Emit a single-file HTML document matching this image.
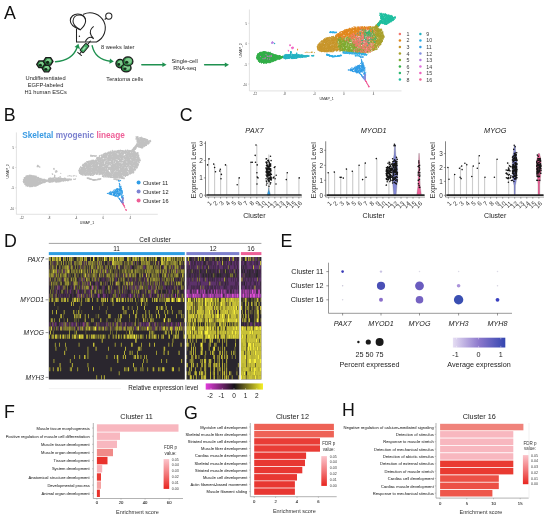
<!DOCTYPE html>
<html lang="en"><head><meta charset="utf-8"><title>Figure</title>
<style>html,body{margin:0;padding:0;background:#fff;overflow:hidden}svg{display:block}text{font-family:"Liberation Sans", Arial, sans-serif;}</style></head>
<body>
<svg width="550" height="519" viewBox="0 0 550 519">
<rect width="550" height="519" fill="#fff"/>
<text x="4.0" y="19.1" font-size="17.8" fill="#111">A</text>
<text x="3.8" y="120.8" font-size="17.8" fill="#111">B</text>
<text x="179.7" y="121.3" font-size="17.8" fill="#111">C</text>
<text x="4.1" y="247.4" font-size="17.8" fill="#111">D</text>
<text x="280.5" y="247.3" font-size="17.8" fill="#111">E</text>
<text x="4.1" y="418.2" font-size="17.8" fill="#111">F</text>
<text x="184.1" y="418.5" font-size="17.8" fill="#111">G</text>
<text x="342.0" y="416.3" font-size="17.8" fill="#111">H</text>
<g fill="none" stroke="#222" stroke-width="1.05" stroke-linecap="round" stroke-linejoin="round">
<path d="M83.5 14.2 A15 15 0 1 1 96.5 41.9 L76.5 42.1 L76.5 29"/>
<path d="M80.2 29.8 C74 27.5 70.2 24.5 70.3 20.5 C70.4 16.5 73.8 14 77.8 14 C82.5 14 85.7 17 85.6 21 C85.5 24.5 83.2 27.3 80.2 29.8 Z" fill="#fff"/>
<path d="M80.2 29.8 C76 27.5 72.9 24.8 73 21 C73.1 17.2 75.8 14.9 79.2 14.9 C83 14.9 85.6 17.5 85.6 21"/>
<path d="M93.4 26.7 C90.5 29 89.8 32.5 91 35 C91.8 36.8 93.2 37.5 93.4 38.6 C91.8 37.2 89.5 37 88 38.2 C86.8 39.2 86 40.2 85.5 41.2"/>
<circle cx="108.8" cy="16.1" r="3.1" fill="#fff"/><path d="M105 19.2 L106.5 18.2"/>
</g>
<circle cx="79.4" cy="36.2" r="0.7" fill="#222"/>
<g transform="translate(84.5 48.1) rotate(-50)" stroke="#1e1e1e" stroke-width="0.95" stroke-linecap="round">
<path d="M4.6 0 H9.2 M-4.6 0 H-7.6 M-7.6 -2.5 V2.5" fill="none"/>
<rect x="-4.6" y="-2.2" width="9.2" height="4.4" rx="0.7" fill="#43ad64"/>
<rect x="-2.4" y="-0.9" width="3.8" height="1.6" fill="#97dba9" stroke="none"/>
</g>
<g fill="none" stroke="#1f9150" stroke-width="1.4" stroke-linecap="round">
<path d="M55.5 61.7 C66 61 74 56 77.2 47.2"/>
<path d="M92.2 45.8 C94 54 100 60 110.5 61.2"/>
<path d="M141.8 64.7 H163.5"/>
<path d="M204.6 64.8 H226"/>
</g>
<g fill="#1f9150">
<path d="M78.4 43.8 L80.0 48.9 L74.6 47.1 Z"/>
<path d="M113.8 61.6 L109.4 63.8 L110.0 58.6 Z"/>
<path d="M166.6 64.7 L162.4 67.1 L162.4 62.3 Z"/>
<path d="M229 64.8 L224.8 67.2 L224.8 62.4 Z"/>
</g>
<path d="M45.3 64.3 L43.1 67.7 L38.9 67.7 L36.7 64.3 L38.9 60.9 L43.1 60.9 Z" fill="#318c48" stroke="#1a1a1a" stroke-width="1.3" stroke-linejoin="round"/>
<path d="M44.0 63.8 L42.7 65.7 L40.1 65.7 L38.8 63.8 L40.1 61.9 L42.7 61.9 Z" fill="#7fcc8e"/>
<ellipse cx="40.4" cy="65.2" rx="1.5" ry="1.4" fill="#122818"/>
<path d="M50.8 68.4 L48.6 71.8 L44.4 71.8 L42.2 68.4 L44.4 65.0 L48.6 65.0 Z" fill="#318c48" stroke="#1a1a1a" stroke-width="1.3" stroke-linejoin="round"/>
<path d="M49.5 67.9 L48.2 69.8 L45.6 69.8 L44.3 67.9 L45.6 66.0 L48.2 66.0 Z" fill="#7fcc8e"/>
<ellipse cx="45.9" cy="69.3" rx="1.5" ry="1.4" fill="#122818"/>
<path d="M53.0 61.4 L50.6 65.1 L45.8 65.1 L43.4 61.4 L45.8 57.7 L50.6 57.7 Z" fill="#318c48" stroke="#1a1a1a" stroke-width="1.3" stroke-linejoin="round"/>
<path d="M51.5 60.9 L50.0 63.1 L47.2 63.1 L45.7 60.9 L47.2 58.7 L50.0 58.7 Z" fill="#7fcc8e"/>
<ellipse cx="47.6" cy="62.3" rx="1.7" ry="1.6" fill="#122818"/>
<ellipse cx="120.0" cy="63.6" rx="4.1" ry="4.2" fill="#318c48" stroke="#1a1a1a" stroke-width="1.25"/>
<ellipse cx="120.6" cy="63.1" rx="2.7" ry="2.6" fill="#7fcc8e"/>
<ellipse cx="118.8" cy="64.4" rx="1.4" ry="1.4" fill="#16301d"/>
<ellipse cx="126.2" cy="68.0" rx="4.9" ry="3.9" fill="#318c48" stroke="#1a1a1a" stroke-width="1.25"/>
<ellipse cx="126.8" cy="67.5" rx="3.2" ry="2.4" fill="#7fcc8e"/>
<ellipse cx="125.0" cy="68.8" rx="1.6" ry="1.3" fill="#16301d"/>
<ellipse cx="127.9" cy="61.4" rx="5.0" ry="4.5" fill="#318c48" stroke="#1a1a1a" stroke-width="1.25"/>
<ellipse cx="128.5" cy="60.9" rx="3.3" ry="2.8" fill="#7fcc8e"/>
<ellipse cx="126.7" cy="62.199999999999996" rx="1.7" ry="1.5" fill="#16301d"/>
<text x="45.6" y="80.4" font-size="5.7" text-anchor="middle" fill="#262626">Undifferentiated</text>
<text x="45.6" y="87.4" font-size="5.7" text-anchor="middle" fill="#262626">EGFP-labeled</text>
<text x="45.6" y="94.4" font-size="5.7" text-anchor="middle" fill="#262626">H1 human ESCs</text>
<text x="117.7" y="49.0" font-size="5.7" text-anchor="middle" fill="#262626">8 weeks later</text>
<text x="124.7" y="80.6" font-size="5.7" text-anchor="middle" fill="#262626">Teratoma cells</text>
<text x="184.7" y="63.4" font-size="5.7" text-anchor="middle" fill="#262626">Single-cell</text>
<text x="184.7" y="70.0" font-size="5.7" text-anchor="middle" fill="#262626">RNA-seq</text>
<g stroke="#c4c4c4" stroke-width="0.5" fill="none">
<path d="M249.4 9.5 V90.9 H401.5"/>
<path d="M248.2 23.3 H249.4"/>
<path d="M248.2 43.6 H249.4"/>
<path d="M248.2 63.9 H249.4"/>
<path d="M248.2 84.2 H249.4"/>
<path d="M255.1 90.9 V92.1"/>
<path d="M284.7 90.9 V92.1"/>
<path d="M314.3 90.9 V92.1"/>
<path d="M343.9 90.9 V92.1"/>
<path d="M373.5 90.9 V92.1"/>
</g>
<text x="247.2" y="24.9" font-size="2.9" text-anchor="end" fill="#4a4a4a">5</text>
<text x="247.2" y="45.2" font-size="2.9" text-anchor="end" fill="#4a4a4a">0</text>
<text x="247.2" y="65.5" font-size="2.9" text-anchor="end" fill="#4a4a4a">-5</text>
<text x="247.2" y="85.8" font-size="2.9" text-anchor="end" fill="#4a4a4a">-10</text>
<text x="255.1" y="95.4" font-size="2.9" text-anchor="middle" fill="#4a4a4a">-12</text>
<text x="284.7" y="95.4" font-size="2.9" text-anchor="middle" fill="#4a4a4a">-8</text>
<text x="314.3" y="95.4" font-size="2.9" text-anchor="middle" fill="#4a4a4a">-4</text>
<text x="343.9" y="95.4" font-size="2.9" text-anchor="middle" fill="#4a4a4a">0</text>
<text x="373.5" y="95.4" font-size="2.9" text-anchor="middle" fill="#4a4a4a">4</text>
<text x="326.6" y="100.2" font-size="3.6" text-anchor="middle" fill="#2a2a2a">UMAP_1</text>
<text x="0.0" y="0.0" font-size="3.6" text-anchor="middle" fill="#2a2a2a" transform="translate(242.4 50.4) rotate(-90)">UMAP_2</text>
<path d="M265.2 61.7h0M278.1 57h0M264.8 55.3h0M263.7 57.1h0M269.3 58.1h0M262.8 54.1h0M257.6 57.1h0M269.4 62h0M273.1 57.4h0M270.4 54.9h0M264.1 61.4h0M271.2 61h0M273.9 59.7h0M259.5 58h0M270.6 61.7h0M266.4 58.6h0M257.7 56.4h0M265.6 53.3h0M278.7 56.1h0M273.5 59.1h0M268.6 54.3h0M267.1 52.6h0M274.8 55.1h0M260.2 61.6h0M262 62.4h0M271.8 53.8h0M272 56.1h0M267.2 54.8h0M268.9 58.2h0M265.3 60.6h0M257.3 55.7h0M268.5 57.7h0M272.6 59.5h0M266.5 57.9h0M268 60.5h0M256.9 58.9h0M278.6 57.7h0M262 56.2h0M261.4 55.7h0M265.9 54.4h0M282.7 56.9h0M283.1 57.3h0M270.8 62.4h0M276.6 58h0M268.3 61.2h0M267.1 62.1h0M258.3 56.5h0M263.3 61h0M274.9 59.7h0M265.5 56.4h0M262.4 52.6h0M262.6 61.2h0M272.7 57.1h0M272.8 58.7h0M265.4 62.8h0M269.1 58.9h0M258.2 56.2h0M280.6 57.5h0M263 54.4h0M261.7 57.9h0M258.1 58.1h0M261.6 59.7h0M281.8 57.9h0M279 59.2h0M265.4 55.4h0M260.3 58.4h0M260.3 60.5h0M272.1 58.9h0M274.4 59.2h0M265.7 59.7h0M267.4 54.2h0M269.2 59.3h0M259.7 56.2h0M260.6 59.3h0M279.4 56.1h0M267.3 57.7h0M262.8 54.7h0M265.6 56.8h0M259 59.9h0M271.9 55.4h0M258.3 60.9h0M260.1 53.3h0M260.2 52.8h0M264.8 61.1h0M268.4 62.1h0M267.1 60.2h0M259.4 60h0M274.4 56.1h0M258.6 57.5h0M264.1 58.2h0M260.1 54.1h0M278.4 58.5h0M277.5 56.1h0M276.3 56.5h0M266.7 56.2h0M271.3 56.2h0M271.8 60.2h0M267 61.3h0M260.4 60.4h0M260.3 53h0M272.2 56.9h0M265.5 55h0M276.2 57.2h0M263.2 55.6h0M262.7 52.8h0M257.7 57.2h0M260.5 53.8h0M279.7 57.1h0M261.3 59.5h0M264.3 57.7h0M264.6 57.3h0M273.7 58.5h0M266.9 61.1h0M260.7 52.4h0M262.4 62.5h0M262.5 57.4h0M270.1 62.4h0M257.8 55.4h0M262.9 57.4h0M274.9 60.6h0M264.7 53.4h0M265.7 62.5h0M260.2 57.7h0M271.8 60.6h0M264.5 60.6h0M275.8 58.9h0M283 56.6h0M267.5 59.3h0M271.3 60.5h0M258.4 60.3h0M269.4 56.4h0M276.2 57.6h0M272 58.3h0M269.1 58.8h0M272.2 54h0M262 61h0M261.8 57h0M276.8 59.4h0M272.1 61.3h0M269.2 59.2h0M274.4 56h0M272.6 56h0M276.7 55.7h0M269.3 59.9h0M270.3 55.9h0M279.1 56h0M269.2 59.6h0M257.8 56.1h0M280 58.3h0M271.8 59.3h0M274.7 58.2h0M268.1 53.8h0M264.2 54.8h0M266 56.8h0M266.7 58.4h0M266.6 54.8h0M280.2 56.5h0M270 53.5h0M267.7 60.8h0M279.2 56.7h0M277.5 56.8h0M266.4 57.5h0M262.2 55.4h0M258.4 60.6h0M278.8 56.9h0M258.3 59.5h0M263.2 58.8h0M267.4 58.4h0M263.7 57.3h0M270.9 58.6h0M262.1 62.5h0M264.1 55.2h0M263.4 52.3h0M268.3 60.2h0M260.4 55.2h0M277.5 57.3h0M273.5 60.2h0M276.7 55.4h0M263.6 56.9h0M270.2 53.2h0M268.6 58.5h0M259.6 53h0M261.1 54.5h0M261 53.7h0M268.8 53.1h0M264.6 60.8h0M261.5 58.9h0M267.4 56.9h0M274.1 58.1h0M259.7 55.1h0M273.6 58.8h0M274.8 58.3h0M265.9 57.8h0M275.5 57.2h0M265.6 52.6h0M260.4 53.7h0M264.7 56.7h0M279.5 55.9h0M263.1 52.9h0M262.5 54.3h0M272.1 61.8h0M259.2 54.8h0M277.1 59h0M265.1 59h0M268.7 61.8h0M264.3 60.4h0M273.3 59.9h0M267 59.8h0M275.4 56.3h0M269.3 61.9h0M268 55.1h0M265 52.1h0M262.1 55h0M261 52.2h0M269.4 54h0M264.1 57.9h0M260.1 62.1h0M269.5 60.2h0M258.6 58.5h0M256.5 58h0M266.1 60.9h0M258.4 55.2h0M278.6 56.6h0M265.3 52.3h0M267.4 53.7h0M258.5 58.3h0M274.3 55.3h0M271.8 60h0M272.8 61.1h0M271.3 53.5h0M272.7 56.8h0M261.1 58.5h0M270.8 60.1h0M267.4 55.2h0M267.4 57.8h0M275.5 58.4h0M259.3 60.7h0M263.8 53.6h0M257.8 55.4h0M261.8 56.9h0M261.4 57.6h0M270.7 59.8h0M268.5 52.8h0M266 63.2h0M269.6 59.3h0M270 53.8h0M259.7 54.7h0M258.5 54.4h0M259.7 56.5h0M266.5 58.4h0M264 52.2h0M265.4 59.7h0M263.8 56.1h0M276.7 55.9h0M265.1 59.8h0M263.6 53.2h0M268.8 58.4h0M275.7 56.5h0M258.8 55.7h0M259.3 57.8h0M268.7 58.2h0M276.7 59.2h0M278.6 55.9h0M268.8 62.7h0M282.6 56.3h0M266.7 60.4h0M269.7 56.9h0M266.8 56.7h0M277.3 57.9h0M262.4 54.5h0M264.2 55.4h0M277.2 55.8h0M265.2 58.6h0M261.4 52.7h0M275.3 60.6h0M264.2 58.9h0M257.3 56.7h0M272.3 54.5h0M266.3 58.7h0M263.3 54.4h0M270.9 59.1h0M276 55.7h0M257.6 57.6h0M258.9 54h0M265.8 52.5h0M268.2 53.7h0M263.4 63h0M259 55.4h0M261.2 61.7h0M265.6 55.1h0M259.3 60.8h0M274.8 57.4h0M263.6 58.6h0M273.9 57.5h0M278.1 56.5h0M263.2 61.7h0M267.3 55h0M268.7 53.9h0M275.8 57.5h0M265.2 54.6h0M281.8 57.6h0M258.4 57.9h0M270 57h0M260.2 53.4h0M267.8 61.4h0M274 59.7h0M272.4 54h0M268.1 59.6h0M258.4 54.3h0M257 57.9h0M266.5 57.7h0M264.6 59.2h0M261.4 62.6h0M282.6 57.2h0M269.7 61.3h0M264.3 60.4h0M264.7 60h0M265.8 58.6h0M278.4 57.6h0M266.6 55.8h0M258.5 55.1h0M273.2 57.5h0M261.7 58h0M264.1 53.4h0M260.5 60.8h0M260.5 53.2h0M272.3 56h0M268.3 54h0M274.4 55.3h0M267.5 56.8h0M275.9 54.8h0M280.8 56.8h0M270.1 61.8h0M257.2 55.4h0M261.1 54.1h0M258.4 56.9h0M273 55.2h0M259.7 60.8h0M277.8 58.2h0M260.4 57.7h0M273.5 56.7h0M279.8 56.2h0M270.4 52.3h0M271.8 60.3h0M267.8 56.5h0M273.8 60h0M270.9 61.7h0M268.8 56.8h0M264.6 62.1h0M264.9 59.6h0M267.8 62.4h0M258.8 57.1h0M257.9 57.9h0M261.6 55.3h0M264.8 58.2h0M265.9 58.6h0M265.1 60.8h0M264.3 62.2h0M276.9 57h0M260.3 57.4h0M264.8 58.5h0M258.2 59.1h0M284.1 56.6h0M280.3 58h0M263.8 55.2h0M272.6 59.1h0M262.1 55.9h0M278.8 58h0M270.5 60.5h0M274.3 55.1h0M258.6 57.2h0M281 58.6h0M257.6 57.1h0M266.9 57.4h0M265.7 56.5h0M275.8 57.4h0M278.9 57.3h0M259.5 60.8h0M264.7 61.6h0M272.8 57.3h0M259.1 60.1h0M259.5 61.7h0M269.7 53h0M269.4 54.5h0M267.3 59.2h0M260.9 57.2h0M259.1 57.4h0M281.6 56.6h0M263.8 58.4h0M265.1 62.5h0M259 53.8h0M258.8 59.7h0M264.4 62h0M263.9 51.6h0M267.1 62.2h0M266.3 53.2h0M272 57.8h0M266.3 55.1h0M280.7 58.1h0M274.4 60.3h0M270 60.6h0M274 58.9h0M257.5 54.4h0M267.4 57.9h0M276.5 55.5h0M258.8 60.2h0M268.9 57.9h0M275.3 56.2h0M276.6 56.4h0M267.6 55.3h0M269.9 54.8h0M264.3 53.5h0M269.1 55.4h0M265.8 58.9h0M272.1 56.8h0M265.5 59.9h0M263.3 57.3h0M258.4 60.9h0M265 59.1h0M258.8 59.2h0M272.4 58.8h0M268.8 53.8h0M276 57.1h0M276.3 55.9h0M258.8 57.6h0M275.7 55.8h0M265.1 57.1h0M271 60.4h0M273.3 59.4h0M266.9 59.7h0M265.8 57.9h0M269.4 57.8h0M257.1 57h0M262.2 55.9h0M258.8 59.4h0M259.3 58.9h0M259.9 61.9h0M260 56h0M269.8 53h0M265.3 54.9h0M266.2 61.2h0M260.3 58.5h0M268.4 55.3h0M259.6 55.6h0M266.6 58.4h0M275.5 57.4h0M274.6 59h0M269 54.2h0M267.1 60.1h0M261.6 53.4h0M269 54.8h0M276.6 59.4h0M275.1 57.8h0M265.2 55.6h0M261 57.1h0M266.6 56.6h0M262.3 57.3h0M258.9 56.1h0M270 60.8h0M268.1 55.7h0M270.3 53.6h0M265.2 55.7h0M263.2 62h0M268.6 54h0M259.5 52.7h0M266 56.7h0M281.8 57.7h0M260.4 57.9h0M261.9 53.4h0M273.9 56.9h0M263.4 60.4h0M269.9 58h0M268.6 59.1h0M258.8 57.4h0M263.1 52.7h0M261.8 54.7h0M265 55.8h0M268.5 55.3h0M267.7 60.8h0M258.8 54.6h0M269.6 59.4h0M274.3 60.2h0M259.1 53.3h0M265.3 54.9h0M264.8 60.9h0M266.5 55.4h0M266.1 53.6h0M279.9 59.2h0M266.1 60.9h0M267.4 58.9h0M275.2 56.5h0M261.4 62.9h0M269.5 59.7h0M262.6 53.1h0M262.1 54.1h0M267.5 55.2h0M266.5 60.7h0M279 57.8h0M268.6 54.4h0M271 54h0M265.4 51.9h0M269.8 61.4h0M269.2 55.1h0M269.6 55.2h0M260.4 54h0M266.8 57h0M274.8 54.9h0M258.8 55h0M265.3 60.2h0M274 58.3h0M262.9 61.6h0M277.1 57.8h0M260.6 54.1h0M266.3 55.4h0M258 56h0M268.9 54.7h0M266.9 55.4h0M266.6 59.2h0M269.9 54h0M277.8 57.4h0M268.9 59.7h0M263.4 53.1h0M274.9 60.2h0M263.8 56.8h0M262 58.3h0M266.1 59.4h0M270.8 59.5h0M263.3 59.8h0M276.2 59.7h0M272.4 54.9h0M267.7 57.6h0M271 54.3h0M263.8 55.4h0M278 56.3h0M257.3 56.8h0M271.9 55.6h0M267.5 56.1h0M261.2 59.7h0M262.4 57.1h0M275.5 56.2h0M268.9 61.6h0M264 62.8h0M262.7 52.5h0M268 59h0M260.4 61.5h0M262.2 60.5h0M260.9 62.2h0M261.7 59.9h0M258.9 58.2h0M269.9 57h0M277.7 56.8h0M270.3 57.2h0M268.9 56.7h0M261 55.1h0M263.8 54.5h0M262.3 57.5h0M265.4 54.9h0M267 57.3h0M279.2 56.5h0M268.9 56.7h0M263 62.5h0M258.9 53.8h0M274.8 58.7h0M263.8 62.5h0M267.5 58.2h0M258.8 55.7h0M263 51.9h0M265.5 53.7h0M256.9 57.3h0M274.8 55.4h0M265.6 61.4h0M265.9 61.9h0M272.1 55.7h0M261.6 52.4h0M266.5 63h0M262.9 56.2h0M265 61h0M272.1 58.3h0M275.7 55.5h0M267.4 54.4h0M264.3 53.6h0M266.3 59.7h0M269.7 54.9h0M266.3 62.8h0M266.5 58.9h0M263.8 57.5h0M262 52.3h0M268.6 59.6h0M264.2 61.1h0M265.8 56.9h0M269.2 62.2h0M267.2 60.4h0M274.2 55.2h0M271.1 58.4h0M271.3 53.4h0M278.5 57h0M265.9 56.7h0M262.9 55.2h0M259.2 60.3h0M268.2 58h0M264.5 55.4h0M277 57h0M272.2 56.6h0M263.5 56.9h0M282.5 57.3h0M263.5 60.2h0M279.1 59.3h0M271.2 60.6h0M273 56h0M272.3 58.3h0M258.5 60.4h0M268.7 60.5h0M264.7 56.6h0M264.5 57.5h0M264.8 58.2h0M277 58.5h0M267 60.7h0M281.2 57.6h0M260.5 60.4h0M265.1 58.7h0M270.6 53.1h0M260.4 54.3h0M280.4 57h0M266.9 57h0M261.5 56.7h0M262.6 53.8h0M266.5 52.3h0M269.3 59.9h0M281 56.8h0M272.7 57.5h0M263 53.9h0M263.5 62.8h0M271.7 60.1h0M277.5 56.4h0M262.6 61.7h0M263.3 57.1h0M271.9 57.6h0M275.4 58.4h0M265.7 52.7h0M261.8 60.6h0M273.3 61.2h0M267.1 62.8h0M272.4 57.6h0M278.8 58.3h0M273 55.5h0M269.5 54.8h0M265.1 58.1h0M262.5 53.7h0M267.8 60.3h0M266.4 54h0M261.3 55.8h0M277.7 59.1h0M276.3 59.3h0M265.5 61.2h0M261.9 56.7h0M259.2 58.9h0M259.3 53.7h0M277.2 57.2h0M274.3 59.9h0M273.1 54.3h0M264.2 56.6h0M259.5 53.1h0M273.7 60h0M266.5 55.8h0M261.9 57.7h0M273.7 54.7h0M259.3 57.2h0M276.4 59.9h0M259.9 57.6h0M275.2 55.3h0M273.5 57.7h0M279.3 58.2h0M272.5 57.5h0M276.7 55.5h0M269.8 57.3h0M261 61.6h0M268.4 53h0M269.6 61.7h0M270.2 58.9h0M266.6 53h0M273.2 57.2h0M266.1 54.1h0M275.4 55.5h0M272.2 54.3h0M277.3 55.6h0M269.7 62.7h0M275.4 60.1h0M265.9 61.3h0M278.9 57.8h0M260 54.5h0M272.3 60.2h0M265.7 62.9h0M277 57.2h0M266.4 52.8h0M258.6 58h0M266.6 62.8h0M264.2 62.2h0M271.2 57.7h0M266.7 61.9h0M261.5 54h0M272.2 54.7h0M263.5 53h0M265.7 60.4h0M257.5 56.9h0M264.7 61.2h0M260.9 60.6h0M268.7 53.7h0M269.1 62.6h0M280.5 56.1h0M283.4 57.6h0M263.1 57.9h0M275 57.1h0M266.5 54.7h0M264.5 52.4h0M263.5 62.7h0M277.5 56h0M272.9 54.1h0M274.8 60.3h0M276.4 57.3h0M271.9 59.3h0M264 62h0M263.8 63.3h0M259.4 58h0M259.6 53.9h0M267.1 54.1h0M265.3 61.8h0M274.9 59.7h0M275.3 60.2h0M278 58.5h0M263.9 51.8h0M277 55.3h0M269.7 52.9h0M277.3 57.8h0M263.1 62.5h0M274.8 55.2h0M279.8 55.9h0M268.1 58.9h0M258.4 54.1h0M258.8 60.1h0M262.6 57.4h0M265 54.7h0M281.9 57.4h0M273.7 59.8h0M258.7 57.4h0M267.7 52.9h0M277.2 57.5h0M279.1 57.4h0M264.7 59h0M260.7 58.6h0M275.7 55.6h0M279 58.7h0M257.7 54.1h0M267.1 55h0M261.5 61.8h0M263.7 62.6h0M276.9 57h0M260.6 54.9h0M258.6 59.8h0M266.8 60h0M264.6 53.2h0M274.8 60h0M262 55.6h0M267.9 60.6h0M263.9 59.7h0M267.3 57.2h0M268.9 54.5h0M260.7 54.4h0M269.1 54h0M267.9 54.8h0M279.3 55.5h0M264.3 54.2h0M266.7 62.1h0M267.4 56.9h0M272.2 54.7h0M263.8 54.8h0M263.9 57.5h0M259.2 60.4h0M261.3 56.6h0M267.9 58h0M279.6 58.3h0M269 60h0M262.3 61.6h0M272.1 59.3h0M279.8 56.1h0M278.6 56.1h0M270.8 53.8h0M260.7 60.3h0M281.1 57.3h0M264 52.2h0M277.6 56.4h0M270.4 53.9h0M272.8 56.6h0M272.9 56.7h0M265.9 57.4h0M262.5 56.8h0M267.2 54.7h0M273.9 60.6h0M273 59.5h0M272.7 54.8h0M266.7 61h0M279.9 58.8h0M278.6 58.4h0M268.8 59.5h0M262.4 59.6h0M263.4 59.6h0M278.6 56.7h0M259.7 60.2h0M273.5 56.5h0M274.6 60.1h0M270.6 54.7h0M258.7 54.5h0M271.3 58.7h0M269 53.1h0M273.6 54.6h0M268 54.3h0M279.8 58.9h0M274.1 55.6h0M261.4 60.9h0M261.7 58.9h0M264.3 57.4h0M269.2 57.9h0M268.1 60.7h0M269.7 52.9h0M263.6 59.2h0M267 56.1h0M267.8 53.7h0M275 55.5h0M268.8 62.2h0M273.1 60.7h0M258.2 56.5h0M282.6 56.6h0M268 57.6h0M263.2 54.5h0M270.9 56.9h0M272.9 60.7h0M269.3 58.7h0M265.5 62.3h0M269.7 54.3h0M265.6 56.8h0M268.5 58.2h0M263.9 62.8h0M269.8 59.5h0M265.6 55.8h0M270.4 62.6h0M265.8 52.2h0M265.2 52.9h0M273.1 61.4h0M267.5 54.8h0M269.2 53.2h0M261.7 57.6h0M266 58.1h0M260 57.6h0M259.8 55.3h0M264.6 59.6h0M274.1 59.5h0M275.7 59.9h0M274.7 57.6h0M262.5 59.9h0M261.7 57.7h0M263.9 56.8h0M269.2 54.9h0M278.3 59h0M268.7 62.1h0M271.6 59.6h0M269.5 58.7h0M258.2 60.5h0M266 56.9h0M281.6 56.5h0M278.6 56.5h0M265.2 55.4h0M262.4 56.3h0M261.2 60.9h0M275.2 55.2h0M261.6 54.7h0M279.7 58.5h0M263 53.8h0M273.8 59.3h0M265.6 55.2h0M269.6 62.1h0M271.1 61.3h0M273.9 58.5h0M269.9 58.9h0M270.5 60.2h0M261.2 55.3h0M280 56.2h0M277.2 59.4h0M264.3 61.3h0M258.7 54.3h0M273.8 60.8h0M273.7 56.4h0M268.4 61.4h0M260.7 58.1h0M270.5 56.5h0M267.3 55.1h0M264.1 54.3h0M259.8 58.5h0M268.9 59.9h0M266.3 62.2h0M266.8 59.2h0M278.4 56.1h0M268.3 59.1h0M259.6 57.8h0M259.6 54.1h0M260.5 57.7h0M268.4 56h0M272 58.8h0M272.7 59.2h0M259.5 56.4h0M262.1 56.1h0M258.9 56.7h0M263 62h0M265.6 56.2h0M278.1 57.7h0M257.9 54.1h0M273 53.9h0M262.9 59.2h0M269.7 54.6h0M271.9 58.5h0M257.9 55.1h0M264.9 61.4h0M257.9 55.1h0M262.3 59.6h0M262.3 61.9h0M264.7 61.1h0M258.3 56.7h0M269.8 62.1h0M279.3 58.6h0M258 56.5h0M274.8 56.6h0M266 60.7h0M259.3 60.9h0M274.5 57h0M276.4 56.1h0M260.6 56.9h0M268.3 61h0M261.8 57.4h0M272.5 58.2h0M272.7 56.6h0M266 54.1h0M258.6 55.8h0M277.2 58.2h0M261.2 60.8h0M274.1 58.2h0M267.9 60.9h0M270.8 55.1h0M267.8 57.6h0M276.9 57.9h0M274.9 60.4h0M283.9 56.8h0M262.6 55.6h0M266.2 61.8h0M276.2 57.5h0M256.8 57.5h0M260 58.1h0M262.4 59.4h0M273.6 55.2h0M262.1 62.2h0M257.7 54.2h0M265.1 58.3h0M266.5 52.2h0M272.3 60h0M275.7 57.4h0M264.6 51.8h0M271.3 59.2h0M262.2 60.9h0M281.3 56.7h0M272.9 58.2h0M257.9 58.2h0M262.6 56.5h0M266.9 62.6h0M273.8 60.7h0M261.6 54.8h0M282.4 56.2h0M266.7 57.6h0M269.3 57.5h0M268.1 59.6h0M264.1 53.9h0M267.9 52.2h0M269.3 57.4h0M267.8 60.7h0M266.2 61.1h0M267.2 60.9h0M271.2 59.2h0M271.7 61.1h0M263.6 58.6h0M267.9 54.5h0M271.2 55.9h0M259.8 59.7h0M259.6 62.4h0M269.9 59h0M264.6 52.5h0M270.2 56.9h0M281.2 58h0M266.3 59.8h0M262.8 60.1h0M269.8 54.1h0M265.3 52.1h0M261.4 62.9h0M266.7 59.7h0M276.1 57h0M275.8 57.3h0M271.6 55.6h0M263.1 54.6h0M259.3 58.8h0M266.5 58.5h0M264.5 63.1h0M277.8 57.2h0M262.5 62.2h0M270.7 53.6h0M272.3 59.6h0M256.7 56.2h0M274.2 56.6h0M266.3 61.9h0M273.7 58.7h0M267.9 59.1h0M263.8 54.6h0M267.2 60.6h0M265.9 55.6h0M263.4 62.1h0M264.2 55.8h0M262.3 60.3h0M262 54.7h0M260.1 56.6h0M269.9 58.8h0M259.7 54.7h0M261.7 62.3h0M266.7 52.7h0M278.5 58.9h0M266.8 56h0M265.1 60.6h0M278.5 57.6h0M275.7 55.1h0M263.3 53.9h0M278.8 57h0M261.3 60.7h0M272 56.3h0M272 58.5h0M266 54h0M263.1 59.7h0M282.7 57.3h0M274.4 60.6h0M274.4 59.4h0M261 53.4h0M270.6 58h0M279.7 57.6h0M273.8 56.8h0M268.7 55.6h0M261 57.3h0M263.6 62.1h0M279.9 56.4h0M277.6 58.5h0M269.6 61h0M257.1 57.3h0M264.9 56.4h0M269.8 57.4h0M266 55.2h0M267.6 59.6h0M276.6 56.5h0M263.2 57.3h0M264.7 60.9h0M273.2 55.2h0M278.5 58.5h0M260.3 56.3h0M265 56.8h0M282.8 57h0M266.9 53.8h0M280.4 57.6h0M263 52.1h0M268.4 52.4h0M269.8 60.7h0M264.4 53.2h0M266.8 53.7h0M276.5 55.5h0M260 60.4h0M274.5 55.3h0M261.4 60.6h0M260.3 55.6h0M273.7 55.7h0M257.4 58.1h0M261.5 60.3h0M262.3 60h0M265.7 59.5h0M280.1 56.7h0M259.5 60.1h0M270.6 58.9h0M276.9 58.1h0M266.3 60.9h0M266.7 61.9h0M284 57.3h0M267.1 60.3h0M269.7 60.3h0M271.1 57.6h0M270.8 57.4h0M271.1 59.7h0M261.4 53.3h0M274.1 57.5h0M277.4 56.8h0M263.4 62h0M268.5 57h0M275.5 59.4h0M275.3 59h0M270.6 60.2h0M267.3 54.7h0M267.2 59.7h0M266.2 60.7h0M275.3 55.7h0M261.5 55.6h0M269.4 61.7h0M271.6 58.6h0M266.2 61.1h0M271.5 58.9h0M263.6 60.6h0M262.7 53.4h0M272.7 61.2h0M265.3 55.4h0M261 58.5h0M271.3 58.5h0M259.6 58.1h0M264.3 54.2h0M266.4 58.8h0M267.9 61.9h0M268.5 60.3h0M262.5 53.7h0M265.4 54.1h0M263.5 57.5h0M260.9 56.5h0M257.3 59.3h0M272.6 54.8h0M259.8 55.7h0M257.5 56.1h0M267.1 57.9h0M265 54.6h0M265.6 57.1h0M263.8 59.8h0M259.5 55.3h0M268 54.9h0M268.1 57.4h0M263.5 53.3h0M263.7 52.6h0M280.4 58.5h0M275.5 59.3h0M263.5 52.4h0M260.2 56.8h0M267 53.7h0M258.3 59.4h0M264.6 55h0M271.8 58.5h0M267.9 61.5h0M267.4 55.2h0M261.8 57.4h0M273.4 55h0M271.7 59.6h0M266.8 55h0M264.5 53.9h0M271.9 56.3h0M271.8 60.6h0M269.8 53.9h0M259.7 58.9h0M273.1 54.6h0M258.9 60.8h0M264.9 56.8h0M260.5 55h0M260.1 54.6h0M272.1 55.4h0M266.2 57.7h0M273.4 56h0M268.4 58.8h0M269.3 55.1h0M268.1 56.2h0M264.7 58.4h0M270.2 56.4h0M273.4 55.7h0M278.7 56.5h0M267.3 61.6h0M270.2 60.7h0M259.5 58.1h0M260 55.1h0M266 55h0M268.3 61.5h0M270.2 58.3h0M274.1 59h0M268.5 53h0M264.8 54.2h0M265.5 57h0M264.8 55.6h0M269.9 59.9h0M267.7 62.3h0M267.2 61.6h0M266.5 55.6h0M269.1 60.4h0M269.3 56h0M275.9 54.8h0M275.9 56.1h0M269.9 53.7h0M261.9 61.4h0M272 56.4h0M257.4 58.9h0M264.2 55h0M269.8 58.7h0M268.9 60.5h0M262.6 58.2h0M267.9 55.2h0M270 59.8h0M261.1 61.9h0M263.3 59.5h0M262.1 58.5h0M268.1 52.6h0M261.9 57.8h0M267.4 60.7h0M269.4 62.3h0M277.1 56.8h0M266.5 54.4h0M264.2 55.3h0M266.4 54h0M269.1 52.9h0M279.9 57.6h0M258.8 55.5h0M263.4 53.3h0M268.9 54.3h0M260.4 59.7h0M267.9 59.5h0M268.9 57.5h0M265 56.8h0M269.3 55.4h0M262.5 56.2h0M271.5 55.9h0M263 59.4h0M276 56.2h0M260.6 58.7h0M262.1 55.8h0M260.1 52.4h0M257.6 59h0M257.6 58.1h0M260 59.5h0M265.7 59.3h0M263.6 52.5h0M261.2 55h0M261.4 54.3h0M271.3 56.9h0M279.2 57.9h0M271.6 59.8h0M279.8 58.4h0M257.7 56.8h0M257.7 58.4h0M258.1 58h0M260.5 61.4h0M258.6 59.4h0M272.7 55.4h0M263.8 54.7h0M258.3 54.5h0M258.8 61.1h0M271.5 56.9h0M272.4 60.7h0M273.8 57.5h0M264.8 58h0M269.8 61.6h0M257.2 58.3h0M261.1 58.6h0M271.5 55.7h0M265.7 56.3h0M263.8 56h0M261 55.1h0M261.7 62h0M263.3 52.9h0M274.3 59.7h0M280.9 56.9h0M265.3 55.1h0M262.2 58.2h0M267.1 56.1h0M258.1 58.9h0M264.1 62h0M276.4 59.4h0M261.9 55h0M270.9 53.9h0M277.6 58h0M259.6 55.5h0M266.4 53.4h0M264.7 54h0M260.5 55.8h0M263.4 58.1h0M261.4 58.4h0M271.2 53.5h0M266.2 55.3h0M271.2 58h0M265.3 62.1h0M265.9 55.5h0M275.3 57.2h0M260.7 59.9h0M267.1 61h0M263.1 54.7h0M259.7 54.3h0M271.8 61.8h0M273.2 59.9h0M280 58.2h0M262.4 53.4h0M265.7 53.3h0M277.1 57.9h0M272.2 56.6h0M260 57.1h0M281.4 57.8h0M269.3 58.9h0M271.1 58.8h0M262.2 53.3h0M272.7 57.5h0M260 53.6h0M270 55.2h0M269.2 59.6h0M265.2 59.1h0M257 57.8h0M263 55.1h0M268.7 57.5h0M278.9 57.2h0M258.2 59.5h0M262.8 61.7h0M262.3 55h0M260.1 54.8h0M272.2 54.8h0M258.3 58.1h0M268.2 52.4h0M257.1 55.7h0M264.3 61.6h0M275.8 56.5h0M270.1 53.8h0M263.6 52.3h0M260.4 60.1h0M268.9 57.2h0M264.4 53.4h0M265.3 60.8h0M264.5 62.4h0M261.4 57.9h0M271 57.1h0M271.9 61h0M257.5 57.4h0M268.3 56.4h0M271.3 58.7h0M274.1 54.8h0M260.8 52.5h0M263.7 53.2h0M275.1 59.2h0M273.2 55.7h0M269.4 54.8h0M265 58.3h0M261.9 60.8h0M269.6 56.4h0M257.8 54.8h0M272.2 54.9h0M257.1 57.8h0M264.7 61.4h0M275.4 60h0M265.8 58.4h0M263.8 53.7h0M262.1 53.9h0M263.7 54.5h0M258.1 56.8h0M261.9 60.1h0M262.5 58h0M262 56.6h0M271 56.2h0M275 56.4h0M269.6 58h0M266.2 57.1h0M271 59.5h0M268.1 55.3h0M266.7 56h0M258.6 54h0M264.7 61.5h0M258.9 61.3h0M269.1 62.1h0M270 54h0M268.5 52.4h0M267 56.2h0M282.8 57.7h0M262.1 62.5h0M269.8 56.6h0M266.8 61.7h0M259.8 54h0M264 51.9h0M279.4 57.8h0M270.5 54.8h0M271 57.5h0M265.1 54.4h0M266.1 60h0M263.3 55.6h0M259.7 55.5h0M266.9 59.4h0M267.7 53.5h0M268.8 59h0M260.6 57.7h0M268.9 53.9h0M260.1 57.2h0M268.5 58.9h0M265.6 57.4h0M275.5 57.4h0M260 62.2h0M264.3 56.5h0M259.1 58h0M278.4 56.5h0M279.7 56h0M264.1 53.1h0M276.7 57.1h0M258.8 55.3h0M268.1 57.8h0M263.8 56.7h0M266.3 52.8h0M258.6 60.6h0M259.2 55h0M261.3 52.9h0M265.1 53h0M259.9 56.2h0M268.3 55.1h0M273.5 55.6h0M264.5 54.7h0M260.2 54.9h0M259.2 60.6h0M264.7 60.3h0M272.7 59.8h0M271.7 57.4h0M258.1 55.3h0M271.6 54h0M261.7 56.3h0M267.7 54.3h0M257.8 57.5h0M263.4 55.9h0M263.9 59.6h0M271.8 57.2h0M264.9 55.3h0M259 59.4h0M262.1 56.7h0M264.9 62.2h0M272 58.1h0M262.6 59.3h0M266.5 58.9h0M267.3 53h0M264.5 52.5h0M264.8 55.8h0M260.9 54.9h0M264.3 61.3h0M268.8 60.5h0M258.5 57.4h0M264.2 54.1h0M274.1 58.7h0M261.9 57.8h0M268.7 61.4h0M258.9 54.4h0M265.8 60.5h0M264.1 62h0M258.6 57.1h0M273.8 57.8h0M273.2 56.4h0M268.3 54.6h0M260.2 55.5h0M266.5 52.4h0M271.3 58.8h0M261.8 54.8h0M276.5 55.8h0M265.8 59.9h0M264 57.7h0M267.6 59.3h0M262.4 61.1h0M264.8 55.6h0M281.8 56.5h0M266.8 62.3h0M264.7 52h0M259.3 58.6h0M266.8 61h0M270.9 59.1h0M266 58.2h0M276.3 56.2h0M269.8 61.3h0M277.2 55.9h0M279.5 57.9h0M267.7 56.3h0M274 56.7h0M275.8 57.4h0M273.3 55.3h0M280.2 56.3h0M270 57.6h0M265.7 57.4h0M265.5 59.3h0M263.2 59.3h0M259.1 58.5h0M275.2 60.6h0M259.9 61h0M262.9 60.1h0M268.5 61.2h0M264.4 55.4h0M274.1 58.3h0M265.2 52.8h0M276.8 59.9h0M264.1 51.9h0M263.9 54.2h0M265.7 52.3h0M262.3 56.4h0M267.8 52.8h0M263.3 59.1h0M268.1 57.9h0M276.6 59.3h0M264.3 52.4h0M270.8 58.8h0M263 51.8h0" stroke="#34AF4A" stroke-width="1.0" stroke-linecap="round" fill="none"/>
<path d="M262.9 58.7h0M267.7 56.3h0M269.3 55.9h0M267 56h0M267.4 58.9h0M271.3 56h0M269.7 59.2h0M271.1 55.6h0M266 54.4h0M271.1 56.5h0M269.9 56.8h0M260.4 56.6h0M265.2 58h0M268.1 56.4h0M265.2 58h0M264.1 58.7h0" stroke="#E070DC" stroke-width="1.0" stroke-linecap="round" fill="none"/>
<path d="M285.2 57.5h0M288.6 57.4h0M297.6 57.3h0M295.5 56.8h0M289.3 56.1h0M285.6 58.6h0M284 56.1h0M297.2 56.2h0M292.4 57.2h0M293.5 56.6h0M284.1 56.6h0M285.7 58.2h0M295.5 55.3h0M287.8 56.1h0M294.2 56.4h0M286.7 56.5h0M298 56.5h0M293.7 55.9h0M304.7 55.5h0M286.3 57.3h0M296.5 55.4h0M286.2 55.3h0M286.9 55.2h0M286.9 58.2h0M298.1 56.5h0M297.2 57h0M284.6 57h0M286.8 55.9h0M302.8 57.3h0M305.2 55.8h0M294.2 54.9h0M296.5 58.3h0M296.1 56.8h0M291.5 58.6h0M301.7 55.5h0M289 56.9h0M296.5 56.9h0M287.2 57.6h0M304.9 56.3h0M297.5 55.7h0M290.7 56.8h0M299.9 55.7h0M291.6 57.9h0M299.9 56.2h0M287.3 55.8h0M288.2 56.7h0M291.9 56.2h0M288.7 57h0M289.8 57.5h0M297.3 57.4h0M299.7 57h0M302.6 55.6h0M304.9 56.2h0M285 57.5h0M291.9 57.4h0M292.9 56.6h0M297.2 57.4h0M290.8 56.8h0M289.5 57.8h0M289.7 54.8h0M284.4 56.8h0M291 56.5h0M291.8 56.7h0M285 58.6h0M296.4 57.7h0M292.7 58h0M288 56.3h0M288.9 54.9h0M290.2 55.8h0M299.4 55.1h0M286.7 56.6h0M288.9 58.2h0M289.1 57.7h0M292.9 56.1h0M286.7 55.7h0M294 58.4h0M292 57.8h0M302.2 57.5h0M293.8 57h0M292.4 55.1h0M289.2 58.1h0M289.3 56.9h0M292.7 55.5h0M287.9 56.9h0M293.3 55.1h0M291.2 56.5h0M301.6 56.2h0M294.4 54.8h0M293.7 56.6h0M299.6 57.1h0M296.4 56.3h0M292.2 56.3h0M287.1 56.2h0M285.4 58.1h0M292.7 57.8h0M286.8 56.9h0M299.2 57.1h0M291.4 57.4h0M305.2 56.4h0M290.7 54.5h0M284.8 57.7h0M296.3 58.1h0M299.1 56.1h0M307.6 56h0M291.6 56.4h0M292.4 56.3h0M295.9 55.6h0M298.8 57h0M301.2 55.5h0M284.6 57h0M292.4 57.1h0M290.4 55.1h0M289.6 56.4h0M299.8 55.6h0M291.2 56.6h0M300.9 55.8h0M285.2 56.9h0M293.1 54.8h0M298.5 55.1h0M296.2 56.2h0M293.3 57.5h0M288.6 56.1h0M285.4 56.3h0M288.8 58.4h0M295.2 55.5h0M290.7 55.1h0M303.1 56.5h0M307.8 55.8h0M298.9 57h0M288.3 57.8h0M302.3 55.8h0M293.1 55.8h0M300.6 56.8h0M290.7 57.4h0M289.9 57.7h0M291.6 57.7h0M285.3 58h0M285.6 56.4h0M293.5 55.5h0M297.4 56.5h0M288.7 55h0M290.5 55.9h0M287.5 56.2h0M290 55.7h0M303.1 55.7h0M293.6 55.5h0M292.4 55.5h0M298.1 57.7h0M308 56.4h0M292.5 54.6h0M305 57.3h0M289.5 56.5h0M295.4 58.3h0M289.5 56.3h0M294.9 55.2h0M287.3 56.1h0M294.9 56.9h0M286 58.8h0M294.3 58h0M292.3 57.6h0M296.2 55.7h0M298.4 54.8h0M293.7 57.4h0M285.9 58.2h0M284 57.6h0M285.8 57h0M286.3 57.7h0M289.6 54.7h0M288.3 58.1h0M284.2 57.3h0M299.6 56.1h0M293 55.8h0M295.4 56.3h0M296.9 55.6h0M286.1 55.1h0M287.1 58.7h0M290.7 57.5h0M283.9 57.5h0M302.7 55.7h0M289.5 57.2h0M301.8 56h0M300.6 55.1h0M290.2 55.5h0M302.2 56.1h0M289.4 55.6h0M292.4 54.8h0M295.5 57.2h0M297.1 55.4h0M295.4 54.7h0M301.9 56.7h0M304.2 56.8h0M299.8 57h0M303 55.2h0M297.8 55.1h0M287.4 58.4h0M302.4 56.2h0M292 56.4h0M290.1 55h0M301.9 56.4h0M288.9 56.9h0M308.4 56.5h0M289 56.8h0M288.3 55.5h0M302.1 55.5h0M294.5 56.9h0M287.4 55.3h0M296.4 54.9h0M289.8 54.7h0M297.1 56.1h0M287.6 54.6h0M298.1 55h0M284.3 54.9h0M296.5 55.5h0M291.5 56.5h0M285.9 56.6h0M295.1 54.2h0M287.7 56.4h0M297.4 55.4h0M299.2 55.4h0M305.4 55.7h0M297.3 56.6h0M287.9 58.3h0M288.7 55.2h0M286.4 58.5h0M296.7 56.9h0M293 57.8h0M301.5 57h0M291.8 55.9h0M288.3 58.1h0M297 57.4h0M300 56h0M284.7 58.5h0M293.2 55.4h0M286.7 57.8h0M305.9 55.6h0M298.1 56.3h0M297.3 55.4h0M293.1 56.2h0M298.3 55.7h0M298.8 55.7h0M286.3 55.9h0M297.5 56.4h0M293.7 57h0M298.1 55.4h0M286.3 57h0M297.3 56.2h0M301.4 56.6h0M303.5 55.5h0M291.8 58.4h0M285.1 58.3h0M285.4 57.7h0M298.1 54.8h0M291.7 56.3h0M297.6 56.2h0M292.3 57.5h0M288.2 58.4h0M296.5 56.8h0M289.1 55.3h0M289.1 57.3h0M291.1 54.4h0M286.1 56.2h0M298 56.3h0M285.1 56.6h0M291.7 57.7h0M295.7 57.8h0M299.1 55.3h0M294.8 58.5h0M293.2 57.9h0M287.5 57.9h0M294.8 55.5h0M288.4 58h0M296.4 55.8h0M287.4 54.9h0M289.3 56.3h0M284.2 55.6h0M294.4 58.3h0M288.9 54.8h0M290.1 56h0M306.9 56.2h0M288.9 56.6h0M286.3 55.1h0M286.3 55.6h0M288.1 55.6h0M301 57.2h0M284.2 57.9h0M289.2 57.5h0M297.6 57.6h0M299.7 55.7h0M296.9 54.7h0M301.7 56.8h0M297.7 57.1h0M292.8 57.5h0M290 58.6h0M306.4 56h0M295.1 54.8h0M299.7 56.9h0M300.8 55.5h0M293.1 55.5h0M284.9 57.9h0M291.8 58.4h0M291.8 56.5h0M303.7 56.8h0M305.6 56.6h0M302.3 56.7h0M295.7 54.9h0M293.5 56.1h0M292.9 57.4h0M288.1 55.3h0M292.4 54.3h0M292.6 55.7h0M286.4 56.8h0M297 57.4h0M296.7 56.5h0M295.5 56.7h0M302.2 57.3h0M292.6 57.3h0M296.6 55.5h0M302.4 55.9h0M286 55.7h0M301.1 55.2h0M307.6 56.5h0M300.9 56.4h0M292.4 55h0M294.7 55.7h0M285.3 54.7h0M284.8 56.6h0M293.3 55.6h0M294.3 57.8h0M297 55h0M293.5 57.4h0M303.2 56.5h0M288.7 54.8h0M294.9 56.1h0M295.8 56.5h0M286 56.2h0M289.5 56.7h0M296.9 58.2h0M291.8 54.6h0M293 58.4h0M294 55.6h0M303.2 57h0M286.7 55.5h0M302.4 55.9h0M285.3 58.7h0M304.1 56.6h0M284.8 57.2h0M302.1 55.3h0M302.1 55.8h0M294.1 54.5h0M287.3 56.7h0M287.6 56.5h0M291.6 56h0M292.6 56.9h0M290.8 57.3h0M295.7 55.7h0M294.6 57.3h0M290.9 57.5h0M297.3 57.6h0M304.8 55.7h0M300.5 57.7h0M298 55.7h0M298.1 54.9h0M302.3 56.8h0M299.5 55.2h0M293.6 57.1h0M294.1 58h0M286.2 56.1h0M286.7 58.2h0M293.8 57.1h0M285.9 55.6h0M283.8 57.2h0M294.4 55.3h0M298.9 55.4h0M288.3 54.6h0M287.8 55.2h0M292 54.9h0M285.8 54.8h0M294.6 57.2h0M285.4 55.2h0M284.1 56h0M289.2 57.8h0M294 55.8h0M302.8 56.7h0M299.2 54.9h0M294.5 57.8h0M306 57h0M294 56.5h0M285.4 56.4h0M289.7 57.5h0M286.4 55.9h0M302.8 55.9h0M288 55.5h0M290.8 57.5h0M291.2 56.8h0M290.1 55.3h0M292 58.1h0M289.5 57.4h0M306.1 55.7h0M307.6 56.5h0M300.7 56.9h0M295.3 58.3h0M306.1 56.7h0M291.6 58.4h0M301.3 55.9h0M288 56h0M295.5 57.8h0M301.3 56.7h0M285.6 58.4h0M302 55.4h0M291.7 58h0M288.8 55.6h0M289.9 57.2h0M284.9 55.6h0M298.9 56.2h0M302.2 55.3h0M299.1 55.4h0M288 57.3h0M299.4 56.7h0M292.8 57.3h0M307.1 55.3h0M284.6 55.4h0M303.7 55.5h0M302.1 54.7h0M298.4 55.9h0M297 55.6h0M298.2 56.9h0M301.2 55.8h0M283.8 58.3h0M286.5 56.1h0M284.7 57.2h0M286.1 56.7h0M303.3 56.6h0M300.8 56.7h0M286.8 58h0M289.2 55.2h0M286.7 55.1h0M294.1 55.1h0M287.9 56h0M283.7 56.8h0M286.2 54.8h0M286.3 58.1h0M304 56.4h0M293.4 56.5h0M292.5 58.1h0M299.2 57.5h0M308.4 55.7h0M289.3 56.4h0M304.6 56.9h0M293.5 58.2h0M289.7 58h0M288 56.4h0M300.5 55.1h0M291.9 56.7h0M306.1 57.1h0M285.9 55.6h0M298.5 56.8h0M295.6 56.1h0M295.5 54.7h0M293.6 54.7h0M307.8 56.2h0M283.6 57.1h0M289.7 55.8h0M302.6 57.3h0M284.4 55.9h0M286.4 55.7h0M283.9 57h0M289.8 56.4h0M291.7 57.2h0M296.4 57.8h0M290 57.2h0M292.9 58.7h0M298.4 56.7h0M289.8 58h0M285.4 58.8h0M297.3 57h0M288.7 57.1h0M287.5 58.2h0M291.4 57h0M300.7 56.2h0M286.7 58.4h0M306.7 55.8h0M284.3 55.9h0M286.8 55h0M297 56.6h0M299.9 56h0M285.4 57.5h0M292.8 58.3h0M286 57.8h0M291.7 57.9h0M286.6 58.1h0M297.4 57.3h0M304.7 56.2h0M294.1 58.4h0M286.1 54.4h0M289.5 57.2h0M292.4 54.3h0M289.8 55h0M294.7 56.1h0M293.4 57.9h0M293.6 54.5h0M308.2 55.9h0M298.9 56.1h0M306.9 56.1h0M285.5 56.8h0M285.7 57.5h0M301.4 54.7h0M286.4 55.1h0M306.7 56.1h0M286.3 57.3h0M295.3 56.2h0M289.2 57.7h0M292.9 56h0M284.8 55.6h0M302.7 55.8h0M307 55.6h0M303.7 55.8h0M302.9 56.3h0M289.3 55.8h0M290.2 55.6h0M289 55.6h0" stroke="#27B3C3" stroke-width="1.0" stroke-linecap="round" fill="none"/>
<path d="M290.3 53.9h0M291.1 52.3h0M290.8 52.3h0M290.9 52.7h0M290.7 51.9h0M290.6 52.8h0M290.9 52.2h0M291 51.7h0M291.1 52.1h0M290.9 52.9h0M290.8 53.7h0M290.9 52.8h0M290.7 52.4h0M290.8 52.4h0M290.9 53.4h0M290.7 52.3h0M290.6 53.6h0M290.4 54.2h0M290.7 51.7h0M290.9 51.8h0M290.7 53.3h0M290.8 53h0" stroke="#27B3C3" stroke-width="1.0" stroke-linecap="round" fill="none"/>
<path d="M296.9 54.1h0M296.8 54.7h0M296.7 53.2h0M296.7 54.8h0M296.2 54.7h0M296.6 54.8h0M296.8 53.4h0M296.5 54.1h0M296.8 53.1h0M296.5 54.2h0M296.8 54.1h0M296.5 53.5h0" stroke="#27B3C3" stroke-width="1.0" stroke-linecap="round" fill="none"/>
<path d="M311.6 55.8h0M313.8 55.8h0M312.1 55.7h0M313.7 55.6h0M313.7 55.3h0M312.8 55.8h0M313 56h0M312.7 55.8h0M311.5 55.6h0M313 55.8h0M312.9 55.6h0M313.3 55.6h0M309 55.6h0M309.2 56.2h0" stroke="#27B3C3" stroke-width="1.0" stroke-linecap="round" fill="none"/>
<path d="M273.5 42.6h0M272.6 42.3h0M273 42.6h0M272.6 41.8h0M271.8 43.1h0M271.7 43.2h0M271.7 42.6h0M272.8 43.2h0M272.7 43.2h0M272.2 41.9h0" stroke="#B57AE0" stroke-width="1.0" stroke-linecap="round" fill="none"/>
<path d="M274.5 43.3h0M274.5 43.6h0M274.3 43.6h0M274.8 43.5h0" stroke="#27B3C3" stroke-width="1.0" stroke-linecap="round" fill="none"/>
<path d="M292 47.6h0M293 47.1h0M293.2 48.2h0M292 48.4h0M292.2 48.2h0M292.4 47.1h0M293.1 47.5h0M293.4 47.8h0M291.5 47.5h0M292.8 47.8h0M292.2 48.9h0M292.2 48.1h0" stroke="#F062C0" stroke-width="1.0" stroke-linecap="round" fill="none"/>
<path d="M290.1 45h0M289.9 45.7h0M290.6 45.5h0M290.1 44.8h0M289.7 45.2h0" stroke="#F062C0" stroke-width="1.0" stroke-linecap="round" fill="none"/>
<path d="M288.6 51h0M288.1 50.3h0M288.7 50.6h0M288.7 50.9h0" stroke="#F062C0" stroke-width="1.0" stroke-linecap="round" fill="none"/>
<path d="M297.5 49.8h0M297.7 49.2h0M297.5 49.8h0" stroke="#E2871C" stroke-width="1.0" stroke-linecap="round" fill="none"/>
<path d="M311.4 52.4h0M306.7 52.2h0M311 52.4h0M305.2 52.6h0M314.4 52.6h0M307.8 52.3h0M311.8 52.1h0M312.7 52.2h0M309.1 52.6h0" stroke="#C8962B" stroke-width="1.0" stroke-linecap="round" fill="none"/>
<path d="M332.6 43.1h0M321.6 46.5h0M322.3 43.2h0M321.7 49.9h0M325.9 47h0M320.8 45.2h0M329.8 44.5h0M325.8 51.3h0M334.3 37.4h0M332.2 45h0M335.9 44.2h0M331.7 39.9h0M335.3 47.2h0M327.4 41.5h0M319.1 47.8h0M322 49.7h0M336.2 38.7h0M323.1 46.9h0M334.6 49.1h0M330.4 49.9h0M338.4 39.1h0M336.6 49.3h0M329.8 37.7h0M337.8 47.8h0M324.7 41h0M337.1 39.2h0M334.3 42.6h0M331.9 48.9h0M319.8 50.8h0M333.8 45.6h0M330.1 49.9h0M337.4 50.2h0M324.5 47.1h0M327.8 43.9h0M331.4 40.1h0M323.1 42h0M321.9 49.7h0M330.6 51.7h0M328.7 40.6h0M336.1 46.1h0M329.9 43.2h0M333.2 46.5h0M328.9 41.6h0M333.2 50.1h0M318.8 50.2h0M330 42.4h0M325.9 41.2h0M328.5 44.9h0M335.4 50.1h0M323.6 49.1h0M334.9 47h0M322 44.9h0M326 48.6h0M333.8 47.4h0M332.1 36.9h0M338.1 38.8h0M327.6 42.9h0M322.6 51.4h0M326.5 39.5h0M318.9 46.3h0M335.5 39.4h0M319.8 45.4h0M334.7 47.4h0M334.3 46.1h0M322.8 46.9h0M329.2 46h0M332.9 39.9h0M336.1 43.6h0M323.4 44.1h0M331.1 51.4h0M328.4 44.9h0M334.1 39.8h0M328.8 47.1h0M329.4 47.9h0M330.8 40.1h0M329.8 47.1h0M330.5 50.9h0M335.6 36.4h0M319.1 49.3h0M322.5 51.1h0M330.3 42.7h0M336.4 45.3h0M318.9 48h0M324.6 49.5h0M333.4 42.1h0M334.8 44.6h0M331.6 39.8h0M328.1 39.7h0M323.3 45.2h0M335.4 47.3h0M323.2 42h0M328 50.9h0M321 48.1h0M319.5 49.7h0M325.3 46.4h0M323.8 48.6h0M334.2 42.3h0M328.4 49.5h0M332.9 44.8h0M325.2 51.1h0M319.2 43.5h0M329.9 50.7h0M330 47.1h0M326.3 48.3h0M334.7 39.3h0M328.3 40.3h0M329.8 45.2h0M325.5 44.7h0M332.1 48.1h0M327 46.5h0M321.6 47.2h0M326.6 46h0M331.3 42.8h0M321.4 50.9h0M335.2 42.3h0M324.9 49.5h0M333 40.5h0M334.5 41.2h0M335.7 37.5h0M336.8 41.7h0M336.9 39.6h0M325.1 40.2h0M329.4 39.8h0M331.3 46.8h0M333.5 42.7h0M326.2 40.4h0M326.9 43.8h0M323.1 44.3h0M321.4 42h0M323.5 44.2h0M325 47.9h0M330.9 47.4h0M335 40.6h0M324.1 46.2h0M331 47.3h0M331.3 49.8h0M335.7 36.8h0M325.3 44h0M330.1 48.3h0M326.1 51.9h0M333.2 41.5h0M337.7 43.3h0M327.5 47.8h0M323.6 51.2h0M321.9 51.3h0M331.3 47.8h0M325 44.2h0M324.1 44.4h0M335 48.5h0M335 42.1h0M323.3 45.5h0M337.6 47.6h0M322.4 48.6h0M336.3 47.4h0M332.4 46.8h0M329.3 41.7h0M332.4 42.3h0M320.6 50.6h0M336.4 37.6h0M334.5 45.8h0M324.2 40.6h0M320.1 42.8h0M321.3 46.4h0M337.2 40.9h0M323.2 44.2h0M321.3 49.1h0M327.3 48.4h0M335.4 41.1h0M332.5 45.2h0M335.1 46.1h0M320.5 44.1h0M320.2 47.4h0M330.5 42.5h0M326.4 47.9h0M325.8 48.3h0M324.6 45h0M332.5 42.9h0M319.7 46.4h0M327.8 50.6h0M323.1 46.6h0M330.1 50.7h0M323.8 42.3h0M333.2 40.3h0M321.9 51.6h0M324 50h0M325.4 50.2h0M334.9 40.4h0M318.4 46.2h0M324.2 41.2h0M332.4 42.5h0M322.9 49.3h0M334.4 48.8h0M324.3 51.9h0M327.9 40.6h0M319.9 48.6h0M331.5 51.4h0M336.3 40.6h0M327.6 39.3h0M321.4 49h0M334.1 50.5h0M327.2 48.5h0M333.7 49h0M320.1 44.2h0M331.3 41h0M334.1 45.9h0M334.8 47.7h0M321.7 44h0M337.9 39.2h0M334.7 40.2h0M330.2 50.4h0M327.2 39.4h0M324.4 47.3h0M331.7 45.9h0M321.6 47.5h0M335.4 43.1h0M322.6 45.3h0M333.9 43.1h0M328.8 47.5h0M336.9 37.1h0M332.5 36.7h0M323.1 47.3h0M320.7 46.8h0M333.9 46.7h0M335.3 45.3h0M327.6 51h0M327.6 45.5h0M324.7 51.3h0M328.3 39.8h0M330.5 40.3h0M325.5 46.8h0M329.4 44.9h0M325 41.8h0M329.6 48.4h0M334 49.5h0M328.4 40.6h0M332.5 38.5h0M325.6 50.9h0M335 49.3h0M333.1 38.8h0M319.8 48.8h0M326 40.4h0M329.3 43.2h0M327.4 46.3h0M332.9 50.4h0M327.3 42h0M333.6 36.3h0M323.1 50.7h0M325.8 42h0M336.3 50.1h0M336.2 42.6h0M326.7 38.5h0M326.2 49.7h0M336.2 39h0M331.2 38.5h0M328.1 48.7h0M322.2 45.1h0M331.3 41h0M333.3 41.9h0M329.9 39.5h0M334.1 39.1h0M326.1 51.8h0M322.8 44.5h0M335.9 36.2h0M332.3 39.5h0M327 48.5h0M324 48.9h0M335.9 47.4h0M322.7 41.1h0M333.1 42.9h0M322.8 48.7h0M321 49.9h0M322.5 50.1h0M332.4 49.3h0M330.3 37.5h0M325.3 51.1h0M320 44.5h0M328.5 43.1h0M323.5 40.7h0M317.7 47.2h0M336.1 39.1h0M322.8 45.3h0M333.4 50.2h0M332.8 49.2h0M327 46.8h0M334.9 38.1h0M329.4 49.6h0M323.7 45.7h0M330.4 46.3h0M320.8 44.4h0M324.2 39.3h0M336.5 43.1h0M328.5 49.3h0M328.2 41.9h0M333.4 40.9h0M320.3 47.5h0M327.6 51.7h0M328.7 50h0M324.5 49.3h0M327.3 46h0M325.1 41.3h0M323.4 39.8h0M317.6 46.5h0M323.2 50.4h0M329.7 38.1h0M333.2 39.8h0M328.8 42.4h0M324.9 49.7h0M327.7 40.1h0M320.7 46.6h0M332.4 45.6h0M332.1 47.8h0M329.1 39h0M327.2 38.5h0M331.3 46.7h0M323.6 45h0M332.5 43.9h0M335.9 37.3h0M321.3 48h0M318.2 48.6h0M320.5 50.1h0M329.3 37.1h0M327.3 43.9h0M330.1 51.1h0M325.9 50h0M321.4 46.4h0M326.8 48.1h0M327.9 49.9h0M328.7 46.2h0M325.5 48.3h0M325 50.5h0M337.2 36.7h0M330.6 49.7h0M317.5 47.7h0M329.6 44.1h0M322.4 47.5h0M325.2 48.5h0M330.3 47.2h0M334.7 40.6h0M324.5 49.7h0M324.9 44.3h0M334.7 46.1h0M336.7 36.4h0M330.3 43.5h0M325.4 40.4h0M325.5 48.7h0M327.2 39.7h0M331.7 49h0M333.1 46.6h0M329 40.3h0M331 38.6h0M338.3 39.6h0M336 41.2h0M322.9 48.2h0M326.9 38h0M334.6 44.5h0M329.2 41.4h0M334.4 46h0M318.4 49.9h0M329.1 40.4h0M328.7 39.7h0M334.1 44.4h0M325.8 43.1h0M322 44.1h0M321.9 40.7h0M328.1 46.2h0M324.5 47.3h0M324.5 50.3h0M319.8 44.8h0M325.3 42.8h0M320.9 46.8h0M333.7 48.6h0M336.3 41.6h0M331.2 50.9h0M327.7 44.2h0M334.6 42.4h0M333 38.1h0M327.5 44.1h0M333.9 44.5h0M330.2 50.3h0M322.6 43h0M336.2 42.8h0M329.5 44.1h0M325.6 48h0M320.7 48.2h0M336.6 47.8h0M332.8 40.7h0M320.2 50.5h0M326 50.2h0M331.3 50.3h0M318.2 49.1h0M332.8 44.6h0M337 41.6h0M333.1 51.7h0M335.3 48.9h0M324.8 41.1h0M321.8 48.9h0M324.5 41.8h0M322.4 45.5h0M320 50.1h0M336.5 44h0M332.1 39.8h0M323.3 50.5h0M326.9 48.3h0M334.6 47.5h0M326.4 42.1h0M318.3 49.5h0M331.6 36.6h0M334.5 40.1h0M335.3 38.4h0M335.6 43.3h0M336.4 36.7h0M337.1 46.8h0M324.1 47.3h0M335.6 39.7h0M319.8 43.8h0M331.2 40.4h0M334.8 50.5h0M322.4 41.9h0M334.6 43.9h0M332.9 40.5h0M335 49.8h0M333.8 49.6h0M325.5 44h0M333.9 47.6h0M321.8 43.5h0M333 50.3h0M320.9 50.1h0M320.1 42.7h0M333.3 45.7h0M334.8 44.4h0M326.4 41.2h0M330.5 44.8h0M328 46.6h0M328 47.2h0M327.7 48h0M321.2 41.7h0M323.4 49.7h0M329 51.5h0M328.6 51.3h0M333.2 50.4h0M323.5 47.9h0M330.4 41.7h0M329.3 38h0M329.1 48h0M336.9 43.8h0M332.6 39.7h0M318.1 45.1h0M323.2 42.5h0M318.9 47.6h0M336.2 47.6h0M334.7 39.2h0M326.2 40.8h0M329.1 48.1h0M324.6 40.5h0M331.1 42.9h0M323 51.2h0M322 42.2h0M323.4 49.2h0M331.9 50.2h0M322.3 49.7h0M331.8 38.2h0M322.7 49.3h0M326.1 38.1h0M331.4 38.3h0M320.5 49.1h0M322.5 46.5h0M334.8 46.8h0M330.6 43.5h0M332 41.7h0M333.5 46.6h0M331.4 43.2h0M329.9 46.5h0M329.5 40.5h0M337.3 39h0M324.9 45.1h0M328.7 46.1h0M337.6 39.3h0M334.8 45.2h0M331.7 47.3h0M337.8 44.3h0M328.7 38.6h0M329 45.5h0M319.6 48.6h0M326.4 47.4h0M326.2 49.1h0M331.5 41h0M325.8 39.1h0M328.1 50.6h0M327.2 41.3h0M326.8 42.3h0M326.2 43.8h0M332.9 47.1h0M324.5 42.5h0M328 50h0M317.7 48.7h0M331.6 45h0M325 45h0M332 43.3h0M336.6 45.6h0M326.5 50.3h0M328 37.6h0M331.1 39.8h0M327 44.1h0M326.4 45.7h0M331.6 38.6h0M320.5 44.5h0M331.6 46.5h0M332.4 39.5h0M332.7 41.4h0M334.8 42.2h0M338 43.6h0M329 45.5h0M319.5 47.6h0M333.7 39.5h0M324.5 45.8h0M335.9 37.3h0M327.9 41.1h0M335.5 39.1h0M333.3 48.7h0M324.2 47.9h0M319.3 43h0M336.1 37.9h0M321.5 41.6h0M322 44.7h0M325.8 45.5h0M329.9 39.2h0M321.4 48.4h0M322.2 45.4h0M338.1 46h0M323.2 41.5h0M329.2 40h0M330 50.3h0M337.6 49h0M331.3 49.5h0M338.2 38.2h0M326.1 43.8h0M335.4 43.6h0M327.6 38h0M327.8 45h0M327.5 45.1h0M317.1 46.8h0M334.9 49.2h0M336 46.4h0M328.3 49h0M336.2 47.4h0M326.2 39.9h0M338 39.1h0M321.6 51.6h0M333.7 49.4h0M325.9 39.3h0M329.5 42h0M324.5 44.9h0M336.3 44.8h0M335.3 46.2h0M321.8 48.6h0M323.9 48.4h0M328.2 46.8h0M334.6 42.6h0M323.5 44.2h0M327.3 38.5h0M330.3 44.9h0M332 52h0M320.8 41.8h0M322.9 43.7h0M330 44.7h0M318.1 47.2h0M325 44.7h0M325.3 46.8h0M320.9 48h0M321.4 46.9h0M325.4 50.2h0M332.4 43.3h0M321.8 49.8h0M324.3 40.5h0M337 39.2h0M334.1 41.4h0M324.4 40.5h0M323.2 43.7h0M325.5 48.5h0M333.6 37.7h0M320.9 45.2h0M323.7 44.5h0M331.5 44.6h0M330.7 49.7h0M335.6 39.1h0M335.4 39.5h0M336.2 37.7h0M333.3 37h0M336.6 43.1h0M328.1 50.1h0M324 44.8h0M328.4 50.2h0M321.2 43.8h0M321.9 49.3h0M328.8 44.9h0M330.2 48h0M329.7 45.1h0M328 38.1h0M321.2 46h0M333.3 36.6h0M333.3 42.9h0M330.5 47.9h0M319.4 47.7h0M333 43.4h0M321.7 45.3h0M329.3 42.4h0M327.9 47.9h0M333.8 50.8h0M337 50.3h0M328.6 50.2h0M328.5 43.8h0M335.7 44.9h0M334.1 45.1h0M328.1 44h0M334.3 38.2h0M331.2 42.2h0M336.5 41.2h0M336.6 40.6h0M337.6 50.7h0M323.7 43.7h0M319 45.3h0M331.5 43.4h0M325.8 43.3h0M333.7 39.6h0M335.3 47h0M325.6 51.4h0M329.6 43.7h0M328.9 41.1h0M330.3 40.7h0M331.3 45.5h0M328.1 43.5h0M327.4 47.8h0M337 37.3h0M331.2 40.7h0M325.7 51.5h0M328 48.2h0M337.2 48h0M326.3 40.8h0M335.8 47.5h0M332.3 48.7h0M336.1 44.2h0M322.4 46.6h0M324.5 38.6h0M329.3 46.8h0M337.5 47.5h0M329 48.7h0M327 43.9h0M329 37.7h0M331.6 48.2h0M330.4 50.7h0M336.7 49.5h0M321.4 49.8h0M335.3 37.2h0M333.2 48.5h0M336.2 49.2h0M332.3 38h0M323 41.5h0M334.2 41.7h0M328.4 50.3h0M336.1 38.4h0M334.7 42.7h0M336.3 38.3h0M320.3 51.1h0M326.5 50.4h0M336.4 40.8h0M336.5 47.3h0M334.8 40.8h0M332.4 49.1h0M331.7 50.3h0M335.9 44.8h0M337 47h0M336.6 38.2h0M318 46.2h0M337.3 49.1h0M330.6 41.6h0M321.5 51.2h0M337 50.2h0M324.3 48h0M328.9 49h0M324.1 42.2h0M336.8 45.6h0M321.5 51.6h0M336.2 49.5h0M319.9 46.6h0M325 48.3h0M325.4 39.6h0M338.1 49.2h0M331 43.5h0M329.2 46.6h0M326 42.2h0M322.2 45.8h0M323 42.8h0M323.4 50.2h0M328.3 38.7h0M319.5 47.7h0M338 39.6h0M329.5 44.5h0M326.1 47.1h0M333.6 49.1h0M321.9 45.2h0M324.1 44.9h0M327.5 39.1h0M320.6 49.6h0M330.9 39.2h0M333.4 51h0M335.4 37.4h0M330.8 42.4h0M325.7 38.2h0M327.2 38h0M327 43.2h0M320 47h0M331 47.1h0M335.2 49.6h0M321.3 41.6h0M326.9 42.9h0M333.8 43.7h0M331.2 47h0M325 48.1h0M324.6 51.5h0M327.8 51.2h0M318.2 44.6h0M325.3 42.5h0M326.3 45.6h0M336.5 36.9h0M320.4 46.6h0M328.4 47.7h0M335.5 49.2h0M329.6 45.7h0M327.8 49.7h0M337.4 49.3h0M317.5 47.4h0M329.8 37.9h0M326 45.1h0M330.1 38.8h0M322.9 41.2h0M324.3 40.1h0M324.8 49.8h0M333.9 38h0M318.6 44.3h0M318.9 48.7h0M324.5 51.2h0M325.2 44.3h0M321.1 51.4h0M330.6 48h0M326.3 51.2h0M321.5 50h0M330.2 47.4h0M337.1 38.7h0M323.5 44.9h0M332.9 36.9h0M325.5 44.8h0M332.6 46.7h0M326.4 38.7h0M325.5 43.5h0M336.5 39.2h0M326 42.7h0M320.2 48.2h0M320.1 49.1h0M328.3 44.4h0M326.9 50.6h0M333.4 48.8h0M333.5 49.3h0M334.2 49.7h0M333.4 38.6h0M328.1 47h0M328.2 44.2h0M336.1 41.2h0M323.2 51.1h0M322 40.8h0M334.6 49h0M333.7 38h0M324.6 39.4h0M336.4 40.3h0M328.4 46.5h0M322.9 45h0M332.8 51.6h0M326.5 41.5h0M324.3 45.2h0M323.9 42.6h0M330.4 47.2h0M332.5 46h0M320.2 46.7h0M322.1 49.6h0M335.9 40.5h0M337.3 45.7h0M332.8 47.4h0M331.7 39h0M329.8 51.9h0M334.7 43.1h0M337.9 50.1h0M327 49.5h0M327.9 48.5h0M332.6 40.7h0M327.4 48.1h0M332.9 51.3h0M320.7 47.2h0M331.2 40.9h0M329.4 46.2h0M329.5 48.7h0M331.2 37.8h0M318.2 49.8h0M333.5 37.8h0M335.6 46.7h0M330 47.4h0M337 41.4h0M318.2 46.8h0M323.6 47.2h0M331.9 45.7h0M334 38.1h0M320.8 44.6h0M321.4 44.1h0M335.1 48.7h0M336.2 39.4h0M328.2 45.7h0M334.8 39.2h0M336.6 42.8h0M328 38.1h0M334.5 42.5h0M320.6 48h0M325.2 46h0M324.6 50.2h0M327.6 42.8h0M336.9 49.2h0M322 43.2h0M334.3 39.5h0M326.5 44.4h0M320.5 45.4h0M319.8 44.3h0M331.9 47.3h0M326.6 38.2h0M333.7 48.4h0M333.1 42.9h0M326.8 48.7h0M336.6 45.4h0M330.4 49.3h0M332.9 46h0M323.4 49.4h0M327.9 47.1h0M336.3 47.7h0M337.6 49.7h0M326 42.3h0M333.5 46.3h0M322.3 43.4h0M319.8 46.4h0M324.6 46.1h0M323.4 48.5h0M327.8 50.7h0M333.6 43.5h0M326.7 41.6h0M328.8 44.8h0M330.8 38.6h0M336.1 38.7h0M331.2 43.6h0M319 49.2h0M327.7 44.5h0M333 40.5h0M335.8 41.9h0M334.8 49.7h0M325.3 45h0M322.4 43.8h0M324.3 50.7h0M331.2 50.6h0M323.3 40.1h0M326.4 45h0M332.3 50.1h0M320.5 44h0M336.2 41.1h0M329.8 42.8h0M332.7 48.1h0M325.4 39.7h0M331 49.7h0M325.1 43.3h0M322.1 49.3h0M330.2 37.9h0M331.3 39.9h0M336.4 50.1h0M317.3 47h0M330.2 42.4h0M319.5 50.8h0M325.4 39.8h0M329.1 40.6h0M334.3 47h0M328.9 48.8h0M337 39.3h0M330.3 49.5h0M334.6 47.3h0M327 50h0M327.3 41h0M326.5 49.4h0M330.3 47.8h0M327.1 50.4h0M318 49.9h0M318.5 45.4h0M321.5 47.9h0M333.2 49h0M333.9 46.8h0M326.9 43h0M327.7 50.7h0M319.2 45.3h0M335.8 37.8h0M333.5 49.2h0M322.1 40.8h0M326 51.5h0M336.3 51h0M324.6 50.2h0M327.9 44.7h0M331 48h0M324.5 41.8h0M319.3 49.5h0M326.8 51.6h0M322.9 45.8h0M336.3 51h0M327.9 38.4h0M330.5 46.7h0M324.9 48h0M323.8 48.3h0M324.7 48.7h0M330 50.6h0M321.5 47.6h0M326.6 39.2h0M331.8 49.1h0M323.3 41.7h0M319.8 44.6h0M336.3 43.8h0M323.3 48.2h0M333.9 43h0M336.1 47.7h0M337.9 38.9h0M326.1 48.3h0M329.5 43h0M320.4 50.8h0M322 46.8h0M330.2 47.9h0M333.1 43.3h0M333.5 40.8h0M321.1 42.2h0M324.7 39.9h0M320.7 45.6h0M328.5 42.3h0M320.5 48.7h0M321.2 47.9h0M328.9 50h0M331.3 46.3h0M330.5 48.1h0M335.7 44.9h0M332.1 41.3h0M332.5 40h0M329.4 46.5h0M334.2 46.2h0M334.5 48.4h0M330.9 37.3h0M333.3 43.2h0M334.8 37.1h0M327.4 40.7h0M328 51.9h0M333.4 49.2h0M335.4 36.8h0M332.1 47.2h0M333.4 39.8h0M325.1 46.3h0M322.7 43.8h0M327 50.4h0M333.3 40.9h0M333.2 49.2h0M337.1 46.8h0M330.2 47h0M318.8 44.7h0M317.6 46h0M331.9 42.1h0M320.7 44.2h0M337.1 49.9h0M325 48.2h0M334.9 47.3h0M325.9 41.3h0M321 48.7h0M331.5 51.3h0M323.8 44.2h0M328.6 45.2h0M325.2 50.3h0M326.1 39.7h0M326 42.5h0M321 44.8h0M332.4 39.1h0M333.6 42.7h0M329.2 49.1h0M325.1 51.1h0M324.9 42h0M329.5 45.6h0M336.1 46.3h0M331.8 37.2h0M326.1 39.2h0M324.6 46.7h0M333.5 46.6h0M323.4 44.2h0M326.2 48.7h0M325.6 50.5h0M326 39.4h0M335.5 36.8h0M327.5 41.1h0M333 39.6h0M331.7 41h0M328.4 48.1h0M327.4 46.5h0M324.4 45.4h0M334.8 50.2h0M337.4 39.9h0M320.9 47.1h0M321.3 48.2h0M318 49h0M330 47.9h0M326.1 43h0M329.4 49.1h0M337 42.1h0M326.2 49.1h0M333.1 46.5h0M334.1 51h0M317.9 45.1h0M322.9 50.5h0M323.6 41.5h0M318.8 47.6h0M324.9 42.9h0M333.8 50.2h0M322.5 47.3h0M323.6 51.3h0M336.6 44h0M318.4 49.3h0M331.7 48.5h0M328.4 51.1h0M324.3 48.2h0M319.2 50.7h0M329.3 46h0M335 46.9h0M330.1 51h0M319.7 44h0M318.1 49.9h0M335 42.4h0M329.5 48h0M330.4 46.5h0M322.7 47.9h0M333.6 43.3h0M328.7 42.1h0M329.4 50.6h0M317.6 48.6h0M332.8 42.6h0M321.3 45.8h0M333.6 38.1h0M330.1 47.8h0M322.3 49h0M335.1 44.8h0M319.6 45.9h0M333.2 41.2h0M330.7 44.9h0M335.2 40.2h0M335.1 39.8h0M334.6 37.7h0M334.9 43h0M335.8 43.6h0M328 47h0M319.4 50.3h0M330.1 41.4h0M336.5 48.1h0M325.9 50.7h0M319.4 47.3h0M323.6 40.3h0M334.5 49.2h0M325.8 41.6h0M328.3 42.2h0M335.9 44.1h0M337.5 41.5h0M337.1 50.3h0M326 39.7h0M332.5 37.6h0M329.9 48.4h0M330.7 50.5h0M318.9 47.4h0M332.4 47.4h0M328.4 37.8h0M324.1 39.4h0M337.7 47.9h0M336.9 44.3h0M318 47.7h0M324.2 46h0M325.9 44.9h0M320.4 50.4h0M323.5 49h0M336.3 45h0M327.9 40.5h0M330.4 43.9h0M319.1 43.8h0M334.2 39.1h0M336.8 38.1h0M320.3 47.4h0M320.9 50.3h0M319.4 45.4h0M333.3 44h0M334.5 38.6h0M334 42.2h0M335.3 38.2h0M328.9 44.8h0M326.2 49.4h0" stroke="#C8962B" stroke-width="1.0" stroke-linecap="round" fill="none"/>
<path d="M340.3 47.5h0M340.1 42h0M341.2 43.6h0M340.6 50.6h0M340.2 50.6h0M340.6 49.9h0M342.2 45.1h0M339.8 47.7h0M339.7 49.2h0M340 45.3h0M339.4 39.9h0M340.6 43.3h0M340.9 49.9h0M340.5 47.8h0M339.3 41.7h0M342.1 43.5h0M339.2 44.2h0M341.5 49.9h0M339.3 51.2h0M340.9 43.1h0" stroke="#C8962B" stroke-width="1.0" stroke-linecap="round" fill="none"/>
<path d="M354.6 35.1h0M343.3 42h0M367.7 43.3h0M341.2 40.1h0M357.4 46.1h0M350.9 45.9h0M352.1 51.8h0M347.8 50.9h0M356.1 43.2h0M344.1 47.1h0M343.8 49.8h0M350 48.9h0M363.5 40.2h0M348.2 38.8h0M344.5 49.1h0M344.2 42.7h0M355.5 51.9h0M346.9 48.6h0M341.4 38.4h0M345.4 43.9h0M346.8 47.2h0M341.4 44.4h0M347.4 45.3h0M342.8 38.8h0M347.7 39.6h0M341.7 44.6h0M351.4 50.7h0M339.1 36.6h0M353 39.6h0M339.7 38h0M352.8 43.9h0M351.2 38.9h0M341.9 44.6h0M342.4 41.2h0M354.1 49.8h0M342.5 39.1h0M369.1 37.3h0M342.6 49.1h0M344.9 52.2h0M342.1 49.6h0M346.9 49.6h0M347.3 44.3h0M345.7 44h0M348.8 40.2h0M342.4 48.1h0M346.6 42.7h0M341.1 46.6h0M342.7 49.2h0M360.7 51.9h0M369.2 45.5h0M342.8 46.5h0M341.4 44.4h0M364.7 51.5h0M344.2 44.8h0M343.2 39.7h0M363.2 53.5h0M352.9 42.5h0M352 35.2h0M363.4 49.3h0M356.2 49.6h0M367.3 47.6h0M359.1 47.2h0M344.4 50.3h0M346.1 46.7h0M361.3 50.3h0M344.8 43.5h0M355.3 52.4h0M352.9 46h0M352 45.5h0M357 49.7h0M347.4 45h0M351.7 41.1h0M351.1 50.2h0M341.9 48h0M365.2 50.7h0M370 50.4h0M342.8 41.3h0M344.8 48.9h0M352.2 40h0M358.6 49.2h0M347.2 43.1h0M349.7 38.8h0M343.2 50.7h0M344.9 43.8h0M347.5 40h0M344.8 47.2h0M349.4 47.2h0M346.4 39.5h0M350.4 50.1h0M343.5 45.1h0M347.9 44.2h0M343.7 48.9h0M358.2 49.1h0M340.5 47.1h0M345.2 44.9h0M339.2 42.8h0M352.7 52.2h0M352.8 50.1h0M359.3 52.5h0M343.3 45.4h0M362.3 50.6h0M364.5 49.6h0M340.3 38.5h0M352.8 43h0M359 50.4h0M365.5 43.7h0M355.5 49.5h0M356.6 46.2h0M370.2 46.2h0M353.3 48.4h0M353.3 52.1h0M359.7 41.6h0M361.7 48.1h0M351.3 48.8h0M359 52.6h0M349.7 49.5h0M351.5 51.2h0M364.7 50.9h0M363.7 47.4h0M353.6 50.5h0M345 42.5h0M343.6 43.6h0M353.7 43.7h0M355.5 42.8h0M346.5 46.6h0M348.9 47.2h0M351.1 44.2h0M343.7 33.3h0M343.5 49.5h0M343.2 45.7h0M349 45.4h0M355 48.8h0M344.2 48.7h0M344.8 50h0M345.1 47.1h0M351.6 37.5h0M352.8 46.3h0M339.7 46.1h0M350 50.5h0M349.6 49.2h0M368.4 47.2h0M346.4 51.5h0M352 51.2h0M339.6 45h0M368.8 48.2h0M347.1 47.1h0M359.1 46.3h0M352.9 43h0M355.8 46.7h0M340.4 39.4h0M343.2 41.6h0M349.2 46.1h0M344.5 46.2h0M345.1 47.7h0M342.1 47.1h0M359.5 50.2h0M344.9 38.4h0M360.1 42.3h0M346.8 50.1h0M340.9 40.8h0M340.5 48.6h0M345 52h0M352.5 51.9h0M356.5 40.9h0M372.1 42.6h0M341.7 39.7h0M368.5 47.3h0M353.5 52.7h0M348.9 50.1h0M353.9 41.5h0M356.5 51.5h0M351.9 41.6h0M362.6 49.3h0M352.3 44.1h0M344.2 41.3h0M354.4 41.1h0M349.7 44.2h0M367.7 43.4h0M367 36.8h0M368.5 36.8h0M354.2 48.6h0M357.3 36.4h0M347.4 49.4h0M354.6 47h0M348.2 42.6h0M342.2 41.6h0M350.7 41.4h0M354.1 45.9h0M348.1 41.9h0M342.5 42.2h0M359.6 51.6h0M353 38.9h0M360.8 48.8h0M342.8 44.9h0M339.9 48.4h0M350.3 50.3h0M355.3 48.1h0M347.8 39.3h0M351.9 51.9h0M356 50.8h0M347.6 40.6h0M348.8 42.4h0M357.6 42.3h0M342.1 48.8h0M359.1 47.1h0M356 50.6h0M358 50.8h0M347.1 50.2h0M346.5 39.2h0M349 51.7h0M342.9 49.3h0M357.9 49.5h0M357.1 45.6h0M352.4 48.1h0M368.2 51.2h0M351.2 51.6h0M347.4 51.1h0M357.1 47.3h0M345.7 49.3h0M353.5 48.3h0M355.5 50.8h0M366.8 51.5h0M342.2 41.2h0M359.4 34.9h0M359 45.7h0M368.5 41.7h0M355.6 34.2h0M358.1 51.2h0M362.3 50.7h0M353.9 44.7h0M342 46.9h0M347.7 40.1h0M355.2 45.2h0M363.6 38.3h0M352.9 47.3h0M344.6 41.2h0M346.2 47.2h0M341.8 40h0M353.5 41.5h0M345.2 48.9h0M350.2 48.7h0M340.6 43.6h0M346.3 50.8h0M360.4 53.3h0M355.1 44.3h0M349.8 45.6h0M358.9 50.6h0M340.8 44h0M356.9 48.5h0M352.9 46.6h0M362.1 52.9h0M362.9 50h0M352.4 38.2h0M345.5 43.6h0M360.5 46.3h0M358.6 48h0M354.9 41.6h0M343.2 49.8h0M339.4 49.7h0M347.8 42.1h0M348.4 38.6h0M369.2 44.2h0M362.9 52.8h0M352.8 52.6h0M357.5 36.9h0M344.6 48.6h0M341.2 38.2h0M351.9 45.2h0M345.4 47.9h0M353.8 49.8h0M354.2 42h0M372.7 39.7h0M344 40.3h0M340.7 43.5h0M346 44.3h0M353.1 42.4h0M367.7 38.8h0M360.6 41.8h0M373 39.3h0M365.2 35.5h0M348.4 51.4h0M351.1 50.8h0M363.1 42.1h0M362.8 49.4h0M352.1 46.8h0M341.4 50.3h0M351.5 51.3h0M356 46.7h0M349.1 49.5h0M360.5 38h0M364.6 50.2h0M345.9 41.3h0M356.5 53.2h0M355.6 47h0M349 49.6h0M351.5 39.9h0M354.2 47.6h0M344.3 41.3h0M345.9 45.8h0M345.9 40.5h0M343.6 45.1h0M364.6 38.5h0M346.4 39.1h0M362.8 48.9h0M347.7 39.7h0M355.6 47.2h0M360.5 51.3h0M355.9 46.6h0M356.9 44.7h0M356.2 51.2h0M349.8 39.3h0M341.7 50.6h0M341.2 44.3h0M341.8 48.3h0M349.2 47.1h0M342.2 43.6h0M350.4 50.3h0M354.8 44.3h0M341.5 46.6h0M354 50.2h0M347 41.8h0M357.7 38.6h0M359.5 51.7h0M353.4 49h0M346.5 38.9h0M354.7 34.7h0M349.7 37.9h0M363.9 46.5h0M352.6 42.4h0M348.9 41h0M340.7 35.8h0M357.4 51.5h0M345.6 46.5h0M344.4 46.5h0M345.8 41.5h0M368.3 45.3h0M353.4 52.1h0M345.5 45.1h0M355 42.7h0M360 44.3h0M352.8 49.1h0M347.3 45.8h0M339.8 37.4h0M347 46.4h0M355 47.5h0M349.7 47.5h0M359.8 50.5h0M354.8 34.6h0M353.1 48.8h0M348.1 51.3h0M339.7 40.9h0M346.2 51.8h0M352 50.5h0M356.6 41.6h0M372.7 40.6h0M362.5 45.1h0M343.2 40.8h0M349.5 47.9h0M344.4 49.9h0M360.1 51.3h0M358 44.6h0M339.2 37.9h0M348.4 44.1h0M345.9 49.5h0M356.1 50.7h0M351.3 45.3h0M349 47.5h0M344.1 39.7h0M350.1 49.3h0M355.1 51.6h0M342.9 46.3h0M353.3 40.8h0M352.9 50.2h0M355.5 52.6h0M367.1 49.7h0M348.5 43.7h0M343.8 42.7h0M341.1 43.3h0M361.9 49.4h0M356.5 52.2h0M351.5 39.1h0M353.5 44.9h0M353.3 47.1h0M350.4 51.3h0M353.3 34.5h0M356.1 43.4h0M365 46.8h0M348.7 50h0M359.1 44.3h0M352.4 43.4h0M346.2 39.9h0M350.9 50h0M348.5 50.4h0M350.6 47.1h0M366.8 46.6h0M347.1 38h0M362.7 51.5h0M366.7 51.3h0M345.8 49.1h0M357.1 50.6h0M368.1 43.5h0M361.3 52.1h0M350.1 39.5h0M340.5 48.6h0M340.7 37.9h0M346.3 46h0M365.6 44.4h0M339.5 36.9h0M362.4 50.5h0M352.7 42h0M364.9 52.3h0M359.2 51.2h0M344.9 44h0M344.9 42h0M362.3 47.4h0M344.1 44.6h0M344.6 45.1h0M351.1 40.1h0M347.9 45.5h0M357.2 45.8h0M349.1 45.7h0M352.7 52.8h0M350.8 43.5h0M353.5 46.6h0M347.9 37.8h0M351.7 49.5h0M360 49.3h0M357.2 41.8h0M348.6 43h0M356.7 52.1h0M344.2 48.5h0M357.9 49.7h0M353.6 48.8h0M343.9 40.8h0M347.1 44.8h0M349.2 44.6h0M357.5 49.1h0M350.9 44.2h0M346.1 43.7h0M356.3 50h0M352 50.7h0M351 49.9h0M344.1 38.3h0M347 38.1h0M352.6 46.5h0M356 46.9h0M340.6 42.7h0M358.7 52.7h0M346.8 45.1h0M357.5 46h0M357.5 52.5h0M355.4 41h0M344.2 46.5h0M348.8 43.6h0M355.6 52.5h0M364 36.2h0M344.4 44.4h0M341.7 38.3h0M344.9 47.5h0M354 38.9h0M351.1 45.6h0M345.7 41.3h0M362.3 49.2h0M361.3 52.1h0M355 48.7h0M342.4 43.4h0M350.2 37.8h0M353.7 48.4h0M344.9 46h0M344.4 47.7h0M342.4 34.4h0M367.5 39.4h0M343.2 39.1h0M364.5 52h0M351.4 45.7h0M366.6 52h0M350.7 41.1h0M348.8 43.8h0M343.9 40.8h0M344.4 50.6h0M340.8 37.5h0M369.7 44.7h0M352.6 50.5h0M361 39.5h0M353.7 45.3h0M344 38.1h0M354.1 47.7h0M370.6 40.7h0M345.8 46.8h0M365 49.6h0M349.6 47.5h0M338.4 35.6h0M349.3 41.4h0M343.7 50.9h0M340.9 37.4h0M356.7 46.7h0M359.2 35.5h0" stroke="#7FAA30" stroke-width="1.0" stroke-linecap="round" fill="none"/>
<path d="M338.3 34.8h0M350.1 32.7h0M355.4 34.3h0M346 32.7h0M350.7 33.1h0M366 32.9h0M369.2 34.9h0M348 36.5h0M350.3 28.9h0M342.6 35.1h0M352.4 33.6h0M372 38h0M343.6 36.6h0M351.9 31.5h0M342 42h0M341.1 37.4h0M374 29.2h0M369.5 28.9h0M363.3 29.7h0M360.2 32.9h0M371.7 40.6h0M337.8 34.8h0M369.7 27.2h0M347.7 32.5h0M341.9 33.7h0M345.2 33.8h0M339.9 39.7h0M359.1 33.9h0M354.3 34.5h0M349.3 35.5h0M358.1 31.1h0M359.8 35.8h0M358.7 37.6h0M352.5 34.5h0M356.5 35.1h0M358.1 33.5h0M369.1 33.8h0M353.4 37.7h0M372.9 30.5h0M347.5 34.5h0M344.3 36.4h0M347.9 29.7h0M340.2 35.2h0M350.5 32.8h0M355.5 27.9h0M345.3 34h0M353.3 32.2h0M364.3 27.2h0M346.6 31.9h0M350.5 34.4h0M342 31.9h0M376.3 30.4h0M357.8 37.1h0M352.1 27.5h0M368.1 35.7h0M342.5 34.1h0M358.5 32.2h0M343.5 33.6h0M372.8 27.6h0M358 34.8h0M348.7 37.5h0M356.5 30.1h0M348.9 38.5h0M350.8 32.6h0M350.7 32.8h0M360.6 26.9h0M359.4 27.3h0M363.8 34h0M344.3 32.5h0M365.3 29.7h0M347 39.4h0M361.6 28.7h0M344.3 31.1h0M344.9 31.8h0M339.7 34.8h0M353 31.8h0M358.6 33.2h0M365.7 34.6h0M342.4 38.1h0M370.3 37h0M348.2 29.9h0M341.8 37.5h0M338.3 36.9h0M364.1 31.6h0M359.3 31.4h0M345.3 31.4h0M359.2 28.4h0M345.4 36.2h0M341.5 33.8h0M340.8 36.3h0M360.7 28.5h0M372.4 32.7h0M358.4 35.4h0M365.2 27.8h0M342.3 32.9h0M355.4 28.1h0M356 31.8h0M364.4 26.6h0M352.3 28.2h0M358.5 28.5h0M350.6 35.6h0M368.7 27.8h0M369.6 34.9h0M339.4 35.4h0M344.6 30h0M350 28.7h0M367.5 27.7h0M346.2 29.5h0M362.2 28.1h0M355.9 30.6h0M360.2 28.7h0M363.4 34.1h0M343.8 33h0M342.4 31.3h0M354.8 30.8h0M346.8 32.8h0M372.5 28.9h0M341.4 36.1h0M358.1 29.2h0M353.3 33.4h0M360.3 36h0M353.9 35.5h0M356.3 30.8h0M352.1 30.2h0M368.7 27.9h0M352.2 34.2h0M360.7 33.5h0M353 36.4h0M357.7 30.9h0M367.6 35.3h0M345.6 32h0M348.8 30.7h0M354.1 28.4h0M360.1 28.8h0M353.8 26.8h0M369.7 35.5h0M362.3 30.7h0M364.6 33.5h0M357.6 29.5h0M364.6 32.4h0M352.7 28.7h0M344.8 30.2h0M377.1 29.5h0M354.9 31.1h0M369.5 28.1h0M357.6 29h0M359.3 29.8h0M354.6 31h0M340.5 37.3h0M363.3 32.6h0M370.5 26.6h0M345.4 36.2h0M370.9 29.5h0M356.6 29.8h0M352.5 34.2h0M347.1 31.1h0M343.5 31.1h0M365.6 33.4h0M355.7 36.8h0M354.9 28.9h0M352.1 32.2h0M362.5 27.8h0M373.7 32.9h0M351.9 35.9h0M345.5 36.8h0M359.3 29.3h0M368.2 31.7h0M342.2 39h0M361.8 32.2h0M345.6 35.7h0M368.9 28.5h0M339.3 34.6h0M352.2 34.1h0M352.2 38.7h0M365 30.2h0M352.9 32.5h0M346.1 32.1h0M366.5 33.3h0M353 40.2h0M344 32.3h0M357.5 32.2h0M343.2 32.7h0M344.3 32.2h0M365.9 28.8h0M358.6 31.3h0M362.4 27.9h0M352.7 38.5h0M360.4 35.7h0M355.9 30.3h0M363.4 30.4h0M364.2 27.7h0M342.6 32.7h0M357.9 34.7h0M353 31.8h0M339.9 32.3h0M341.9 36.6h0M345.7 32.3h0M346 36.9h0M352.8 32h0M365.6 28.6h0M365.4 35.3h0M366.6 27.4h0M352.7 29.8h0M344 32.5h0M355.3 32.9h0M341.2 35.3h0M342.6 34.2h0M356.6 30.2h0M340.2 40.7h0M355.9 27h0M344.3 32.7h0M354.3 29.7h0M351.2 29.2h0M344 30.9h0M370.3 37.8h0M366.1 30.2h0M357.2 30.1h0M344.2 37.6h0M363 33.2h0M347.1 29.2h0M365.8 27.5h0M351.1 28.8h0M371.8 29.4h0M352.1 31.8h0M349.3 33.2h0M354.4 33.5h0M359.1 29.5h0M361.8 27h0M347.2 32.7h0M356.2 34h0M344.8 31.5h0M357.6 33.3h0M379.2 29.5h0M355.7 29.1h0M347.8 32.7h0M361.8 33.7h0M366.9 29.6h0M340.9 35.8h0M370.8 32.2h0M356.1 32.3h0M354.7 32.7h0M343.9 37.3h0M349.8 35.6h0M344.9 31.4h0M361.5 31.4h0M339.2 35.7h0M347 33.9h0M363.5 29.5h0M347 33.9h0M357.9 31.4h0M365.9 32.6h0M346.6 31.6h0M351.3 35.2h0M357.7 32.2h0M355.6 30.9h0M346.2 29.7h0M358 33.7h0M358.9 27.7h0M367.6 29.7h0M351.3 32.5h0M362.6 29.2h0M372.6 36.8h0M369.8 28.1h0M368.3 27h0M348.4 37.5h0M353.2 35.1h0M358.9 30.5h0M361 32.4h0M353.6 34.5h0M338.9 35.8h0M354.4 29.5h0M358.8 27.7h0M355.9 30.2h0M348.6 36.4h0M341.9 34.2h0M347.6 35.5h0M343.4 33.9h0M337.9 35.9h0M351.5 31h0M348.8 31.6h0M366.5 27h0M341.4 36.5h0M341.9 35h0M339.5 37.9h0M347.1 29.7h0M366.2 27.5h0M358.9 27h0M357.3 33.1h0M356 29.2h0M352 30.8h0M363.8 31.4h0M346.4 33.4h0M343.3 36.1h0M361.2 28.8h0M354.1 28.4h0M352.6 37h0M347.9 34.8h0M348.5 29.8h0M361.5 33h0M354.4 32.2h0M341.7 37.1h0M371.9 31.5h0M368.2 26.7h0M340.2 33.6h0M341.9 33.4h0M354.1 33.8h0M368 35.3h0M352.9 32.3h0M343.7 31.9h0M350.1 34.3h0M343.1 37.1h0M354.2 37.6h0M342.1 31.8h0M358.5 29.1h0M352 34.8h0M364 31.8h0M349.6 36.3h0M351.5 33.3h0M350.3 32.3h0M350.8 33.6h0M344 36.3h0M349.6 28.5h0M368 29.2h0M350.2 29.3h0M344.1 32.3h0M367.4 28h0M343.9 33.4h0M353 35.2h0M358.8 29.2h0M367.3 28.2h0M354.2 29.5h0M354 28.9h0M349.5 28.2h0M342.3 40.5h0M339.4 40h0M350.9 31.7h0M362.9 29.4h0M358.6 31.3h0M344.7 30.3h0M363.3 28.9h0M359.8 27.9h0M362.5 27.2h0M370.8 34.4h0M343.1 32.9h0M372.1 31.2h0M365 28.8h0M357.5 29.8h0M347.7 30.5h0M352 30.9h0M354.3 37.4h0M353.5 36.8h0M339.1 34.2h0M339.8 36.2h0M363.2 30.4h0M369.7 29.8h0M358.9 28h0M355.1 29h0M342.1 34.7h0M372.1 30.1h0M343 33.1h0M352.7 34.3h0M370.6 26.8h0M347.2 34.2h0M355.9 32.2h0M362.3 26.7h0M367.4 35.3h0M350 35.1h0M347 33.7h0M351.1 28.4h0M355.4 31.8h0M354.5 34h0M348 29.9h0M364.2 33.2h0M364.1 27.1h0M373.8 31h0M374.9 31.4h0M350.5 35.9h0M353.7 31.9h0M370 26.7h0M344.4 33.5h0M370.4 34.9h0M351.8 30.8h0M355.4 33.6h0M364.2 29h0M359.1 27.5h0M358.7 28.3h0M363.7 33.3h0M356.5 30.9h0M341.7 35.3h0M347.2 32h0M355.8 28.5h0M370.2 35.4h0M355.8 30.8h0M360 28.6h0M350.8 30.6h0M346.2 32.5h0M344.5 37.9h0M351.1 34.5h0M365.7 29.4h0M350.6 32.8h0M355.7 27.3h0M341 39.5h0M351.9 30h0M359.6 29.1h0M371.4 31.2h0M355.4 28h0M358.3 34.8h0M346.3 36.1h0" stroke="#E2871C" stroke-width="1.0" stroke-linecap="round" fill="none"/>
<path d="M375 49.5h0M377 31h0M380 34.6h0M372.7 29.7h0M378.3 38.2h0M374.2 42.2h0M375.8 32.5h0M376.7 40.4h0M369 36.1h0M376.2 35.4h0M378.2 44.9h0M373.6 40.4h0M378.5 40.9h0M376.2 30.7h0M377.3 33.7h0M373 35.4h0M374.3 35h0M377.4 43.8h0M378.3 40.6h0M373.3 31.6h0M381 32.4h0M372.9 49.3h0M373.6 32h0M380.8 35.5h0M383.3 35.9h0M377.5 36.7h0M371.7 41.4h0M382.4 40.6h0M376.2 27.8h0M379.7 39.5h0M381.8 40.8h0M375.6 44.3h0M378.8 36.1h0M375.7 29.7h0M378.7 37.8h0M374.1 27.9h0M376 35.3h0M377.6 36h0M380.3 39.1h0M377.7 39.2h0M380.7 30.6h0M383.1 35.1h0M374.9 33.8h0M379.2 34h0M374.3 48.6h0M382.6 37.1h0M384.3 37.2h0M376.5 45.4h0M376.5 38.5h0M382.7 37h0M373.2 45.1h0M378.6 31.8h0M380.8 34.5h0M375.4 46.8h0M378 39.3h0M374.7 38.4h0M371.7 42.3h0M370.9 37.7h0M379.5 30.5h0M381.8 38.3h0M373.5 34.8h0M375.2 28.8h0M369.9 28.6h0M374.4 45.9h0M379.8 41.6h0M383 38h0M379.7 38.7h0M375.9 43.3h0M378.5 28.2h0M376.4 33.4h0M381 35.8h0M378 40h0M373.3 33.4h0M378.1 36.4h0M373.1 50h0M379.1 42.2h0M381 39.6h0M380.6 41.6h0M372.9 42.4h0M380.7 30.3h0M376.1 45.2h0M376.1 35.5h0M379 45.9h0M373.2 27.9h0M378.7 31.4h0M380.2 39.2h0M379.9 42.3h0M375.8 43.2h0M378.6 30.7h0M368.5 49.5h0M374.2 49.1h0M371.7 38.1h0M374.8 36.2h0M376.8 45.9h0M375.5 46.4h0M373.9 47.6h0M375.3 37h0M378.8 31.9h0M374.7 44.8h0M376.2 42.5h0M374.1 49.7h0M373.5 45.6h0M375.8 35.3h0M374 30h0M382.1 35.5h0M373 47.2h0M380.7 33h0M371.2 39.5h0M373.9 38h0M375.9 37h0M373.1 34.8h0M379.4 36.1h0M378.6 35.6h0M376.2 46.8h0M381 34.3h0M382.8 36.4h0M378.3 43.9h0M374.6 48.4h0M375.7 43.6h0M378.2 31h0M373.4 36.7h0M374.5 40.2h0M374.8 48.9h0M377.4 32.5h0M378.3 44.3h0M374.4 48.5h0M378.8 41.6h0M376.6 43.2h0M376.8 41.4h0M372.8 29.8h0M378.8 29.4h0M372.9 39.1h0M374.8 47.4h0M376.4 41.3h0M376.1 27h0M372.2 46.2h0M382.3 35.1h0M376.7 34.9h0M375.9 28.8h0M378.1 36.7h0M371.6 33.6h0M383.3 39.1h0M373.1 47.9h0M373.6 27.2h0M376.3 32.4h0M380.5 44h0M375.8 34.8h0M381.5 37.9h0M375.2 47.7h0M379.5 40.7h0M375.6 27.7h0M376.7 47.7h0M378.2 40.7h0M377.9 41h0M381.6 38.4h0M375.3 43.5h0M380.7 43.3h0M381.2 30.5h0M378.5 34.5h0M375 33.5h0M371.1 27.4h0M373.8 48h0M379.1 33.7h0M371.4 51.2h0M372.8 37.3h0M368.4 43.4h0M380 28.9h0M373.4 40.4h0M379.5 43.7h0M376.1 33.3h0M377.1 48.2h0M370.9 37.1h0M376.1 46.6h0M382.9 35.7h0M382.5 39h0M378.1 45.3h0M380.3 39h0M370.5 50.5h0M378.1 37.3h0M380.4 31.5h0M376.2 42.9h0M373.5 34.3h0M377.5 34.3h0M373.6 27.9h0M377.2 42.8h0M380 38.5h0M378.6 30.7h0M373 41.4h0M380.8 31h0M379.2 31.6h0M376.7 27.7h0M383.4 36.8h0M382 36.8h0M381.9 38.2h0M381.9 33.3h0M375.7 41.2h0M375.2 30.7h0M381.3 39.9h0M382.7 38h0M382 35.1h0M376.6 30.6h0M379.5 45.3h0M378.9 42.8h0M375.2 27h0M372.3 39.3h0M377.1 41.6h0M377.5 45.7h0M373 48.4h0M378.4 28.9h0M376.9 29h0M373.7 42.4h0M377.1 45.7h0M379.5 42.2h0M378.5 35.7h0M380.4 30.5h0M369.7 49.4h0M375.8 45.6h0M381.1 37.7h0M375.4 45.6h0M376.4 49.6h0M370.2 52h0M379.2 39.3h0M379.3 39.8h0M380.7 40.1h0M380 38.6h0M374.6 45.2h0M374.6 28.9h0M376 32.2h0M382.4 41.2h0M378.3 46.6h0M377.7 45.3h0M375.3 30.6h0M373.7 39.9h0M373.3 49.2h0M371.2 39.4h0M378.9 28.5h0M373 35.4h0M381.9 34h0M377.9 43.9h0M373.4 34.5h0M378.9 44h0M375.7 42.9h0M381.1 36.6h0M379.9 34h0M380.2 30h0M381.3 33.1h0M381.9 33.4h0M379.4 33.5h0M374.4 35.5h0M377 47h0M367.9 50.2h0M370.8 36.5h0M379.2 30.4h0M376.8 29.2h0M371.2 46.1h0M377.2 42.9h0M374.8 42.3h0M382.6 31.7h0M376.5 31.7h0M377.6 29.4h0M371 30.7h0M374.2 48.7h0M380.4 34.3h0M382.6 36.1h0M374.2 35h0M372.4 36.5h0M378.5 30.9h0M374.5 46h0M375.3 47.7h0M373.7 33.3h0M374.9 28.2h0M377.5 40.6h0M382 41h0M377.6 30.2h0M372.1 50h0M378.9 31.9h0M380.6 37h0M382.6 38.8h0M376 37.3h0M377.4 30.9h0M380.4 36.9h0M380.9 35.5h0M374.9 31.8h0M369.6 50.2h0M372.5 38.4h0M380.1 42.6h0M376.2 47h0M376.8 34.3h0M374.1 30.3h0M373.2 38.5h0M382 30.3h0M378.2 33.8h0M375.1 46.9h0M373.3 40.2h0M373.9 50.1h0M376.8 34h0M379.7 40.3h0M377.1 35.7h0M378.6 47h0M376.8 34.2h0M375.4 34.6h0M378.6 43.5h0M378.4 34h0M378.6 42.6h0M375.1 37h0M372.8 28h0M382.4 32.2h0M378.2 35.5h0M372.7 49h0M368 28.5h0M376.7 41.2h0M380.1 39.9h0M382.5 32.5h0M370.6 49.2h0M375.5 30.1h0M372.3 30.5h0M381.6 37.1h0M370.3 46.1h0M379.9 36.1h0M377 40.8h0M370.3 44.8h0M377.5 33.1h0M378.5 47.1h0M377.1 44.2h0M371.6 47.8h0M369 47h0M373.3 46.9h0M376.9 34.3h0M380.5 43h0M380.7 32.8h0M378.6 30.8h0M380.1 35.1h0M370.5 51h0M377 42.8h0M382.7 36.7h0M372.1 39.5h0M369.5 51.7h0M378.2 31.9h0M373.3 50.5h0M379 35.3h0M381.5 42.3h0M369.2 48.4h0M373.9 43.2h0M374 35h0M376.7 47.9h0M369.7 45.7h0M375.1 29.8h0M373.7 30.3h0M381.6 40.9h0M381.9 35.2h0M375.5 45.6h0M378.2 43.1h0M371.4 39.9h0M371.6 28h0M375 30.3h0M377.8 40h0M370.8 46.2h0M381 37.1h0M379 33.7h0M375.8 36.7h0M378.6 31.3h0M375.8 48.9h0M377.5 30.4h0M378.3 35.3h0M372 28.1h0M376.5 31.5h0M377.3 41.3h0M380.1 42.9h0M376.7 39.9h0M377.5 44.6h0M377.6 36.3h0M372.5 47.8h0M382.6 35h0M373.3 47.5h0M379.7 42h0M383 33.3h0M375.5 41.1h0" stroke="#A8A02B" stroke-width="1.0" stroke-linecap="round" fill="none"/>
<path d="M370.1 47.4h0M359.2 44.4h0M370.4 30.2h0M354.7 40.3h0M362.3 34.3h0M363.4 51.6h0M361.9 44.7h0M360.2 51h0M356.5 50.2h0M358.2 39.2h0M357.7 43.5h0M362.4 46.6h0M369.6 45.7h0M362.8 46.1h0M354.9 43.6h0M373.1 39.5h0M360.4 49h0M352.7 35.8h0M370.1 51.2h0M367.3 44.9h0M368.8 39.3h0M367.2 46h0M358.6 53.4h0M361.5 39.4h0M355.6 42.3h0M367.4 47.5h0M372 37.7h0M366.4 39.5h0M356.6 48.4h0M372.3 48.1h0M365.3 29h0M353.2 34.5h0M361.2 50.5h0M366.1 49.7h0M368.3 41.5h0M373.3 43h0M369.2 33.7h0M366.6 44.9h0M350.5 44.3h0M363.6 38.6h0M358.5 45.6h0M368.8 46.9h0M373.7 49.5h0M363.5 49.6h0M364.4 34.1h0M365.6 40.3h0M358.1 49.3h0M361.6 36.6h0M356.2 31.6h0M360.8 29.9h0M362.4 43.8h0M367.8 47.7h0M364.2 38h0M359.6 42.9h0M366.2 45.4h0M362.6 47.3h0M359.5 51.7h0M367.5 37h0M364.4 49.5h0M373.7 48.1h0M359.6 53.4h0M374.4 44.7h0M359.7 46.6h0M373.3 41.5h0M356.2 41.7h0M375.9 31.6h0M353 50h0M372.7 37.8h0M353 36.2h0M361.3 35.3h0M366.7 38.2h0M361.8 47.1h0M348.9 40h0M365.1 52.7h0M362.6 52.8h0M357.4 53.1h0M361 38.4h0M352.7 41.9h0M367.5 44.5h0M356.9 41.7h0M362.8 44.7h0M368.7 51.3h0M363.8 50.4h0M354.2 48.4h0M359.6 38.7h0M367.9 39h0M369.1 45h0M362.3 42.2h0M369.4 50h0M366.2 48.8h0M353.4 39.2h0M356.7 42h0M354 33.3h0M364.5 38h0M361.4 36h0M354.3 44.8h0M354.8 51h0M357.5 36.4h0M361.5 28.4h0M358.6 43.7h0M356.7 39.3h0M361.6 36.7h0M368.2 40.9h0M357 33.5h0M359.1 33.5h0M362.2 32.4h0M347.4 40.2h0M354.9 29.5h0M357.2 40.5h0M360.5 46.8h0M360.4 43.8h0M355.7 37.5h0M363 43.8h0M375.5 33.5h0M355.4 42.4h0M363 30.1h0M360.4 33.4h0M357 38.4h0M363 37h0M360.1 34.4h0M363.2 41.1h0M365.3 46.9h0M369.4 45.3h0M364.6 46.3h0M354.5 35.8h0M364.7 30.3h0M366.2 45.5h0M368.9 43.4h0M355.6 37.3h0M358.3 38.6h0M356.3 43.4h0M366.1 39.7h0M364.4 50.8h0M365.2 43.4h0M356.9 41.8h0M354.2 34.1h0M368.1 50h0M369.1 40.4h0M365.7 47.5h0M355 50.6h0M362 48.9h0M367.9 46.7h0M368.2 49h0M357.2 36.9h0M363.9 44.6h0M367.4 35.6h0M365 44.2h0M361.6 38.2h0M369.7 37.6h0M362.6 52h0M367 42.7h0M371.3 43.6h0M360.8 35.3h0M366.9 43.6h0M361.9 47.7h0M362.5 53h0M355.2 41h0M363.4 51.7h0M366.3 52h0M360.2 43.7h0M357.8 34.2h0M362 30.5h0M360.9 47.5h0M365.6 33h0M364.4 44.9h0M360.5 40.9h0M367.9 45.7h0M363 33.3h0M363.4 37.8h0M371.9 47.8h0M372.8 49.2h0M365.8 40.9h0M365.6 49.5h0M367.5 51.7h0M363.7 48.2h0M366.1 50.7h0M373.8 32.4h0M357 43.6h0M362.5 42.9h0M355.6 30.8h0M372.6 42.6h0M367.7 51.4h0M366 47.4h0M361.8 37.4h0M365.7 52.4h0M358.2 45.2h0M361.9 36.1h0M370.2 43.8h0M354 36.5h0M351.8 35.7h0M362.7 47.5h0M352.7 38.2h0M369.3 50.9h0M363.5 40h0M372.5 38.2h0M364.3 30.2h0M356.5 37.5h0M367.8 40h0M365.1 37.5h0M360.8 31.3h0M366.1 45.6h0M353.8 37.2h0M361.8 35.4h0M362.4 45.9h0M353.9 39.3h0M354.1 34.2h0M357.1 42.8h0M361.9 40.5h0M364.7 45.1h0M366.8 43.6h0M356.5 40.5h0M364.4 32.8h0M355.4 43.1h0M359.1 33.5h0M361.1 33.6h0M366.1 40h0M361.1 44.8h0M352.8 34.8h0M355.3 42.2h0M356.3 36.1h0M365.1 41.8h0M372.4 37.9h0M352.8 42.2h0M368.8 37.5h0M368.8 39h0M360.4 47.4h0M361.7 48.2h0M358 45.7h0M351.6 38.8h0M356.8 41.7h0M365.1 41.1h0M366.7 36.2h0M362.3 44.9h0M370 47.9h0M372.1 44.6h0M348.8 40.5h0M371.5 33.9h0M356.4 45.2h0M358 39.7h0M359 40h0M371.2 49.5h0M367.4 39.4h0M357.2 43.2h0M367.2 38.6h0M359.2 38h0M367.4 48.5h0M357.4 43.9h0M357.4 40.1h0M354.8 41.2h0M366.6 46.2h0M370.1 47.3h0M355.2 50.2h0M357.4 52.1h0M366.2 42.1h0M365.5 42h0M368.4 45.8h0M352.9 37.6h0M354.7 42.5h0M369.8 39.6h0M365.7 32.2h0M356.4 35h0M370.1 45.9h0M365.7 48.9h0M354.4 42.4h0M357 46.4h0M360.4 48.2h0M358.3 39.5h0M361.7 38.2h0M376.7 42.7h0M348.4 42h0M365 48.9h0M365 40.3h0M361.5 31.7h0M361.1 44.1h0M356.3 34.6h0M358.8 41.3h0M359.6 42.6h0M361.1 42.5h0M364.9 29.8h0M364.2 43.4h0M345.2 51h0M358.3 47.3h0M361.6 43.7h0M356.5 38.9h0M362.9 32.7h0M368.9 48.3h0M357.8 44.2h0M366.9 39.3h0M361.1 27.1h0M360.2 45.8h0M351.9 34.8h0M347.4 39.2h0M362.5 28h0M367.1 37.9h0M368.7 36.4h0M366.2 37.7h0M359 42.5h0M363.1 28.7h0M353.7 42.6h0M373.3 47.5h0M355.8 38.2h0M360.6 43.7h0M350.1 42.7h0M359.1 37.3h0M355.6 35.6h0M369.9 36.2h0M364.8 35.7h0M364.8 50h0M357.6 32.3h0M371.6 40.3h0M360.6 36.1h0M369.7 47.7h0M362.6 45.6h0M368.8 45.8h0M364.2 47.4h0M366.7 46.7h0M368.3 47.3h0M361.7 34.9h0M369.1 50.9h0M362.3 43.5h0M360.2 41.1h0M369.5 43.3h0M356.1 51.6h0M374.9 38.1h0M367.3 44.5h0M360.2 39.5h0M367.5 40.6h0M350 50.1h0M354.1 35.1h0M360.4 41.7h0M368.4 42.4h0M360.5 41.8h0M356.6 43.8h0M367.4 51.7h0M363.5 38.9h0M369.6 45.7h0M369.8 42.3h0M368 49.5h0M366.2 47.8h0M365.4 52.9h0M361 43.9h0M364.5 40.4h0M366.8 39.9h0M365.7 49h0M364.3 40.8h0M362.4 43h0M356.6 40.9h0M356.8 44.5h0M362.7 43.2h0M357.6 45.3h0M368.5 44.7h0M363.8 33.5h0M366 51.5h0M370.9 47.6h0M349.1 36.9h0M371.7 43.8h0M370.8 38.2h0M367.4 50.1h0M358.9 51.6h0M348.5 34.8h0M367.8 46.5h0M363.2 39.1h0M368.3 40.2h0M362.4 46.2h0M372.1 44.8h0M360.4 28.1h0M368.6 44.9h0M350.8 40h0M356.8 41.4h0M362.8 47h0M356.3 39.4h0M360.7 35.7h0M367 40.9h0M365.6 30.1h0M364.8 46.9h0M350.8 45.5h0M355.8 41.2h0M356.8 41.6h0M362.7 50.8h0M360.8 50.5h0M358.7 36.9h0M353.4 34.4h0M367.8 52h0M355.6 35.6h0M363.6 36.2h0M351.7 38.8h0M346.4 39.8h0M353.5 36.7h0M364.7 49.4h0M364.1 44.9h0M367.5 41.5h0M371.7 42.3h0" stroke="#F3776F" stroke-width="1.0" stroke-linecap="round" fill="none"/>
<path d="M359.2 33h0M368.4 33.6h0M361.2 40.6h0M368.5 31.6h0M364.1 32.6h0M358.4 42.6h0M358 40.5h0M368.9 33h0M373.6 40.4h0M368 32h0M373.9 37.7h0M360.9 38.5h0M365.1 32.6h0M356.5 34.3h0M359.1 40.3h0M358.5 41.1h0M365.2 32.5h0M372.5 39.5h0M368.3 31.7h0M358.5 33h0M365.8 39h0M366.5 33.7h0M375.4 37h0M360 33.1h0M367 45.3h0M367 35h0M366 32.6h0M361.8 41.2h0M369.2 40h0M365.9 35.5h0M371 36.7h0M369.4 36.1h0M362.6 37.2h0M360.6 43.2h0M361.5 40.4h0M363 40.6h0M375.2 42.1h0M367.9 32.6h0M362.2 38.2h0M364.1 34h0M368.7 32.8h0M366.9 41.7h0M368 33.7h0M369 37.4h0M367.6 34.3h0M363.1 35.2h0M361.6 36.9h0M375.4 39.4h0M365.7 41.6h0M367.9 45.3h0M371.2 42.2h0M368.4 34.5h0M370.6 41.7h0M366.2 30.6h0M368.5 37.1h0M371 38.5h0M361 40.4h0M365.5 39.2h0M368.9 39.3h0M365.5 29.7h0M367.7 36.8h0M370.2 42.2h0M368.4 39.1h0M362.7 33.8h0M367.4 33h0M374.9 39.5h0M360.6 34h0M359.9 37.4h0M370.3 33.8h0M366.7 35h0M376.9 36.3h0M369.1 33.3h0M363.6 31.4h0M365.9 32.7h0M369.2 33h0M373.2 31h0M367.7 35.7h0M367 32.9h0M369 31.7h0M369.2 31.8h0M364.1 35h0M367.8 32.7h0M368.6 33.6h0M358.8 42.6h0M364.5 36.1h0M366.2 33h0M363.4 37.1h0M370.6 38h0M362.9 32.7h0M365.4 30.4h0M370.2 31.3h0M364.5 38.3h0M370.3 32.9h0M369.4 32.3h0M367 40.5h0M360.4 33.9h0M365.9 43.1h0M362.1 44.1h0M367.8 34.1h0M364.4 43.2h0" stroke="#2DB870" stroke-width="1.0" stroke-linecap="round" fill="none"/>
<path d="M338.8 49.7h0M341 50.1h0M340.2 48.4h0M341.5 49.4h0M340.5 45.2h0M340.8 50h0M341.3 48.1h0M339.4 43.4h0M341.3 46.7h0M339.9 45.3h0M339.9 47.1h0M339.1 48.2h0M342.1 49h0M342.6 49.9h0M342.2 39.9h0M340.8 44.2h0M340.8 45.6h0M341.2 45.7h0M341 47.3h0M339.6 47.5h0M342.1 47.3h0M342.7 50.1h0M339 45.5h0M340.3 46.1h0M339.8 49.1h0" stroke="#C8962B" stroke-width="1.0" stroke-linecap="round" fill="none"/>
<path d="M345.2 39.6h0M357.3 51h0M350.9 50.4h0M342.5 48.6h0M349.1 47.9h0M356.7 47.1h0M360 52.9h0M345 48.8h0M343.3 50h0M353.1 47.1h0M369.5 47.8h0M352.3 50.5h0M349.6 47.9h0M347.9 43.3h0M349 46.9h0M348.4 43.6h0M340.9 47.1h0M340.5 47.7h0M344 51.5h0M368.5 49.4h0M348.6 50.6h0M361.5 50.3h0M352.5 43.5h0M346 42.2h0M355.1 47.6h0M345.1 51.1h0M345.3 47.7h0M370.9 40.6h0M354.2 46.5h0M370.9 41.6h0M361.5 51.6h0M343 37.7h0M352.1 46.2h0M356.6 41.7h0M354.6 46.9h0M339.2 40.5h0M347.9 47.5h0M351.8 47.3h0M348.9 41.2h0M340.7 34.8h0M348.2 43.5h0M357.9 50.2h0M345.3 42.6h0M360.4 47.9h0M351.2 46h0M363.7 50.1h0M365.6 35.8h0M350.8 50.8h0M349.3 40.5h0M339.9 43.8h0M345.4 48.5h0M342.6 43.3h0M347.1 43.8h0M353.8 50.1h0M359.8 49h0M367.6 48.8h0M340.3 40.1h0M359.2 50.2h0M354.4 47.6h0M353.4 45.9h0M354 50.7h0M343.3 46.9h0M357.5 50.9h0M346.5 49.7h0M351.8 43.5h0M356.3 42.4h0M363.3 52.3h0M354.3 48.8h0M356.5 50.4h0M370.9 46.7h0M357.3 52.7h0M348 48.2h0M347 50.9h0M353.6 46.9h0M344.9 49.1h0M353.8 45.9h0M346 38.4h0M359.7 47.2h0M361.8 53.6h0M358.3 34.3h0M355 39.2h0M354.4 44.1h0M368.6 37.7h0M356.6 41.7h0M341.7 45h0M342.7 44.6h0M344.2 45.6h0M350.7 47.7h0M355.4 38h0M352.3 44.2h0M358.6 50.6h0M338 34.8h0M341.9 44.6h0M349.6 37.1h0M366.1 52h0M350.1 44.1h0M339.8 42.4h0M344.4 48h0M341.3 42.1h0M340.6 41.8h0M370.3 43.1h0M351.1 47.5h0M350.4 45.6h0M350.7 38.2h0M360.6 34.9h0M362.6 50.4h0M340.3 39.5h0M361 52.5h0M349.2 46.5h0M341.7 46.1h0M342.8 44.7h0M338.8 37.7h0M357.8 51h0M355.6 48.7h0M360.3 37.9h0M345.4 49.2h0M351.5 46.1h0M354.1 47.4h0M363.3 50.6h0M342.8 45.1h0M363.8 35.1h0M352.5 48h0M346.3 41.1h0M343.6 39.8h0M344.5 47.5h0M374.1 49.1h0M355.2 50.6h0M342.8 48.5h0M348.2 43.1h0M345.1 49.7h0M349.3 40.9h0M366.4 41.5h0M364.4 48.1h0M347.3 43.8h0M359.4 49.4h0M358.8 46.7h0M355.2 44.8h0M357.5 48.5h0M369 44.5h0M352.5 44.9h0M349.6 50.1h0M371.5 41.7h0M348.8 47.4h0M372.9 45h0M354.8 46.3h0M354.5 39.8h0M353.6 44.9h0M346.1 41.3h0M341.9 48h0M340 40.1h0M355.1 44.1h0M368.1 39.6h0M343.8 46.4h0M363 46.4h0M362 41.4h0M347.8 49.1h0M343.8 46.7h0M341.9 39.8h0M349.8 48.6h0M349.1 45h0M364.9 50.5h0M349.4 46h0M369.2 48.8h0M365.6 47.6h0M353.5 44.4h0M343.5 40.3h0M361.3 49.3h0M359.5 53.4h0M349.7 49.7h0M364.9 44.9h0M349.4 52.4h0M350 45h0M346.3 52.3h0M357.2 52.2h0M363.4 50.2h0M359.3 49.5h0M356.7 39.8h0M344.5 41.5h0M342.9 45.4h0M353.6 47h0M365 49.7h0M349.1 39.2h0M347.7 43.2h0M348 43h0M341.8 40.9h0M360.3 44h0M349.5 49.7h0M340.7 50.7h0M359 41.9h0M368.9 49.6h0M347.1 40.7h0M373.5 41.3h0M361.1 47.6h0M353.7 39.2h0M340.8 36.9h0M340.7 39.2h0M340.5 49.2h0M352.1 43.9h0M347.9 51.7h0M365.7 48.4h0M340.5 42.1h0M356.9 45.5h0M343.3 44.4h0M363.9 47.4h0M350.9 47.7h0M346.3 37.2h0M348 37.2h0M352.9 52.5h0M341.4 42h0M360.8 48.5h0M368.5 48.4h0M347 37.7h0M354.4 43.2h0M346.2 50.9h0M357.5 50.9h0M343.4 40.6h0M356.9 47.5h0M353.4 44.9h0M343.6 49.3h0M361.6 35.9h0M339.7 44.2h0M341.1 46.6h0M356.8 46.5h0M356.5 47.3h0M356.7 52.7h0M353.2 42.7h0M363.5 50.9h0M346.9 40.8h0M348.2 43.8h0M344.4 44.9h0M355.9 50.2h0M363 47.8h0M347.7 50h0M340.1 46.4h0M340.7 48.8h0M343.3 44.1h0M349.7 51h0M360.2 49.3h0M359.3 48.7h0M370.6 50.5h0M352.1 50.3h0M340.3 40.8h0M351.7 36.9h0M359 51.7h0M359.5 53.6h0M351.7 51.3h0M349.7 40.9h0M353.4 39.5h0M350.2 37.3h0M353.5 41.5h0M352.9 49.8h0M347.2 46.5h0M348.4 48.6h0M366.4 46.8h0M347.6 37.4h0M344.4 41.9h0M340.1 41.8h0M348.1 48.5h0M358.2 43.8h0M343.7 46.7h0M342.4 49.4h0M364.2 51.5h0M355.3 45.6h0M346.1 46.2h0M348.5 40.1h0M351.7 36.8h0M348.1 48.6h0M346.4 51.4h0M355.4 51.6h0M345.2 46.8h0M354.2 46.7h0M348.6 49h0M367.4 51.1h0M359.1 52.3h0M353.3 41.8h0M348.8 43.4h0M345.6 46.6h0M347.9 39.5h0M349.6 49.5h0M358.2 50.8h0M353.8 44.9h0M353.8 51.9h0M351 41h0M343.7 38.6h0M367.5 47.1h0M362.4 47.8h0M345.7 40.5h0M349.8 41.6h0M357.3 45.1h0M367.6 47.6h0M338.6 37.8h0M345.8 42.8h0M353 50.5h0M360.2 48.8h0M343.1 50.6h0M341.6 42.4h0M353.2 51.1h0M342.8 40.7h0M341.6 41.6h0M356.1 38.8h0M349 42h0M347 41.8h0M361.9 44.4h0M353.7 43.3h0M342.1 50.2h0M349.3 52h0M360.1 41.3h0M358.1 48.8h0M353.3 51.6h0M344.4 42h0M344.1 41.9h0M363.7 45.6h0M340.8 44.7h0M363 52.4h0M361.5 46.5h0M352.9 46.6h0M344.4 45.3h0M349.3 48h0M350 39.9h0M349.7 43.7h0M359.4 34.1h0M359.3 45.2h0M340.9 46.8h0M342.8 47.5h0M367.9 36.4h0M347 40.7h0M359.4 51h0M350.3 47.3h0M362 51.4h0M358 35.3h0M357.5 42.6h0M343.7 41.4h0M362 44.2h0M355.8 46.2h0M350.2 48.7h0M339.9 40h0M350.4 43.6h0M340.7 37.7h0M362.7 52.5h0M345.1 51h0M363.9 53.3h0M354.6 46.6h0M350.1 41.3h0M351.1 38.6h0M347.3 49.1h0M365.9 43.8h0M360.5 39.4h0M352 45.9h0M346.9 47.7h0M360.5 43.8h0M342.7 51.2h0M350.9 52.5h0M340.4 41.2h0M343.8 40.2h0M345 44.4h0M349 50.5h0M360.5 53.2h0M361.2 53.1h0M344.4 40.3h0M351.6 50.8h0M345.7 43.3h0M340.5 41.1h0M368.5 47.3h0M344.3 44.9h0M362.1 50.9h0M357.3 41.3h0M361.5 48.6h0M355 53.3h0M369.7 49.5h0M352.6 36.7h0M346.9 39.8h0M354 44h0M360.5 45.7h0M340.3 41.7h0M342.1 39.5h0M347.9 37h0M342.3 49.9h0M359.2 51.7h0M349.3 51.5h0M359.5 51.7h0M344 43.6h0M351.1 44.9h0M345.2 44.3h0M356.7 43.7h0M357 48.9h0M366.2 46.4h0M343.6 46.3h0M355.7 50.6h0M350.4 39.2h0M347 47.2h0M352.5 45.9h0M364.5 52.6h0M348.6 49.8h0M339.4 41.9h0M361.9 43.8h0M360.2 49.8h0M340.7 45.4h0M354.2 45.4h0M342.1 50.5h0M365 46.2h0M344 45.2h0M359.8 50.8h0M345.5 48h0M350.2 45.5h0M349.4 41h0M350 38.4h0M349.4 39.2h0M347.3 42.9h0M344 49.6h0M367.4 52.2h0M356.2 46.7h0M361.3 38.4h0M364.9 46.9h0M343.2 44.1h0M345.3 42.4h0M344.4 38.8h0M348 46.5h0M347.5 51.6h0M355.4 35.1h0M347 38.6h0M347.9 50.1h0M370.8 42.4h0M342.3 49.6h0M354.3 46h0M355.3 46.9h0M343.4 43.4h0M359.2 51.7h0M360.8 49.9h0M367.9 51.6h0M341.9 47h0M345.6 44.4h0M340.3 51h0M349.1 49.4h0M360.8 47.3h0M359 52h0M345.9 50.1h0M339.9 49.9h0M344.4 36.9h0M357.1 51.6h0M342.8 50.6h0M349.7 40.6h0M352.1 47.4h0M341.7 42.5h0M351.4 44.2h0M341.2 45.9h0M339.2 37.6h0M358.5 51.3h0M344.8 38.1h0M344.4 46.5h0M350 50.9h0M347.8 46.1h0M356.2 47h0M359.7 49.4h0M344 43h0M363.8 53.2h0M353.6 51.9h0M354.2 46.2h0M353.1 43.9h0M355.2 45h0M352.9 49.3h0M354.4 40.8h0M348.6 46.9h0M360.2 43.3h0M357.7 41.7h0M351.7 42.2h0M350.3 41.1h0M349.3 39.5h0M354 52.6h0M360.5 46h0M347.5 42.5h0M354.4 45.4h0M347.5 48h0M346.5 41.6h0M349.5 52h0M344.5 48.8h0M350.8 51.5h0M344.6 47.9h0M343.4 48.4h0M349.1 40.3h0M341.8 42.1h0M368.4 42h0M355.3 44h0M355.7 52.2h0M372.9 39.8h0M344.1 40.8h0M349.3 50.7h0M344.9 43.6h0M358.8 50.1h0M354.7 47h0M356.6 49.2h0" stroke="#7FAA30" stroke-width="1.0" stroke-linecap="round" fill="none"/>
<path d="M356.5 30.8h0M365 34.8h0M339.7 38.3h0M372.9 31.9h0M356.1 32.6h0M365.3 28.2h0M340.2 35.5h0M350.1 31.8h0M358.7 31.9h0M355.3 32h0M352.2 28.3h0M339.6 33.1h0M361.2 29.4h0M345.2 37h0M342.5 38.1h0M344.3 36.1h0M347.9 36.2h0M348.5 34.4h0M351.9 36.6h0M348.9 34.4h0M346.7 36.1h0M371.8 31.6h0M344.1 34.3h0M353.5 31.5h0M359.3 27.5h0M348.1 34.7h0M353.8 35.3h0M358.9 29.4h0M339.6 32.4h0M346.8 34.9h0M349.1 29.6h0M355.6 30.9h0M345.6 34.5h0M343.8 31.8h0M354.3 27.6h0M365.4 27.5h0M340 34.2h0M342.9 38.8h0M348.2 34.1h0M364 29.2h0M360.4 29.4h0M348.4 30.4h0M361.3 27.3h0M370.7 28.5h0M349.5 33.9h0M350.1 29.6h0M350 34h0M350.9 31.6h0M364.5 32.6h0M353.8 28.7h0M339.4 35.7h0M360.2 28.4h0M348.5 34.4h0M338.6 37.4h0M348.9 30.1h0M347.4 34.3h0M359.2 34.7h0M363.1 28.3h0M350.5 29.8h0M344.3 37h0M343.4 33.6h0M346.8 35.3h0M338.9 38h0M357.4 29.7h0M354.7 28.7h0M350.6 36.1h0M341.2 34.4h0M352.4 33.5h0M346.3 32.7h0M354.6 28.8h0M355 30.9h0M346.3 30.9h0M358.7 30.4h0M366.5 32.3h0M361.8 28.3h0M358.3 32.8h0M368.5 27.5h0M354.8 29.1h0M358.7 31h0M361.4 27.5h0M346.9 34.1h0M359.3 28.8h0M363.9 28.8h0M343.2 33h0M370.1 29.6h0M346.5 33.1h0M372 26.8h0M363.6 29.2h0M357.4 27.6h0M351.9 38.5h0M342.8 35.4h0M351.7 30.4h0M341.1 34.8h0M361.8 34.2h0M347 31.4h0M338.9 36.4h0M345.2 32.4h0M352 29.5h0M383.3 36.7h0M349.6 32.2h0M346.1 34h0M346.8 31.9h0M372.3 31.8h0M360.3 29.2h0M368.2 29.7h0M360.5 31.4h0M344.8 31.8h0M349 35.3h0M370.3 30.9h0M349 29h0M345.1 34.4h0M373 32.2h0M364.8 27.1h0M352.6 37.7h0M344.4 32.6h0M358 35.2h0M357.2 33.1h0M365.9 32.9h0M338.7 36.3h0M367.6 29.2h0M354.6 29.1h0M355 28.6h0M351.8 33.6h0M357.3 30.5h0M337.8 33.8h0M345.8 34.1h0M349.7 30.4h0M354.7 33.5h0M371.4 29.8h0M358.8 30.4h0M357.8 28.4h0M348.1 34.1h0M341.3 39.2h0M355.3 30.5h0M352.5 34.9h0M354.8 28.8h0M343.2 34.7h0M364.6 34.8h0M354.2 32.2h0M360.4 28.3h0M348.3 30.5h0M365.4 28.6h0M342.9 36.5h0M339.3 36.6h0M344.1 36.6h0M361.7 30.1h0M348.1 34.9h0M362.5 33.6h0M356.1 34.4h0M360.9 32.3h0M357.1 27.7h0M357.6 27h0M344.4 34.3h0M355.7 36.7h0M353.1 37.4h0M356.7 31.7h0M356.9 30.4h0M350.4 36.4h0M349.8 31.3h0M362.4 31.1h0M355.6 29h0M354.2 31.2h0M346.7 34.6h0M352.6 30.7h0M349.3 33.1h0M351.6 30.1h0M340.4 31.8h0M373.9 39.4h0M370.4 29.7h0M372.4 28.7h0M353.4 29.2h0M345.5 36.6h0M366.7 28.4h0M342.5 36.3h0M344.2 33.9h0M341.1 36.8h0M348.9 28.9h0M357.5 28.6h0M350.8 33.2h0M359.1 27.3h0M355.1 30.1h0M373.2 30.4h0M366.2 33.2h0M340.7 34.8h0M369.3 26.8h0M355 29.6h0M363.5 32.2h0M357.3 34.3h0M370.6 30.3h0M349.5 34.4h0M346.5 34.4h0M349.7 29h0M350.6 29.8h0M346 35.5h0M348.1 31.4h0M374.1 29.2h0M347.8 31h0M356.5 34.8h0M352.8 34.2h0M371.1 31.2h0M343.7 30.8h0M344.5 32.9h0M361.3 35.4h0M342.3 35.1h0M360.9 28.6h0M349.8 30.2h0M338.4 35.4h0M355.1 30.9h0M357.9 28.9h0M356.3 33.7h0M339.7 34h0M340.4 33.9h0M346.6 29.6h0M357.5 34.5h0M340.5 37.4h0M347.1 30.9h0M344.9 35.6h0M344.9 34.3h0M354.4 36.8h0M371.2 29.9h0M345.3 31.4h0M365.7 31.1h0M361.3 27.3h0M351.8 33h0M359.2 29.1h0M339 37.7h0M350.4 35.1h0M346 32.8h0M350.1 36.5h0M350.5 30.7h0M339 36.5h0M346.4 32.8h0M367.5 28.1h0M351 33.1h0M359.4 33.3h0M345.2 40.7h0M354.6 33.5h0M347.4 31.5h0M348 33h0M369.6 34.7h0M353.8 36.1h0M349 31.6h0M350.8 31.9h0M349.6 34.5h0M347.9 35.4h0M359.1 27.5h0M351 34.9h0M356.6 28.5h0M353.8 31.7h0M349.2 36.4h0M345.4 29.8h0M349.3 33h0M366.8 27.8h0M363 26.9h0M341 34.7h0M353.5 28.6h0M365.2 34.1h0M352 33.2h0M355.8 29.4h0M352 32.3h0M363.3 29h0M349.2 33.9h0M345.3 30.7h0M354.6 26.9h0M340.8 35.1h0M355.6 32.7h0M345.7 32.9h0M351.8 29.9h0M351 31.2h0M341.4 35.3h0M358.2 26.8h0M342.9 35h0M343.3 33.3h0M347.9 33.9h0M356.5 31.2h0M363.1 32.1h0M367.7 28.6h0M342.3 38.8h0M347.5 31.7h0M350.2 29.9h0M345.9 30.2h0M352.3 28.9h0M363.9 29.7h0M352.5 32.2h0M344.2 37.7h0M362.3 32.9h0M351.6 29.6h0M349.5 30.4h0M356.4 39.3h0M365.8 29.4h0M345.5 35.2h0M357.3 33.5h0M365.9 37.1h0M354.6 31h0M354.8 34.9h0M359.8 27.4h0M354.7 31.7h0M353 29.7h0M349.5 33.8h0M352.3 29.8h0M345.8 35.3h0M353.7 30.1h0M368.5 28.4h0M352.4 28.3h0M348.3 31.1h0M349.5 36.9h0M340.4 36.8h0M346.1 30.7h0M362.8 28.1h0M365.4 27.9h0M341.7 31.5h0M365.3 27.1h0M365.2 28.8h0M365.7 32h0M344.3 36.5h0M348.2 29.5h0M351.4 37h0M353 29.1h0M362.9 29.6h0M357.6 31.6h0M342.4 32.3h0M344.8 32.8h0M349.8 33.7h0M370.4 31.4h0M350.7 32.6h0M350.5 31.7h0M344.7 32h0M342.4 31.5h0M368.8 31.2h0M371.7 30.2h0M347.2 34.3h0M367.7 27.1h0M343.1 34.2h0M344.4 34.5h0M361.8 27.2h0M357.4 31.4h0M340.7 32.6h0M342.6 32.3h0M354 37.6h0M340.6 39.5h0M349.4 34.7h0M349.2 29.3h0M338.5 34h0M357.3 32.5h0M361.5 29.6h0M340.4 32.9h0M346.6 30.9h0M354.3 32.4h0M344.1 39.6h0M344.8 34.1h0M358.6 29.5h0M350.2 36.4h0M374 31.6h0M353.9 38.5h0M370.8 27.2h0M376.3 28.2h0M348.1 34.7h0M370.2 39.3h0M357.6 35.3h0M354.2 28.7h0M341.9 31.9h0M342.4 37.3h0M354.5 33.5h0M362.5 33.1h0M345.9 30.9h0M348.6 31.7h0M356.3 30.7h0M338.7 34.2h0M369 28.2h0M364.8 31.1h0M350.2 31.9h0M369.1 28.8h0M357.8 32.9h0M343.3 33.2h0M346.8 32.3h0M372.9 27.2h0M362 27.7h0M349.3 36.4h0M356 27.7h0M363.9 33.1h0M358.2 33.6h0M359.1 27.9h0M369.7 27.2h0M346.5 30.1h0M347.3 29.9h0M364.8 30.6h0M356.4 37.8h0M363.9 28.8h0M359.2 34.8h0M359.2 30.1h0M338.6 34.1h0M358.1 28.3h0M368.5 28.7h0M348.7 40.2h0M368.4 32.6h0M354.2 30.8h0M353.2 31.5h0M363.7 27.8h0M363.4 28.4h0M359.2 32h0M367.5 34.6h0M358.4 33.9h0M351.9 30.3h0M364.3 30.1h0M352.4 30.6h0M364.8 28.1h0M348.9 34h0M359.5 28.2h0M350.1 33.1h0M359 32.6h0M347.8 33.3h0M365.1 32.6h0M345.3 36.7h0M342.7 34.6h0M349.2 30.6h0M346.2 30.6h0M347.8 33.5h0M363.9 28h0M347.6 30.7h0M370.2 34.3h0M353.9 29.4h0M353.9 36.2h0" stroke="#E2871C" stroke-width="1.0" stroke-linecap="round" fill="none"/>
<path d="M371.2 42.3h0M372.2 50.2h0M374.7 37.9h0M380.6 33.9h0M381.4 35.8h0M376.5 46.8h0M375.9 41.7h0M378.1 30.6h0M378.1 41.5h0M380.8 30.8h0M379.8 44.3h0M371.1 31.7h0M370.2 44.7h0M381.4 29.8h0M376 30h0M380.1 41.9h0M375.2 28.2h0M381.6 42.4h0M379.7 31.9h0M379.2 42.9h0M380.8 36h0M380.8 38.2h0M371.1 37.9h0M380.1 44.8h0M377.9 34.7h0M374.2 49.8h0M371.9 36.1h0M381.1 29.2h0M382.6 38.9h0M373.1 38.2h0M374.3 35.3h0M378.1 42.4h0M382.2 40.9h0M373.3 49.3h0M376.5 41.5h0M379.1 31.7h0M374.4 40.1h0M376.7 38.4h0M380.6 34.8h0M377.3 36.5h0M378.8 32h0M383.1 32h0M373.8 37.3h0M377.5 28.4h0M379.9 38h0M376.2 40.9h0M376.1 40.6h0M371.8 28.7h0M379.3 40.1h0M375.3 49.6h0M378.8 30.5h0M376.6 47.4h0M374.6 49.7h0M375.4 34.8h0M383.3 35.4h0M373.5 50h0M375 49.7h0M376.4 37.5h0M377.5 36.3h0M373.4 40.2h0M383 37.8h0M372.2 40.3h0M373.7 45.6h0M374.5 48.7h0M383.9 35.6h0M371.7 28.8h0M378.6 39.9h0M379.8 36.9h0M380.8 36.9h0M377.6 39.7h0M384.2 36.6h0M369.5 29h0M373.9 44.8h0M377.3 31.1h0M367.9 52.4h0M374 45.4h0M381.5 36.2h0M372.6 48h0M376.9 49.4h0M380.6 35.4h0M376.1 27.4h0M377.4 34.8h0M377.6 34.4h0M376.7 27.4h0M378.9 32.5h0M374.4 44.5h0M375.5 36.7h0M381.7 40.5h0M375.8 41.4h0M373 26.8h0M373.1 49.7h0M381.5 36.2h0M382.7 38.3h0M376.6 37.3h0M374.2 40.4h0M379.1 30.8h0M373.8 35.1h0M376.9 35.3h0M372.5 31.9h0M373.4 33.2h0M380.1 42h0M378.4 46.9h0M375.8 45h0M378.3 33.2h0M379.5 35.9h0M377.1 32.8h0M378 26.7h0M380.9 41.3h0M380.1 29.9h0M373.6 39.5h0M373.4 42.7h0M372.7 35.2h0M380.6 31.9h0M377.3 29.1h0M375.5 32.9h0M371.8 41.3h0M374.1 34.9h0M373.2 27.7h0M373.6 50.5h0M379.1 34h0M371.1 41.2h0M375.7 34.7h0M374.1 44.4h0M378 39.4h0M375.7 27.2h0M379.2 29.4h0M380.7 44.4h0M379.4 35.5h0M375.2 33h0M377.2 36.8h0M375.1 38.8h0M383.1 38.3h0M380.7 35.2h0M371.2 49h0M374.3 35.9h0M372.6 39.3h0M377.9 30h0M373.7 47.8h0M381.5 41.1h0M374.7 48.8h0M373.7 43h0M375.9 31.1h0M383 35.4h0M369.6 41h0M376.7 36.1h0M376.2 49h0M373.8 48.9h0M381.7 40.4h0M377.5 34.5h0M372.7 33h0M381.9 32.6h0M378.8 33.8h0M375.3 27.8h0M374 45.7h0M370.9 27.5h0M379.7 43.2h0M380.3 30.2h0M371.1 33.2h0M376 44.3h0M377.7 31.2h0M375.2 32.3h0M372.9 48h0M378.6 32.7h0M381.1 32.8h0M380.7 41.2h0M380.6 38.5h0M381 35.9h0M375.2 40.4h0M380.2 30.7h0M382.7 33.8h0M377.3 30h0M377.2 31.7h0M378.5 38.9h0M382 32.6h0M377.3 38.7h0M383 38.9h0M372.2 36h0M377.8 33h0M370.4 49h0M381.4 39.4h0M376.4 46.9h0M380.2 30.9h0M376.8 35.4h0M376.2 40.6h0M382.5 33.2h0M380.3 39.9h0M371.4 32.5h0M375.4 38.2h0M372.1 37.2h0M374.5 42.2h0M374.8 37.2h0M380.6 39.3h0M378.2 30.9h0M381.4 29.8h0M375.1 44.2h0M369.8 47.1h0M375.3 45.5h0M366.8 46.9h0M371.3 41.6h0M373.8 31.7h0M380.1 35.7h0M372.1 47h0M380.9 43.2h0M380.1 43.9h0M368.9 43.8h0M373.8 31.9h0M378.2 43.7h0M382.9 34.7h0M375.4 41.4h0M377.2 49h0M380.6 43h0M374.3 46.6h0M374.6 47.3h0M374.6 42.8h0M381.6 33.7h0M372.3 47.1h0M383.5 36.9h0M379.7 37.1h0M369 52h0M372.6 33.3h0M370.8 37.1h0M377.3 41.6h0M381.9 39.4h0M377.4 31.7h0M379 33.7h0M372.3 51h0M380.4 34.3h0M383.7 37.2h0M372.3 36.2h0M371.7 34.4h0M368.1 53h0M376.9 43.3h0M369.4 29.4h0M381 40.6h0M374.7 27.5h0M374.6 29.9h0M374.3 33.1h0M378.2 41.3h0M378.1 29.9h0M381.6 39.8h0M375.5 45.4h0M382.1 38.2h0M376.1 39.2h0M382 34.1h0M375.2 48.2h0M380.4 35.2h0M376.2 42.6h0M373.4 46.5h0M373.3 37.5h0M372.7 31.8h0M376.9 33.6h0M381.3 42.3h0M375 45.6h0M373.4 35.2h0M375.1 39.1h0M370.7 40.8h0M374.3 27.2h0M383 37.8h0M376.8 28.2h0M371.8 49.3h0M374.6 42.7h0M383.2 34.3h0M377.4 38.9h0M374.8 29.1h0M371.5 47.5h0M380.1 31.7h0M373.2 39h0M378 30.9h0M373.6 47.6h0M379 34.5h0M377.9 28.2h0M375.1 30.8h0M382 40.5h0M379.1 36.5h0M372.7 43.3h0M375.7 42.9h0M375.7 34.5h0M377.9 42.5h0M381.8 41.1h0M373.3 46.9h0M381.4 33.9h0M380.4 29.5h0M372.5 37.2h0M379 34h0M380.9 30.7h0M381 36.3h0M380.3 29.5h0M377.8 35.2h0M378.7 44h0M373 27.3h0M379.7 32.5h0M372.2 35.5h0M376.3 37.2h0M379.2 36.7h0M374.5 47.7h0M375.9 32.8h0M372.3 46.6h0M381.7 29.2h0M381.6 32.1h0M383.3 36.2h0M374.3 29.5h0M377.7 46.1h0M379.4 45.1h0M379.3 30.7h0M371 38.1h0M374 48.9h0M374.5 49.1h0M372.4 28.8h0M380 35.6h0M379.7 36.5h0M370.6 27.7h0M376.5 41.1h0M373.8 37.1h0M378 44.9h0M377.5 31h0M376 40.8h0M378.7 37h0M375 39.9h0M374.5 44.2h0M373 50h0M377.5 35h0M372.8 47h0M369.5 42.7h0M372.9 43.6h0M372.6 35.5h0M375.7 44h0M378.3 29.5h0M377.4 32h0M382.1 32.8h0M372.1 42.1h0M376 30.1h0M380.6 42h0M379.3 40.7h0M375.1 34.2h0M380.9 37h0M377.3 30.6h0M380.5 37.3h0M372.2 45.3h0M377.8 34.8h0M379.5 43.6h0M371.7 30.5h0M381.2 33.2h0M372.8 28.3h0M380.6 40.6h0M381.3 36.5h0M378.1 37.4h0M373 48.3h0M373.7 41.5h0M372.5 39.8h0M372.2 35.3h0M372.3 30.4h0M379.7 41.1h0M377.3 44.1h0M376.3 47.8h0M377.8 31.2h0M369.5 31.4h0M382.1 41.5h0M375 32.7h0M377.2 29h0M377.2 30.5h0M372.7 40.7h0M380.5 44.8h0M381.6 35.2h0M376 27.1h0M374.3 28.9h0M378.7 43.9h0M379.3 36.5h0M377.5 33.6h0M373.6 34.3h0M380.2 32.4h0M379.5 37.5h0M374.3 35.8h0M381.1 44.1h0M376.5 27.4h0M371.5 31.4h0M378.7 44h0M373.8 40.8h0M379.2 30.2h0M380.6 35.2h0M381.8 42.1h0M370.5 36.3h0M375.4 46.3h0M380.7 33.8h0M381.5 31h0M380.3 38.5h0" stroke="#A8A02B" stroke-width="1.0" stroke-linecap="round" fill="none"/>
<path d="M365.7 43.5h0M354.1 43.6h0M353.3 41.8h0M360.6 45h0M361.8 51.2h0M362.9 48.4h0M357.2 41.7h0M365 37.9h0M353.3 39.1h0M368.5 33.8h0M367.4 37.5h0M361.7 42.9h0M372.4 45.2h0M353.9 38.5h0M363.8 41h0M374.4 30.4h0M355 43.1h0M360.6 51.1h0M357.5 38.1h0M367.6 38.6h0M371.6 35.2h0M370.4 49.4h0M359.3 47.1h0M362.7 40.4h0M378.8 46.3h0M361.1 48.4h0M368.9 48.6h0M358.7 51.6h0M365.2 33.2h0M366.5 38.2h0M359.7 34.7h0M356 38h0M364.9 32.5h0M360.6 35h0M368.9 50.3h0M350.5 35.2h0M362.4 38.2h0M368.1 50.6h0M370.6 39.6h0M366.6 51.3h0M356.5 40.6h0M357.8 44.1h0M366.6 41.9h0M359.3 43.1h0M363.2 37.6h0M366.3 28.2h0M360.9 42h0M361.8 52.6h0M363.3 31.6h0M355.6 45.9h0M365.9 52.3h0M372.9 47.4h0M356 39.5h0M352.8 33.7h0M369.6 35.3h0M363.2 47.8h0M363.4 47.1h0M365.8 46.7h0M362.8 48.4h0M363 44h0M362.4 44.2h0M355.2 45.7h0M368.8 41.3h0M355.6 39.5h0M368.4 50.2h0M366.2 51.7h0M347.7 40.1h0M369.6 50.3h0M367.8 34.4h0M351.1 38.5h0M363.9 41.9h0M363.9 47.9h0M369 46.4h0M358.3 33.2h0M358.3 39.6h0M358.3 45h0M364.7 43.8h0M369.4 47.8h0M365.3 42.5h0M365.9 38.6h0M363.1 37.4h0M361 37.8h0M366.2 43.2h0M368.2 29.5h0M366.3 52.4h0M354.5 41.3h0M369.7 40.2h0M361.3 41.9h0M359.5 43.8h0M364.9 45.5h0M362 33.9h0M354.1 50.6h0M363.8 36.1h0M359.9 43.6h0M370.6 47.2h0M360 47.2h0M368 30.2h0M356.6 45.9h0M371.3 46.9h0M357.4 42.7h0M370.5 40h0M356.5 41.6h0M360.2 36.6h0M366.6 46h0M366.3 50.2h0M373.6 40.8h0M357.8 46h0M367.5 47.8h0M363.7 37h0M365 32.7h0M366.4 41.5h0M364.1 37.1h0M356 45.1h0M367.6 43.4h0M362.7 40h0M355.4 44.1h0M366.8 49.3h0M370.6 49.5h0M360.4 39.9h0M356.6 40.1h0M366.2 31.7h0M354 43.5h0M358.2 39.7h0M364.9 43.3h0M361.9 33.3h0M363 45.6h0M361.2 41.2h0M356.4 43.6h0M363.7 46.7h0M358 51.8h0M365.9 44.2h0M361.8 36.7h0M362.7 41.7h0M363.7 35.7h0M366.5 43.7h0M373.5 47.8h0M357.7 43.6h0M368.4 51.7h0M359.5 31.5h0M364.2 48.2h0M359.9 46.4h0M370.2 38.8h0M367.9 36.7h0M367.9 37.3h0M359.1 40.1h0M360.6 51.7h0M353.7 40.6h0M365.9 45.1h0M358.1 47.9h0M367.9 36.8h0M362.4 38h0M373.2 44.7h0M360.4 32.6h0M345.4 40.6h0M360.3 47.4h0M356.1 48.4h0M369.3 43.6h0M356.1 45.2h0M362.3 46.9h0M357.1 41.2h0M354.7 36.5h0M348.9 42.1h0M371 37.6h0M365.3 40.6h0M367 43.3h0M357 50.8h0M360.6 36.5h0M354.2 52.2h0M364.7 41.6h0M369.8 43.9h0M361.9 35.9h0M359.4 41.3h0M353.3 50.8h0M352.5 37.3h0M359.8 46.4h0M368.3 41.1h0M366.6 39.6h0M357.5 42.2h0M355.1 41h0M367.8 43.6h0M361.4 37.5h0M368 35.9h0M370.5 51.9h0M351.2 36.7h0M358.1 38h0M362.3 35h0M359.4 37.3h0M356.5 42.2h0M356 37.4h0M373.8 43.6h0M353.3 34.3h0M354.3 35.6h0M370.4 33.6h0M365.9 45.1h0M360.1 40.9h0M358.4 46.6h0M353.6 42.3h0M356.6 42.6h0M361.4 39.5h0M364.1 49.2h0M358.8 38.4h0M360.1 28.1h0M365.3 48.4h0M366.4 34.1h0M367.2 40h0M364.8 43.5h0M370.4 37.6h0M361.3 33.3h0M356.3 49.8h0M357.7 38.3h0M357 33.4h0M362.5 50.4h0M363 43.4h0M368.8 48.7h0M360.5 43.4h0M361.6 30.4h0M354 34.7h0M360.3 29.2h0M355.7 46.1h0M361.6 52.4h0M373.8 47h0M362.3 48.8h0M357.4 40.7h0M354.5 40.7h0M351.1 36.9h0M367.4 43.8h0M368.7 38.7h0M358 40.8h0M352.3 40.3h0M363.2 46.6h0M363.5 45.4h0M353.4 37.2h0M362.9 42.3h0M359.8 39.8h0M371.6 38.4h0M362.9 38.8h0M369.7 37.6h0M368 48h0M365 40.9h0M369.8 37.7h0M353.1 43.8h0M363.5 37.8h0M367.9 41.3h0M369 49.6h0M363.1 40.6h0M356.6 46h0M364.4 52h0M368.4 34h0M360 33.1h0M362 42.7h0M359.6 27.5h0M362 50h0M367.9 41.3h0M364 42.9h0M359 50h0M362.6 37.5h0M361.8 37.9h0M359.4 43.4h0M371.2 47.7h0M364.7 50.5h0M359.2 42.3h0M362.4 35.7h0M363.4 35.5h0M371.9 44.9h0M360 43.9h0M350 52.9h0M364.6 52.7h0M366.5 37.8h0M355.4 36.2h0M360.6 48.3h0M368.2 40.8h0M362.4 51.8h0M363.4 41.8h0M362.4 46.6h0M355.4 38.1h0M370.3 42.9h0M358.8 39.3h0M371.5 45.1h0M344.6 38.2h0M370.9 32.7h0M351.7 38.9h0M368.4 42.5h0M373 46.1h0M353.1 46.1h0M370.9 37.2h0M367.7 43.1h0M362.9 38.1h0M367.2 41.1h0M366.9 47.9h0M365.4 49.8h0M368 39.3h0M360.1 40.3h0M360.6 42.6h0M371.3 38.3h0M351.7 35.6h0M356.8 34.6h0M356.1 51h0M358.4 40.2h0M364.1 41.3h0M372.8 35.6h0M357.3 44.8h0M357.6 44.3h0M360.9 45.8h0M353.4 37.3h0M366.3 46.4h0M364.9 38h0M368.1 48.6h0M375 40.2h0M360.2 47.8h0M364.5 30.5h0M363.7 51.7h0M366.5 44.6h0M357.8 33.3h0M366.7 46.6h0M354.1 35.9h0M366.5 42.3h0M360.7 40.1h0M363.4 37.3h0M367 49.9h0M355.8 42.1h0M362.4 47.3h0M363.4 35.3h0M368.8 39.5h0M367.1 46.6h0M367.7 48.6h0M368.1 30.1h0M341.6 36.5h0M362.5 36.2h0M357 36.1h0M358.7 41.6h0M364.6 50.4h0M368.3 37.3h0M364.4 37.9h0M361.7 39.9h0M368.4 43h0M364.6 44.9h0M357.7 43.7h0M372.4 50.4h0M367.1 50.5h0M367.1 42.2h0M364.2 51.1h0M364.6 48.2h0M366.5 43.6h0M366.3 39.6h0M360.3 33.3h0M366.3 27.8h0M366.6 38.1h0M359.1 51.6h0M367.4 46.8h0M355.2 45.3h0M365.7 44.1h0M356.1 38.1h0M369.9 52.1h0M367.4 38.8h0M369.8 35.9h0M359.7 42.9h0M360.5 39.7h0M360 34.2h0M361.2 38.8h0M358.5 40.2h0M371.1 35h0M347.2 39.1h0M371.5 30.5h0M367.7 35.9h0M361.9 29.7h0M362.6 41.6h0M359 43.3h0M350.9 37.6h0M361.1 38.7h0M354.8 50.6h0M356.5 41.1h0M360.8 51.3h0M364.8 45.8h0M358.7 43.1h0M369.4 36.6h0M367.7 41.9h0M367.8 47.5h0M357.9 48.8h0M369.7 47.3h0M373.3 47.4h0M349.8 37.2h0" stroke="#F3776F" stroke-width="1.0" stroke-linecap="round" fill="none"/>
<path d="M365.1 31.2h0M365 36h0M362.7 30h0M366.7 39h0M372.2 35.7h0M369.4 30.6h0M364.6 32.9h0M373.8 34h0M374.8 42.5h0M367 33.9h0M366.4 33.7h0M364.7 35.9h0M360.9 32.4h0M368.6 31h0M366.3 37.2h0M366.3 32.3h0M367.7 31.9h0M360.2 35.2h0M368.5 43.3h0M368.8 40.5h0M362.3 40.5h0M367.8 36.1h0M365.9 32.5h0M362.9 39.7h0M367.6 41.1h0M364.9 38.1h0M361.7 43.7h0M362.1 40.5h0M360.4 30h0M376.1 38.5h0M370 33.6h0M372.3 30.3h0M370.6 34.8h0M364 31.9h0M369.9 35.5h0M370.5 39h0M364.8 36.4h0M372.3 31.9h0M368.8 43h0M375.5 39.6h0M369.5 30.8h0M372.2 36.2h0M374.7 35h0M374.8 41.4h0M360.1 34h0M371.6 33.9h0M366.1 39.9h0M355.8 35.7h0M370.7 32.8h0M367.2 45.9h0M365.5 39.7h0M368.5 32.6h0M366.2 32.9h0M368.3 34.9h0M373.9 39.3h0M365.8 32.1h0M359.7 32.2h0M369.6 32.1h0M370.8 35.5h0M370 33.2h0M363.1 43.5h0M372 34.2h0M367.3 32.5h0M372 39.2h0M364.4 37.8h0M357.4 33.3h0M370.7 36.8h0M367 33.3h0M375.7 36.8h0M366.9 35.2h0M367.3 42.4h0M369 36h0M365.1 34.4h0M375.2 38.1h0M374.5 38.6h0M369.1 32.9h0M368.7 34.6h0M365.1 39.7h0M368.1 34.2h0M368.5 35h0M368.1 33.5h0M368.4 40.1h0M371.8 39.3h0M364.6 34.2h0M362.2 30h0M367.7 32.7h0M374.8 41.7h0M369.2 43.1h0M365.7 32.2h0M373.3 40.9h0M364.8 38.2h0M362.6 42.3h0M366.3 33.9h0M369.1 34.6h0M364.4 30.1h0M370.9 28.7h0M369.9 39.6h0M360.5 33.4h0M358 38.8h0M368.7 34.5h0M368.8 42.7h0M369 31.9h0M372.5 32.3h0" stroke="#2DB870" stroke-width="1.0" stroke-linecap="round" fill="none"/>
<path d="M336.7 42.9h0M339.6 42.3h0M338 38.9h0M337.3 40.8h0M337.9 49.3h0M337.7 44.6h0M338.7 49.2h0M340.1 45.6h0M336.9 46.4h0M339 40h0M338.5 46.4h0M339.2 42h0M338.6 48.1h0M337.3 46.8h0M336.8 42.7h0M337.1 47.9h0M337.5 46.3h0M336.9 42.8h0M339.1 47.1h0M340.3 45.6h0M340 46.5h0M338.3 46.2h0M336.6 47.8h0M338.4 40.7h0M338.4 49h0M339 45.6h0M339.2 46h0M340.3 41.4h0M340.4 43.7h0M340 41.4h0M339.9 42.1h0M339.7 50.2h0M338.2 45h0M337.9 50.7h0M338.6 39.1h0M336.4 43.8h0M338.2 46.5h0M338.6 45.9h0M337.5 43.2h0M337 46.5h0M337.3 40.5h0M337 47.4h0M336.9 43.1h0M338.7 49.5h0M339.5 48.7h0" stroke="#C8962B" stroke-width="1.0" stroke-linecap="round" fill="none"/>
<path d="M338.2 46.4h0M339.5 43.2h0M338.5 47.2h0M340.7 48h0M341 45.9h0M339.7 41.6h0M340.7 42.8h0M338.5 40.6h0M338.4 46.6h0M340.6 40.8h0M338.7 39.4h0M339 37.1h0M339.8 48.3h0M339.7 41.6h0M339.2 36.7h0M340.4 37.4h0M338.1 39.3h0M340 45.7h0M339.5 46.8h0M340.3 42.6h0M338.1 42.8h0M339.3 39.6h0M338 41.5h0M338.6 44.1h0M340.5 47.3h0M339.8 49.3h0M338.9 40.1h0M340.6 39.3h0M340.3 40.9h0M338.1 40.2h0M338.6 43.2h0M338.8 45.2h0M340.7 45.8h0M340.2 45h0M340.5 41.3h0M339.3 39.7h0M338.5 39.9h0M341.2 44.2h0M337.6 42.3h0M339.1 47.2h0M340.7 46.3h0M339.1 38h0M340.2 45.8h0M339.8 45.9h0M340.3 46.3h0" stroke="#7FAA30" stroke-width="1.0" stroke-linecap="round" fill="none"/>
<path d="M335.8 35.4h0M338.7 34.3h0M338.9 36.6h0M339 36.3h0M339.1 36.1h0M335.6 35.7h0M337.9 34.7h0M338.7 37h0M338.4 35.1h0M337.7 35.7h0M336.9 35.7h0M339 36.4h0M336.4 35h0M339.9 35.1h0M337 34.5h0M337.7 34.8h0M338.5 33.8h0M337.1 35.7h0M338.7 36.8h0M339.3 35.6h0M339.8 35.6h0M336.8 35.7h0M340.1 36h0M338.9 34.3h0M336.9 34h0M337.9 36.6h0M338.4 36.8h0M336.2 34.9h0M337.2 35.8h0M338 33.8h0" stroke="#E2871C" stroke-width="1.0" stroke-linecap="round" fill="none"/>
<path d="M336.2 32.3h0M335.5 32.3h0M330.9 31.9h0M330.4 31.8h0M335.1 32.5h0M334.7 32.6h0M333.3 32h0M332.5 32.8h0M331 32.3h0M330.2 32.1h0M330.3 32.1h0M332 32h0M335.3 32.4h0M332.5 32.6h0M331.9 32.6h0M330 32.3h0M330.4 31.8h0M330.8 32.1h0M334.2 32.1h0M331 32.3h0M332.7 32.5h0M333.3 32.3h0M330.6 32.2h0M333.8 32.2h0M336.1 32.3h0M335.2 32.4h0M330.2 32.7h0M331.7 32.3h0M335.1 32.8h0M336.2 32.5h0M332.2 32.3h0M332.4 32.5h0M330.4 32.3h0M331 32.5h0M329.9 32.5h0M334.2 32.2h0M333.1 32h0M330.1 32.5h0M330.2 31.9h0M336.4 32.3h0M333.5 32.8h0M335.2 32.8h0M332.2 32.5h0M334 32.4h0M334.6 32.8h0M336.5 32.4h0M332.8 32h0M332.7 32.2h0M333.1 32h0M330.9 32.6h0" stroke="#2FAEE6" stroke-width="1.0" stroke-linecap="round" fill="none"/>
<path d="M327.8 54.8h0M327.4 54.3h0M331.3 55.7h0M329 55.1h0M330.6 55.6h0M326.9 55h0M326.4 54.4h0M327.5 55.1h0M329 54.9h0M326.8 54.3h0M331.7 56.2h0M327.6 55.1h0M327.2 55h0M328.2 55.2h0M329.4 55.6h0M330.3 55.7h0M329.4 55.9h0M329.6 55.5h0M327 54.8h0M332.4 56h0M328 54.9h0M332.7 57h0M329.6 56h0M327.5 54.5h0M330.2 55.7h0M329.6 55.9h0M327.1 54.2h0M331.8 55.8h0M330.7 55.7h0M328.6 54.9h0M331.4 56.6h0M332.1 56h0M332.2 55.8h0M328.7 55h0M329.3 55.4h0M328.8 55.6h0M332.7 56.3h0M326.5 54.7h0M330 55.8h0M328.4 54.8h0M327.4 54.5h0M329.8 55.4h0M329.4 55.3h0M332.7 56.4h0M327.2 54.7h0M330.1 55.7h0M329.7 55h0M330.7 56h0M329.3 55.8h0M326.9 54.4h0M332.2 56.1h0M330 56h0M328.3 54.6h0M327.7 54.8h0M327.4 55.1h0M329.3 55.3h0M331 55.7h0M332.5 56h0M331.4 56h0M332.3 56.4h0M327.9 54.6h0M332.6 56.1h0M326.7 54.7h0M332.6 56.8h0M327.4 55.2h0M326.4 54.8h0M327.7 55.1h0M328.2 54.7h0M327.1 54.5h0M330.1 55.6h0" stroke="#2FAEE6" stroke-width="1.0" stroke-linecap="round" fill="none"/>
<path d="M339.5 56.1h0M336.5 56.3h0M340.6 55.3h0M338.1 55.6h0M341 55.8h0M334.3 56h0M340.1 56h0M335.7 56.3h0M335.6 56.2h0M334 56.5h0M333.3 56.7h0M337.7 56.2h0M340.2 55.2h0M340.1 55.5h0M334.2 56.5h0M338.8 56.1h0M335.6 56.1h0M334.4 56.8h0M333.7 56.9h0M333.1 56.2h0M335.3 56.3h0M340.8 55.1h0M336.2 56.5h0M339 56.1h0M338.6 55.9h0M337.4 55.9h0M333.8 56.1h0M339.6 55.8h0M334.8 56.2h0M338.9 55.5h0M335 56h0M339.8 56h0M336.9 56.4h0M341 55.6h0M335.6 56.4h0M338.9 55.7h0M340.5 55.4h0M338.2 55.6h0M334.2 56.1h0M341.2 55.5h0M338.2 56h0M335.1 56.6h0M339.1 55.7h0M340.9 55.4h0M338.1 55.6h0M339 55.4h0M338 55.9h0M337.4 56.3h0M338.4 55.7h0M338 55.6h0M335.8 56.3h0M333.1 56.9h0M335.8 56.1h0M337.4 56h0M336 56.6h0M334.1 56.2h0M336.4 56.5h0M341.3 55.3h0M337.9 56.3h0M341.1 55.6h0" stroke="#2FAEE6" stroke-width="1.0" stroke-linecap="round" fill="none"/>
<path d="M353.6 53.9h0M344.2 53.3h0M356.6 53.5h0M350.7 53.6h0M357.2 54.1h0M357.8 53.2h0M355 53.3h0M361.6 54.8h0M345.5 53.4h0M344.9 53.4h0M350.3 53.5h0M352.5 53.2h0M361.9 54.7h0M358.9 53.2h0M355.6 53.3h0M361.2 54.2h0M350.8 52.4h0M343.3 52.6h0M356.7 54h0M347.8 53.3h0M352.5 53.9h0M349.6 53.7h0M345.7 52.3h0M343.8 52.7h0M348.7 53h0M354.9 52.9h0M357.7 53.7h0M364.9 54.9h0M359.6 53.3h0M355.1 53.3h0M364.9 54.2h0M343.7 51.5h0M349.7 52.5h0M359.7 53.7h0M346.2 52.3h0M343.3 52.3h0M356.2 53.3h0M351.7 52.5h0M349.8 53.6h0M365 54.7h0M359.8 53.3h0M358.6 53.8h0M353.2 52.6h0M348.1 53.1h0M343.7 52.5h0M366.7 54.3h0M358.8 53.7h0M359.9 53.6h0M346.6 52h0M356.7 53.3h0M365.8 54.3h0M343 52.7h0M354.6 53.8h0M359.1 53.1h0M354.9 53.4h0M356.3 53.2h0M364.2 55.1h0M354.8 53.8h0M357 54.4h0M355.3 53.6h0M346.1 52.2h0M362.3 53.9h0M366.7 55.2h0M366.2 55.1h0M365.7 54.7h0M362.3 54.6h0M352.2 53.1h0M343.6 53h0M366 55.1h0M361.6 54.5h0M347.1 53.4h0M351.6 53.6h0M366.9 54.5h0M362.9 53.7h0M349.4 53.6h0M364 54.2h0M348.5 52.6h0M360 54.6h0M363.8 54.3h0M349.5 53.2h0M352.5 53.8h0M349.8 53.7h0M348.6 52.4h0M348 53h0M362.9 53.6h0M348.8 52.7h0M359.1 53.2h0M357.6 54.4h0M354.6 53.8h0M364 55h0M346.2 53.1h0M355.8 54.1h0M364.3 54.9h0M365.4 54h0M350.6 53.4h0M363.8 53.8h0M357.9 54.2h0M349.5 52.9h0M346.1 53.3h0M358.4 53.8h0M355.1 52.8h0M351.7 53.2h0M364.5 53.7h0M351.6 53.9h0M352.1 52.4h0M349.1 53.7h0M347.1 53.2h0M365.3 54h0M356.1 53.6h0M344.3 51.8h0M363 54h0M361.9 54.1h0M344.3 52.8h0M362.2 53.6h0M345.8 53.1h0M359.6 53.1h0M364.1 54.5h0M343 52.9h0M350.3 53.5h0M346.8 53.2h0M358.6 53.5h0M360.3 53.4h0M365.6 54.3h0M344 51.9h0M361.8 54.1h0M358.9 53.3h0M361.6 53.6h0M350.4 52.4h0M355.3 54.1h0M347 52.1h0M363.3 54.3h0M353.6 53.8h0M359.5 54.5h0M346.9 52.2h0M362.9 53.9h0M344.3 53.2h0M349.7 53.1h0M354.9 53.4h0M345.8 53.2h0M362.1 54.7h0M366.8 54.5h0M353 52.7h0M351.2 52.7h0M348.3 52.4h0M355.2 53.6h0M347.6 52.7h0M365.5 54.2h0M361.6 53.5h0M365.8 54.3h0M347.8 53.5h0" stroke="#2FAEE6" stroke-width="1.0" stroke-linecap="round" fill="none"/>
<path d="M358.1 55.6h0M359.9 56.2h0M358.4 55.5h0M359.7 55.8h0M357.2 55.7h0M360.8 56.4h0M357.3 55.7h0M358.2 56.4h0M355.2 55.6h0M359.5 56.4h0M359.8 55.8h0M355.8 56h0M356.2 55.4h0M361 56.1h0M355.7 55.6h0M359.4 56.6h0M355.3 55.9h0M355.5 55.7h0M361.9 56.1h0M356.7 55.9h0" stroke="#2FAEE6" stroke-width="1.0" stroke-linecap="round" fill="none"/>
<path d="M381.5 17.9h0M380.3 14.8h0M385.1 20.9h0M388.4 19h0M388.2 20h0M381 18.4h0M392.2 19.6h0M383 20.7h0M382.3 16.4h0M385.4 21.9h0M389.1 17.6h0M382.9 23h0M391.1 16.2h0M392 19.5h0M394.7 17.6h0M393.2 19.2h0M384 14.2h0M381.1 18h0M391 20.4h0M387.7 15.5h0M385.8 22.5h0M383.8 18.7h0M385.6 18.2h0M388.6 21.6h0M385.3 22.9h0M380.9 14.7h0M381.6 18.4h0M387.7 23.4h0M385.4 14h0M386.5 20.8h0M382.6 19.2h0M392.6 18h0M382.6 17.1h0M383.4 18.2h0M394.4 17.5h0M384.8 18.5h0M385.3 22.7h0M386.7 21.6h0M387 16h0M388.7 18.6h0M380.5 22.1h0M393 19.5h0M394.5 19.4h0M389.7 19.1h0M390.9 17.1h0M388.7 21.5h0M386.2 22.6h0M391.8 16.6h0M391.2 19.1h0M385.1 17.3h0M383.8 17.1h0M389.4 21.2h0M386 17.8h0M389.8 19.7h0M385.8 18.6h0M384.1 21.8h0M381.9 20.8h0M389.4 21.9h0M389.1 16.9h0M382.3 17.4h0M387.4 19.4h0M386.5 15.8h0M385.8 20.8h0M385.6 19h0M394.8 17.2h0M386.2 15.3h0M386.6 18h0M388.5 16.7h0M389.7 19.2h0M382.5 16.7h0M381 22.1h0M389.8 16.7h0M391.2 15.8h0M380.9 20.9h0M385.8 14.7h0M381.2 22.1h0M392.7 17h0M385.2 18.1h0M386 20.4h0M391 21.6h0M389.2 15.9h0M388.6 19.6h0M383.8 15.8h0M381.1 18.4h0M390.1 19.3h0M383.2 17.2h0M381.3 14.8h0M381.9 21.8h0M390.3 19.8h0M393.4 19.6h0M391.6 21.4h0M383 13.9h0M381.2 17.2h0M389.5 20.9h0M381.1 13.1h0M383.3 18.8h0M381 18.2h0M387.4 17.3h0M386.6 24.4h0M389.7 16h0M386.6 20.1h0M385 23.1h0M385.8 18.8h0M381.9 19h0M382.6 15.3h0M381.9 21.4h0M387.5 20.9h0M390.1 15.4h0M388.8 19.9h0M388.3 21.3h0M381.7 21.6h0M382.6 17.1h0M386.8 23h0M390.9 19.9h0M385.7 18h0M383.8 23.1h0M385.6 17.9h0M381.9 18.5h0M382.1 16.9h0M381.7 14.2h0M389.6 20h0M387.8 21h0M386.9 16.3h0M383 19.5h0M384.3 23.7h0M390.6 16.5h0M389 22.4h0M382.7 22.6h0M389.3 17.9h0M379.9 14.1h0M385 24.2h0M388.3 16.5h0M383.5 19.4h0M381.3 16.1h0M390.8 18h0M382.9 22.3h0M386.3 16.9h0M393.3 17.6h0M387.9 20.4h0M390.8 21h0M381.5 18.9h0M387.5 21.8h0M384.9 15.6h0M383.2 14.8h0M382.1 21.4h0M386.2 21h0M385.8 20.3h0M394.5 17.1h0M385.6 18.9h0M390.2 21h0M381.5 18.9h0M381.7 16.5h0M388 21.1h0M385.9 23.6h0M385.1 16h0M382.7 15.4h0M382.1 15.8h0M383.8 16.1h0M392.9 20.4h0M390.3 21.7h0M391.7 19.2h0M380.8 14.6h0M381.7 14.7h0M381.6 18.5h0M392.5 20.7h0M391.7 15.4h0M390.4 20.3h0M387.7 18h0M385.2 23.2h0M395.2 18.2h0M385.1 22.5h0M390.6 18.8h0M384.5 23.9h0M381.1 16.2h0M387 16.1h0M383.9 23.5h0M391.6 18.6h0M382.8 22.8h0M380.4 20.4h0M383.4 17.2h0M380.1 20.9h0M382.6 21.1h0M384.7 21.4h0M382.6 17.8h0M388.3 22.3h0M386.2 14.9h0M383.6 17.2h0M381.2 17.9h0M381.7 18.8h0M388 18.6h0M390.5 18.2h0M389.9 16.4h0M387.3 17.7h0M380.7 13.6h0M391.9 20.1h0M386 17.7h0M383 14h0M384.4 20.5h0M381.3 18.4h0M384.4 22.5h0M389.2 16.3h0M382.5 15.5h0M385.1 15.2h0M386.1 24.1h0M380.6 16.8h0M387 22.7h0M388.4 18.9h0M380.8 22.3h0M386.9 18.7h0M392.1 20h0M384.8 23.8h0M383 14.2h0M383.7 20.6h0M393.8 17.8h0M389.6 17.6h0M384.3 22.4h0M390 19.7h0M384 21.7h0M385.4 16.9h0M387.9 23.3h0M381.4 16.3h0M395.6 17.7h0M392 17.3h0M385.2 19h0M386.7 21.6h0M393.1 17.8h0M387.6 18.9h0M384.5 23.6h0M384.6 19.5h0M390.3 21.4h0M391.8 18.9h0M383.4 18.7h0M385.4 23.2h0M383.7 16.5h0M389.3 18.1h0M387.3 21.4h0M385.8 19.3h0M389.2 17h0M389 19.4h0M394.1 17.6h0M388 21.9h0M383.6 23.6h0M389.2 18.4h0M385.3 15.5h0M382.6 15.9h0M388.1 18.8h0M387.9 16.1h0M389.6 21.1h0M386.1 15.1h0M381.8 22.5h0M387.1 20.4h0M385.5 17.3h0M388.3 16.1h0M381.9 13.4h0M388.3 16.6h0M389.2 15.7h0M383.9 20.3h0M384 18.8h0M386.7 18.3h0M381.8 23.3h0M381.5 14.6h0M381.2 16.9h0M390.6 17.5h0M384.3 20.4h0M384.8 23h0M380.2 15h0M381.5 16.5h0M385 19.3h0M388.8 16.3h0M384.4 16h0M384.5 14.9h0M381.3 14.4h0M384.5 15.5h0M393.1 17.3h0M387.8 19.1h0M388.2 19h0M387.1 16.4h0M391.4 20.5h0M392.3 16.9h0M381 22.2h0M393.8 18.3h0M383.9 17h0M390.7 16.8h0M391.5 18.7h0M384.9 16.6h0M386.2 16.5h0M385.5 19.4h0M387.3 17.6h0M391.1 18.1h0M389.7 22.6h0M390.3 18.3h0M387.2 21.1h0M390.2 19.3h0M381.4 15h0M384.3 14h0M385 16.9h0M390.7 18.7h0M383 22.9h0M382.4 15.7h0M388.9 19.8h0M387.7 22.3h0M393.4 18.9h0M381.4 20.3h0M392.4 19.3h0M381.8 22.6h0M382.3 19.6h0M383.9 14.5h0M392.2 18.7h0M380.8 17h0M382.2 19h0M380.8 21.2h0M387.3 23.7h0M382.5 19.3h0M382.5 19h0M393.7 19h0M385.7 14.5h0M381 16.5h0M388.5 18.5h0M390.4 19.2h0M386.3 23.9h0M388 19.3h0M384.3 19.2h0M388.4 15.1h0M390.4 20.8h0M392.9 17.9h0M389.2 22.7h0M381.6 22.7h0M382.9 21.3h0M383.5 19.3h0M383.8 20.2h0M382.1 21.4h0M385.8 20.4h0M383 23.6h0M380.7 16.7h0M390.8 19.7h0M389.2 21.1h0M395.2 16.9h0M388 21.9h0M392.3 16.6h0M384 17.9h0M388.6 16.2h0M385.5 17.6h0M386.9 15.8h0M390.9 17.3h0M388.2 20.7h0M387.3 23.6h0M392.3 16.2h0M384.9 19.4h0M386.8 23.7h0M384.7 23.2h0M383.2 14.3h0M389.1 19.6h0M381.5 21.8h0M381.7 18.6h0M392.6 20.6h0M386.5 14.4h0M390.4 16.6h0M390 17.4h0M388.5 23.1h0M383.9 18.8h0M388.9 19.6h0M385 14.7h0M383.8 14h0M388.9 21.3h0M382 15.7h0M383.3 22.4h0M387.7 15.7h0M380.7 18.4h0M393.3 19.9h0M385.4 21.1h0M386.6 21.8h0M385.9 23.7h0M386.4 24.5h0M389.3 21h0M391.4 16.7h0M386 15.6h0M389.1 17.4h0M389 19.9h0M391.2 20.8h0M381.9 19.2h0M387.8 15.9h0M382.1 19.2h0M382.1 15.8h0M384 21.6h0M391.2 20.4h0M389.1 21.6h0M388.1 20.5h0M386.3 22.7h0M389.6 16.3h0M390.2 20.6h0M385.6 21.8h0M385.4 22.7h0M385.4 13.7h0M381.4 17.2h0M383.1 17.9h0M382.4 23.6h0M385.4 19.9h0M389.1 17.4h0M390.8 19h0M387.4 19.1h0M385 23.6h0M382.5 21.1h0M384.3 23.9h0M387 19.5h0M386.5 16.9h0M386.6 17.8h0M391.7 18.6h0M385.3 24.3h0M390.7 19.3h0M386 24.4h0M384.1 19.3h0M390 21.8h0M383.9 20.1h0M380.5 22.1h0M389 15h0M388.3 19.5h0M392.5 18.9h0M392.7 18.7h0M384.6 20h0M386 23.2h0M381.7 20.5h0M380.4 13.8h0M383.4 21.8h0M383.9 19.5h0M392.4 18.1h0M385.1 21.7h0M393.6 17.7h0M393.3 19.4h0M380.8 17.8h0M380.7 15.9h0M386.9 18.2h0M390.5 16.1h0M382.6 22.6h0M393.9 19.2h0M388.4 16.8h0M382.4 18.4h0M384.7 19.3h0M387.5 15.8h0M387.5 21.9h0M391.8 19.9h0M390.4 17.6h0M390.1 17.5h0M392.4 17.8h0M379.7 13.2h0M381.6 20h0M385.9 19.9h0M389.3 18.4h0M389.8 17.8h0M382.7 15.9h0M390.7 20.3h0M388.6 15.5h0M392.2 16.3h0M392.4 17.2h0M384.3 16.4h0M386.8 20h0M385.3 20.9h0M384.7 19.5h0M389 16.8h0M386.6 23.4h0M388.3 20.3h0M382.8 18.4h0M380.9 21.2h0M390.2 18.3h0M380.9 16.2h0M386.8 18.8h0M382 15.1h0M387.7 17.4h0M391.7 20.3h0M390.6 18.8h0M381.8 21.9h0M387.4 17.6h0M384.3 20.6h0M388.8 15h0M381.9 17.1h0M383.9 18.7h0M388.2 18.8h0M391.6 16.7h0M386.5 15.6h0M388.4 20.4h0M384.7 20.4h0M388.8 18.4h0M382 22.1h0M392.3 19.6h0M380.6 14.2h0M384.6 16.6h0M391 15.7h0M390 16.5h0M390.6 19.2h0M383.6 19.2h0M385.1 23.6h0M388.3 17.4h0M383.2 18.5h0M383.6 21.7h0M381.3 20.7h0M391.3 20h0M380.7 22h0M386 14.9h0M381.9 16.6h0M386 18.6h0M388.7 22.8h0M384.9 14.5h0M391 22h0M392.2 17.4h0M393.4 20.2h0M384.8 14.8h0M391.1 19.8h0M386.1 19h0M384.1 17.3h0M381.8 14.8h0M389.7 21.1h0M395.1 17h0M383.8 17.7h0M391.2 17.4h0M385.1 21.6h0M392.6 18.3h0M389.5 20.1h0M387.3 15.5h0M384.4 21.8h0M385.3 20.7h0M388.4 20.9h0M389 22h0M388.1 22.6h0M389.4 18.6h0M382 23h0M390.1 17h0M384.5 19.1h0M385.9 15.2h0M381.4 13.5h0M384.8 18.6h0M382 14.7h0M388.6 16.5h0M385.9 18h0M391.1 18h0M389 22.2h0M382.4 16.3h0M384.3 14.4h0M383.9 21.9h0M393.2 18.3h0M391 20.6h0M393.1 18.6h0M382.5 20.1h0M390.8 18.1h0M386.4 23.6h0M383.3 16.1h0M394.9 18.2h0M382.1 16.9h0M385.1 14.9h0M389.1 20.5h0M384.5 14.8h0M382.8 18.9h0M383.9 16.3h0M388.1 16.7h0M389.9 17.2h0M393.9 18.6h0M383.2 19.3h0M381.9 15h0M385.4 20.8h0M387.2 20.7h0M379.4 15.4h0M382.7 19h0M392.3 19h0M384.5 20.4h0M380.4 13.9h0M389.7 16.3h0M389.6 16.5h0M386.2 17h0M382.1 17.6h0M386.9 21.7h0M388 18h0M390.7 18.4h0M384.7 15.3h0M386.2 16h0M393.4 18.5h0M387.9 16.8h0M384.9 19.6h0M389.7 16.6h0M386.8 24.5h0M389.3 21.5h0M382.5 18.6h0M390.3 21h0M386.9 15.6h0M395.6 17.3h0M385.7 18.6h0M390.7 15.9h0M382.2 21.5h0M386.1 19.7h0M381.8 15h0M389.9 19.6h0M388.8 22.6h0M382.6 23.3h0M391.8 19.1h0M382.1 18.6h0M387 18.2h0M389.9 17.8h0M391.9 16.6h0M390.8 18.8h0M380.4 16.3h0M385.2 23.6h0M381.7 14.6h0M389.3 20.5h0M381.3 17.1h0M380.4 21.3h0M382.8 19h0M389.2 19.1h0M387.7 14.8h0M389.4 18.4h0M381.3 14.9h0M386.2 23.5h0M388.3 15.8h0M387.5 22.1h0M388.7 20h0M381.2 22.4h0M385.3 23.2h0M390.6 18h0M392.9 20.6h0M387.7 19.9h0M390.4 17.4h0M382.4 17.5h0M388.7 15.5h0M385.7 21h0" stroke="#20BFA0" stroke-width="1.0" stroke-linecap="round" fill="none"/>
<path d="M376.7 26.6h0M379.5 23.7h0M378.3 24.2h0M375.8 27.8h0M377.9 24.7h0M377.9 24.2h0M379.3 23.1h0M378 25.5h0M378.8 22.5h0M378.1 25.8h0M377.9 24.3h0M380 24.1h0M374.8 27.4h0M375.3 27.5h0M375.1 27.1h0M377.6 25.2h0M375.9 28.1h0M374.6 27h0M379.3 23.6h0M376.2 27.7h0M378.1 26.3h0M379.3 24.6h0M379 22.6h0M378.5 24.7h0M375.4 26.8h0M378.8 25.7h0M379.7 23.3h0M378.4 25.5h0M376.7 29h0M376.3 25.1h0M375.3 26.3h0M378 23.4h0M377.7 25h0M377.6 26.2h0M378.6 25.9h0M376.6 27.1h0M377.9 25.6h0M378.6 22.9h0M376.9 27h0M378.4 23.4h0M378.7 23.4h0M376.6 26.4h0M375.1 27.1h0M378.1 23.9h0M378.3 25.9h0M375.3 26.4h0M376.2 25.1h0M380.1 23h0M378.2 23.4h0M380.3 22.8h0M377 24.4h0M376.3 27.1h0M378.2 25h0M377.6 25.7h0M375.9 25.3h0M375.4 27.3h0M379.3 22h0M376.2 25.6h0M378.9 25.9h0M377.7 27.1h0M377 25.7h0M378 24.6h0M377.8 24.7h0M379 25.5h0M378.3 25h0M376 27.3h0M378.9 24.1h0M375.9 25.7h0M379.4 22.6h0M376.2 27.1h0M376.5 28.7h0M377.3 25.8h0M380.1 24.1h0M378.9 22.3h0M378.2 25.7h0M376.6 25.2h0M376.5 27.4h0M379.6 23.3h0M378.3 25.2h0M379.6 24.1h0M375.7 27.6h0M379.4 22.5h0M379.3 25.2h0M379 22.9h0M376.6 27.8h0M377.6 26.7h0M376.8 28.1h0M377.2 27.7h0M376.7 26.2h0M379.1 23.9h0M377.8 23.8h0M377.2 24.7h0M377.5 25.9h0M377.2 25.6h0M379.5 22.1h0M375.5 26.4h0M376 28.1h0M378.2 26h0M377.2 27.3h0M377.5 25.1h0" stroke="#A8A02B" stroke-width="1.0" stroke-linecap="round" fill="none"/>
<path d="M379.1 22.5h0M380.5 21.3h0M377.9 24.7h0M379.9 21h0M381.3 20.5h0M378.1 24.3h0M377.6 24.2h0M381.3 21.9h0M380 23.5h0M379.9 22.7h0M379.8 23h0M379.4 25h0M378.6 25.6h0M380.5 23.6h0M377.5 24.6h0M379.1 24.8h0M378.8 23.7h0M379.4 23.8h0M380.4 21.5h0M379.4 24.1h0M381.2 21.5h0M379.8 23.1h0M378.5 24.8h0M378.2 25.6h0M380.7 22h0M378.4 25.8h0M378 23.8h0M378.1 24h0M380.7 23.3h0M378.6 23h0M379.1 25.1h0M380.5 23.5h0M378.2 25.2h0M378.9 25.7h0M377.1 24.8h0M380.2 21.6h0M379.2 24.5h0M379.7 21.6h0M378.8 25.2h0M380.1 21.9h0M378.5 23.4h0M381.8 21.9h0M381.9 21.8h0M377.4 24.3h0M380 23.2h0M380.5 20.4h0M381 20.6h0M380.1 21h0M379.8 24.4h0M380.7 20.1h0M380.5 22h0M379.5 22.9h0M380.4 22.7h0M380.3 20.8h0M378.8 25.6h0M378.5 25.2h0M381 21.4h0M381.1 23h0M380.1 22.8h0M380.9 20.8h0" stroke="#20BFA0" stroke-width="1.0" stroke-linecap="round" fill="none"/>
<path d="M357.6 72.4h0M354.7 70.8h0M356.5 70.6h0M362.7 64.5h0M363.4 67.3h0M362.4 63.8h0M359.7 69.9h0M356.9 72.2h0M361.1 70.6h0M362 63.2h0M355.4 68.6h0M351.8 69.6h0M354.7 67.9h0M355.2 70.2h0M363.1 67.4h0M360.9 71.3h0M354.3 69.2h0M361.4 66.3h0M364 68.7h0M356.9 66.8h0M361.2 69.5h0M363.6 70.3h0M362.1 71h0M360.2 68.7h0M364.9 70h0M362.7 66h0M360.5 68.3h0M360.3 71.3h0M364.7 68.8h0M355.5 70.6h0M358.6 71.5h0M355.4 71.5h0M355.2 71.4h0M357 71.9h0M355.2 67.2h0M362.5 70.2h0M359.3 66.1h0M356.9 72.1h0M348.5 69.9h0M363.1 67.5h0M361.8 66.7h0M360 71.1h0M364.5 74.2h0M359.3 70.1h0M363.7 68.3h0M364.6 68.7h0M356 67h0M363.7 73.8h0M356.9 68.2h0M358.9 65.7h0M352.6 69.6h0M361.6 66.1h0M356 70.4h0M365.2 73.2h0M361.9 67.4h0M363.3 66.7h0M355.6 68.8h0M360.9 66.4h0M361.9 67h0M364.3 74.7h0M357.4 67.3h0M350.9 69.8h0M357.7 69.7h0M358.5 66h0M352.1 70.6h0M362.2 69.7h0M359.3 72.3h0M352.5 70.9h0M358.8 72.2h0M359.3 68.3h0M360.2 71.9h0M363.2 65.3h0M355.3 70.3h0M352.4 69.8h0M359.5 67.7h0M356.5 68.6h0M363.4 65.3h0M356.4 71.3h0M362.3 65.4h0M362.4 64.3h0M362.7 66.7h0M353.5 71.5h0M362.5 63.5h0M356.3 71.2h0M362.5 65.6h0M360.3 72.8h0M364 74.3h0M352.7 70.6h0M362.1 64.6h0M354 71.5h0M358.1 65.4h0M361.2 63.6h0M350.5 70.4h0M355.1 71.6h0M358.6 65.6h0M353.5 68.5h0M364.6 73.7h0M350.4 70.3h0M362.8 72.2h0M359.5 68h0M359.1 67.3h0M361.9 71.9h0M364.3 73.1h0M357.3 70.9h0M350.7 68.8h0M361.7 62.4h0M359.9 70.1h0M359.8 66.8h0M364 67.2h0M356.9 70.4h0M362.2 68.9h0M357.5 71.9h0M358.4 67.9h0M363.7 70.2h0M356.4 68.4h0M360.6 70.7h0M361.8 71.1h0M352.6 70.9h0M355.9 70.9h0M357.2 71.9h0M361.7 70.3h0M358.4 71.2h0M364.7 68.3h0M356.3 70.9h0M357.5 66.6h0M359.9 68.1h0M361.4 69.5h0M358.1 65.8h0M358.9 68.9h0M361 67.3h0M361.6 68.4h0M359.4 66.9h0M353.8 68.9h0M360.2 68.9h0M358.3 65.8h0M358.1 70.1h0M362.1 71.7h0M363.2 66.6h0M359.6 65h0M357.7 66.9h0M365 67.5h0M358.6 67.7h0M356 69.6h0M358.8 70.5h0M362 71.2h0M362.2 67.8h0M356.7 67.7h0M363.9 69.9h0M350.8 70.4h0M355.4 69.7h0M357.1 66.6h0M364.4 72.6h0M350.5 70.8h0M357.5 67.9h0M364.8 74h0M357.1 71.5h0M361.4 71.7h0M363.7 66.6h0M351.7 70.7h0M361.1 70h0M357.3 65.8h0M354.7 67.2h0M362 70.3h0M352.4 71.2h0M364.4 67.2h0M357.2 72h0M356.7 71.8h0M363 66.6h0M360.2 65.5h0M355.2 67.8h0M356 71.8h0M357.2 68.8h0M358.2 66.5h0M357.5 72h0M348.2 70h0M352.9 69.3h0M362.5 62.8h0M363.8 67.2h0M351.8 69.1h0M355.1 69h0M359.1 66.2h0M356 67.5h0M364.2 71h0M364.2 72h0M361.7 70.1h0M357.8 68.3h0M358.8 68.2h0M362.2 69.3h0M355.8 66.2h0M358.9 66.9h0M362.2 68.5h0M364.1 73.2h0M355.1 71.8h0M355.7 69.1h0M364 65.6h0M359.5 68h0M364.3 68.5h0M363.1 62.6h0M362 69.5h0M360.5 70h0M357.5 69.9h0M362.4 67.7h0M361.5 64.7h0M355 69.2h0M357.1 66.7h0M359.4 66.8h0M363.5 71h0M355.1 68h0M353 69.7h0M365.5 74.4h0M363.1 64.3h0M354.5 68.2h0M356.5 67.1h0M356.1 70h0M353.6 69.4h0M362.2 70.6h0M364.5 73.8h0M352.7 71.1h0M359.8 71.4h0M359.9 68.7h0M357.8 68.3h0M364.4 74.2h0M357.2 68.2h0M359.4 73.2h0M361.3 62.5h0M363.8 66.7h0M365.4 74.3h0M351.6 70.5h0M352.8 67.9h0M362.5 63.5h0M356.7 70.1h0M361.6 71.1h0M359 72.6h0M358.9 65.9h0M356.7 72.8h0M363 64.8h0M360.1 68.1h0M351.9 70.8h0M363.7 64.9h0M363.7 66h0M350.4 69.6h0M355.6 71.3h0M353.2 68.9h0M363.8 69.4h0M362.3 66.6h0M361.3 67.5h0M359.4 66h0M359.4 73h0M363.3 63.3h0M362.9 68.4h0M361.6 62.8h0M356.5 70.4h0M359.3 72.5h0M358.2 72.9h0M359.5 70h0M349.5 69.9h0M361.6 69.8h0M358.3 68.9h0M357.9 72.1h0M359.8 69.1h0M357.5 68.1h0M363.3 70h0M360.3 71.5h0M357 69.1h0M350.1 70.4h0M350.4 69.2h0M362.6 67.1h0M358.2 67.9h0M353.1 68.6h0M362.8 69.4h0M362 65.6h0M355.6 71.9h0M361 66.1h0M364.5 71h0M361.7 70h0M360.8 65.8h0M356.8 68.6h0M351.6 67.9h0M353.6 71.7h0M351.6 69.3h0M363.7 68.6h0M364.3 72.2h0M356.2 69.6h0M358.8 69.9h0M356.4 70.2h0M360.4 71.5h0M362.1 63.3h0M361.3 65.8h0M357.5 69.5h0M358.7 71h0M364.9 70.1h0M364.9 68.8h0M360 65.8h0M358.6 71.4h0M355.8 70.4h0M356.1 68.1h0M362.9 65.8h0M359.2 65.4h0M351.6 69.7h0M360.6 63.5h0M357.9 70.4h0M359.5 67.9h0M358.8 71.2h0M351.1 69.9h0M363.2 69.4h0M359.4 72.5h0M359.3 67.8h0M365.7 73h0M355.9 70.3h0M358.1 66.1h0M357 71.9h0M361 65.6h0M360 70.4h0M355.2 70.6h0M356.9 67.9h0M354.2 67.9h0M352.2 70.5h0M356.1 69.2h0M362.8 63.5h0M357 72.9h0M364.1 73.6h0M360.7 69.1h0M352.8 71.1h0M356.7 67.4h0M365.8 72.2h0M348.9 70.1h0M357 66.8h0M354.9 70.8h0M359.2 67h0M359.6 66.9h0M361.7 60.9h0M362 61.3h0M361 57.3h0M361.3 59.9h0M361.3 59.8h0M361.7 61.5h0M361.5 60h0M361.5 60.3h0M360.8 57.2h0M360.6 57h0M361.9 61.2h0M361.8 61.5h0M361 57.4h0M361 57.9h0M363.2 57.1h0M362.9 56.9h0M362.3 57.2h0M363 56.9h0M362.3 57.1h0M363.3 77.1h0M361.7 75.8h0M362.8 76.8h0M362.6 76.7h0M361.8 75.7h0M362.3 76.6h0M360 73h0M363.7 78.1h0M363.1 76.9h0M362.8 76.8h0M361.9 76h0M364.1 78.6h0M362.8 76.8h0M363.7 77.9h0M362.9 76.9h0M360.2 74h0M363.8 78h0M363.3 77.9h0M361.7 75.6h0M361.8 75.2h0M361.5 75.5h0M360.7 74.5h0M361.4 74.8h0M360.8 74.6h0M361.7 75.1h0M361.5 75.4h0M359.7 73.4h0M362.9 77.3h0" stroke="#2F9CE6" stroke-width="1.0" stroke-linecap="round" fill="none"/>
<path d="M364.9 79.9h0M365 78.9h0M365.5 74.8h0M365.2 79.2h0M365.7 74.6h0M365 76.2h0M365.1 79h0M365 75.4h0M365.4 77.3h0M365.2 79h0M365 75.5h0M365.1 77.3h0M365.1 79.2h0M365 75.3h0M365.1 79.6h0M365.2 78.8h0M365.1 75.7h0M364.8 78.4h0M365 76.9h0M365.3 78.1h0M365.7 75.6h0M365.4 79.1h0M364.7 76.5h0M364.7 75.4h0M364.9 79.6h0M365.1 78.5h0M364.7 77.6h0M364.7 74.9h0M365.2 78.1h0M364.8 77.1h0M365 79.2h0M365.1 74.7h0M365 79.6h0M364.7 75.6h0M365.3 79.5h0M365.1 79.7h0M365.5 77.1h0M365.2 76.6h0M365.6 76.2h0M365.1 78.3h0M364.8 79.2h0M364.9 79.5h0M365.3 75.4h0M364.8 79h0M365.2 79.8h0M364.6 76.6h0M365.2 79.4h0M364.7 77.1h0M365 78.9h0M365.2 74.7h0M364.7 78.2h0M364.8 79.8h0M364.9 77.5h0M365.3 79.3h0M365.5 75.7h0M362.7 77.1h0M364.4 79.3h0M363.7 78.5h0M363.7 78.2h0M363.2 77.8h0M363.8 78.4h0M362.8 77h0M363.7 78.6h0M362.9 77.6h0M364.7 79.2h0M363.7 78.1h0M364 78.9h0M364.6 79.4h0M364.1 78.6h0" stroke="#8490E0" stroke-width="1.0" stroke-linecap="round" fill="none"/>
<path d="M368.8 86.3h0M367 83.2h0M368.9 86.6h0M365.4 80h0M368.6 86.2h0M368.4 85.9h0M366.2 81.7h0M366 81.4h0M368.3 86h0M367.8 84.8h0M366.7 82.4h0M366.6 82.7h0M365.7 80.9h0M368.9 86.8h0M365.4 80.4h0M366.7 82.8h0M368.8 86.7h0M368.6 85.8h0M366.5 82.1h0M366.6 82.3h0M365.6 81.1h0M365.5 81h0M368.8 86.4h0M365.8 81.4h0M365.7 81.1h0M366.5 82.8h0M369 86.7h0M368.2 85.2h0M367.4 84.4h0M365.8 81.4h0M367.3 83.8h0M367.7 84.4h0M366.4 81.8h0M365.6 80.2h0" stroke="#F0609A" stroke-width="1.0" stroke-linecap="round" fill="none"/>
<circle cx="399.9" cy="33.9" r="1.25" fill="#F3776F"/>
<text x="406.6" y="35.9" font-size="5.3" fill="#3a3a3a">1</text>
<circle cx="399.9" cy="40.4" r="1.25" fill="#E2871C"/>
<text x="406.6" y="42.4" font-size="5.3" fill="#3a3a3a">2</text>
<circle cx="399.9" cy="47.0" r="1.25" fill="#C8962B"/>
<text x="406.6" y="49.0" font-size="5.3" fill="#3a3a3a">3</text>
<circle cx="399.9" cy="53.5" r="1.25" fill="#A8A02B"/>
<text x="406.6" y="55.5" font-size="5.3" fill="#3a3a3a">4</text>
<circle cx="399.9" cy="60.0" r="1.25" fill="#7FAA30"/>
<text x="406.6" y="62.0" font-size="5.3" fill="#3a3a3a">5</text>
<circle cx="399.9" cy="66.5" r="1.25" fill="#34AF4A"/>
<text x="406.6" y="68.5" font-size="5.3" fill="#3a3a3a">6</text>
<circle cx="399.9" cy="73.1" r="1.25" fill="#2DB870"/>
<text x="406.6" y="75.1" font-size="5.3" fill="#3a3a3a">7</text>
<circle cx="399.9" cy="79.6" r="1.25" fill="#20BFA0"/>
<text x="406.6" y="81.6" font-size="5.3" fill="#3a3a3a">8</text>
<circle cx="420.4" cy="33.9" r="1.25" fill="#27B3C3"/>
<text x="426.2" y="35.9" font-size="5.3" fill="#3a3a3a">9</text>
<circle cx="420.4" cy="40.4" r="1.25" fill="#2FAEE6"/>
<text x="426.2" y="42.4" font-size="5.3" fill="#3a3a3a">10</text>
<circle cx="420.4" cy="47.0" r="1.25" fill="#2F9CE6"/>
<text x="426.2" y="49.0" font-size="5.3" fill="#3a3a3a">11</text>
<circle cx="420.4" cy="53.5" r="1.25" fill="#8490E0"/>
<text x="426.2" y="55.5" font-size="5.3" fill="#3a3a3a">12</text>
<circle cx="420.4" cy="60.0" r="1.25" fill="#B57AE0"/>
<text x="426.2" y="62.0" font-size="5.3" fill="#3a3a3a">13</text>
<circle cx="420.4" cy="66.5" r="1.25" fill="#E070DC"/>
<text x="426.2" y="68.5" font-size="5.3" fill="#3a3a3a">14</text>
<circle cx="420.4" cy="73.1" r="1.25" fill="#F062C0"/>
<text x="426.2" y="75.1" font-size="5.3" fill="#3a3a3a">15</text>
<circle cx="420.4" cy="79.6" r="1.25" fill="#F0609A"/>
<text x="426.2" y="81.6" font-size="5.3" fill="#3a3a3a">16</text>
<g stroke="#c4c4c4" stroke-width="0.5" fill="none">
<path d="M16.4 132.4 V214.3 H157.8"/>
<path d="M15.2 147.2 H16.4"/>
<path d="M15.2 167.5 H16.4"/>
<path d="M15.2 187.8 H16.4"/>
<path d="M15.2 208.1 H16.4"/>
<path d="M21.9 214.3 V215.5"/>
<path d="M49.1 214.3 V215.5"/>
<path d="M76.2 214.3 V215.5"/>
<path d="M103.3 214.3 V215.5"/>
<path d="M130.4 214.3 V215.5"/>
</g>
<text x="14.2" y="148.7" font-size="2.9" text-anchor="end" fill="#4a4a4a">5</text>
<text x="14.2" y="169.0" font-size="2.9" text-anchor="end" fill="#4a4a4a">0</text>
<text x="14.2" y="189.3" font-size="2.9" text-anchor="end" fill="#4a4a4a">-5</text>
<text x="14.2" y="209.6" font-size="2.9" text-anchor="end" fill="#4a4a4a">-10</text>
<text x="21.9" y="218.9" font-size="2.9" text-anchor="middle" fill="#4a4a4a">-12</text>
<text x="49.1" y="218.9" font-size="2.9" text-anchor="middle" fill="#4a4a4a">-8</text>
<text x="76.2" y="218.9" font-size="2.9" text-anchor="middle" fill="#4a4a4a">-4</text>
<text x="103.3" y="218.9" font-size="2.9" text-anchor="middle" fill="#4a4a4a">0</text>
<text x="130.4" y="218.9" font-size="2.9" text-anchor="middle" fill="#4a4a4a">4</text>
<text x="87.0" y="223.6" font-size="3.6" text-anchor="middle" fill="#2a2a2a">UMAP_1</text>
<text x="0.0" y="0.0" font-size="3.6" text-anchor="middle" fill="#2a2a2a" transform="translate(9.0 171.4) rotate(-90)">UMAP_2</text>
<path d="M31.2 185.2h0M43 180.5h0M30.8 178.8h0M29.8 180.6h0M35 181.6h0M29 177.6h0M24.2 180.6h0M30.2 184.9h0M36.7 184.5h0M39.2 183.2h0M26 181.5h0M32.3 182.1h0M24.3 179.9h0M43.6 179.6h0M38.8 182.6h0M34.3 177.8h0M32.9 176.1h0M40 178.6h0M26.6 185.1h0M28.2 185.9h0M37.5 179.6h0M33.1 178.3h0M34.6 181.7h0M31.3 184.1h0M34.3 181.2h0M38 183h0M32.4 181.4h0M23.6 182.4h0M43.5 181.2h0M31.8 177.9h0M47.2 180.4h0M36.3 185.9h0M34 184.7h0M24.8 180h0M29.4 184.5h0M40.1 183.2h0M28.8 184.7h0M38 180.6h0M38.2 182.2h0M31.3 186.3h0M34.7 182.4h0M28 181.4h0M24.6 181.6h0M27.9 183.2h0M46.4 181.4h0M43.8 182.7h0M26.7 181.9h0M37.5 182.4h0M39.7 182.7h0M31.6 183.2h0M33.2 177.7h0M34.9 182.8h0M26.9 182.8h0M44.2 179.6h0M33.2 181.2h0M29 178.2h0M31.6 180.3h0M25.5 183.4h0M37.3 178.9h0M24.8 184.4h0M26.5 176.8h0M26.6 176.3h0M30.9 184.6h0M33 183.7h0M25.8 183.5h0M39.6 179.6h0M30.2 181.7h0M26.5 177.6h0M43.3 182h0M42.5 179.6h0M41.4 180h0M36.8 179.7h0M32.9 184.8h0M26.8 183.9h0M26.7 176.5h0M37.6 180.4h0M31.4 178.5h0M41.3 180.7h0M28.9 176.3h0M24.3 180.7h0M26.9 177.3h0M44.5 180.6h0M30.3 181.2h0M39 182h0M32.8 184.6h0M27 175.9h0M28.8 180.9h0M35.6 185.9h0M24.4 178.9h0M29.1 180.9h0M40 184.1h0M30.7 176.9h0M31.7 186h0M26.6 181.2h0M37.3 184.1h0M30.6 184.1h0M40.9 182.4h0M47.5 180.1h0M33.3 182.8h0M36.8 184h0M35 179.9h0M37.4 181.8h0M28.1 180.5h0M41.8 182.9h0M37.6 184.8h0M34.8 182.7h0M39.6 179.5h0M37.9 179.5h0M34.9 183.4h0M35.8 179.4h0M43.9 179.5h0M34.9 183.1h0M24.4 179.6h0M44.7 181.8h0M37.2 182.8h0M33.9 177.3h0M30.3 178.3h0M32.6 181.9h0M32.5 178.3h0M44.9 180h0M35.6 177h0M33.5 184.3h0M44 180.2h0M42.5 180.3h0M32.3 181h0M28.4 178.9h0M24.9 184.1h0M43.7 180.4h0M24.8 183h0M29.3 182.3h0M33.2 181.9h0M29.8 180.8h0M36.4 182.1h0M28.3 186h0M30.2 178.7h0M34 183.7h0M42.5 180.8h0M35.8 176.7h0M34.3 182h0M26.1 176.5h0M27.4 178h0M27.4 177.2h0M34.5 176.6h0M30.6 184.3h0M27.8 182.4h0M33.2 180.4h0M39.4 181.6h0M26.1 178.6h0M38.9 182.3h0M31.8 181.3h0M31.5 176.1h0M44.3 179.4h0M29.2 176.4h0M28.7 177.8h0M37.5 185.3h0M42.1 182.5h0M31.1 182.5h0M34.4 185.3h0M30.4 183.9h0M38.6 183.4h0M32.8 183.3h0M33.8 178.6h0M31 175.6h0M28.4 178.5h0M27.3 175.7h0M35 177.5h0M30.2 181.4h0M25.1 182h0M23.2 181.5h0M24.9 178.7h0M43.5 180.1h0M33.2 177.2h0M39.6 178.8h0M38.1 184.6h0M36.7 177h0M38.1 180.3h0M27.5 182h0M36.3 183.6h0M33.3 178.7h0M40.6 181.9h0M25.8 184.2h0M24.4 178.9h0M28 180.4h0M27.8 181.1h0M34.2 176.3h0M31.9 186.7h0M35.2 182.8h0M35.6 177.3h0M26.1 178.2h0M25 177.9h0M26.2 180h0M30.1 175.7h0M31.1 183.3h0M29.8 176.7h0M34.5 181.9h0M40.8 180h0M25.3 179.2h0M25.8 181.3h0M34.4 181.7h0M41.7 182.7h0M43.5 179.4h0M34.5 186.2h0M47.1 179.8h0M32.5 183.9h0M32.7 180.2h0M42.3 181.4h0M42.2 179.3h0M31.2 182.1h0M27.7 176.2h0M24 180.2h0M37.7 178h0M32.2 182.2h0M29.5 177.9h0M41.1 179.2h0M24.2 181.1h0M25.4 177.5h0M33.9 177.2h0M29.6 186.5h0M25.5 178.9h0M27.5 185.2h0M31.5 178.6h0M40 180.9h0M39.1 181h0M43 180h0M29.4 185.2h0M33.1 178.5h0M40.9 181h0M31.2 178.1h0M46.4 181.1h0M25 181.4h0M35.6 180.5h0M26.6 176.9h0M33.6 184.9h0M37.8 177.5h0M33.9 183.1h0M24.9 177.8h0M23.7 181.4h0M32.4 181.2h0M27.7 186.1h0M47.2 180.7h0M35.3 184.8h0M31.7 182.1h0M43.3 181.1h0M32.5 179.3h0M25.1 178.6h0M38.5 181h0M28 181.5h0M26.9 184.3h0M26.8 176.7h0M37.7 179.5h0M34 177.5h0M39.6 178.8h0M33.3 180.3h0M41 178.3h0M45.5 180.3h0M35.7 185.3h0M27.4 177.6h0M25 180.4h0M38.3 178.7h0M26.2 184.3h0M42.8 181.7h0M26.8 181.2h0M38.8 180.2h0M44.6 179.7h0M35.9 175.8h0M33.6 180h0M39.1 183.5h0M36.4 185.2h0M34.5 180.3h0M30.9 183.1h0M33.6 185.9h0M25.3 180.6h0M24.5 181.4h0M27.9 178.8h0M30.8 181.7h0M26.7 180.9h0M30.8 182h0M24.8 182.6h0M48.5 180.1h0M45 181.5h0M29.9 178.7h0M38 182.6h0M43.6 181.5h0M36.1 184h0M39.6 178.6h0M25.1 180.7h0M45.6 182.1h0M32.8 180.9h0M31.6 180h0M40.9 180.9h0M43.7 180.8h0M25.9 184.3h0M30.7 185.1h0M25.6 183.6h0M26 185.2h0M35.3 176.5h0M35.1 178h0M33.1 182.7h0M25.6 180.9h0M46.2 180.1h0M29.9 181.9h0M31.1 186h0M25.4 183.2h0M30 175.1h0M32.2 176.7h0M39.7 183.8h0M35.6 184.1h0M39.2 182.4h0M24.1 177.9h0M33.2 181.4h0M25.3 183.7h0M34.6 181.4h0M40.4 179.7h0M41.7 179.9h0M33.4 178.8h0M35.5 178.3h0M30.4 177h0M34.7 178.9h0M31.7 182.4h0M37.5 180.3h0M31.5 183.4h0M29.5 180.8h0M24.9 184.4h0M31 182.6h0M34.5 177.3h0M41.4 179.4h0M25.3 181.1h0M40.8 179.3h0M31.1 180.6h0M38.6 182.9h0M32.8 183.2h0M23.7 180.5h0M25.8 182.4h0M26.4 179.5h0M35.4 176.5h0M32.1 184.7h0M26.7 182h0M34.1 178.8h0M26 179.1h0M32.4 181.9h0M39.8 182.5h0M34.7 177.7h0M32.9 183.6h0M34.7 178.3h0M41.7 182.9h0M40.3 181.3h0M31.2 179.1h0M27.3 180.6h0M32.5 180.1h0M28.6 180.8h0M25.4 179.6h0M35.6 184.3h0M33.8 179.2h0M35.8 177.1h0M31.2 179.2h0M29.3 185.5h0M34.3 177.5h0M25.9 176.2h0M46.4 181.2h0M29.6 183.9h0M35.5 181.5h0M34.3 182.6h0M25.3 180.9h0M29.3 176.2h0M28 178.2h0M34.2 178.8h0M33.5 184.3h0M25.4 178.1h0M35.2 182.9h0M39.5 183.7h0M31.3 178.4h0M30.8 184.4h0M32.4 178.9h0M33.2 182.4h0M40.4 180h0M27.7 186.4h0M35.1 183.2h0M28.8 176.6h0M28.3 177.6h0M33.3 178.7h0M32.4 184.2h0M34.3 177.9h0M31.4 175.4h0M35.4 184.9h0M34.8 178.6h0M35.2 178.7h0M26.8 177.5h0M40 178.4h0M31.3 183.7h0M29.1 185.1h0M27 177.6h0M32.2 178.9h0M34.6 178.2h0M32.7 178.9h0M32.5 182.7h0M35.5 177.5h0M34.6 183.2h0M29.5 176.6h0M29.9 180.3h0M28.3 181.8h0M36.3 183h0M29.5 183.3h0M41.3 183.2h0M37.8 178.4h0M33.5 181.1h0M36.5 177.8h0M29.9 178.9h0M37.3 179.1h0M27.5 183.2h0M28.7 180.6h0M34.6 185.1h0M26.8 185h0M28.4 184h0M27.3 185.7h0M28 183.4h0M25.4 181.7h0M42.7 180.3h0M35.8 180.7h0M34.6 180.2h0M29.9 178h0M28.6 181h0M44 180h0M34.6 180.2h0M29.2 186h0M25.4 177.3h0M40 182.2h0M29.9 186h0M33.3 181.7h0M25.4 179.2h0M29.2 175.4h0M40 178.9h0M31.5 184.9h0M31.8 185.4h0M27.9 175.9h0M32.4 186.5h0M29.1 179.7h0M31 184.5h0M37.5 181.8h0M40.8 179h0M33.2 177.9h0M30.4 177.1h0M32.2 183.2h0M29.9 181h0M28.3 175.8h0M34.4 183.1h0M31.8 180.4h0M33 183.9h0M36.6 181.9h0M36.8 176.9h0M43.4 180.5h0M31.8 180.2h0M29.1 178.7h0M25.7 183.8h0M30.5 178.9h0M42 180.5h0M29.6 180.4h0M47 180.8h0M29.6 183.7h0M44 182.8h0M36.7 184.1h0M38.4 179.5h0M25 183.9h0M34.4 184h0M30.8 180.1h0M30.6 181h0M30.8 181.7h0M42 182h0M26.9 183.9h0M31.1 182.2h0M36.1 176.6h0M26.8 177.8h0M32.7 180.5h0M27.8 180.2h0M28.9 177.3h0M32.4 175.8h0M35 183.4h0M45.7 180.3h0M38.1 181h0M29.2 177.4h0M29.6 186.3h0M29.5 180.6h0M37.3 181.1h0M40.6 181.9h0M31.6 176.2h0M28.1 184.1h0M38.6 184.7h0M32.9 186.3h0M37.8 181.1h0M43.7 181.8h0M38.4 179h0M35.1 178.3h0M31.1 181.6h0M28.7 177.2h0M33.6 183.8h0M42.7 182.6h0M31.5 184.7h0M28.2 180.2h0M25.7 182.4h0M25.8 177.2h0M42.2 180.7h0M39.5 183.4h0M38.4 177.8h0M25.9 176.6h0M39 183.5h0M32.4 179.3h0M28.2 181.2h0M39 178.2h0M25.8 180.7h0M41.4 183.4h0M26.4 181.1h0M44.1 181.7h0M37.9 181h0M35.4 180.8h0M27.3 185.1h0M34.1 176.5h0M35.2 185.2h0M35.8 182.4h0M32.5 176.5h0M32 177.6h0M42.3 179.1h0M35.3 186.2h0M40.6 183.6h0M31.8 184.8h0M43.7 181.3h0M37.7 183.7h0M31.6 186.4h0M32.3 176.3h0M25.1 181.5h0M30.3 185.7h0M36.7 181.2h0M27.8 177.5h0M37.6 178.2h0M29.6 176.5h0M30.7 184.7h0M27.2 184.1h0M34.8 186.1h0M45.2 179.6h0M47.9 181.1h0M29.3 181.4h0M40.2 180.6h0M32.4 178.2h0M29.7 186.2h0M42.4 179.5h0M38.2 177.6h0M40 183.8h0M41.4 180.8h0M30.1 185.5h0M29.9 186.8h0M25.9 181.5h0M26.1 177.4h0M33 177.6h0M31.3 185.3h0M40.5 183.7h0M42.9 182h0M42.2 181.3h0M29.3 186h0M40 178.7h0M44.6 179.4h0M33.9 182.4h0M24.9 177.6h0M25.3 183.6h0M28.8 180.9h0M31 178.2h0M46.5 180.9h0M39 183.3h0M33.5 176.4h0M42.2 181h0M43.9 180.9h0M27 182.1h0M40.8 179.1h0M43.9 182.2h0M24.3 177.6h0M27.8 185.3h0M29.8 186.1h0M41.9 180.5h0M27 178.4h0M32.6 183.5h0M30.6 176.7h0M40 183.5h0M28.3 179.1h0M33.6 184.1h0M33.2 180.7h0M34.6 178h0M34.8 177.5h0M33.7 178.3h0M44.2 179h0M30.4 177.7h0M37.6 178.2h0M29.9 178.3h0M30 181h0M25.7 183.9h0M27.6 180.1h0M33.7 181.5h0M44.4 181.8h0M28.6 185.1h0M37.5 182.8h0M44.6 179.6h0M30.1 175.7h0M42.6 179.9h0M36 177.4h0M38.2 180.1h0M31.9 180.9h0M28.7 180.3h0M33 178.2h0M39.2 184.1h0M38.3 183h0M38.1 178.3h0M44.7 182.3h0M43.4 181.9h0M34.5 183h0M28.6 183.1h0M43.4 180.2h0M26.2 183.7h0M38.8 180h0M39.8 183.6h0M36.2 178.2h0M25.3 178h0M36.8 182.2h0M34.7 176.6h0M38.9 178.1h0M39.4 179.1h0M28 182.4h0M34.9 181.4h0M33.8 184.2h0M29.7 182.7h0M32.9 179.6h0M33.5 177.2h0M40.2 179h0M34.5 185.7h0M38.4 184.2h0M24.8 180h0M47.2 180.1h0M33.7 181.1h0M29.4 178h0M38.3 184.2h0M35 182.2h0M31.5 185.8h0M35.3 177.8h0M30 186.3h0M35.4 183h0M35.9 186.1h0M31.7 175.7h0M31.2 176.4h0M38.4 184.9h0M33.3 178.3h0M28 181.1h0M31.9 181.6h0M26.4 181.1h0M26.2 178.8h0M30.7 183.1h0M39.4 183h0M40.8 183.4h0M28.7 183.4h0M28 181.2h0M30 180.3h0M34.8 178.4h0M34.4 185.6h0M37.1 183.1h0M35.2 182.2h0M43.5 180h0M28.7 179.8h0M40.3 178.7h0M27.9 178.2h0M44.4 182h0M29.2 177.3h0M39.1 182.8h0M35.2 185.6h0M36.6 184.8h0M35.5 182.4h0M36.1 183.7h0M27.6 178.8h0M44.8 179.7h0M42.2 182.9h0M25.2 177.8h0M39 184.3h0M39 179.9h0M34.1 184.9h0M30.2 177.8h0M26.2 182h0M32.6 182.7h0M43.2 179.6h0M34 182.6h0M26.1 181.3h0M26 177.6h0M26.9 181.2h0M34.2 179.5h0M38.1 182.7h0M26 179.9h0M25.4 180.2h0M29.2 185.5h0M31.6 179.7h0M43 181.2h0M24.6 177.6h0M38.3 177.4h0M35.3 178.1h0M37.3 182h0M30.9 184.9h0M24.5 178.6h0M28.5 185.4h0M30.7 184.6h0M24.8 180.2h0M44.1 182.1h0M24.6 180h0M31.9 184.2h0M25.8 184.4h0M39.7 180.5h0M41.4 179.6h0M27 180.4h0M34.1 184.5h0M28.1 180.9h0M37.9 181.7h0M38 180.1h0M31.9 177.6h0M25.1 179.3h0M42.2 181.7h0M27.5 184.3h0M39.3 181.7h0M33.7 184.4h0M36.3 178.6h0M33.6 181.1h0M41.9 181.4h0M40.1 183.9h0M48.3 180.3h0M28.8 179.1h0M32.1 185.3h0M41.3 181h0M23.5 181h0M26.4 181.6h0M38.9 178.7h0M28.4 185.7h0M31.1 181.8h0M32.4 175.7h0M40.8 180.9h0M30.7 175.3h0M36.8 182.7h0M46 180.2h0M28.8 180h0M32.7 186.1h0M39.1 184.2h0M27.9 178.3h0M32.5 181.1h0M35 181h0M33.9 183.1h0M30.2 177.4h0M33.7 175.7h0M34.9 180.9h0M32.1 184.6h0M33 184.4h0M36.7 182.7h0M37.1 184.6h0M29.7 182.1h0M33.6 178h0M36.7 179.4h0M26.3 183.2h0M26 185.9h0M35.5 182.5h0M30.7 176h0M35.8 180.4h0M45.9 181.5h0M32.2 183.3h0M29 183.6h0M27.7 186.4h0M41.1 180.5h0M40.9 180.8h0M37.1 179.1h0M29.3 178.1h0M32.3 182h0M30.6 186.6h0M42.8 180.7h0M28.8 185.7h0M36.2 177.1h0M37.7 183.1h0M23.4 179.7h0M39.4 180.1h0M39 182.2h0M33.6 182.6h0M33.1 184.1h0M31.8 179.1h0M30.3 179.3h0M28.5 183.8h0M28.3 178.2h0M26.6 180.1h0M26.1 178.2h0M28 185.8h0M32.5 176.2h0M43.3 182.4h0M32.6 179.5h0M43.4 181.1h0M40.8 178.6h0M29.5 177.4h0M43.7 180.5h0M27.6 184.2h0M37.4 179.8h0M32 177.5h0M39.6 182.9h0M27.3 176.9h0M36.2 181.5h0M44.5 181.1h0M39.1 180.3h0M34.4 179.1h0M27.4 180.8h0M44.7 179.9h0M42.6 182h0M23.7 180.8h0M30.9 179.9h0M31.9 178.7h0M33.4 183.1h0M41.6 180h0M29.3 180.8h0M30.7 184.4h0M38.5 178.7h0M43.4 182h0M26.7 179.8h0M31 180.3h0M47.4 180.5h0M32.8 177.3h0M45.1 181.1h0M29.2 175.6h0M34.2 175.9h0M35.4 184.2h0M30.5 176.7h0M32.7 177.2h0M26.7 179.1h0M39 179.2h0M24 181.6h0M27.8 183.8h0M28.6 183.5h0M31.6 183h0M36.1 182.4h0M42 181.6h0M32.2 184.4h0M32.6 185.4h0M48.4 180.8h0M32.9 183.8h0M36.6 181.1h0M36.3 180.9h0M36.6 183.2h0M27.7 176.8h0M39.4 181h0M42.4 180.3h0M29.6 185.5h0M34.2 180.5h0M40.6 182.9h0M40.5 182.5h0M36.1 183.7h0M33.1 178.2h0M33 183.2h0M32.1 184.2h0M40.4 179.2h0M27.8 179.1h0M35 185.2h0M36.9 182.4h0M29.8 184.1h0M38.1 184.7h0M31.3 178.9h0M27.3 182h0M36.8 182h0M26.1 181.6h0M30.4 177.7h0M32.3 182.3h0M33.7 185.4h0M34.2 183.8h0M31.4 177.6h0M29.7 181h0M27.2 180h0M23.9 182.8h0M38 178.3h0M26.3 179.2h0M24.1 179.6h0M33 181.4h0M31 178.1h0M29.9 183.3h0M26 178.8h0M33.7 178.4h0M29.6 176.8h0M29.9 176.1h0M45.1 182h0M40.7 182.8h0M29.7 175.9h0M32.9 177.2h0M24.9 182.9h0M30.6 178.5h0M37.2 182h0M33.7 185h0M33.2 178.7h0M28.1 180.9h0M38.7 178.5h0M32.6 178.5h0M37.3 179.8h0M37.2 184.1h0M35.4 177.4h0M38.4 178.1h0M31 180.3h0M26.9 178.5h0M37.5 178.9h0M34.2 182.3h0M33.9 179.7h0M30.8 181.9h0M35.8 179.9h0M38.7 179.2h0M43.6 180h0M33.1 185.1h0M35.8 184.2h0M25.9 181.6h0M26.5 178.6h0M31.9 178.5h0M34.1 185h0M39.4 182.5h0M34.3 176.5h0M30.8 177.7h0M31.5 180.5h0M30.9 179.1h0M33.5 185.8h0M32.4 179.1h0M34.8 183.9h0M35 179.5h0M41 178.3h0M41 179.6h0M35.5 177.2h0M28.2 184.9h0M37.4 179.9h0M24 182.4h0M30.2 178.5h0M34.6 184h0M28.8 181.7h0M33.6 178.7h0M35.6 183.3h0M27.4 185.4h0M29.5 183h0M28.3 182h0M33.9 176.1h0M28.2 181.3h0M42.1 180.3h0M32.3 177.5h0M34.8 176.4h0M44.7 181.1h0M29.6 176.8h0M34.6 177.8h0M26.8 183.2h0M33.7 183h0M31 180.3h0M35 178.9h0M28.7 179.7h0M37 179.4h0M29.2 182.9h0M41.1 179.7h0M27 182.2h0M28.4 179.3h0M26.5 175.9h0M24.2 181.6h0M26.4 183h0M31.7 182.8h0M29.7 176h0M27.5 178.5h0M27.7 177.8h0M36.8 180.4h0M44 181.4h0M37 183.3h0M44.5 181.9h0M24.3 180.3h0M24.3 181.9h0M24.7 181.5h0M26.9 184.9h0M25.1 182.9h0M38 178.9h0M29.9 178.2h0M24.9 178h0M25.4 184.6h0M37.8 184.2h0M39.1 181h0M30.8 181.5h0M35.4 185.1h0M23.9 181.8h0M27.4 182.1h0M36.9 179.2h0M31.6 179.8h0M29.9 179.5h0M27.4 178.6h0M28 185.5h0M29.4 176.4h0M39.6 183.2h0M45.5 180.4h0M31.3 178.6h0M33 179.6h0M24.7 182.4h0M30.2 185.5h0M41.5 182.9h0M28.2 178.5h0M36.4 177.4h0M32.3 176.9h0M26.9 179.3h0M27.8 181.9h0M36.7 177h0M32.1 178.8h0M36.7 181.5h0M31.3 185.6h0M31.8 179h0M40.4 180.7h0M32.9 184.5h0M29.3 178.2h0M37.2 185.3h0M38.5 183.4h0M44.8 181.7h0M28.6 176.9h0M31.7 176.8h0M42.1 181.4h0M37.6 180.1h0M46 181.3h0M34.9 182.4h0M36.6 182.3h0M28.4 176.8h0M38.1 181h0M35.6 178.7h0M34.8 183.1h0M31.2 182.6h0M23.7 181.3h0M29.2 178.6h0M34.4 181h0M43.7 180.7h0M24.8 183h0M29 185.2h0M28.5 178.5h0M26.6 178.3h0M37.6 178.3h0M24.8 181.6h0M34 175.9h0M30.4 185.1h0M40.9 180h0M35.7 177.3h0M29.7 175.8h0M34.6 180.7h0M30.6 185.9h0M27.7 181.4h0M36.5 180.6h0M37.4 184.5h0M24.2 180.9h0M34 179.9h0M36.8 182.2h0M39.4 178.3h0M27.1 176h0M40.3 182.7h0M38.5 179.2h0M35.1 178.3h0M31 181.8h0M28.1 184.3h0M35.2 179.9h0M24.5 178.3h0M37.6 178.4h0M23.8 181.3h0M30.7 184.9h0M40.6 183.5h0M31.8 181.9h0M29.9 177.2h0M28.4 177.4h0M29.9 178h0M24.7 180.3h0M28.2 183.6h0M28.7 181.5h0M28.3 180.1h0M36.5 179.7h0M35.2 181.5h0M36.5 183h0M33.9 178.8h0M32.6 179.5h0M25.1 177.5h0M30.7 185h0M34.8 185.6h0M35.6 177.5h0M34.2 175.9h0M32.8 179.7h0M47.3 181.2h0M28.4 186h0M35.4 180.1h0M32.7 185.2h0M26.2 177.5h0M30.1 175.4h0M44.2 181.3h0M36 178.3h0M36.5 181h0M31.1 177.9h0M29.5 179.1h0M26.2 179h0M32.8 182.9h0M33.4 177h0M34.5 182.5h0M27 181.2h0M34.6 177.4h0M31.5 180.9h0M40.6 180.9h0M26.4 185.7h0M30.4 180h0M25.6 181.5h0M43.3 180h0M30.2 176.6h0M41.7 180.6h0M25.4 178.8h0M30 180.2h0M32.2 176.3h0M25.1 184.1h0M25.7 178.5h0M27.6 176.4h0M34.1 178.6h0M38.8 179.1h0M30.6 178.2h0M25.7 184.1h0M30.7 183.8h0M38.1 183.3h0M24.7 178.8h0M37.1 177.5h0M33.5 177.8h0M29.5 179.4h0M30 183.1h0M37.3 180.7h0M30.9 178.8h0M28.3 180.2h0M31 185.7h0M28.8 182.8h0M32.4 182.4h0M33.1 176.5h0M30.8 179.3h0M27.2 178.4h0M30.4 184.8h0M34.4 184h0M25.1 180.9h0M30.3 177.6h0M39.4 182.2h0M31.7 184h0M30.2 185.5h0M25.2 180.6h0M38.5 179.9h0M34 178.1h0M26.6 179h0M32.4 175.9h0M36.8 182.3h0M28 178.3h0M41.6 179.3h0M31.7 183.4h0M30.1 181.2h0M33.4 182.8h0M30.8 179.1h0M32.7 185.8h0M30.7 175.5h0M25.8 182.1h0M32.6 184.5h0M41.4 179.7h0M35.4 184.8h0M42.2 179.4h0M44.3 181.4h0M33.5 179.8h0M38.6 178.8h0M45 179.8h0M35.6 181.1h0M31.6 180.9h0M29.4 182.8h0M25.6 182h0M40.3 184.1h0M29.1 183.6h0M34.3 184.7h0M30.5 178.9h0M39.3 181.8h0M31.2 176.3h0M41.8 183.4h0M30.2 175.4h0M30 177.7h0M31.6 175.8h0M33.5 176.3h0M29.5 182.6h0M33.8 181.4h0M41.6 182.8h0M30.4 175.9h0M36.3 182.3h0M29.1 175.3h0M29.1 182.2h0M33.5 179.8h0M35 179.4h0M36.8 179.5h0M35.3 182.7h0M36.6 179.1h0M31.9 177.9h0M35.5 180.3h0M31.2 181.5h0M33.9 179.9h0M31.2 181.5h0M30.2 182.2h0M49.5 181h0M52.6 180.9h0M60.9 180.8h0M58.9 180.3h0M49.9 182.1h0M60.5 179.7h0M56.2 180.7h0M57.1 180.1h0M48.5 180.1h0M50 181.7h0M59 178.8h0M51.9 179.6h0M57.8 179.9h0M50.9 180h0M61.2 180h0M57.3 179.4h0M67.4 179h0M59.9 178.9h0M50.4 178.8h0M51.1 178.7h0M51.1 181.7h0M60.5 180.5h0M48.9 180.5h0M51 179.4h0M67.8 179.3h0M57.7 178.4h0M59.9 181.8h0M59.5 180.3h0M64.6 179h0M53 180.4h0M59.9 180.4h0M51.3 181.1h0M67.6 179.8h0M60.8 179.2h0M55.3 181.4h0M63 179.7h0M51.5 179.3h0M52.3 180.2h0M53.7 181h0M60.6 180.9h0M67.6 179.7h0M49.3 181h0M55.7 180.9h0M56.5 180.1h0M60.5 180.9h0M54.7 180.3h0M53.5 181.3h0M53.6 178.3h0M48.7 180.3h0M55.6 180.2h0M49.3 182.1h0M56.4 181.5h0M52 179.8h0M52.9 178.4h0M54.1 179.3h0M62.5 178.6h0M50.9 180.1h0M52.9 181.7h0M53.1 181.2h0M56.6 179.6h0M50.9 179.2h0M57.6 181.9h0M55.7 181.3h0M57.4 180.5h0M56.1 178.6h0M53.2 181.6h0M53.3 180.4h0M56.4 179h0M57 178.6h0M55 180h0M64.6 179.7h0M57.9 178.3h0M57.3 180.1h0M62.7 180.6h0M59.8 179.8h0M56 179.8h0M51.2 179.7h0M49.7 181.6h0M56.3 181.3h0M51 180.4h0M62.4 180.6h0M67.8 179.9h0M54.6 178h0M49.2 181.2h0M59.7 181.6h0M62.3 179.6h0M70.1 179.5h0M55.4 179.9h0M56.1 179.8h0M62 180.5h0M49 180.5h0M56.1 180.6h0M55 180.1h0M63.9 179.3h0M49.5 180.4h0M56.8 178.3h0M61.7 178.6h0M59.6 179.7h0M52.6 179.6h0M49.7 179.8h0M52.8 181.9h0M58.7 179h0M65.9 180h0M70.3 179.3h0M62.1 180.5h0M56.7 179.3h0M63.7 180.3h0M54.5 180.9h0M53.8 181.2h0M55.3 181.2h0M49.6 181.5h0M49.9 179.9h0M57.2 179h0M60.7 180h0M52.7 178.5h0M54.4 179.4h0M51.6 179.7h0M54 179.2h0M65.9 179.2h0M57.2 179h0M61.4 181.2h0M70.4 179.9h0M67.7 180.8h0M53.5 180h0M58.9 181.8h0M53.4 179.8h0M58.4 178.7h0M51.5 179.6h0M58.4 180.4h0M50.2 182.3h0M57.9 181.5h0M56 181.1h0M61.6 178.3h0M57.3 180.9h0M50.2 181.7h0M48.4 181.1h0M50 180.5h0M53.5 178.2h0M52.4 181.6h0M48.6 180.8h0M62.7 179.6h0M58.9 179.8h0M60.2 179.1h0M50.3 178.6h0M54.5 181h0M48.3 181h0M53.4 180.7h0M64.7 179.5h0M63.6 178.6h0M54.1 179h0M65.1 179.6h0M53.3 179.1h0M56.1 178.3h0M59 180.7h0M60.4 178.9h0M58.9 178.2h0M62.9 180.5h0M65.8 178.7h0M61 178.6h0M51.6 181.9h0M65.2 179.7h0M64.8 179.9h0M52.9 180.4h0M70.8 180h0M53 180.3h0M52.4 179h0M65 179h0M58.1 180.4h0M51.6 178.8h0M59.8 178.4h0M53.8 178.2h0M51.7 178.1h0M61.3 178.5h0M48.7 178.4h0M59.9 179h0M55.3 180h0M50.1 180.1h0M58.5 177.7h0M51.8 179.9h0M60.7 178.9h0M62.3 178.9h0M68 179.2h0M60.6 180.1h0M52 181.8h0M52.7 178.7h0M50.6 182h0M60.1 180.4h0M64.5 180.5h0M55.5 179.4h0M52.4 181.6h0M63.1 179.5h0M56.9 178.9h0M50.9 181.3h0M68.4 179.1h0M60.6 178.9h0M56.7 179.7h0M61.5 179.2h0M62 179.2h0M50.6 179.4h0M60.8 179.9h0M57.3 180.5h0M50.6 180.5h0M60.6 179.7h0M66.3 179h0M55.5 181.9h0M49.4 181.8h0M49.7 181.2h0M61.3 178.3h0M55.5 179.8h0M56 181h0M52.2 181.9h0M53.1 178.8h0M53.1 180.8h0M54.9 177.9h0M50.3 179.7h0M49.4 180.1h0M55.5 181.2h0M59.1 181.3h0M51.6 181.4h0M58.3 179h0M59.8 179.3h0M51.5 178.4h0M53.3 179.8h0M48.6 179.1h0M58 181.8h0M52.9 178.3h0M54 179.5h0M69.4 179.7h0M52.9 180.1h0M50.5 179.1h0M52.2 179.1h0M64 180.7h0M48.6 181.4h0M53.2 181h0M60.9 181.1h0M62.8 179.2h0M64.6 180.3h0M60.9 180.6h0M56.4 181h0M69 179.5h0M58.6 178.3h0M63.8 179h0M56.7 179h0M49.2 181.4h0M55.5 181.9h0M66.4 180.3h0M59.2 178.4h0M56.6 180.9h0M52.1 178.8h0M56.1 177.8h0M56.3 179.2h0M50.6 180.3h0M60.3 180.9h0M60 180h0M59 180.2h0M65.1 180.8h0M56.3 180.8h0M65.3 179.4h0M50.2 179.2h0M63.9 179.9h0M58.2 179.2h0M49.6 178.2h0M57 179.1h0M60.3 178.5h0M57.2 180.9h0M66 180h0M52.7 178.3h0M58.4 179.6h0M59.2 180h0M50.2 179.7h0M53.5 180.2h0M60.2 181.7h0M55.6 178.1h0M56.6 181.9h0M57.6 179.1h0M66 180.5h0M65.3 179.4h0M49.6 182.2h0M65 178.8h0M65 179.3h0M57.7 178h0M51.4 180.2h0M51.7 180h0M55.4 179.5h0M54.6 180.8h0M58.1 180.8h0M54.8 181h0M67.5 179.2h0M63.5 181.2h0M61.3 178.4h0M65.2 180.3h0M62.6 178.7h0M57.2 180.6h0M57.7 181.5h0M50.9 181.7h0M50.2 179.1h0M48.2 180.7h0M57.9 178.8h0M62.1 178.9h0M52.4 178.1h0M51.9 178.7h0M55.7 178.4h0M50 178.3h0M58.1 180.7h0M49.7 178.7h0M48.5 179.5h0M53.1 181.3h0M57.6 179.3h0M65.6 180.2h0M58.1 181.3h0M68.6 180.5h0M57.6 180h0M49.7 179.9h0M53.7 181h0M65.7 179.4h0M52.1 179h0M55.1 180.3h0M54 178.8h0M55.7 181.6h0M53.4 180.9h0M68.6 179.2h0M70.1 180h0M63.8 180.4h0M58.8 181.8h0M68.7 180.2h0M55.3 181.9h0M64.3 179.4h0M58.9 181.3h0M64.3 180.2h0M49.9 181.9h0M64.9 178.9h0M55.4 181.5h0M53.9 180.7h0M49.2 179.1h0M62.1 179.7h0M62.2 178.9h0M52.1 180.8h0M62.5 180.2h0M56.5 180.8h0M69.5 178.8h0M49 178.9h0M66.5 179h0M65 178.2h0M61.6 179.4h0M60.3 179.1h0M61.5 180.4h0M64.2 179.3h0M48.2 181.8h0M49.1 180.7h0M50.4 180.2h0M66.1 180.1h0M63.8 180.2h0M51 181.5h0M53.1 178.7h0M57.6 178.6h0M52 179.5h0M50.5 181.6h0M57.1 180h0M56.2 181.6h0M62.4 181h0M70.8 179.2h0M67.3 180.4h0M57.2 181.7h0M53.6 181.5h0M52.1 179.9h0M55.7 180.2h0M68.7 180.6h0M50.1 179.1h0M61.7 180.3h0M59 179.6h0M57.2 178.2h0M70.2 179.7h0M48.1 180.6h0M65.4 180.8h0M50.6 179.2h0M55.5 180.7h0M59.7 181.3h0M56.6 182.2h0M61.7 180.2h0M53.7 181.5h0M49.7 182.3h0M51.6 181.7h0M55.2 180.5h0M50.9 181.9h0M69.2 179.3h0M48.7 179.4h0M51 178.5h0M60.3 180.1h0M63 179.5h0M49.7 181h0M56.5 181.8h0M50.3 181.3h0M55.5 181.4h0M50.8 181.6h0M60.7 180.8h0M67.4 179.7h0M50.4 177.9h0M53.5 180.7h0M56.1 177.8h0M53.7 178.5h0M57.1 181.4h0M57.2 178h0M70.6 179.4h0M62.1 179.6h0M69.4 179.6h0M49.8 180.3h0M50 181h0M64.3 178.2h0M50.6 178.6h0M69.2 179.6h0M50.5 180.8h0M53.2 181.2h0M56.6 179.5h0M49.2 179.1h0M65.5 179.3h0M69.5 179.1h0M66.5 179.3h0M65.8 179.8h0M53.2 179.3h0M54.1 179.1h0M53 179.1h0M54.2 177.4h0M54.9 175.8h0M54.7 176.2h0M54.5 176.3h0M54.7 175.7h0M54.9 175.6h0M54.8 176.4h0M54.7 177.2h0M54.7 176.3h0M54.6 175.9h0M54.7 176.9h0M54.5 175.8h0M54.5 177.1h0M54.3 177.7h0M54.6 175.2h0M54.7 175.3h0M54.5 176.8h0M54.7 176.5h0M60.2 177.6h0M60.2 178.2h0M60.1 176.7h0M60 178.3h0M59.6 178.2h0M59.9 178.3h0M60.2 176.9h0M60.2 176.6h0M59.9 177h0M73.7 179.3h0M75.6 178.8h0M74.8 179.3h0M75 179.5h0M74.7 179.3h0M73.6 179.1h0M74.9 179.1h0M71.3 179.1h0M71.5 179.7h0M38.8 166.1h0M38 165.8h0M38 165.3h0M37.2 166.7h0M37.1 166.1h0M38.2 166.7h0M38 166.7h0M37.6 165.4h0M39.7 166.8h0M39.7 167.1h0M39.5 167.1h0M40 167h0M55.7 171.1h0M56.6 170.6h0M56.9 171.7h0M55.7 171.9h0M55.9 171.7h0M56.8 171h0M57.1 171.3h0M55.3 171h0M56.5 171.3h0M55.9 172.4h0M55.9 171.6h0M54 168.5h0M53.8 169.2h0M54.5 169h0M54 168.3h0M53.6 168.7h0M52.7 174.5h0M52.2 173.8h0M52.7 174.1h0M60.8 173.3h0M60.8 173.3h0M73.5 175.9h0M69.2 175.7h0M73.2 175.9h0M67.9 176.1h0M76.3 176.1h0M70.2 175.8h0M74.8 175.7h0M71.4 176.1h0M92.9 166.6h0M82.9 170h0M83.5 166.7h0M82.9 173.4h0M86.9 170.5h0M82.1 168.7h0M86.7 174.8h0M94.5 160.9h0M95.9 167.7h0M92.1 163.4h0M95.4 170.7h0M88.2 165h0M83.2 173.2h0M84.3 170.4h0M94.8 172.6h0M90.9 173.4h0M96.6 172.8h0M90.4 161.2h0M85.7 164.5h0M97 162.7h0M94.5 166.1h0M92.3 172.4h0M81.2 174.3h0M94 169.1h0M90.7 173.4h0M85.5 170.6h0M91.9 163.6h0M84.3 165.5h0M83.2 173.2h0M91.1 175.2h0M89.4 164.1h0M96.1 169.6h0M90.5 166.7h0M89.6 165.1h0M93.5 173.6h0M90.5 165.9h0M86.8 164.7h0M89.2 168.4h0M95 170.5h0M86.9 172.1h0M94 170.9h0M92.5 160.4h0M98 162.3h0M88.3 166.4h0M83.8 174.9h0M87.4 163h0M80.4 169.8h0M95.6 162.9h0M81.2 168.9h0M94.8 170.9h0M94.5 169.6h0M84 170.4h0M89.9 169.5h0M93.2 163.4h0M96.1 167.1h0M84.5 167.6h0M91.6 174.9h0M94.3 163.3h0M89.5 170.6h0M90 171.4h0M91.3 163.6h0M90.4 170.6h0M91 174.4h0M95.7 159.9h0M80.6 172.8h0M96.4 168.8h0M80.4 171.5h0M85.6 173h0M93.7 165.6h0M95 168.1h0M88.8 163.2h0M84.4 168.7h0M84.3 165.5h0M88.7 174.4h0M82.3 171.6h0M81 173.2h0M86.3 169.9h0M94.5 165.8h0M93.2 168.3h0M86.1 174.6h0M80.7 167h0M90.6 170.6h0M94.9 162.8h0M89 163.8h0M90.4 168.7h0M86.4 168.2h0M87.8 170h0M87.5 169.5h0M91.7 166.3h0M82.7 174.4h0M85.9 173h0M93.4 164h0M94.7 164.7h0M96.8 165.2h0M96.9 163.1h0M90 163.3h0M91.7 170.3h0M93.7 166.2h0M87 163.9h0M87.7 167.3h0M84.2 167.8h0M84.7 167.7h0M86 171.4h0M91.4 170.9h0M95.1 164.1h0M85.2 169.7h0M91.5 170.8h0M91.8 173.3h0M95.8 160.3h0M86.2 167.5h0M93.5 165h0M97.6 166.8h0M88.3 171.3h0M84.7 174.7h0M83.1 174.8h0M91.8 171.3h0M86 167.7h0M85.1 167.9h0M95.1 172h0M95.2 165.6h0M83.6 172.1h0M96.3 170.9h0M89.9 165.2h0M92.8 165.8h0M82 174.1h0M96.4 161.1h0M94.7 169.3h0M85.2 164.1h0M82.6 169.9h0M97.2 164.4h0M84.3 167.7h0M82.6 172.6h0M95.5 164.6h0M92.9 168.7h0M81.8 167.6h0M81.6 170.9h0M91 166h0M87.3 171.4h0M86.7 171.8h0M85.6 168.5h0M92.9 166.4h0M81.1 169.9h0M88.6 174.1h0M84.2 170.1h0M90.7 174.2h0M84.9 165.8h0M86.3 173.7h0M95.1 163.9h0M80 169.7h0M85.2 164.7h0M84.1 172.8h0M94.6 172.3h0M85.4 175.4h0M81.3 172.1h0M91.9 174.9h0M96.3 164.1h0M88.4 162.8h0M94.4 174h0M94 172.5h0M81.5 167.7h0M91.8 164.5h0M95 171.2h0M83 167.5h0M97.8 162.7h0M94.9 163.7h0M82.9 171h0M95.5 166.6h0M83.8 168.8h0M94.1 166.6h0M89.4 171h0M96.9 160.6h0M84.2 170.8h0M82.1 170.3h0M94.2 170.2h0M95.4 168.8h0M85.7 174.8h0M89 163.3h0M91 163.8h0M86.4 170.3h0M90 168.4h0M86 165.3h0M89.1 164.1h0M92.9 162h0M86.5 174.4h0M95.1 172.8h0M93.4 162.3h0M81.2 172.3h0M86.9 163.9h0M88.2 169.8h0M93.2 173.9h0M88.1 165.5h0M84.2 174.2h0M86.7 165.5h0M96.2 166.1h0M87.5 162h0M87.1 173.2h0M96.3 162.5h0M88.8 172.2h0M83.4 168.6h0M91.7 164.5h0M90.5 163h0M94.3 162.6h0M87 175.3h0M92.7 163h0M87.8 172h0M85 172.4h0M96 170.9h0M83.8 164.6h0M93.4 166.4h0M83.7 173.6h0M90.9 161h0M81.4 168h0M89.2 166.6h0M79.3 170.7h0M84 168.8h0M93.7 173.7h0M93.1 172.7h0M87.9 170.3h0M95 161.6h0M90.1 173.1h0M84.8 169.2h0M90.9 169.8h0M82.2 167.9h0M85.3 162.8h0M89.2 172.8h0M88.9 165.4h0M93.6 164.4h0M81.6 171h0M88.3 175.2h0M89.4 173.5h0M85.5 172.8h0M88.1 169.5h0M86.1 164.8h0M84.5 163.3h0M79.2 170h0M84.3 173.9h0M90.3 161.6h0M89.4 165.9h0M88.4 163.6h0M82.1 170.1h0M92.8 169.1h0M92.5 171.3h0M88 162h0M91.8 170.2h0M84.7 168.5h0M96 160.8h0M82.6 171.5h0M79.8 172.1h0M81.9 173.6h0M90 160.6h0M90.7 174.6h0M87.7 171.6h0M88.6 173.4h0M89.3 169.7h0M91.1 173.2h0M79.1 171.2h0M90.2 167.6h0M83.6 171h0M86.2 172h0M90.9 170.7h0M85.5 173.2h0M85.9 167.8h0M94.9 169.6h0M96.7 159.9h0M90.8 167h0M86.4 163.9h0M86.5 172.2h0M92.1 172.5h0M93.4 170.1h0M89.6 163.8h0M91.5 162.1h0M98.2 163.1h0M96.1 164.7h0M84.1 171.7h0M87.7 161.5h0M94.8 168h0M89.8 164.9h0M79.9 173.4h0M89.7 163.9h0M89.4 163.2h0M94.3 167.9h0M86.7 166.6h0M83.2 167.6h0M83.1 164.2h0M88.8 169.7h0M85.5 173.8h0M86.2 166.3h0M82.2 170.3h0M96.4 165.1h0M91.6 174.4h0M88.5 167.7h0M94.8 165.9h0M93.3 161.6h0M88.2 167.6h0M94.1 168h0M90.8 173.8h0M83.8 166.5h0M96.3 166.3h0M90.1 167.6h0M86.6 171.5h0M82.1 171.7h0M96.6 171.3h0M93.2 164.2h0M81.6 174h0M91.7 173.8h0M79.8 172.6h0M93.2 168.1h0M93.4 175.2h0M95.4 172.4h0M85.8 164.6h0M83.1 172.4h0M85.5 165.3h0M83.6 169h0M92.5 163.3h0M84.4 174h0M92 160.1h0M94.7 163.6h0M95.4 161.9h0M96.4 160.2h0M85.2 170.8h0M81.3 167.3h0M91.7 163.9h0M94.9 174h0M83.6 165.4h0M94.8 167.4h0M93.2 164h0M95.2 173.3h0M94 173.1h0M86.4 167.5h0M83 167h0M82.2 173.6h0M93.6 169.2h0M94.9 167.9h0M87.3 164.7h0M91 168.3h0M88.7 170.1h0M82.5 165.2h0M89.6 175h0M89.3 174.8h0M93.5 173.9h0M84.6 171.4h0M91 165.2h0M90 161.5h0M89.8 171.5h0M96.8 167.3h0M93 163.2h0M79.7 168.6h0M87.1 164.3h0M89.7 171.6h0M85.6 164h0M91.5 166.4h0M84.2 174.7h0M83.2 165.7h0M84.5 172.7h0M92.3 173.7h0M83.5 173.2h0M92.2 161.7h0M83.9 172.8h0M87 161.6h0M91.9 161.8h0M81.8 172.6h0M93.8 170.1h0M91.9 166.7h0M90.5 170h0M97.3 162.5h0M85.9 168.6h0M89.4 169.6h0M92.1 170.8h0M97.7 167.8h0M89.4 162.1h0M89.7 169h0M81.1 172.1h0M87.3 170.9h0M87.1 172.6h0M91.9 164.5h0M88.8 174.1h0M87.1 167.3h0M88.7 173.5h0M79.3 172.2h0M92 168.5h0M86 168.5h0M92.4 166.8h0M96.6 169.1h0M87.3 173.8h0M88.7 161.1h0M87.9 167.6h0M87.3 169.2h0M92 162.1h0M81.9 168h0M92 170h0M93 164.9h0M89.7 169h0M80.9 171.1h0M94 163h0M85.6 169.3h0M96 160.8h0M88.6 164.6h0M95.6 162.6h0M93.6 172.2h0M85.2 171.4h0M80.8 166.5h0M82.8 165.1h0M83.2 168.2h0M83.4 168.9h0M89.8 163.5h0M90.6 173.8h0M97.5 172.5h0M98 161.7h0M87 167.3h0M95.5 167.1h0M88.3 161.5h0M88.5 168.5h0M88.2 168.6h0M78.7 170.3h0M95 172.7h0M96.1 169.9h0M89 172.5h0M96.2 170.9h0M97.9 162.6h0M82.8 175.1h0M94 172.9h0M86.8 162.8h0M90.1 165.5h0M85.6 168.4h0M96.3 168.3h0M95.4 169.7h0M83.1 172.1h0M85 171.9h0M88.9 170.3h0M94.8 166.1h0M84.6 167.7h0M88.1 162h0M90.9 168.4h0M92.4 175.5h0M84 167.2h0M90.6 168.2h0M79.7 170.7h0M86 168.2h0M86.2 170.3h0M82.6 170.4h0M86.3 173.7h0M92.8 166.8h0M83 173.3h0M85.4 164h0M97 162.7h0M94.3 164.9h0M85.5 164h0M84.4 167.2h0M86.4 172h0M93.9 161.2h0M82.2 168.7h0M92 168.1h0M91.2 173.2h0M95.7 162.6h0M95.5 163h0M96.2 161.2h0M93.6 160.5h0M88.8 173.6h0M89.1 173.7h0M82.5 167.3h0M90.3 168.6h0M88.7 161.6h0M93.6 160.1h0M93.6 166.4h0M80.9 171.2h0M82.9 168.8h0M89.9 165.9h0M94.1 174.3h0M97 173.8h0M89.2 167.3h0M95.8 168.4h0M94.3 168.6h0M88.8 167.5h0M94.5 161.7h0M96.5 164.7h0M96.6 164.1h0M97.5 174.2h0M91.9 166.9h0M93.9 163.1h0M95.4 170.5h0M86.5 174.9h0M90.2 167.2h0M89.6 164.6h0M90.9 164.2h0M91.8 169h0M88.8 167h0M88.2 171.3h0M91.7 164.2h0M86.6 175h0M88.7 171.7h0M97.1 171.5h0M87.2 164.3h0M95.8 171h0M92.7 172.2h0M96.2 167.7h0M83.6 170.1h0M89.9 170.3h0M97.5 171h0M87.8 167.4h0M92 171.7h0M90.9 174.2h0M96.7 173h0M82.6 173.3h0M95.5 160.7h0M93.5 172h0M96.3 172.7h0M92.6 161.5h0M84.2 165h0M89.1 173.8h0M96.1 161.9h0M94.9 166.2h0M81.7 174.6h0M87.3 173.9h0M96.5 164.3h0M96.5 170.8h0M95 164.3h0M92.8 172.6h0M92.1 173.8h0M96 168.3h0M97 170.5h0M96.6 161.7h0M79.5 169.7h0M97.3 172.6h0M82.7 174.7h0M85.4 171.5h0M89.6 172.5h0M85.1 165.7h0M96.3 173h0M86 171.8h0M86.4 163.1h0M91.5 167h0M86.9 165.7h0M83.5 169.3h0M84.1 166.3h0M84.5 173.7h0M89 162.2h0M81 171.2h0M97.9 163.1h0M90.1 168h0M87 170.6h0M93.9 172.6h0M85.2 168.4h0M88.3 162.6h0M82 173.1h0M91.4 162.7h0M95.5 160.9h0M91.3 165.9h0M86.7 161.7h0M88 161.5h0M87.8 166.7h0M81.4 170.5h0M91.5 170.6h0M95.4 173.1h0M87.7 166.4h0M86 171.6h0M85.7 175h0M88.5 174.7h0M79.8 168.1h0M87.2 169.1h0M96.6 160.4h0M81.7 170.1h0M89.1 171.2h0M95.6 172.7h0M90.2 169.2h0M88.5 173.2h0M79.2 170.9h0M90.4 161.4h0M86.9 168.6h0M90.7 162.3h0M85.8 173.3h0M80.1 167.8h0M80.4 172.2h0M86.1 167.8h0M82.4 174.9h0M91.1 171.5h0M87.1 174.7h0M82.8 173.5h0M90.8 170.9h0M97.1 162.2h0M84.7 168.4h0M93.2 160.4h0M86.5 168.3h0M93 170.2h0M87.2 162.2h0M86.5 167h0M96.5 162.7h0M81.6 171.7h0M81.5 172.6h0M89 167.9h0M87.7 174.1h0M93.7 172.3h0M93.8 172.8h0M94.4 173.2h0M93.7 162.1h0M88.8 170.5h0M88.9 167.7h0M84.3 174.6h0M83.2 164.3h0M94.8 172.5h0M85.6 162.9h0M96.4 163.8h0M89.1 170h0M84 168.5h0M93.1 175.1h0M87.4 165h0M85.3 168.7h0M85 166.1h0M90.9 170.7h0M92.8 169.5h0M81.6 170.2h0M96 164h0M97.2 169.2h0M93.1 170.9h0M90.4 175.4h0M94.8 166.6h0M97.8 173.6h0M87.8 173h0M88.7 172h0M88.2 171.6h0M93.2 174.8h0M82.1 170.7h0M91.6 164.4h0M90 169.7h0M90.1 172.2h0M91.6 161.3h0M79.7 173.3h0M93.8 161.3h0M95.7 170.2h0M90.5 170.9h0M96.9 164.9h0M79.8 170.3h0M84.7 170.7h0M94.3 161.6h0M82.1 168.1h0M95.3 172.2h0M96.2 162.9h0M89 169.2h0M95 162.7h0M96.6 166.3h0M94.7 166h0M82 171.5h0M86.2 169.5h0M85.6 173.7h0M96.9 172.7h0M83.3 166.7h0M94.5 163h0M87.4 167.9h0M81.9 168.9h0M81.2 167.8h0M92.3 170.8h0M90.9 172.8h0M93.3 169.5h0M84.5 172.9h0M88.6 170.6h0M96.3 171.2h0M97.5 173.2h0M86.9 165.8h0M93.8 169.8h0M81.2 169.9h0M85.6 169.6h0M84.5 172h0M87.5 165.1h0M91.3 162.1h0M80.5 172.7h0M88.4 168h0M93.3 164h0M95.8 165.4h0M95 173.2h0M85.3 174.2h0M91.6 174.1h0M84.4 163.6h0M92.7 173.6h0M96.3 164.6h0M90.4 166.3h0M93 171.6h0M86.4 163.2h0M91.5 173.2h0M90.7 161.4h0M91.8 163.4h0M96.4 173.6h0M78.9 170.5h0M90.8 165.9h0M80.9 174.3h0M89.8 164.1h0M89.6 172.3h0M90.8 173h0M87.8 173.5h0M88.1 164.5h0M87.4 172.9h0M90.8 171.3h0M79.6 173.4h0M82.8 171.4h0M93.5 172.5h0M94.1 170.3h0M87.7 166.5h0M88.5 174.2h0M95.9 161.3h0M83.3 164.3h0M86.9 175h0M96.3 174.5h0M85.6 173.7h0M88.7 168.2h0M91.5 171.5h0M85.5 165.3h0M80.8 173h0M84 169.3h0M96.4 174.5h0M88.6 161.9h0M91.1 170.2h0M84.9 171.8h0M90.5 174.1h0M82.7 171.1h0M84.4 165.2h0M96.3 167.3h0M84.4 171.7h0M94.2 166.5h0M96.1 171.2h0M97.8 162.4h0M90.1 166.5h0M81.8 174.3h0M83.2 170.3h0M93.4 166.8h0M93.8 164.3h0M82.4 165.7h0M82 169.1h0M89.2 165.8h0M82.5 171.4h0M89.6 173.5h0M91.8 169.8h0M91 171.6h0M95.8 168.4h0M92.8 163.5h0M94.6 171.9h0M91.4 160.8h0M93.6 166.7h0M95 160.6h0M93.7 172.7h0M95.5 160.3h0M92.5 170.7h0M93.7 163.3h0M86.1 169.8h0M83.9 167.3h0M93.6 164.4h0M93.5 172.7h0M97.1 170.3h0M90.8 170.5h0M79.2 169.5h0M92.4 165.6h0M82 167.7h0M97.1 173.4h0M86 171.7h0M95.1 170.8h0M86.8 164.8h0M91.9 174.8h0M84.9 167.7h0M86.2 173.8h0M87 163.2h0M86.9 166h0M82.3 168.3h0M93.9 166.2h0M89.8 172.6h0M86.1 174.6h0M90.1 169.1h0M96.1 169.8h0M92.2 160.7h0M87 162.7h0M85.6 170.2h0M93.7 170.1h0M84.5 167.7h0M87 172.2h0M86.9 162.9h0M95.6 160.3h0M93.3 163.1h0M92.1 164.5h0M89.1 171.6h0M88.2 170h0M85.5 168.9h0M94.9 173.7h0M97.3 163.4h0M82.3 170.6h0M82.6 171.7h0M79.6 172.5h0M87 166.5h0M97 165.6h0M93.4 170h0M94.3 174.5h0M79.5 168.6h0M84.7 165h0M80.3 171.1h0M85.9 166.4h0M94.1 173.7h0M83.7 170.8h0M84.7 174.8h0M96.7 167.5h0M80 172.8h0M92.1 172h0M89.1 174.6h0M85.4 171.7h0M80.7 174.2h0M89.9 169.5h0M81.2 167.5h0M95.2 165.9h0M90.1 171.5h0M90.9 170h0M83.9 171.4h0M93.8 166.8h0M90 174.1h0M93.1 166.1h0M90.6 171.3h0M95.3 168.3h0M93.5 164.7h0M91.2 168.4h0M95.9 167.1h0M88.7 170.5h0M80.9 173.8h0M90.7 164.9h0M86.9 174.2h0M84.7 163.8h0M94.7 172.7h0M86.7 165.1h0M89 165.7h0M97.4 165h0M97 173.8h0M86.9 163.2h0M92.8 161.1h0M90.4 171.9h0M80.4 170.9h0M89.1 161.3h0M97.7 171.4h0M96.9 167.8h0M79.6 171.2h0M85.2 169.5h0M86.8 168.4h0M81.8 173.9h0M84.6 172.5h0M96.4 168.5h0M88.7 164h0M80.6 167.3h0M94.4 162.6h0M96.8 161.6h0M81.6 170.9h0M82.2 173.8h0M80.9 168.9h0M93.6 167.5h0M94.2 165.7h0M89.6 168.3h0M87.1 172.9h0M99.9 165.5h0M100.8 167.1h0M100.3 174.1h0M99.9 174.1h0M100.2 173.4h0M101.8 168.6h0M99.4 172.7h0M99.7 168.8h0M99.2 163.4h0M100.2 166.8h0M100.5 173.4h0M100.2 171.3h0M99 167.7h0M101.1 173.4h0M99.1 174.7h0M100.5 166.6h0M113.1 158.6h0M102.8 165.5h0M125.1 166.8h0M100.8 163.6h0M115.7 169.6h0M109.7 169.4h0M110.8 175.3h0M106.9 174.4h0M114.5 166.7h0M103.5 170.6h0M103.2 173.3h0M108.9 172.4h0M121.3 163.7h0M107.3 162.3h0M103.9 172.6h0M113.9 175.4h0M106 172.1h0M101 161.9h0M101 167.9h0M106.5 168.8h0M106.8 163.1h0M101.3 168.1h0M110.1 174.2h0M98.9 160.1h0M111.7 163.1h0M99.4 161.5h0M111.5 167.4h0M110 162.4h0M101.5 168.1h0M101.9 164.7h0M112.6 173.3h0M102 162.6h0M126.4 160.8h0M101.7 173.1h0M106 173.1h0M106.4 167.8h0M104.9 167.5h0M101.9 171.6h0M105.7 166.2h0M100.7 170.1h0M102.2 172.7h0M118.7 175.4h0M126.5 169h0M102.3 170h0M101 167.9h0M103.5 168.3h0M102.7 163.2h0M111.5 166h0M121.2 172.8h0M114.6 173.1h0M124.7 171.1h0M117.3 170.7h0M119.2 173.8h0M113.7 175.9h0M111.6 169.5h0M110.7 169h0M115.3 173.2h0M106.5 168.5h0M110.4 164.6h0M109.9 173.7h0M122.8 174.2h0M127.2 173.9h0M104.1 172.4h0M116.7 172.7h0M106.3 166.6h0M102.6 174.2h0M104.2 167.3h0M104.2 170.7h0M105.6 163h0M109.3 173.6h0M107 167.7h0M103.2 172.4h0M116.4 172.6h0M100.2 170.6h0M104.5 168.4h0M99 166.3h0M111.3 175.7h0M111.4 173.6h0M102.7 168.9h0M120.2 174.1h0M122.1 173.1h0M100 162h0M111.4 166.5h0M117.1 173.9h0M123.1 167.2h0M114.9 169.7h0M111.9 171.9h0M111.9 175.6h0M117.8 165.1h0M110.1 172.3h0M117.2 176.1h0M108.6 173h0M110.2 174.7h0M122.4 174.4h0M121.4 170.9h0M104.3 166h0M103 167.1h0M112.3 167.2h0M113.9 166.3h0M105.7 170.1h0M103.1 156.8h0M102.9 173h0M102.7 169.2h0M108 168.9h0M113.5 172.3h0M104.2 173.5h0M104.4 170.6h0M111.5 169.8h0M108.9 174h0M108.5 172.7h0M125.7 170.7h0M110.7 174.7h0M99.4 168.5h0M126.1 171.7h0M106.3 170.6h0M117.2 169.8h0M111.5 166.5h0M114.2 170.2h0M102.7 165.1h0M108.1 169.6h0M103.9 169.7h0M104.4 171.2h0M101.6 170.6h0M117.6 173.7h0M104.2 161.9h0M105.9 173.6h0M100.5 164.3h0M100.2 172.1h0M104.3 175.5h0M114.8 164.4h0M129.1 166.1h0M101.2 163.2h0M125.8 170.8h0M112.1 176.2h0M112.5 165h0M114.8 175h0M110.6 165.1h0M120.5 172.8h0M111 167.6h0M103.5 164.8h0M113 164.6h0M108.6 167.7h0M125.1 166.9h0M124.5 160.3h0M125.8 160.3h0M112.7 172.1h0M115.5 159.9h0M106.5 172.9h0M113.1 170.5h0M107.2 166.1h0M101.7 165.1h0M109.5 164.9h0M107.2 165.4h0M102 165.7h0M117.6 175.1h0M111.6 162.4h0M118.8 172.3h0M102.3 168.4h0M99.6 171.9h0M113.8 171.6h0M106.8 162.8h0M110.6 175.4h0M114.4 174.3h0M106.7 164.1h0M107.8 165.9h0M115.9 165.8h0M101.7 172.3h0M117.2 170.6h0M116.2 174.3h0M106.3 173.7h0M105.7 162.7h0M102.4 172.8h0M116.1 173h0M115.4 169.1h0M111.1 171.6h0M110 175.1h0M112.1 171.8h0M113.9 174.3h0M124.3 175h0M101.8 164.7h0M117.5 158.4h0M125.9 165.2h0M114 157.7h0M116.3 174.7h0M112.5 168.2h0M101.6 170.4h0M106.8 163.6h0M121.3 161.8h0M105.4 170.7h0M101.4 163.5h0M112.1 165h0M104.5 172.4h0M109.1 172.2h0M100.3 167.1h0M105.5 174.3h0M118.4 176.8h0M113.6 167.8h0M108.7 169.1h0M100.4 167.5h0M115.2 172h0M111.5 170.1h0M120 176.4h0M120.7 173.5h0M111.1 161.7h0M104.8 167.1h0M118.5 169.8h0M113.4 165.1h0M99.2 173.2h0M106.9 165.6h0M107.4 162.1h0M126.4 167.7h0M120.7 176.3h0M111.4 176.1h0M103.9 172.1h0M100.9 161.7h0M110.6 168.7h0M112.7 165.5h0M129.7 163.2h0M103.4 163.8h0M100.3 167h0M105.3 167.8h0M111.7 165.9h0M125.1 162.3h0M122.8 159h0M107.4 174.9h0M109.9 174.3h0M120.6 172.9h0M110.8 170.3h0M101 173.8h0M110.2 174.8h0M114.4 170.2h0M118.5 161.5h0M122.3 173.7h0M105.1 164.8h0M114.8 176.7h0M114 170.5h0M108 173.1h0M110.2 163.4h0M112.8 171.1h0M103.6 164.8h0M105.1 169.3h0M105.1 164h0M103 168.6h0M122.2 162h0M105.6 162.6h0M120.6 172.4h0M106.7 163.2h0M114.1 170.7h0M118.5 174.8h0M115.2 168.2h0M114.6 174.7h0M108.7 162.8h0M100.8 167.8h0M101.3 171.8h0M108.2 170.6h0M113.3 167.8h0M101.1 170.1h0M112.5 173.7h0M106.1 165.3h0M116 162.1h0M117.6 175.2h0M112 172.5h0M105.7 162.4h0M113.2 158.2h0M108.6 161.4h0M111.3 165.9h0M107.9 164.5h0M100.3 159.3h0M115.6 175h0M104.9 170h0M103.8 170h0M112 175.6h0M104.7 168.6h0M118 167.8h0M111.5 172.6h0M106.4 169.3h0M99.5 160.9h0M106.1 169.9h0M113.4 171h0M117.9 174h0M111.7 172.3h0M107.1 174.8h0M99.5 164.4h0M105.4 175.3h0M110.8 174h0M120.4 168.6h0M102.7 164.3h0M108.4 171.4h0M103.8 173.4h0M118.1 174.8h0M116.2 168.1h0M107.5 167.6h0M105.1 173h0M114.5 174.2h0M110.1 168.8h0M107.9 171h0M103.5 163.2h0M109 172.8h0M113.6 175.1h0M102.4 169.8h0M111.9 164.3h0M111.6 173.7h0M113.9 176.1h0M124.5 173.2h0M107.5 167.2h0M100.7 166.8h0M119.8 172.9h0M114.9 175.7h0M110.3 162.6h0M112.1 168.4h0M111.9 170.6h0M109.2 174.8h0M111.9 158h0M114.5 166.9h0M122.6 170.3h0M107.7 173.5h0M111.1 166.9h0M105.5 163.4h0M107.5 173.9h0M124.3 170.1h0M106.2 161.5h0M120.5 175h0M124.2 174.8h0M105 172.6h0M115.4 174.1h0M125.5 167h0M108.9 163h0M100.2 172.1h0M100.4 161.4h0M123.2 167.9h0M99.3 160.4h0M111.3 165.5h0M122.6 175.8h0M104.2 167.5h0M104.2 165.5h0M120.2 170.9h0M103.5 168.1h0M109.9 163.6h0M115.5 169.3h0M109.6 167h0M106.9 161.3h0M110.4 173h0M118 172.8h0M107.6 166.5h0M115 175.6h0M103.5 172h0M116.1 173.2h0M112.2 172.3h0M103.3 164.3h0M106.2 168.3h0M108.1 168.1h0M115.7 172.6h0M109.7 167.7h0M105.3 167.2h0M114.6 173.5h0M110.7 174.2h0M109.8 173.4h0M103.4 161.8h0M114.3 170.4h0M100.3 166.2h0M116.8 176.2h0M106 168.6h0M115.8 169.5h0M115.8 176h0M113.8 164.5h0M103.5 170h0M114 176h0M121.8 159.7h0M104.2 171h0M109.9 169.1h0M104.9 164.8h0M119.2 175.6h0M113.5 172.2h0M101.9 166.9h0M112.3 171.9h0M104.2 169.5h0M103.7 171.2h0M101.9 157.9h0M124.9 162.9h0M102.6 162.6h0M122.2 175.5h0M110.2 169.2h0M124.1 175.5h0M109.5 164.6h0M107.8 167.3h0M103.3 164.3h0M100.5 161h0M126.9 168.2h0M111.3 174h0M119 163h0M112.3 168.8h0M103.4 161.6h0M112.6 171.2h0M127.8 164.2h0M105 170.3h0M122.7 173.1h0M108.5 171h0M98.2 159.1h0M108.3 164.9h0M103.1 174.4h0M100.5 160.9h0M115 170.2h0M117.4 159h0M113.8 157.8h0M105.2 156.2h0M109.5 156.6h0M123.5 156.4h0M126.5 158.4h0M109.2 152.4h0M102.1 158.6h0M103 160.1h0M110.6 155h0M100.7 160.9h0M126.7 152.4h0M121.1 153.2h0M118.2 156.4h0M128.8 164.1h0M97.7 158.3h0M127 150.7h0M101.5 157.2h0M104.5 157.3h0M117.2 157.4h0M112.8 158h0M108.3 159h0M116.3 154.6h0M117.9 159.3h0M116.8 161.1h0M111.2 158h0M114.9 158.6h0M116.3 157h0M112 161.2h0M129.9 154h0M106.6 158h0M103.7 159.9h0M99.9 158.7h0M113.9 151.4h0M104.6 157.5h0M111.9 155.7h0M122 150.7h0M105.8 155.4h0M133 153.9h0M116 160.6h0M110.8 151h0M125.4 159.2h0M102 157.6h0M116.7 155.7h0M103 157.1h0M129.8 151.1h0M116.2 158.3h0M114.8 153.6h0M107.8 162h0M109.6 156.1h0M118.6 150.4h0M117.5 150.8h0M121.6 157.5h0M103.7 156h0M122.9 153.2h0M106.1 162.9h0M103.7 154.6h0M104.2 155.3h0M99.5 158.3h0M111.6 155.3h0M116.8 156.7h0M102 161.6h0M127.5 160.5h0M107.3 153.4h0M98.2 160.4h0M121.8 155.1h0M117.4 154.9h0M104.6 154.9h0M117.3 151.9h0M104.7 159.7h0M100.5 159.8h0M118.7 152h0M129.4 156.2h0M116.6 158.9h0M122.8 151.3h0M101.8 156.4h0M114.3 155.3h0M111 151.7h0M116.6 152h0M109.5 159.1h0M126 151.3h0M126.8 158.4h0M99.1 158.9h0M104 153.5h0M108.9 152.2h0M124.9 151.2h0M105.5 153h0M118.3 152.2h0M121.2 157.6h0M103.2 156.5h0M102 154.8h0M113.3 154.3h0M106 156.3h0M129.5 152.4h0M101 159.6h0M111.9 156.9h0M118.3 159.5h0M112.5 159h0M114.7 154.3h0M126 151.4h0M110.9 157.7h0M118.7 157h0M111.6 159.9h0M116 154.4h0M125 158.8h0M104.8 155.5h0M107.8 154.2h0M112.7 151.9h0M118.1 152.3h0M112.3 150.3h0M126.9 159h0M120.1 154.2h0M122.2 157h0M115.8 153h0M122.2 155.9h0M104.1 153.7h0M133.8 153h0M113.3 154.6h0M126.8 151.6h0M115.9 152.5h0M113.1 154.5h0M100.2 160.8h0M121.1 156.1h0M127.7 150.1h0M104.6 159.7h0M128 153h0M114.9 153.3h0M111.2 157.7h0M106.2 154.6h0M123.2 156.9h0M114.1 160.3h0M113.4 152.4h0M110.9 155.7h0M130.6 156.4h0M110.6 159.4h0M104.8 160.3h0M117.4 152.8h0M125.5 155.2h0M101.7 162.5h0M104.8 159.2h0M99.1 158.1h0M110.9 157.6h0M110.9 162.2h0M122.7 153.7h0M111.5 156h0M105.3 155.6h0M124 156.8h0M111.7 163.7h0M103.4 155.8h0M115.8 155.7h0M102.7 156.2h0M103.7 155.7h0M123.5 152.3h0M116.8 154.8h0M111.3 162h0M114.3 153.8h0M121.1 153.9h0M121.9 151.2h0M102.2 156.2h0M116.1 158.2h0M111.6 155.3h0M99.6 155.8h0M101.5 160.1h0M104.9 155.8h0M105.2 160.4h0M111.5 155.5h0M123.1 152.1h0M124.1 150.9h0M111.4 153.3h0M113.7 156.4h0M100.8 158.8h0M102.2 157.7h0M103.7 156.2h0M112.9 153.2h0M110 152.7h0M127.5 161.3h0M123.7 153.7h0M115.5 153.6h0M103.6 161.1h0M120.8 156.7h0M123.4 151h0M109.9 152.3h0M128.9 152.9h0M110.8 155.3h0M117.2 153h0M106.4 156.2h0M104.2 155h0M115.9 156.8h0M106.9 156.2h0M119.7 157.2h0M124.4 153.1h0M100.6 159.3h0M127.9 155.7h0M114.5 155.8h0M113.2 156.2h0M103.3 160.8h0M104.2 154.9h0M99 159.2h0M106.1 157.4h0M121.2 153h0M106.1 157.4h0M116.1 154.9h0M105.8 155.1h0M115.9 155.7h0M114.1 154.4h0M105.4 153.2h0M117.1 151.2h0M125.1 153.2h0M110.1 156h0M129.6 160.3h0M127 151.6h0M125.6 150.5h0M107.4 161h0M117 154h0M112.2 158h0M98.7 159.3h0M112.9 153h0M116.9 151.2h0M114.3 153.7h0M107.6 159.9h0M101.5 157.7h0M106.7 159h0M97.8 159.4h0M110.2 154.5h0M124 150.5h0M101.5 158.5h0M106.2 153.2h0M123.7 151h0M117 150.5h0M115.6 156.6h0M114.3 152.7h0M110.7 154.3h0M121.5 154.9h0M105.5 156.9h0M102.8 159.6h0M119.1 152.3h0M112.6 151.9h0M111.3 160.5h0M107 158.3h0M107.5 153.3h0M119.4 156.5h0M101.3 160.6h0M129 155h0M125.6 150.2h0M99.9 157.1h0M101.5 156.9h0M125.4 158.8h0M103.1 155.4h0M112.7 161.1h0M101.7 155.3h0M110.7 158.3h0M121.7 155.3h0M108.5 159.8h0M109.1 155.8h0M109.6 157.1h0M103.4 159.8h0M108.6 152h0M109.1 152.8h0M124.8 151.5h0M103.3 156.9h0M117 152.7h0M124.7 151.7h0M112.7 153h0M101.8 164h0M99.1 163.5h0M109.7 155.2h0M116.8 154.8h0M104.1 153.8h0M121.1 152.4h0M117.8 151.4h0M120.4 150.7h0M127.9 157.9h0M102.6 156.4h0M129.2 154.7h0M115.8 153.3h0M106.7 154h0M110.7 154.4h0M112.1 160.3h0M98.9 157.7h0M121 153.9h0M126.9 153.3h0M101.6 158.2h0M129.1 153.6h0M102.5 156.6h0M111.4 157.8h0M127.8 150.3h0M106.3 157.7h0M114.3 155.7h0M120.2 150.2h0M124.8 158.8h0M108.9 158.6h0M106.2 157.2h0M109.9 151.9h0M113.8 155.3h0M107.1 153.4h0M121.9 156.7h0M121.8 150.6h0M130.7 154.5h0M131.7 154.9h0M109.3 159.4h0M112.2 155.4h0M127.2 150.2h0M110.5 154.3h0M113.9 157.1h0M121.9 152.5h0M117.2 151h0M121.4 156.8h0M114.9 154.4h0M101.3 158.8h0M106.3 155.5h0M114.2 152h0M127.4 158.9h0M118 152.1h0M109.6 154.1h0M105.4 156h0M103.8 161.4h0M109.9 158h0M123.3 152.9h0M109.5 156.3h0M114.1 150.8h0M100.6 163h0M110.6 153.5h0M128.5 154.7h0M113.9 151.5h0M116.5 158.3h0M105.5 159.6h0M131.8 173h0M133.7 154.5h0M129.7 153.2h0M134.8 161.7h0M131.1 165.7h0M132.5 156h0M133.4 163.9h0M126.3 159.6h0M132.9 158.9h0M134.8 168.4h0M130.5 163.9h0M135 164.4h0M132.9 154.2h0M129.9 158.9h0M131.2 158.5h0M134 167.3h0M134.8 164.1h0M130.2 155.1h0M137.3 155.9h0M129.9 172.8h0M130.5 155.5h0M139.4 159.4h0M138.6 164.1h0M132.9 151.3h0M136.1 163h0M132.4 167.8h0M135.3 159.6h0M132.4 153.2h0M135.2 161.3h0M131 151.4h0M132.7 158.8h0M134.2 159.5h0M136.7 162.6h0M137 154.1h0M139.2 158.6h0M131.7 157.3h0M135.7 157.5h0M131.2 172.1h0M138.8 160.6h0M140.3 160.7h0M133.2 168.9h0M133.2 162h0M138.9 160.5h0M130.1 168.6h0M135.1 155.3h0M137.1 158h0M132.2 170.3h0M131.5 161.9h0M128.8 165.8h0M128 161.2h0M136 154h0M138 161.8h0M130.4 158.3h0M127.2 152.1h0M136.2 165.1h0M139.1 161.5h0M136.1 162.2h0M132.6 166.8h0M135 151.7h0M137.3 159.3h0M134.6 163.5h0M130.2 156.9h0M134.6 159.9h0M135.5 165.7h0M137.3 163.1h0M137 165.1h0M129.9 165.9h0M137 153.8h0M132.8 168.7h0M132.8 159h0M135.5 169.4h0M136.6 162.7h0M132.5 166.7h0M125.8 173h0M128.7 161.6h0M131.6 159.7h0M133.4 169.4h0M132.3 169.9h0M130.8 171.1h0M132.1 160.5h0M135.3 155.4h0M131.5 168.3h0M132.9 166h0M130.9 173.2h0M130.4 169.1h0M132.5 158.8h0M130.9 153.5h0M130 170.7h0M137.1 156.5h0M128.3 163h0M130.8 161.5h0M132.6 160.5h0M130.1 158.3h0M135.8 159.6h0M135.1 159.1h0M132.9 170.3h0M137.3 157.8h0M138.9 159.9h0M134.8 167.4h0M131.5 171.9h0M132.5 167.1h0M134.7 154.5h0M131.4 163.7h0M131.6 172.4h0M134 156h0M131.2 172h0M135.3 165.1h0M133.5 164.9h0M129.8 153.3h0M135.3 152.9h0M129.9 162.6h0M131.6 170.9h0M133 164.8h0M132.8 150.5h0M129.2 169.7h0M138.5 158.6h0M133.4 158.4h0M134.7 160.2h0M128.7 157.1h0M139.4 162.6h0M130.5 150.7h0M133 155.9h0M136.8 167.5h0M132.6 158.3h0M137.8 161.4h0M131.9 171.2h0M135.9 164.2h0M132.4 151.2h0M133.4 171.2h0M134.7 164.2h0M134.4 164.5h0M137 166.8h0M135 158h0M128.2 150.9h0M130.7 171.5h0M135.5 157.2h0M128.5 174.7h0M129.8 160.8h0M125.8 166.9h0M130.3 163.9h0M135.9 167.2h0M132.8 156.8h0M133.7 171.7h0M139 159.2h0M134.6 168.8h0M127.6 174h0M134.7 160.8h0M132.8 166.4h0M130.4 157.8h0M130.5 151.4h0M133.8 166.3h0M136.4 162h0M135.1 154.2h0M137.1 154.5h0M135.6 155.1h0M133.4 151.2h0M139.5 160.3h0M138.2 160.3h0M138.1 161.7h0M132.5 164.7h0M132 154.2h0M138.9 161.5h0M138.2 158.6h0M133.3 154.1h0M135.9 168.8h0M135.4 166.3h0M132 150.5h0M129.3 162.8h0M133.7 165.1h0M134.1 169.2h0M129.9 171.9h0M134.9 152.4h0M133.5 152.5h0M130.6 165.9h0M133.7 169.2h0M135.9 165.7h0M135 159.2h0M136.7 154h0M127 172.9h0M132.5 169.1h0M137.4 161.2h0M132.2 169.1h0M127.4 175.5h0M135.6 162.8h0M135.7 163.3h0M137 163.6h0M136.3 162.1h0M131.5 168.7h0M131.4 152.4h0M138.5 164.7h0M134.8 170.1h0M132.1 154.1h0M130.6 163.4h0M130.2 172.7h0M128.4 162.9h0M135.4 152h0M134.5 167.4h0M130.3 158h0M132.4 166.4h0M136.6 153.5h0M138.1 156.9h0M135.9 157h0M133.6 170.5h0M127.9 160h0M133.5 152.7h0M133.8 166.4h0M131.6 165.8h0M138.8 155.2h0M133.1 155.2h0M134.2 152.9h0M128.2 154.2h0M131.1 172.2h0M136.8 157.8h0M138.7 159.6h0M131.1 158.5h0M129.4 160h0M135 154.4h0M131.3 169.5h0M132 171.2h0M130.6 156.8h0M131.7 151.7h0M134.1 164.1h0M138.2 164.5h0M134.2 153.7h0M129.2 173.5h0M135.3 155.4h0M136.9 160.5h0M132.7 160.8h0M134 154.4h0M136.8 160.4h0M137.2 159h0M131.7 155.3h0M126.8 173.7h0M129.5 161.9h0M136.4 166.1h0M132.9 170.5h0M131 153.8h0M130.2 162h0M138.2 153.8h0M134.7 157.3h0M131.9 170.4h0M130.8 173.6h0M133.5 157.5h0M136.1 163.8h0M135.1 170.5h0M133.5 157.7h0M135.1 167h0M131.9 160.5h0M129.8 151.5h0M138.6 155.7h0M129.7 172.5h0M125.3 152h0M133.3 164.7h0M136.5 163.4h0M127.7 172.7h0M132.3 153.6h0M129.3 154h0M127.5 169.6h0M136.3 159.6h0M134 156.6h0M135 170.6h0M133.7 167.7h0M126.3 170.5h0M130.2 170.4h0M133.5 157.8h0M136.8 166.5h0M137.1 156.3h0M135 154.3h0M127.7 174.5h0M138.8 160.2h0M129.1 163h0M126.7 175.2h0M134.7 155.4h0M130.2 174h0M135.5 158.8h0M126.5 171.9h0M130.8 166.7h0M130.9 158.5h0M133.4 171.4h0M127 169.2h0M131.9 153.3h0M130.6 153.8h0M138.1 158.7h0M132.3 169.1h0M134.7 166.6h0M128.5 163.4h0M128.7 151.5h0M131.8 153.8h0M137.3 160.6h0M135.4 157.2h0M132.6 160.2h0M135.1 154.8h0M132.5 172.4h0M134.1 153.9h0M134.8 158.8h0M129.1 151.6h0M133.9 164.8h0M136.5 166.4h0M133.3 163.4h0M134.1 168.1h0M134.1 159.8h0M129.5 171.3h0M138.8 158.5h0M130.2 171h0M136.1 165.5h0M127.3 170.9h0M117.3 167.9h0M127.5 153.7h0M113.2 163.8h0M120.1 157.8h0M121.1 175.1h0M118.3 174.5h0M114.9 173.7h0M116.4 162.7h0M116 167h0M120.6 169.6h0M113.3 167.1h0M130.1 163h0M118.4 172.5h0M127.3 174.7h0M124.7 168.4h0M126.1 162.8h0M124.6 169.5h0M114 165.8h0M124.8 171h0M129.1 161.2h0M123.9 163h0M129.3 171.6h0M123 152.5h0M111.8 158h0M123.6 173.2h0M125.7 165h0M130.2 166.5h0M126.5 157.2h0M109.3 167.8h0M126.1 170.4h0M130.6 173h0M121.3 173.1h0M122.1 157.6h0M123.2 163.8h0M116.3 172.8h0M119.5 160.1h0M114.5 155.1h0M118.8 153.4h0M120.3 167.3h0M121.9 161.5h0M117.6 166.4h0M123.7 168.9h0M124.9 160.5h0M122.1 173h0M130.6 171.6h0M117.7 176.9h0M131.3 168.2h0M117.7 170.1h0M114.6 165.2h0M132.6 155.1h0M111.6 173.5h0M129.7 161.3h0M111.7 159.7h0M119.3 158.8h0M119.7 170.6h0M107.9 163.5h0M122.8 176.2h0M120.5 176.3h0M115.6 176.6h0M124.9 168h0M115.2 165.2h0M120.7 168.2h0M126 174.8h0M121.6 173.9h0M112.7 171.9h0M117.7 162.2h0M125.3 162.5h0M126.4 168.5h0M120.2 165.7h0M126.7 173.5h0M123.8 172.3h0M112 162.7h0M115.1 165.5h0M112.6 156.8h0M122.1 161.5h0M119.3 159.5h0M112.9 168.3h0M113.3 174.5h0M115.7 159.9h0M116.7 167.2h0M115 162.8h0M119.5 160.2h0M117.2 157h0M120.1 155.9h0M106.5 163.7h0M113.4 153h0M118.4 167.3h0M114.1 161h0M132.3 157h0M113.9 165.9h0M120.8 153.6h0M118.4 156.9h0M118.1 157.9h0M121 164.6h0M122.9 170.4h0M126.7 168.8h0M122.3 169.8h0M113 159.3h0M122.4 153.8h0M126.2 166.9h0M114 160.8h0M116.5 162.1h0M114.7 166.9h0M123.7 163.2h0M122.1 174.3h0M122.9 166.9h0M112.7 157.6h0M125.5 173.5h0M126.4 163.9h0M123.3 171h0M113.5 174.1h0M119.9 172.4h0M125.3 170.2h0M125.5 172.5h0M115.5 160.4h0M121.6 168.1h0M124.8 159.1h0M122.6 167.7h0M119.5 161.7h0M126.9 161.1h0M124.5 166.2h0M128.4 167.1h0M118.8 158.8h0M119.8 171.2h0M113.6 164.5h0M121.2 175.2h0M123.8 175.5h0M119.9 154h0M118.8 171h0M123.1 156.5h0M122.1 168.4h0M125.3 169.2h0M120.8 156.8h0M121.1 161.3h0M129 171.3h0M129.8 172.7h0M123.3 164.4h0M123.1 173h0M124.9 175.2h0M121.4 171.7h0M123.7 174.2h0M130.7 155.9h0M115.3 167.1h0M114 154.3h0M129.6 166.1h0M125.1 174.9h0M123.5 170.9h0M119.7 160.9h0M123.2 175.9h0M116.4 168.7h0M119.8 159.6h0M112.6 160h0M110.5 159.2h0M111.4 161.7h0M126.6 174.4h0M121.2 163.5h0M129.5 161.7h0M122 153.7h0M114.9 161h0M122.7 161h0M118.7 154.8h0M112.4 160.7h0M119.7 158.9h0M120.2 169.4h0M112.5 162.8h0M112.6 157.7h0M115.4 166.3h0M119.8 164h0M122.3 168.6h0M124.3 167.1h0M114.9 164h0M123.6 163.5h0M111.4 158.3h0M114.7 159.6h0M122.7 165.3h0M129.4 161.4h0M126.1 161h0M126.2 162.5h0M118.4 170.9h0M116.2 169.2h0M110.4 162.3h0M115.1 165.2h0M122.7 164.6h0M120.1 168.4h0M129.2 168.1h0M107.8 164h0M128.6 157.4h0M114.8 168.7h0M117.1 163.5h0M128.3 173h0M124.8 162.9h0M124.6 162.1h0M117.4 161.5h0M124.9 172h0M115.7 167.4h0M115.7 163.6h0M127.3 170.8h0M113.6 173.7h0M115.7 175.6h0M123.7 165.6h0M123.1 165.5h0M125.7 169.3h0M111.6 161.1h0M114.8 158.5h0M127.3 169.4h0M123.2 172.4h0M112.9 165.9h0M115.3 169.9h0M118.5 171.7h0M133.4 166.2h0M107.4 165.5h0M122.7 172.4h0M122.6 163.8h0M119.5 155.2h0M119.1 167.6h0M114.6 158.1h0M117 164.8h0M117.7 166.1h0M122.5 153.3h0M104.5 174.5h0M116.5 170.8h0M119.5 167.2h0M126.2 171.8h0M116.1 167.7h0M124.4 162.8h0M118.2 169.3h0M110.6 158.3h0M106.5 162.7h0M126 159.9h0M123.7 161.2h0M117.2 166h0M120.9 152.2h0M112.3 166.1h0M130.2 171h0M114.2 161.7h0M114 159.1h0M127.1 159.7h0M122.5 159.2h0M122.5 173.5h0M115.9 155.8h0M128.6 163.8h0M120.4 169.1h0M126.1 169.3h0M124.1 170.2h0M125.7 170.8h0M119.6 158.4h0M126.3 174.4h0M120.1 167h0M118.2 164.6h0M126.7 166.8h0M118.2 163h0M124.9 164.1h0M112.7 158.6h0M118.4 165.2h0M125.8 165.9h0M118.6 165.3h0M124.8 175.2h0M127 165.8h0M125.3 173h0M123.7 171.3h0M122.2 163.9h0M124.2 163.4h0M123.3 172.5h0M120.2 166.5h0M115.1 168h0M120.6 166.7h0M115.8 168.8h0M121.5 157h0M123.5 175h0M128.1 171.1h0M128.8 167.3h0M127.9 161.7h0M117 175.1h0M107.5 158.3h0M125.2 170h0M121 162.6h0M125.6 163.7h0M129.1 168.3h0M118.4 151.6h0M125.9 168.4h0M115.1 164.9h0M114.7 162.9h0M118.7 159.2h0M123.2 153.6h0M109.6 169h0M114.2 164.7h0M115.1 165.1h0M120.6 174.3h0M118.8 174h0M116.8 160.4h0M112 157.9h0M125.2 175.5h0M114 159.1h0M110.4 162.3h0M105.6 163.3h0M122.3 172.9h0M128.8 165.8h0M117.3 156.5h0M125.7 157.1h0M121.8 156.1h0M116.6 166.1h0M116.3 164h0M126.2 156.5h0M130.5 163.9h0M118.9 162h0M114.9 157.8h0M117.3 163.8h0M122.8 156h0M129.5 163h0M125.7 155.2h0M116.6 156.5h0M123.3 162.5h0M132.2 160.5h0M118 156.6h0M124.4 168.8h0M124.5 158.5h0M123.5 156.1h0M119.7 164.7h0M126.5 163.5h0M123.5 159h0M128.2 160.2h0M126.7 159.6h0M120.4 160.7h0M118.6 166.7h0M119.4 163.9h0M132 165.6h0M121.8 157.5h0M126 156.3h0M124.4 165.2h0M125.3 157.2h0M126.3 160.9h0M125 157.8h0M132.2 162.9h0M128.3 165.7h0M125.8 158h0M127.8 165.2h0M125.8 160.6h0M128.1 162h0M118.9 163.9h0M126.2 162.8h0M125.1 160.3h0M125.7 162.6h0M120.6 157.3h0M131.7 163h0M117.9 160.9h0M127.5 157.3h0M124.2 158.5h0M126.4 156.8h0M121.3 154.9h0M123.5 156.2h0M126.5 156.5h0M130.1 154.5h0M125.1 159.2h0M124.5 156.4h0M126.3 155.2h0M126.5 155.3h0M121.8 158.5h0M126 157.1h0M116.9 166.1h0M123.7 156.5h0M121.2 160.6h0M127.7 161.5h0M120.7 156.2h0M127.4 154.8h0M127.5 156.4h0M126.7 155.8h0M124.4 164h0M118.5 157.4h0M123.5 166.6h0M120 167.6h0M125.2 157.6h0M122.1 166.7h0M101.1 172.9h0M100.9 171.6h0M99.2 166.9h0M99.6 168.8h0M98.9 171.7h0M101.6 172.5h0M100.5 167.7h0M100.9 169.2h0M100.7 170.8h0M99.4 171h0M101.6 170.8h0M102.2 173.6h0M98.8 169h0M99.5 172.6h0M109.7 173.9h0M102 172.1h0M108 171.4h0M118.1 176.4h0M102.7 173.5h0M126.8 171.3h0M111 174h0M108.5 171.4h0M107.9 170.4h0M107.4 167.1h0M100.6 170.6h0M100.2 171.2h0M103.4 175h0M125.9 172.9h0M107.6 174.1h0M111.2 167h0M113.5 171.1h0M104.4 174.6h0M104.5 171.2h0M128.1 164.1h0M112.7 170h0M128 165.1h0M119.4 175.1h0M102.5 161.2h0M110.8 169.7h0M113.1 170.4h0M99 164h0M106.9 171h0M110.5 170.8h0M100.4 158.3h0M107.3 167h0M116.1 173.7h0M104.6 166.1h0M118.4 171.4h0M110 169.5h0M123.2 159.3h0M109.6 174.3h0M108.3 164h0M104.7 172h0M102.1 166.8h0M106.2 167.3h0M112.4 173.6h0M117.8 172.5h0M125 172.3h0M100 163.6h0M117.3 173.7h0M112.9 171.1h0M112 169.4h0M112.5 174.2h0M102.7 170.4h0M115.8 174.4h0M105.7 173.2h0M110.6 167h0M114.7 165.9h0M121.1 175.8h0M112.8 172.3h0M114.9 173.9h0M128 170.2h0M107.1 171.7h0M106.2 174.4h0M112.2 170.4h0M105.2 161.9h0M117.8 170.7h0M119.7 177.1h0M116.5 157.8h0M113.5 162.7h0M112.9 167.6h0M125.9 161.2h0M101.3 168.5h0M102.2 168.1h0M103.6 169.1h0M111 167.7h0M116.7 174.1h0M97.9 158.3h0M108.5 160.6h0M123.7 175.5h0M109 167.6h0M99.6 165.9h0M100.9 165.6h0M100.3 165.3h0M127.4 166.6h0M109.2 169.1h0M118.6 158.4h0M100 163h0M101.3 169.6h0M98.6 161.2h0M116 174.5h0M114.1 172.2h0M118.4 161.4h0M110.2 169.6h0M112.6 170.9h0M121.1 174.1h0M102.3 168.6h0M121.6 158.6h0M111.2 171.5h0M105.5 164.6h0M103.9 171h0M130.9 172.6h0M113.7 174.1h0M102.3 172h0M107.2 166.6h0M108.2 164.4h0M123.9 165h0M122.1 171.6h0M106.4 167.3h0M117.5 172.9h0M117 170.2h0M113.7 168.3h0M126.3 168h0M111.2 168.4h0M108.5 173.6h0M128.6 165.2h0M107.8 170.9h0M129.9 168.5h0M113 163.3h0M112.2 168.4h0M105.3 164.8h0M101.5 171.5h0M99.7 163.6h0M113.6 167.6h0M125.5 163.1h0M103.2 169.9h0M120.8 169.9h0M119.9 164.9h0M106.9 172.6h0M101.5 163.3h0M108.7 172.1h0M108.1 168.5h0M122.6 174h0M108.4 169.5h0M126.5 172.3h0M123.2 171.1h0M112.1 167.9h0M103 163.8h0M119.2 172.8h0M108.6 173.2h0M122.6 168.4h0M108.9 168.5h0M105.5 175.8h0M115.4 175.7h0M121.2 173.7h0M117.4 173h0M115 163.3h0M102.4 168.9h0M112.2 170.5h0M122.6 173.2h0M101.4 164.4h0M118.3 167.5h0M108.5 173.2h0M100.3 174.2h0M117.2 165.4h0M126.2 173.1h0M119 171.1h0M100.5 160.4h0M100.4 162.7h0M100.1 172.7h0M110.8 167.4h0M107 175.2h0M100.2 165.6h0M121.6 170.9h0M111.6 176h0M101 165.5h0M118.8 172h0M125.8 171.9h0M106.2 161.2h0M112.9 166.7h0M115.7 174.4h0M102.9 164.1h0M115.2 171h0M112 168.4h0M103 172.8h0M119.6 159.4h0M99.5 167.7h0M100.7 170.1h0M115.1 170h0M114.9 170.8h0M111.8 166.2h0M121.2 174.4h0M106 164.3h0M107.3 167.3h0M114.3 173.7h0M120.8 171.3h0M106.8 173.5h0M99.9 169.9h0M100.3 172.3h0M102.8 167.6h0M108.6 174.5h0M118.2 172.8h0M117.4 172.2h0M127.8 174h0M100 164.3h0M110.5 160.4h0M117.2 175.2h0M117.6 177.1h0M110.5 174.8h0M108.6 164.4h0M112 163h0M109.1 160.8h0M112.1 165h0M111.5 173.3h0M106.3 170h0M107.5 172.1h0M123.9 170.3h0M106.7 160.9h0M103.8 165.4h0M99.9 165.3h0M107.1 172h0M116.4 167.3h0M103.1 170.2h0M102 172.9h0M113.8 169.1h0M105.3 169.7h0M107.5 163.6h0M110.5 160.3h0M107.2 172.1h0M113.9 175.1h0M104.4 170.3h0M112.7 170.2h0M124.9 174.6h0M107.8 166.9h0M106.9 163h0M116.4 174.3h0M112.3 175.4h0M103.1 162.1h0M125 170.6h0M108.7 165.1h0M115.6 168.6h0M125 171.1h0M98.5 161.3h0M105 166.3h0M111.7 174h0M118.2 172.3h0M111.8 174.6h0M102.3 164.2h0M101.2 165.1h0M114.5 162.3h0M107.9 165.5h0M106.1 165.3h0M119.8 167.9h0M112.3 166.8h0M101.6 173.7h0M108.3 175.5h0M118.2 164.8h0M116.4 172.3h0M103.7 165.5h0M103.5 165.4h0M121.5 169.1h0M100.5 168.2h0M119.4 170h0M103.8 168.8h0M108.2 171.5h0M108.9 163.4h0M108.7 167.2h0M117.5 157.6h0M117.4 168.7h0M100.5 170.3h0M102.2 171h0M125.2 159.9h0M106.1 164.2h0M117.5 174.5h0M119.8 174.9h0M115.8 166.1h0M103.1 164.9h0M114.2 169.7h0M109.1 172.2h0M99.6 163.5h0M109.3 167.1h0M100.4 161.2h0M121.6 176.8h0M113.1 170.1h0M109.9 162.1h0M106.4 172.6h0M123.5 167.3h0M118.5 162.9h0M110.7 169.4h0M106 171.2h0M118.5 167.3h0M102.2 174.7h0M109.7 176h0M100.1 164.7h0M103.2 163.7h0M104.3 167.9h0M108 174h0M118.5 176.7h0M119.1 176.6h0M110.3 174.3h0M105 166.8h0M100.2 164.6h0M125.9 170.8h0M103.6 168.4h0M120 174.4h0M119.5 172.1h0M113.4 176.8h0M111.3 160.2h0M106.1 163.3h0M118.5 169.2h0M100 165.2h0M107 160.5h0M101.8 173.4h0M117.3 175.2h0M108.3 175h0M103.4 167.1h0M109.9 168.4h0M104.5 167.8h0M115 167.2h0M115.3 172.4h0M123.7 169.9h0M114.1 174.1h0M109.3 162.7h0M106.1 170.7h0M111.1 169.4h0M122.2 176.1h0M107.6 173.3h0M119.8 167.3h0M118.2 173.3h0M112.7 168.9h0M101.7 174h0M122.6 169.7h0M103.4 168.7h0M104.7 171.5h0M109.1 169h0M108.4 164.5h0M108.9 161.9h0M108.4 162.7h0M106.4 166.4h0M124.9 175.7h0M114.5 170.2h0M119.2 161.9h0M122.5 170.4h0M102.6 167.6h0M104.6 165.9h0M103.8 162.3h0M107 170h0M106.6 175.1h0M113.8 158.6h0M106.1 162.1h0M107 173.6h0M128 165.9h0M101.8 173.1h0M112.9 169.5h0M102.9 166.9h0M117.3 175.2h0M118.8 173.4h0M125.3 175.1h0M101.5 170.5h0M104.8 167.9h0M100 174.5h0M108.1 172.9h0M118.8 170.8h0M117.1 175.5h0M105.1 173.6h0M99.6 173.4h0M103.7 160.4h0M115.4 175.1h0M102.3 174.1h0M108.6 164.1h0M101.3 166h0M100.8 169.4h0M99 161.1h0M116.7 174.8h0M104.1 161.6h0M103.8 170h0M108.9 174.4h0M106.8 169.6h0M114.5 170.5h0M117.8 172.9h0M121.5 176.7h0M112.2 175.4h0M112.8 169.7h0M111.7 167.4h0M111.6 172.8h0M107.6 170.4h0M118.3 166.8h0M115.9 165.2h0M108.2 163h0M118.5 169.5h0M106.6 166h0M112.9 168.9h0M105.7 165.1h0M108.4 175.5h0M103.9 172.3h0M109.7 175h0M102.9 171.9h0M101.4 165.6h0M114.1 175.7h0M129.9 163.3h0M103.5 164.3h0M104.2 167.1h0M117 173.6h0M113.2 170.5h0M114.8 154.3h0M99.4 161.8h0M129.9 155.4h0M114.5 156.1h0M122.9 151.7h0M99.9 159h0M109 155.3h0M110.9 151.8h0M99.4 156.6h0M119.2 152.9h0M104.5 160.5h0M102.1 161.6h0M103.7 159.6h0M107 159.7h0M107.5 157.9h0M110.7 160.1h0M107.9 157.9h0M105.8 159.6h0M128.9 155.1h0M103.5 157.8h0M112.1 155h0M117.4 151h0M107.2 158.2h0M112.4 158.8h0M117.1 152.9h0M99.4 155.9h0M108 153.1h0M104.8 158h0M103.3 155.3h0M112.8 151.1h0M123 151h0M121.7 152.7h0M118.4 152.9h0M107.4 153.9h0M119.2 150.8h0M108.4 157.4h0M109 153.1h0M108.9 157.5h0M109.7 155.1h0M122.2 156.1h0M112.4 152.2h0M99.1 159.2h0M118.3 151.9h0M107.5 157.9h0M98.5 160.9h0M107.9 153.6h0M106.5 157.8h0M120.9 151.8h0M109.4 153.3h0M103.7 160.5h0M102.8 157.1h0M98.8 161.5h0M113.2 152.2h0M109.4 159.6h0M100.8 157.9h0M111.1 157h0M105.5 156.2h0M113.1 152.3h0M113.5 154.4h0M105.5 154.4h0M116.9 153.9h0M124 155.8h0M119.7 151.8h0M125.9 151h0M113.3 152.6h0M116.9 154.5h0M119.4 151h0M106 157.6h0M121.6 152.3h0M105.7 156.6h0M129 150.3h0M121.4 152.7h0M115.6 151.1h0M110.6 162h0M102.3 158.9h0M110.5 153.9h0M119.7 157.7h0M106.2 154.9h0M104.5 155.9h0M110.7 153h0M139.4 160.2h0M108.5 155.7h0M129.3 155.3h0M118.4 152.7h0M125.5 153.2h0M118.5 154.9h0M104.2 155.3h0M108 158.8h0M127.5 154.4h0M108 152.5h0M104.4 157.9h0M130 155.7h0M122.5 150.6h0M111.3 161.2h0M103.7 156.1h0M116.2 158.7h0M98.5 159.8h0M125 152.7h0M113.1 152.6h0M110.5 157.1h0M97.7 157.3h0M105.1 157.6h0M113.2 157h0M128.5 153.3h0M117 153.9h0M116 151.9h0M101 162.7h0M113.7 154h0M111.2 158.4h0M113.3 152.3h0M122.3 158.3h0M118.4 151.8h0M123 152.1h0M102.4 160h0M99.1 160.1h0M119.6 153.6h0M107.2 158.4h0M120.4 157.1h0M114.4 157.9h0M118.9 155.8h0M115.4 151.2h0M103.7 157.8h0M114.1 160.2h0M115.1 155.2h0M115.2 153.9h0M120.2 154.6h0M114 152.5h0M112.7 154.7h0M105.9 158.1h0M111.2 154.2h0M108.3 156.6h0M110.4 153.6h0M100.1 155.3h0M127.6 153.2h0M129.4 152.2h0M112 152.7h0M124.2 151.9h0M102 159.8h0M107.9 152.4h0M115.8 152.1h0M109.7 156.7h0M117.2 150.8h0M113.5 153.6h0M130.2 153.9h0M123.7 156.7h0M100.4 158.3h0M113.4 153.1h0M115.5 157.8h0M127.8 153.8h0M108.4 157.9h0M108.6 152.5h0M109.4 153.3h0M105.2 159h0M107.1 154.9h0M130.9 152.7h0M114.8 158.3h0M111.4 157.7h0M128.2 154.7h0M103.1 154.3h0M103.8 156.4h0M119.3 158.9h0M118.9 152.1h0M108.7 153.7h0M98.2 158.9h0M113.5 154.4h0M116.1 152.4h0M114.6 157.2h0M99.4 157.5h0M115.7 158h0M100.2 160.9h0M104.2 157.8h0M128.3 153.4h0M123.3 154.6h0M110.6 156.5h0M117.3 152.6h0M98.8 161.2h0M105.3 156.3h0M109 160h0M109.4 154.2h0M98.8 160h0M105.6 156.3h0M124.9 151.6h0M109.8 156.6h0M104.5 164.2h0M113.1 157h0M106.5 155h0M107 156.5h0M112.3 159.6h0M108 155.1h0M109.6 155.4h0M107 158.9h0M117.2 151h0M109.8 158.4h0M115 152h0M112.4 155.2h0M108.2 159.9h0M104.7 153.3h0M108.3 156.5h0M120.8 150.4h0M112.1 152.1h0M110.7 156.7h0M114.2 152.9h0M110.7 155.8h0M121.1 152.5h0M100.4 158.6h0M114 156.2h0M104.9 156.4h0M110.6 153.4h0M109.8 154.7h0M101 158.8h0M106.9 157.4h0M114.8 154.7h0M120.9 155.6h0M125.1 152.1h0M101.8 162.3h0M109 153.4h0M105.2 153.7h0M121.7 153.2h0M111.2 155.7h0M120.2 156.4h0M110.4 153.1h0M108.5 153.9h0M123.4 152.9h0M104.8 158.7h0M113.1 154.5h0M113.3 158.4h0M117.8 150.9h0M113.2 155.2h0M111.6 153.2h0M108.4 157.3h0M105 158.8h0M112.3 153.6h0M125.8 151.9h0M111.1 151.8h0M107.3 154.6h0M108.4 160.4h0M105.3 154.2h0M101.3 155h0M122.9 150.6h0M122.8 152.3h0M103.7 160h0M107.3 153h0M110.1 160.5h0M111.7 152.6h0M120.7 153.1h0M115.9 155.1h0M102 155.8h0M104.1 156.3h0M108.7 157.2h0M104 155.5h0M126.1 154.7h0M128.8 153.7h0M106.3 157.8h0M102.5 157.7h0M103.7 158h0M119.7 150.7h0M115.6 154.9h0M102.1 155.8h0M112.5 161.1h0M108.2 152.8h0M98.4 157.5h0M115.6 156h0M119.4 153.1h0M105.8 154.4h0M112.9 155.9h0M103.5 163.1h0M104.1 157.6h0M116.8 153h0M109.1 159.9h0M127.9 150.7h0M133 151.7h0M107.2 158.2h0M127.4 162.8h0M115.9 158.8h0M112.7 152.2h0M101.5 155.4h0M101.9 160.8h0M120.3 156.6h0M105.1 154.4h0M107.6 155.2h0M114.7 154.2h0M98.6 157.7h0M126.3 151.7h0M122.4 154.6h0M126.3 152.3h0M116 156.4h0M102.7 156.7h0M129.9 150.7h0M119.9 151.2h0M108.2 159.9h0M114.4 151.2h0M121.6 156.6h0M116.4 157.1h0M117.2 151.4h0M126.9 150.7h0M106.4 153.4h0M122.5 154.1h0M114.8 161.3h0M121.6 152.3h0M117.3 158.3h0M98.5 157.6h0M116.3 151.8h0M125.9 152.2h0M107.7 163.7h0M125.8 156.1h0M112.7 154.3h0M121.2 151.9h0M125 158.1h0M116.6 157.4h0M110.6 153.8h0M122 153.6h0M111 154.1h0M122.5 151.6h0M109 156.6h0M117.1 156.1h0M106.9 156.8h0M122.7 156.1h0M104.6 160.2h0M102.2 158.1h0M108.2 154.1h0M121.6 151.5h0M106.7 154.2h0M127.4 157.8h0M112.4 152.9h0M112.4 159.7h0M129.3 173.7h0M131.5 161.4h0M136.9 157.4h0M133.2 170.3h0M132.6 165.2h0M134.7 154.1h0M137.1 154.3h0M136.2 167.8h0M127.4 168.2h0M132.7 153.5h0M136.4 165.4h0M137.9 165.9h0M136.1 155.4h0M135.6 166.4h0M137.1 159.5h0M128.2 161.4h0M134.4 158.2h0M131.1 173.3h0M128.9 159.6h0M137.4 152.7h0M131.1 158.8h0M138.4 164.4h0M130.2 172.8h0M133.1 165h0M135.5 155.2h0M133.4 161.9h0M137 158.3h0M135.2 155.5h0M130.7 160.8h0M134.1 151.9h0M136.3 161.5h0M132.8 164.1h0M128.9 152.2h0M135.7 163.6h0M132.1 173.1h0M135.3 154h0M133.2 170.9h0M132.1 158.3h0M139.4 158.9h0M131.8 173.2h0M134.1 159.8h0M130.3 163.7h0M139.1 161.3h0M129.2 163.8h0M130.6 169.1h0M140 159.1h0M128.7 152.3h0M135.1 163.4h0M136.2 160.4h0M134.2 163.2h0M140.2 160.1h0M126.8 152.5h0M130.7 168.3h0M125.3 175.9h0M130.9 168.9h0M137.8 159.7h0M129.6 171.5h0M133.5 172.9h0M137 158.9h0M132.8 150.9h0M134 158.3h0M134.2 157.9h0M135.3 156h0M131.3 168h0M132.3 160.2h0M137.9 164h0M132.6 164.9h0M137.7 159.7h0M138.8 161.8h0M133.2 160.8h0M131 163.9h0M130.7 158.6h0M133.6 158.8h0M129.5 155.4h0M136.5 165.5h0M134.9 170.4h0M133.7 156.3h0M134.5 150.2h0M136.4 153.4h0M130.3 166.2h0M129.7 158.7h0M136.9 155.4h0M133.9 152.6h0M132.2 156.4h0M128.8 164.8h0M131 158.4h0M130.1 151.2h0M130.5 174h0M132.4 158.2h0M130.9 167.9h0M134.6 162.9h0M132.4 150.7h0M135.7 152.9h0M137.1 167.9h0M135.8 159h0M132 156.5h0M133.8 160.3h0M137 158.7h0M131.2 159.4h0M129.6 162.8h0M134.5 153.5h0M131.6 172.3h0M130.6 166.5h0M132.6 154.6h0M139.1 158.9h0M126.8 164.5h0M133.3 159.6h0M132.9 172.5h0M130.7 172.4h0M134.1 158h0M129.7 156.5h0M138.2 156.1h0M135.3 157.3h0M132 151.3h0M136.7 153.7h0M128.2 156.7h0M129.9 171.5h0M135.1 156.2h0M137.4 156.3h0M137.3 159.4h0M132 163.9h0M136.5 154.2h0M138.9 157.3h0M133.9 153.5h0M133.9 155.2h0M135 162.4h0M138.2 156.1h0M133.9 162.2h0M129.3 159.5h0M134.4 156.5h0M127.6 172.5h0M137.7 162.9h0M138.7 156.7h0M136.6 163.4h0M128.5 156h0M132.2 161.7h0M129.1 160.7h0M131.3 165.7h0M134.7 154.4h0M137.7 153.3h0M131.9 167.7h0M127 170.6h0M132 169h0M124.3 170.4h0M128.4 165.1h0M130.7 155.2h0M136.4 159.2h0M129.2 170.5h0M137.2 166.7h0M136.5 167.4h0M130.7 155.4h0M134.7 167.2h0M139 158.2h0M132.1 164.9h0M133.8 172.5h0M136.9 166.5h0M131.2 170.1h0M131.4 170.8h0M131.4 166.3h0M137.9 157.2h0M129.3 170.6h0M139.5 160.4h0M136.1 160.6h0M126.3 175.5h0M129.6 156.8h0M127.9 160.6h0M133.9 165.1h0M138.1 162.9h0M133.9 155.2h0M135.5 157.2h0M136.7 157.8h0M129.4 159.7h0M128.8 157.9h0M125.5 176.5h0M126.6 152.9h0M137.3 164.1h0M131.5 151h0M131.5 153.4h0M131.1 156.6h0M134.7 164.8h0M134.6 153.4h0M137.8 163.3h0M132.2 168.9h0M138.3 161.7h0M132.8 162.7h0M138.2 157.6h0M132.9 166.1h0M130.3 170h0M130.3 161h0M137.6 165.8h0M131.8 169.1h0M127.9 164.3h0M131.1 150.7h0M139.1 161.3h0M133.4 151.7h0M128.8 172.8h0M131.4 166.2h0M139.3 157.8h0M134 162.4h0M131.6 152.6h0M128.6 171h0M136.4 155.2h0M134.6 154.4h0M130.5 171.1h0M135.4 158h0M134.5 151.7h0M131.9 154.3h0M138.2 164h0M135.6 160h0M129.7 166.8h0M132.4 166.4h0M134.5 166h0M138 164.6h0M130.2 170.4h0M137.7 157.4h0M136.7 153h0M129.5 160.7h0M135.4 157.5h0M137.3 159.8h0M136.6 153h0M134.3 158.7h0M129.9 150.8h0M136.1 156h0M129.2 159h0M135.6 160.2h0M131.4 171.2h0M132.6 156.3h0M138 152.7h0M137.9 155.6h0M139.4 159.7h0M131.2 153h0M134.2 169.6h0M135.8 154.2h0M130.9 172.4h0M131.3 172.6h0M129.4 152.3h0M136.4 159.1h0M136.1 160h0M133.2 164.6h0M130.7 160.6h0M134.5 168.4h0M134.1 154.5h0M132.7 164.3h0M131.8 163.4h0M131.4 167.7h0M130 173.5h0M129.8 170.5h0M129.9 167.1h0M129.6 159h0M132.4 167.5h0M134.8 153h0M134 155.5h0M129.1 165.6h0M132.7 153.6h0M136.9 165.5h0M131.9 157.7h0M137.2 160.5h0M133.9 154.1h0M136.8 160.8h0M129.3 168.8h0M134.3 158.3h0M135.9 167.1h0M128.7 154h0M136.9 164.1h0M137.6 160h0M134.6 160.9h0M130 171.8h0M129.5 163.3h0M129.2 158.8h0M129.3 153.9h0M136.1 164.6h0M133.9 167.6h0M133 171.3h0M134.4 154.7h0M126.8 154.9h0M138.3 165h0M131.8 156.2h0M133.8 152.5h0M133.8 154h0M129.7 164.2h0M137.8 158.7h0M132.7 150.6h0M135.2 167.4h0M135.7 160h0M134.1 157.1h0M130.5 157.8h0M136.6 155.9h0M136 161h0M131.2 159.3h0M137.4 167.6h0M128.6 154.9h0M135.2 167.5h0M130.7 164.3h0M135.7 153.7h0M136.9 158.7h0M138 165.6h0M127.6 159.8h0M132.1 169.8h0M137 157.3h0M137.8 154.5h0M112.6 167.1h0M111.9 165.3h0M118.6 168.5h0M119.7 174.7h0M120.7 171.9h0M115.5 165.2h0M122.6 161.4h0M111.9 162.6h0M124.9 161h0M129.4 168.7h0M112.5 162h0M121.5 164.5h0M131.3 153.9h0M113.5 166.6h0M118.6 174.6h0M125 162.1h0M127.6 172.9h0M117.4 170.6h0M120.5 163.9h0M135.2 169.8h0M126.2 172.1h0M116.9 175.1h0M122.8 156.7h0M124 161.7h0M117.7 158.2h0M114.3 161.5h0M122.6 156h0M118.6 158.5h0M109.3 158.7h0M120.3 161.7h0M125.5 174.1h0M127.8 163.1h0M124.1 174.8h0M114.9 164.1h0M116 167.6h0M118.8 165.5h0M119.7 176.1h0M121 155.1h0M114 169.4h0M123.5 175.8h0M129.9 170.9h0M114.4 163h0M111.5 157.2h0M126.8 158.8h0M121 171.3h0M121.2 170.6h0M123.3 170.2h0M120.8 167.5h0M120.3 167.7h0M113.7 169.2h0M126.1 164.8h0M114 163h0M125.7 173.7h0M123.8 175.2h0M126.9 173.8h0M125.2 157.9h0M109.9 162h0M121.6 165.4h0M121.6 171.4h0M126.3 169.9h0M116.5 156.7h0M116.5 163.1h0M116.5 168.5h0M122.3 167.3h0M126.7 171.3h0M122.9 166h0M123.5 162.1h0M120.9 160.9h0M118.9 161.3h0M123.7 166.7h0M123.8 175.9h0M127 163.7h0M119.2 165.4h0M122.6 169h0M119.9 157.4h0M112.6 174.1h0M121.5 159.6h0M117.9 167.1h0M127.8 170.7h0M118.1 170.7h0M125.4 153.7h0M115 169.4h0M115.7 166.2h0M123.8 173.7h0M130.5 164.3h0M116 169.5h0M124.9 171.3h0M121.4 160.5h0M122.6 156.2h0M124 165h0M121.8 160.6h0M114.4 168.6h0M125.1 166.9h0M120.5 163.5h0M113.9 167.6h0M124.3 172.8h0M127.8 173h0M118.5 163.4h0M115 163.6h0M112.6 167h0M116.4 163.2h0M122.5 166.8h0M119.8 156.8h0M120.8 169.1h0M119.2 164.7h0M114.7 167.1h0M121.4 170.2h0M116.2 175.3h0M123.5 167.7h0M119.7 160.2h0M120.5 165.2h0M121.5 159.2h0M124 167.2h0M130.4 171.3h0M115.9 167.1h0M117.6 155h0M118 169.9h0M125.3 160.8h0M117.2 163.6h0M118.6 175.2h0M112.3 164.1h0M123.5 168.6h0M116.3 171.4h0M125.3 160.3h0M120.2 161.5h0M130.2 168.2h0M118.5 156.1h0M104.7 164.1h0M114.5 168.7h0M120.1 170.4h0M115.4 164.7h0M113.2 160h0M107.9 165.6h0M128.1 161.1h0M122.9 164.1h0M124.5 166.8h0M115.3 174.3h0M112.7 175.7h0M122.3 165.1h0M119.8 159.4h0M117.5 164.8h0M111.2 160.8h0M117.9 169.9h0M125.6 164.6h0M124.1 163.1h0M115.7 165.7h0M113.5 164.5h0M125.2 167.1h0M119.3 161h0M125.4 159.4h0M127.7 175.4h0M110 160.2h0M116.4 161.5h0M120.2 158.5h0M117.5 160.8h0M114.9 165.7h0M114.4 160.9h0M130.7 167.1h0M111.9 157.8h0M127.6 157.1h0M123.5 168.6h0M116.6 170.1h0M114.9 166.1h0M119.3 163h0M116.9 161.9h0M122.9 171.9h0M123.9 157.6h0M124.7 163.5h0M127.5 161.1h0M119.3 156.8h0M114.7 173.3h0M115.9 161.8h0M115.3 156.9h0M120.8 166.9h0M126.1 172.2h0M118.5 166.9h0M119.5 153.9h0M118.3 152.7h0M114.2 169.6h0M130.7 170.5h0M120.1 172.3h0M115.7 164.2h0M109.9 160.4h0M124.9 167.3h0M126 162.2h0M116.2 164.3h0M111 163.8h0M121.3 168.9h0M112 160.7h0M120.7 165.8h0M117.8 163.3h0M126.9 161.1h0M125.4 171.5h0M122.6 164.4h0M127 161.2h0M111.8 167.3h0M121.3 161.3h0M125.3 164.8h0M126.3 173.1h0M114.9 169.5h0M125.7 157.5h0M118.1 156.6h0M119.9 166.2h0M117.7 151h0M119.9 173.5h0M125.3 164.8h0M121.7 166.4h0M117.2 173.5h0M120.4 161h0M117.5 166.9h0M128.3 171.2h0M122.3 174h0M120.3 159.2h0M128.9 168.4h0M118.1 167.4h0M108.9 176.4h0M124 161.3h0M113.9 159.7h0M125.6 164.3h0M120.2 175.3h0M121.1 165.3h0M120.2 170.1h0M113.8 161.6h0M127.5 166.4h0M117 162.8h0M104 161.7h0M128.1 156.2h0M110.4 162.4h0M125.7 166h0M130 169.6h0M111.7 169.6h0M128.1 160.7h0M120.7 161.6h0M124.6 164.6h0M124.4 171.4h0M123 173.3h0M125.4 162.8h0M118.2 163.8h0M118.6 166.1h0M128.4 161.8h0M110.4 159.1h0M115.1 158.1h0M114.5 174.5h0M116.6 163.7h0M121.8 164.8h0M129.8 159.1h0M115.9 167.8h0M112 160.8h0M122.6 161.5h0M125.5 172.1h0M118.2 171.3h0M121.5 175.2h0M116 156.8h0M124.2 170.1h0M112.7 159.4h0M118.6 163.6h0M121.2 160.8h0M124.5 173.4h0M114.2 165.6h0M120.2 170.8h0M121.2 158.8h0M126.1 163h0M124.6 170.1h0M125.1 172.1h0M125.5 153.6h0M101.2 160h0M120.4 159.7h0M115.3 159.6h0M116.9 165.1h0M122.3 173.9h0M122.1 161.4h0M119.6 163.4h0M125.7 166.5h0M116 167.2h0M129.4 173.9h0M124.5 174h0M124.5 165.7h0M121.9 174.6h0M122.3 171.7h0M124 167.1h0M123.9 163.1h0M118.3 156.8h0M123.9 151.3h0M124.1 161.6h0M117.2 175.1h0M113.7 168.8h0M123.3 167.6h0M127.1 175.6h0M124.8 162.3h0M127 159.4h0M119.1 162.3h0M128.2 158.5h0M128.6 154h0M125.1 159.4h0M119.8 153.2h0M120.4 165.1h0M117.2 166.8h0M119.1 162.2h0M113.3 174.1h0M114.9 164.6h0M118.8 174.8h0M122.4 169.3h0M116.9 166.6h0M126.6 160.1h0M125.1 165.4h0M116.1 172.3h0M126.9 170.8h0M130.2 170.9h0M108.7 160.7h0M122.7 154.7h0M122.7 159.5h0M120.6 153.5h0M124.2 162.5h0M129.3 159.2h0M126.7 154.1h0M130.7 157.5h0M131.6 166h0M124.4 157.4h0M123.9 157.2h0M122.3 159.4h0M118.9 155.9h0M125.9 154.5h0M123.9 160.7h0M123.8 155.8h0M125.1 155.4h0M118.3 158.7h0M125.9 166.8h0M120.2 164h0M125.2 159.6h0M123.5 156h0M120.7 163.2h0M125 164.6h0M122.6 161.6h0M119.6 167.2h0M132.8 162h0M127.2 157.1h0M129.4 153.8h0M127.8 158.3h0M121.8 155.4h0M127.6 162.5h0M126.1 166.5h0M126.7 154.3h0M129.3 159.7h0M131.5 158.5h0M118.1 157.5h0M128.6 157.4h0M123.7 163.4h0M114.2 159.2h0M127.9 156.3h0M124.6 169.4h0M123.1 163.2h0M123.8 156.4h0M125.7 158.4h0M130.8 162.8h0M117.8 155.7h0M126.8 155.6h0M127.9 159h0M127.2 156.7h0M120.9 167h0M129.1 157.7h0M129.1 162.7h0M122.1 161.3h0M115.6 156.8h0M127.9 160.3h0M124.5 156.8h0M132.4 160.3h0M124.4 158.7h0M124.7 165.9h0M126.3 159.5h0M122.7 157.9h0M132 161.6h0M131.3 162.1h0M126.4 156.4h0M126 158.1h0M125.5 157.7h0M125.8 158.5h0M125.8 163.6h0M128.9 162.8h0M120.1 153.5h0M131.6 165.2h0M126.4 166.6h0M130.2 164.4h0M122.4 161.7h0M120.4 165.8h0M123.9 157.4h0M126.4 158.1h0M122 153.6h0M128 152.2h0M127.1 163.1h0M118.5 156.9h0M116.2 162.3h0M126.1 166.2h0M126.3 155.4h0M129.5 155.8h0M99.4 165.8h0M97.9 162.4h0M97.8 172.8h0M97.6 168.1h0M98.5 172.7h0M99.9 169.1h0M96.9 169.9h0M98.8 163.5h0M98.4 169.9h0M99 165.5h0M98.5 171.6h0M97.3 170.3h0M97.1 171.4h0M97.4 169.8h0M96.9 166.3h0M98.9 170.6h0M100 169.1h0M96.6 171.3h0M98.3 164.2h0M98.3 172.5h0M98.8 169.1h0M99 169.5h0M100 164.9h0M100.1 167.2h0M99.5 173.7h0M98.1 168.5h0M97.8 174.2h0M98.4 162.6h0M96.5 167.3h0M98.1 170h0M98.4 169.4h0M97.5 166.7h0M97 170h0M97.3 164h0M97 170.9h0M98.5 173h0M99.2 172.2h0M98.1 169.9h0M99.3 166.7h0M98.4 170.7h0M100.3 171.5h0M99.5 165.1h0M98.3 164.1h0M98.5 162.9h0M98.8 160.6h0M99.5 171.8h0M99.5 165.1h0M99 160.2h0M100.1 160.9h0M98 162.8h0M99.3 170.3h0M100 166.1h0M98 166.3h0M99.1 163.1h0M98.4 167.6h0M100.1 170.8h0M98.7 163.6h0M100.3 162.8h0M100 164.4h0M98.4 166.7h0M98.6 168.7h0M100.4 169.3h0M99.9 168.5h0M100.2 164.8h0M99.1 163.2h0M100.8 167.7h0M97.5 165.8h0M98.9 170.7h0M99.9 169.3h0M99.5 169.4h0M100 169.8h0M98.5 157.8h0M98.7 160.1h0M97.8 158.2h0M98.5 160.5h0M97.6 159.2h0M98.8 159.9h0M96.5 158.5h0M99.7 158.6h0M97 158h0M97.7 158.3h0M98.3 157.3h0M97.1 159.2h0M98.5 160.3h0M99.1 159.1h0M99.8 159.5h0M96.8 157.5h0M97.8 160.1h0M97.2 159.3h0M96.2 155.8h0M95.6 155.8h0M91.3 155.4h0M90.9 155.3h0M95.2 156h0M94.9 156.1h0M92.8 156.3h0M91.5 155.8h0M90.8 155.6h0M92.4 155.5h0M95.4 155.9h0M92.9 156.1h0M92.3 156.1h0M90.5 155.8h0M91 155.3h0M91.3 155.6h0M94.4 155.6h0M91.5 155.8h0M93.1 156h0M93.6 155.8h0M91.1 155.7h0M90.7 156.2h0M92.1 155.8h0M95.2 156.3h0M96.2 156h0M92.6 155.8h0M92.8 156h0M91.5 156h0M94.4 155.7h0M90.6 156h0M90.7 155.4h0M95.3 156.3h0M92.6 156h0M94.2 155.9h0M94.8 156.3h0M96.5 155.9h0M93 155.7h0M93.4 155.5h0M91.4 156.1h0M88.5 178.3h0M88.2 177.8h0M91.8 179.2h0M89.7 178.6h0M91.2 179.1h0M87.8 178.5h0M87.2 177.9h0M88.3 178.6h0M89.7 178.4h0M87.7 177.8h0M92.1 179.7h0M88 178.5h0M88.9 178.7h0M90 179.1h0M90 179.4h0M90.2 179h0M87.8 178.3h0M92.7 179.5h0M88.7 178.4h0M93 180.5h0M90.2 179.5h0M88.2 178h0M90.7 179.2h0M90.2 179.4h0M92.2 179.3h0M91.2 179.2h0M89.2 178.4h0M92.5 179.5h0M89.3 178.5h0M89.5 179.1h0M93 179.8h0M90.5 179.3h0M89.1 178.3h0M88.2 178h0M90.3 178.9h0M90 178.8h0M93.1 179.9h0M90.7 179.2h0M90.3 178.5h0M91.2 179.5h0M89.9 179.3h0M87.7 177.9h0M92.6 179.6h0M90.6 179.5h0M89 178.1h0M88.4 178.3h0M88.2 178.6h0M90 178.8h0M91.5 179.2h0M92.9 179.5h0M93 179.6h0M87.5 178.2h0M93 180.3h0M88.2 178.7h0M87.3 178.3h0M88.5 178.6h0M88.9 178.2h0M87.9 178h0M90.7 179.1h0M99.3 179.6h0M96.6 179.8h0M98 179.1h0M100.6 179.3h0M94.5 179.5h0M94.2 180h0M93.5 180.2h0M97.6 179.7h0M99.9 178.7h0M99.8 179h0M94.4 180h0M98.6 179.6h0M95.7 179.6h0M94.6 180.3h0M93.9 180.4h0M93.4 179.7h0M95.4 179.8h0M100.4 178.6h0M96.3 180h0M98.8 179.6h0M97.4 179.4h0M94.1 179.6h0M95 179.7h0M98.7 179h0M95.1 179.5h0M99.5 179.5h0M96.9 179.9h0M98.7 179.2h0M98 179.1h0M98.1 179.5h0M95.2 180.1h0M98.9 179.2h0M100.6 178.9h0M98 179.1h0M98.8 178.9h0M97.3 179.8h0M98.2 179.2h0M95.9 179.8h0M93.4 180.4h0M95.9 179.6h0M97.3 179.5h0M96.1 180.1h0M96.5 180h0M100.9 178.8h0M100.7 179.1h0M112.2 177.4h0M103.5 176.8h0M115 177h0M115.5 177.6h0M116 176.7h0M113.5 176.8h0M104.2 176.9h0M109.2 177h0M111.1 176.7h0M119.8 178.2h0M117 176.7h0M114 176.8h0M119.2 177.7h0M102.8 176.1h0M115 177.5h0M106.9 176.8h0M111.2 177.4h0M108.5 177.2h0M105 175.8h0M107.7 176.5h0M115.9 177.2h0M122.6 178.4h0M117.7 176.8h0M113.5 176.8h0M122.6 177.7h0M108.6 176h0M117.8 177.2h0M105.4 175.8h0M102.7 175.8h0M114.6 176.8h0M110.5 176h0M108.7 177.1h0M122.7 178.2h0M117.8 176.8h0M116.8 177.3h0M111.8 176.1h0M107.2 176.6h0M103.1 176h0M124.2 177.8h0M116.9 177.2h0M117.9 177.1h0M105.8 175.5h0M115 176.8h0M123.3 177.8h0M102.5 176.2h0M117.3 176.6h0M113.4 176.9h0M114.7 176.7h0M113.3 177.3h0M105.3 175.7h0M124.2 178.7h0M123.7 178.6h0M123.3 178.2h0M103 176.5h0M123.6 178.6h0M119.5 178h0M106.3 176.9h0M110.3 177.1h0M124.4 178h0M120.7 177.2h0M108.3 177.1h0M121.7 177.7h0M107.5 176.1h0M118.1 178.1h0M121.6 177.8h0M111.2 177.3h0M108.7 177.2h0M107.1 176.5h0M120.7 177.1h0M107.8 176.2h0M117.2 176.7h0M115.9 177.9h0M113.1 177.3h0M121.7 178.5h0M105.4 176.6h0M114.2 177.6h0M122 178.4h0M121.5 177.3h0M116.1 177.7h0M108.4 176.4h0M105.3 176.8h0M116.6 177.3h0M113.6 176.3h0M110.4 176.7h0M122.2 177.2h0M110.3 177.4h0M110.8 175.9h0M108.1 177.2h0M120.8 177.5h0M119.8 177.6h0M103.7 176.3h0M105 176.6h0M117.6 176.6h0M121.8 178h0M102.5 176.4h0M105.9 176.7h0M116.7 177h0M123.2 177.8h0M119.7 177.6h0M117 176.8h0M109.3 175.9h0M113.7 177.6h0M106.2 175.6h0M121.1 177.8h0M117.6 178h0M106.1 175.7h0M120.7 177.4h0M103.7 176.7h0M108.6 176.6h0M113.3 176.9h0M105.1 176.7h0M120 178.2h0M111.7 176.2h0M110 176.2h0M107.4 175.9h0M113.7 177.1h0M123.1 177.7h0M123.3 177.8h0M106.8 177h0M116.3 179.1h0M118 179.7h0M116.6 179h0M115.4 179.2h0M118.8 179.9h0M115.6 179.2h0M116.4 179.9h0M113.7 179.1h0M117.6 179.9h0M117.8 179.3h0M114.6 178.9h0M119 179.6h0M114.1 179.1h0M117.5 180.1h0M114 179.2h0M115 179.4h0M137.8 141.4h0M136.6 138.3h0M141.1 144.4h0M144.1 142.5h0M143.9 143.5h0M147.5 143.1h0M139.1 144.2h0M138.5 139.9h0M141.4 145.4h0M144.7 141.1h0M146.6 139.7h0M147.4 143h0M148.5 142.7h0M137.4 141.5h0M139.9 142.2h0M141.5 141.7h0M144.3 145.1h0M141.2 146.4h0M137.2 138.2h0M137.8 141.9h0M141.3 137.5h0M142.4 144.3h0M138.7 142.7h0M147.9 141.5h0M138.8 140.6h0M139.5 141.7h0M149.6 141h0M140.8 142h0M141.3 146.2h0M142.5 145.1h0M142.7 139.5h0M144.4 142.1h0M136.8 145.6h0M148.2 143h0M149.6 142.9h0M145.3 142.6h0M146.4 140.6h0M144.3 145h0M147.2 140.1h0M146.7 142.6h0M141.1 140.8h0M139.9 140.6h0M145 144.7h0M145.4 143.2h0M141.7 142.1h0M138.1 144.3h0M145 145.4h0M144.7 140.4h0M143.1 142.9h0M142.4 139.3h0M142 138.8h0M142.4 141.5h0M144.2 140.2h0M145.2 142.7h0M138.6 140.2h0M137.3 145.6h0M145.3 140.2h0M146.7 139.3h0M137.2 144.4h0M148 140.5h0M146.5 145.1h0M144.9 139.4h0M144.3 143.1h0M145.6 142.8h0M139.3 140.7h0M137.6 138.3h0M148.7 143.1h0M137.5 140.7h0M145.1 144.4h0M137.4 136.6h0M139.4 142.3h0M143.2 140.8h0M142.4 147.9h0M145.2 139.5h0M142.5 143.6h0M141 146.6h0M141.7 142.3h0M138.1 142.5h0M138.7 138.8h0M143.2 144.4h0M145.6 138.9h0M144.4 143.4h0M143.9 144.8h0M138 145.1h0M146.3 143.4h0M141.6 141.5h0M139.8 146.6h0M138.2 142h0M138.3 140.4h0M138 137.7h0M145.2 143.5h0M143.5 144.5h0M142.7 139.8h0M139.1 143h0M140.3 147.2h0M146.1 140h0M144.6 145.9h0M144.9 141.4h0M136.3 137.6h0M144 140h0M139.6 142.9h0M137.5 139.6h0M139 145.8h0M142.2 140.4h0M148.5 141.1h0M143.6 143.9h0M146.3 144.5h0M137.7 142.4h0M143.3 145.3h0M140.8 139.1h0M139.3 138.3h0M138.3 144.9h0M142.1 144.5h0M149.7 140.6h0M141.5 142.4h0M145.7 144.5h0M137.7 142.4h0M143.7 144.6h0M141 139.5h0M138.9 138.9h0M138.3 139.3h0M139.9 139.6h0M148.2 143.9h0M145.8 145.2h0M147.1 142.7h0M137.1 138.1h0M137.8 142h0M145.9 143.8h0M143.5 141.5h0M141.1 146.7h0M150.3 141.7h0M141 146h0M146.1 142.3h0M140.5 147.4h0M137.4 139.7h0M142.8 139.6h0M139.9 147h0M138.9 146.3h0M136.7 143.9h0M139.4 140.7h0M136.5 144.4h0M140.7 144.9h0M138.8 141.3h0M144 145.8h0M139.7 140.7h0M137.4 141.4h0M137.9 142.3h0M143.7 142.1h0M146 141.7h0M145.5 139.9h0M143 141.2h0M137 137.1h0M141.8 141.2h0M140.4 144h0M137.6 141.9h0M140.4 146h0M144.8 139.8h0M138.7 139h0M141.1 138.7h0M142 147.6h0M137 140.3h0M142.8 146.2h0M137.1 145.8h0M142.7 142.2h0M147.4 143.5h0M140.8 147.3h0M139.8 144.1h0M149.1 141.3h0M145.2 141.1h0M140.3 145.9h0M145.5 143.2h0M140.1 145.2h0M141.3 140.4h0M137.7 139.8h0M150.7 141.2h0M147.3 140.8h0M141.2 142.5h0M142.5 145.1h0M148.4 141.3h0M143.4 142.4h0M140.5 147.1h0M147.1 142.4h0M139.5 142.2h0M141.3 146.7h0M143.1 144.9h0M141.7 142.8h0M144.8 140.5h0M144.6 142.9h0M149.3 141.1h0M139.7 147.1h0M144.8 141.9h0M138.7 139.4h0M143.8 142.3h0M145.2 144.6h0M142 138.6h0M138.1 146h0M141.4 140.8h0M138.1 136.9h0M144 140.1h0M140 142.3h0M142.5 141.8h0M137.8 138.1h0M146.1 141h0M140.3 143.9h0M140.8 146.5h0M141 142.8h0M144.4 139.8h0M140.4 139.5h0M140.5 138.4h0M137.6 137.9h0M140.5 139h0M148.4 140.8h0M143.5 142.6h0M143.9 142.5h0M142.8 139.9h0M146.8 144h0M149 141.8h0M139.9 140.5h0M140.8 140.1h0M142 140h0M141.4 142.9h0M143 141.1h0M145.8 141.8h0M143 144.6h0M145.8 142.8h0M137.6 138.5h0M140.3 137.5h0M140.9 140.4h0M146.1 142.2h0M139.1 146.4h0M138.6 139.2h0M144.5 143.3h0M143.4 145.8h0M137.7 143.8h0M147.7 142.8h0M138.5 143.1h0M140 138h0M147.5 142.2h0M138.4 142.5h0M137.1 144.7h0M143 147.2h0M144.2 142h0M145.9 142.7h0M143.7 142.8h0M140.3 142.7h0M144.1 138.6h0M145.9 144.3h0M148.2 141.4h0M144.8 146.2h0M137.9 146.2h0M139 144.8h0M139.9 143.7h0M138.3 144.9h0M139.2 147.1h0M137 140.2h0M146.3 143.2h0M144.8 144.6h0M150.3 140.4h0M143.7 145.4h0M140.1 141.4h0M144.2 139.7h0M141.4 141.1h0M142.7 139.3h0M146.3 140.8h0M143.9 144.2h0M143 147.1h0M147.6 139.7h0M140.8 142.9h0M142.6 147.2h0M140.7 146.7h0M139.4 137.8h0M144.7 143.1h0M137.8 145.3h0M138 142.1h0M147.9 144.1h0M142.4 137.9h0M144.1 146.6h0M139.9 142.3h0M144.5 143.1h0M140.9 138.2h0M139.8 137.5h0M144.5 144.8h0M138.2 139.2h0M139.4 145.9h0M137 141.9h0M148.5 143.4h0M141.3 144.6h0M142.4 145.3h0M142.3 148h0M144.9 144.5h0M146.9 140.2h0M141.8 139.1h0M144.8 140.9h0M144.6 143.4h0M146.6 144.3h0M138.1 142.7h0M143.5 139.4h0M138.3 142.7h0M140 145.1h0M146.6 143.9h0M144.7 145.1h0M143.8 144h0M142.1 146.2h0M145.2 139.8h0M145.7 144.1h0M141.5 145.3h0M141.3 146.2h0M141.3 137.2h0M138.6 147.1h0M141.3 143.4h0M144.7 140.9h0M141 147.1h0M138.6 144.6h0M140.3 147.4h0M142.8 143h0M142.3 140.4h0M147 142.1h0M141.2 147.8h0M146.2 142.8h0M141.9 147.9h0M140.1 142.8h0M145.6 145.3h0M136.9 145.6h0M144.6 138.5h0M144 143h0M147.9 142.4h0M148 142.2h0M140.6 143.5h0M137.9 144h0M136.7 137.3h0M139.5 145.3h0M139.9 143h0M147.7 141.6h0M148.9 141.2h0M148.5 142.9h0M137.1 141.3h0M137.1 139.4h0M146 139.6h0M144.1 140.3h0M138.6 141.9h0M140.7 142.8h0M143.2 139.3h0M143.3 145.4h0M147.2 143.4h0M145.9 141.1h0M145.6 141h0M147.7 141.3h0M136.1 136.7h0M137.8 143.5h0M141.8 143.4h0M145.4 141.3h0M138.9 139.4h0M144.2 139h0M147.7 140.7h0M142.6 143.5h0M140.7 143h0M144.6 140.3h0M142.5 146.9h0M144 143.8h0M138.9 141.9h0M137.2 139.7h0M142.6 142.3h0M138.2 138.6h0M143.4 140.9h0M147 143.8h0M146.1 142.3h0M143.1 141.1h0M140.3 144.1h0M144.4 138.5h0M138.1 140.6h0M139.9 142.2h0M143.9 142.3h0M147 140.2h0M144.1 143.9h0M140.7 143.9h0M144.4 141.9h0M137 137.7h0M140.6 140.1h0M145.5 140h0M146.1 142.7h0M141 147.1h0M139.3 142h0M137.5 144.2h0M146.7 143.5h0M137.1 145.5h0M141.8 138.4h0M138.1 140.1h0M141.9 142.1h0M140.9 138h0M146.5 145.5h0M147.5 140.9h0M148.6 143.7h0M140.8 138.3h0M146.5 143.3h0M142 142.5h0M140.1 140.8h0M138 138.3h0M150.2 140.5h0M146.6 140.9h0M141 145.1h0M145.1 143.6h0M143.1 139h0M140.4 145.3h0M144.1 144.4h0M144.6 145.5h0M143.8 146.1h0M145 142.1h0M138.2 146.5h0M145.6 140.5h0M141.7 138.7h0M137.6 137h0M140.8 142.1h0M138.2 138.2h0M146.5 141.5h0M144.6 145.7h0M138.6 139.8h0M140.3 137.9h0M140 145.4h0M148.5 141.8h0M148.4 142.1h0M146.3 141.6h0M142.2 147.1h0M139.4 139.6h0M138.3 140.4h0M141.1 138.4h0M144.7 144h0M138.9 142.4h0M140 139.8h0M143.8 140.2h0M145.4 140.7h0M149.1 142.1h0M139.3 142.8h0M141.3 144.3h0M143 144.2h0M135.8 138.9h0M140.5 143.9h0M136.7 137.4h0M145.2 140h0M142.1 140.5h0M138.3 141.1h0M142.7 145.2h0M146.2 141.9h0M140.7 138.8h0M142.1 139.5h0M148.7 142h0M140.9 143.1h0M145.3 140.1h0M142.6 148h0M144.9 145h0M142.7 139.1h0M150.6 140.8h0M141.6 142.1h0M146.2 139.4h0M145.5 143.1h0M144.4 146.1h0M138.7 146.8h0M147.2 142.6h0M138.3 142.1h0M142.8 141.7h0M147.3 140.1h0M146.2 142.3h0M136.7 139.8h0M141.1 147.1h0M144.9 144h0M137.6 140.6h0M136.7 144.8h0M144.8 142.6h0M143.5 138.3h0M145 141.9h0M142.1 147h0M144 139.3h0M137.5 145.9h0M141.3 146.7h0M146.1 141.5h0M148.2 144.1h0M143.4 143.4h0M145.9 140.9h0M138.5 141h0M144.4 139h0M141.6 144.5h0M135.9 147.2h0M134.8 147.7h0M132.5 151.3h0M134.5 148.2h0M134.4 147.7h0M135.7 146.6h0M134.5 149h0M134.6 149.3h0M134.5 147.8h0M131.6 150.9h0M131.9 150.6h0M134.2 148.7h0M132.6 151.6h0M135.8 147.1h0M134.6 149.8h0M135.7 148.1h0M135.4 146.1h0M135 148.2h0M132.1 150.3h0M135.3 149.2h0M136.1 146.8h0M134.9 149h0M133.4 152.5h0M132 149.8h0M134.6 146.9h0M134.3 148.5h0M135.1 149.4h0M133.2 150.6h0M135.1 146.4h0M133.5 150.5h0M133.3 149.9h0M134.6 147.4h0M134.8 149.4h0M136.5 146.5h0M134.8 146.9h0M136.7 146.3h0M133.6 147.9h0M133 150.6h0M134.1 149.2h0M135.7 145.5h0M132.9 149.1h0M135.3 149.4h0M133.6 149.2h0M134.5 148.1h0M134.4 148.2h0M134.8 148.5h0M132.7 150.8h0M135.4 147.6h0M132.7 149.2h0M135.8 146.1h0M132.9 150.6h0M133.2 152.2h0M133.9 149.3h0M135.4 145.8h0M133.2 148.7h0M133.2 150.9h0M136 146.8h0M134.8 148.7h0M132.5 151.1h0M135.8 146h0M135.7 148.7h0M135.5 146.4h0M133.2 151.3h0M134.1 150.2h0M133.5 151.6h0M133.8 151.2h0M133.4 149.7h0M135.5 147.4h0M134.3 147.3h0M133.9 148.2h0M134.1 149.4h0M133.8 149.1h0M136 145.6h0M132.2 149.9h0M133.8 150.8h0M134.1 148.6h0M135.6 146h0M136.8 144.8h0M134.4 148.2h0M136.3 144.5h0M137.5 144h0M134.7 147.8h0M134.2 147.7h0M137.6 145.4h0M136.3 147h0M136.3 146.2h0M136.2 146.5h0M135.8 148.5h0M134.1 148.1h0M135.5 148.3h0M135.9 147.3h0M135.9 147.6h0M136.2 146.6h0M135 148.3h0M137 145.5h0M134.9 149.3h0M134.5 147.3h0M134.6 147.5h0M137 146.8h0M135.1 146.5h0M135.5 148.6h0M134.8 148.7h0M135.3 149.2h0M133.7 148.3h0M136.5 145.1h0M135.7 148h0M135.3 148.7h0M136.5 145.4h0M135 146.9h0M138 145.4h0M138.1 145.3h0M134 147.8h0M136.8 143.9h0M137.3 144.1h0M136.5 144.5h0M136.2 147.9h0M137 143.6h0M136.8 145.5h0M135.9 146.4h0M136.8 146.2h0M136.6 144.3h0M135.3 149.1h0M135 148.7h0M137.3 144.9h0M137.4 146.5h0M137.2 144.3h0" stroke="#c1c1c1" stroke-width="1.2" stroke-linecap="round" fill="none"/>
<path d="M113.2 194.3h0M114.8 194.1h0M120.5 188h0M121.2 190.8h0M120.2 187.3h0M117.7 193.4h0M115.2 195.7h0M119 194.1h0M119.9 186.7h0M113.8 192.1h0M110.5 193.1h0M120.9 190.9h0M118.9 194.8h0M112.9 192.7h0M119.3 189.8h0M121.7 192.2h0M115.2 190.3h0M119.1 193h0M121.4 193.8h0M120 194.5h0M118.2 192.2h0M120.6 189.5h0M118.5 191.8h0M118.3 194.8h0M122.3 192.3h0M113.9 194.1h0M116.8 195h0M113.9 195h0M113.6 194.9h0M115.3 195.4h0M113.7 190.7h0M120.4 193.7h0M115.3 195.6h0M107.5 193.4h0M119.7 190.2h0M117.4 193.6h0M121.5 191.8h0M121.4 197.3h0M117.1 189.2h0M111.3 193.1h0M119.5 189.6h0M114.4 193.9h0M122.8 196.7h0M119.8 190.9h0M121.1 190.2h0M114 192.3h0M118.9 189.9h0M119.8 190.5h0M122 198.2h0M109.7 193.3h0M116.7 189.5h0M110.8 194.1h0M120 193.2h0M111.2 194.4h0M117 195.7h0M117.4 191.8h0M118.3 195.4h0M121 188.8h0M113.8 193.8h0M111.1 193.3h0M117.6 191.2h0M114.8 192.1h0M121.1 188.8h0M114.8 194.8h0M120.4 187h0M114.7 194.7h0M120.3 189.1h0M118.3 196.3h0M111.4 194.1h0M120 188.1h0M112.5 195h0M116.3 188.9h0M113.5 195.1h0M116.8 189.1h0M112.1 192h0M122.2 197.2h0M117.6 191.5h0M117.2 190.8h0M119.8 195.4h0M122 196.6h0M109.6 192.3h0M119.6 185.9h0M117.9 193.6h0M117.9 190.3h0M121.7 190.7h0M120.1 192.4h0M115.8 195.4h0M116.6 191.4h0M118.6 194.2h0M119.7 194.6h0M111.3 194.4h0M114.3 194.4h0M115.5 195.4h0M119.6 193.8h0M116.6 194.7h0M122.4 191.8h0M117.9 191.6h0M119.3 193h0M117 192.4h0M119 190.8h0M117.5 190.4h0M112.4 192.4h0M116.3 193.6h0M120 195.2h0M117.7 188.5h0M115.9 190.4h0M122.6 191h0M116.7 191.2h0M114.4 193.1h0M117 194h0M119.9 194.7h0M120 191.3h0M113.8 193.2h0M115.4 190.1h0M122.1 196.1h0M109.4 194.3h0M122.5 197.5h0M119.4 195.2h0M110.5 194.2h0M119 193.5h0M119.9 193.8h0M111.1 194.7h0M122 190.7h0M115.5 195.5h0M115.1 195.3h0M120.8 190.1h0M118.2 189h0M113.7 191.3h0M114.4 195.3h0M115.5 192.3h0M116.4 190h0M115.8 195.5h0M107.3 193.5h0M121.6 190.7h0M110.6 192.6h0M113.6 192.5h0M114.4 191h0M121.9 194.5h0M121.9 195.5h0M119.6 193.6h0M116 191.8h0M114.2 189.7h0M117.1 190.4h0M120.1 192h0M121.8 196.7h0M113.5 195.3h0M121.7 189.1h0M117.5 191.5h0M120.9 186.1h0M119.9 193h0M118.5 193.5h0M115.7 193.4h0M119.5 188.2h0M113.5 192.7h0M115.4 190.2h0M117.5 190.3h0M121.2 194.5h0M111.7 193.2h0M123.1 197.9h0M120.9 187.8h0M114.5 193.5h0M112.2 192.9h0M120.1 194.1h0M122.2 197.3h0M111.3 194.6h0M117.9 194.9h0M117.9 192.2h0M116.1 191.8h0M117.5 196.7h0M119.2 186h0M121.5 190.2h0M123 197.8h0M110.4 194h0M120.3 187h0M115.1 193.6h0M119.5 194.6h0M117 189.4h0M115 196.3h0M120.8 188.3h0M121.4 188.4h0M109.3 193.1h0M114 194.8h0M111.8 192.4h0M120.1 190.1h0M119.2 191h0M117.5 189.5h0M121.1 186.8h0M120.7 191.9h0M119.5 186.3h0M117.4 196h0M116.4 196.4h0M117.6 193.5h0M108.5 193.4h0M116.5 192.4h0M116.2 195.6h0M117.9 192.6h0M115.8 191.6h0M121.1 193.5h0M118.4 195h0M115.3 192.6h0M109 193.9h0M109.2 192.7h0M120.5 190.6h0M116.4 191.4h0M111.7 192.1h0M118.9 189.6h0M119.6 193.5h0M118.7 189.3h0M115.1 192.1h0M110.4 191.4h0M121.5 192.1h0M122 195.7h0M114.6 193.1h0M117 193.4h0M114.8 193.7h0M118.4 195h0M119.3 189.3h0M115.8 193h0M122.6 193.6h0M122.5 192.3h0M114.5 191.6h0M120.7 189.3h0M117.3 188.9h0M110.3 193.2h0M117.6 191.4h0M116.9 194.7h0M109.9 193.4h0M120.9 192.9h0M117.4 191.3h0M114.3 193.8h0M115.3 195.4h0M119 189.1h0M113.7 194.1h0M115.2 191.4h0M112.7 191.4h0M110.9 194h0M114.5 192.7h0M120.6 187h0M115.3 196.4h0M121.8 197.1h0M111.4 194.6h0M123.4 195.7h0M115.3 190.3h0M113.4 194.3h0M117.6 190.4h0M119.6 184.4h0M119.9 184.8h0M119 180.8h0M119.2 183.3h0M119.4 183.5h0M118.6 180.5h0M119.8 184.7h0M119 180.9h0M119 181.4h0M120.7 180.4h0M120.1 180.7h0M120.2 180.6h0M121 200.6h0M120.6 200.3h0M119.7 199.2h0M120.2 200.1h0M118.1 196.5h0M120.9 200.4h0M120.6 200.3h0M119.8 199.5h0M121.8 202.1h0M120.6 200.3h0M121.5 201.4h0M120.7 200.4h0M121.5 201.5h0M121.1 201.4h0M119.6 199.1h0M119.7 198.7h0M119.4 199h0M118.7 198h0M118.8 198.1h0M119.6 198.6h0M117.8 196.9h0M120.7 200.8h0" stroke="#2F9CE6" stroke-width="1.0" stroke-linecap="round" fill="none"/>
<path d="M122.6 203.4h0M122.6 202.4h0M123.1 198.3h0M122.8 202.7h0M123.3 198.1h0M122.7 199.7h0M122.6 198.9h0M123 200.8h0M122.8 202.5h0M122.6 199h0M122.7 200.8h0M122.8 202.7h0M122.8 202.3h0M122.7 199.2h0M122.6 200.4h0M123.3 199.1h0M123 202.6h0M122.4 200h0M122.4 198.9h0M122.5 203.1h0M122.4 198.4h0M122.8 201.6h0M122.4 200.6h0M122.6 202.7h0M122.7 198.2h0M122.6 203.1h0M122.9 203h0M122.7 203.2h0M123.1 200.6h0M122.8 200.1h0M122.7 201.8h0M122.5 202.7h0M122.8 203.3h0M122.3 200.1h0M122.8 202.9h0M122.4 200.6h0M122.6 202.4h0M122.8 198.2h0M122.4 201.7h0M122.5 201h0M122.9 202.8h0M123.1 199.2h0M120.5 200.6h0M122.1 202.8h0M121.5 202h0M121.4 201.7h0M121.5 201.9h0M121.5 202.1h0M120.7 201.1h0M122.3 202.7h0M121.5 201.6h0M122.2 202.9h0M121.8 202.1h0" stroke="#7D84D2" stroke-width="1.0" stroke-linecap="round" fill="none"/>
<path d="M124.4 206.7h0M126.2 210.1h0M123 203.5h0M123.7 205.2h0M123.6 204.9h0M125.6 209.5h0M124.2 205.9h0M124.1 206.2h0M123.3 204.4h0M123 203.9h0M126.1 210.2h0M124 205.6h0M124.1 205.8h0M123.2 204.6h0M123.1 204.5h0M126.1 209.9h0M123.3 204.6h0M126.3 210.2h0M124.9 207.9h0M124.7 207.3h0M124 205.3h0M123.1 203.7h0" stroke="#EE5E95" stroke-width="1.0" stroke-linecap="round" fill="none"/>
<text x="22.2" y="137.5" font-size="8.3" font-weight="bold" textLength="102.6" lengthAdjust="spacingAndGlyphs"><tspan fill="#3a9be3">Skeletal</tspan> <tspan fill="#7b80cf">myogenic</tspan> <tspan fill="#ef5f97">lineage</tspan></text>
<circle cx="138.6" cy="182.5" r="2.0" fill="#2F9CE6"/>
<text x="143.0" y="184.5" font-size="5.6" fill="#222">Cluster 11</text>
<circle cx="138.6" cy="191.6" r="2.0" fill="#7D84D2"/>
<text x="143.0" y="193.6" font-size="5.6" fill="#222">Cluster 12</text>
<circle cx="138.6" cy="200.6" r="2.0" fill="#EE5E95"/>
<text x="143.0" y="202.6" font-size="5.6" fill="#222">Cluster 16</text>
<text x="254.4" y="133.2" font-size="7.3" text-anchor="middle" font-style="italic" fill="#222">PAX7</text>
<g stroke="#cdcdcd" stroke-width="1.15" fill="none">
<path d="M208.6 195.2 V158.9"/>
<path d="M214.6 195.2 V164.1"/>
<path d="M220.6 195.2 V169.2"/>
<path d="M226.7 195.2 V164.9"/>
<path d="M238.7 195.2 V177.9"/>
<path d="M250.7 195.2 V162.3"/>
<path d="M256.8 195.2 V145.0"/>
<path d="M268.8 195.2 V154.5"/>
<path d="M274.8 195.2 V166.7"/>
<path d="M286.9 195.2 V172.7"/>
<path d="M298.9 195.2 V177.9"/>
</g>
<path d="M267.2 195.2 L267.6 193.1 L268.5 190.0 L268.8 187.4 L268.9 187.4 L269.1 190.0 L270.0 193.1 L270.4 195.2 Z" fill="#2F9CE6" stroke="#555" stroke-width="0.25"/>
<path d="M209 158.9h0M207.6 164.9h0M213.7 164.1h0M214.6 167.5h0M215.5 171.8h0M220.3 169.2h0M219.7 171h0M221.4 174.4h0M221 178.8h0M225.5 164.9h0M239.2 177.9h0M237.2 184.8h0M251 162.3h0M252.3 162.3h0M256 145h0M255.2 155.4h0M255.5 162.3h0M257.2 164.9h0M256.9 172.7h0M257.2 177h0M258 177.9h0M257 184h0M268.2 166.8h0M269 171.9h0M268.4 174.1h0M267 171.1h0M267 173h0M268 179.8h0M268.2 178.4h0M269.6 171.5h0M271.4 174.5h0M266.2 158.9h0M271.1 160.6h0M267.9 176.1h0M268.6 175.1h0M271.2 170.8h0M267.8 170.7h0M269.8 179h0M267.3 176h0M268.5 172.9h0M270.4 168.7h0M266.5 165.6h0M271.3 177.7h0M267.6 168h0M270.2 178h0M266.2 162.1h0M269.8 164.3h0M268.3 169.3h0M267.8 165.1h0M267.8 178h0M270.9 169h0M266.6 158.8h0M268.6 169.1h0M270.8 176.9h0M270 175.4h0M269.7 169.8h0M266.1 167.9h0M268.5 171.4h0M270.2 184h0M266.1 178.8h0M269.3 174.2h0M267 162.4h0M270.7 171.1h0M267.2 171.6h0M267.7 174.5h0M266.9 165.3h0M269.1 162.1h0M270.2 166.2h0M269.7 172.3h0M266.9 172h0M270.7 174.8h0M271.3 179.9h0M270.5 156.2h0M269 175.8h0M269.9 169.8h0M269.4 165.3h0M266.6 172.3h0M266.2 175.1h0M266.9 173.3h0M266.1 168.6h0M267.7 179.8h0M268.4 172h0M271.4 179h0M267.1 173.4h0M269.7 174.4h0M268.2 171.1h0M270.9 169h0M271.3 178.9h0M267.8 160.6h0M267.3 166.5h0M267.2 173.4h0M266.6 168.7h0M270.9 173.3h0M269.5 165.5h0M270.5 169.7h0M269.6 166.3h0M268.5 178.8h0M270.1 173.7h0M267.4 165.8h0M270.7 182.8h0M269 186.2h0M266.5 185h0M267.3 174.7h0M269.3 162.9h0M269.3 181.8h0M270.9 179.1h0M270.2 170h0M268.7 181.1h0M266.5 172.7h0M267.4 169.4h0M266.1 171.9h0M270.4 165.7h0M270.7 169.4h0M266.3 181h0M267.6 172.6h0M269.1 178.1h0M270 163.8h0M268.6 160.3h0M267.8 173.1h0M270.1 179.6h0M266.8 163.8h0M269.6 168.1h0M266.6 181.6h0M266.8 176.8h0M270.3 173.6h0M268.2 167.3h0M269.6 165.6h0M269 166.3h0M268.5 161.1h0M267 183.3h0M270.4 178.7h0M268 171.8h0M266.5 170.1h0M269.2 181.8h0M269.5 164.8h0M268.1 174.8h0M270.5 165h0M269.1 180.6h0M270.7 166h0M267.6 171.9h0M266.1 162.5h0M269.3 168h0M268.1 178.1h0M270.3 177.3h0M269.2 175.2h0M270.9 178.6h0M270.7 164h0M275 166.7h0M274.3 167.5h0M276.2 175.3h0M274 177h0M275.1 178.8h0M276 184h0M273.2 177.9h0M287.3 172.7h0M286.3 179.6h0M299.2 177.9h0" stroke="#141414" stroke-width="1.56" stroke-linecap="round" fill="none"/>
<path d="M205.5 141.3 V197.0" stroke="#333" stroke-width="0.6" fill="none"/>
<path d="M207.0 195.0 H301.0" stroke="#262626" stroke-width="1.7" stroke-linecap="round" fill="none"/>
<path d="M205.5 197.0 H302.0" stroke="#444" stroke-width="0.5" fill="none"/>
<path d="M203.9 195.2 H205.5" stroke="#333" stroke-width="0.5"/>
<text x="202.9" y="197.5" font-size="6.4" text-anchor="end" fill="#333">0</text>
<path d="M203.9 177.9 H205.5" stroke="#333" stroke-width="0.5"/>
<text x="202.9" y="180.2" font-size="6.4" text-anchor="end" fill="#333">1</text>
<path d="M203.9 160.6 H205.5" stroke="#333" stroke-width="0.5"/>
<text x="202.9" y="162.9" font-size="6.4" text-anchor="end" fill="#333">2</text>
<path d="M203.9 143.3 H205.5" stroke="#333" stroke-width="0.5"/>
<text x="202.9" y="145.6" font-size="6.4" text-anchor="end" fill="#333">3</text>
<path d="M208.6 197.0 V198.6" stroke="#333" stroke-width="0.45"/>
<text x="0.0" y="0.0" font-size="6.3" text-anchor="end" fill="#333" transform="translate(212.3 203.6) rotate(-45)">1</text>
<path d="M214.6 197.0 V198.6" stroke="#333" stroke-width="0.45"/>
<text x="0.0" y="0.0" font-size="6.3" text-anchor="end" fill="#333" transform="translate(218.3 203.6) rotate(-45)">2</text>
<path d="M220.6 197.0 V198.6" stroke="#333" stroke-width="0.45"/>
<text x="0.0" y="0.0" font-size="6.3" text-anchor="end" fill="#333" transform="translate(224.3 203.6) rotate(-45)">3</text>
<path d="M226.7 197.0 V198.6" stroke="#333" stroke-width="0.45"/>
<text x="0.0" y="0.0" font-size="6.3" text-anchor="end" fill="#333" transform="translate(230.4 203.6) rotate(-45)">4</text>
<path d="M232.7 197.0 V198.6" stroke="#333" stroke-width="0.45"/>
<text x="0.0" y="0.0" font-size="6.3" text-anchor="end" fill="#333" transform="translate(236.4 203.6) rotate(-45)">5</text>
<path d="M238.7 197.0 V198.6" stroke="#333" stroke-width="0.45"/>
<text x="0.0" y="0.0" font-size="6.3" text-anchor="end" fill="#333" transform="translate(242.4 203.6) rotate(-45)">6</text>
<path d="M244.7 197.0 V198.6" stroke="#333" stroke-width="0.45"/>
<text x="0.0" y="0.0" font-size="6.3" text-anchor="end" fill="#333" transform="translate(248.4 203.6) rotate(-45)">7</text>
<path d="M250.7 197.0 V198.6" stroke="#333" stroke-width="0.45"/>
<text x="0.0" y="0.0" font-size="6.3" text-anchor="end" fill="#333" transform="translate(254.4 203.6) rotate(-45)">8</text>
<path d="M256.8 197.0 V198.6" stroke="#333" stroke-width="0.45"/>
<text x="0.0" y="0.0" font-size="6.3" text-anchor="end" fill="#333" transform="translate(260.5 203.6) rotate(-45)">9</text>
<path d="M262.8 197.0 V198.6" stroke="#333" stroke-width="0.45"/>
<text x="0.0" y="0.0" font-size="6.3" text-anchor="end" fill="#333" transform="translate(266.5 203.6) rotate(-45)">10</text>
<path d="M268.8 197.0 V198.6" stroke="#333" stroke-width="0.45"/>
<text x="0.0" y="0.0" font-size="6.3" text-anchor="end" fill="#333" transform="translate(272.5 203.6) rotate(-45)">11</text>
<path d="M274.8 197.0 V198.6" stroke="#333" stroke-width="0.45"/>
<text x="0.0" y="0.0" font-size="6.3" text-anchor="end" fill="#333" transform="translate(278.5 203.6) rotate(-45)">12</text>
<path d="M280.8 197.0 V198.6" stroke="#333" stroke-width="0.45"/>
<text x="0.0" y="0.0" font-size="6.3" text-anchor="end" fill="#333" transform="translate(284.5 203.6) rotate(-45)">13</text>
<path d="M286.9 197.0 V198.6" stroke="#333" stroke-width="0.45"/>
<text x="0.0" y="0.0" font-size="6.3" text-anchor="end" fill="#333" transform="translate(290.6 203.6) rotate(-45)">14</text>
<path d="M292.9 197.0 V198.6" stroke="#333" stroke-width="0.45"/>
<text x="0.0" y="0.0" font-size="6.3" text-anchor="end" fill="#333" transform="translate(296.6 203.6) rotate(-45)">15</text>
<path d="M298.9 197.0 V198.6" stroke="#333" stroke-width="0.45"/>
<text x="0.0" y="0.0" font-size="6.3" text-anchor="end" fill="#333" transform="translate(302.6 203.6) rotate(-45)">16</text>
<text x="0.0" y="0.0" font-size="7.4" text-anchor="middle" fill="#333" transform="translate(195.8 170.3) rotate(-90)">Expression Level</text>
<text x="254.4" y="218.3" font-size="7" text-anchor="middle" fill="#222">Cluster</text>
<text x="373.7" y="133.2" font-size="7.3" text-anchor="middle" font-style="italic" fill="#222">MYOD1</text>
<g stroke="#cdcdcd" stroke-width="1.15" fill="none">
<path d="M328.6 195.3 V172.8"/>
<path d="M334.6 195.3 V172.1"/>
<path d="M340.7 195.3 V177.3"/>
<path d="M346.7 195.3 V169.1"/>
<path d="M352.7 195.3 V171.3"/>
<path d="M358.8 195.3 V165.3"/>
<path d="M364.8 195.3 V163.1"/>
<path d="M376.8 195.3 V158.6"/>
<path d="M388.9 195.3 V160.8"/>
</g>
<path d="M393.7 195.3 L393.3 190.8 L392.8 184.8 L392.2 177.3 L392.2 168.3 L393.0 160.8 L394.0 154.8 L394.6 144.3 L395.3 144.3 L395.8 154.8 L396.8 160.8 L397.6 168.3 L397.6 177.3 L397.0 184.8 L396.5 190.8 L396.1 195.3 Z" fill="#8388d6" stroke="#555" stroke-width="0.25"/>
<path d="M416.7 195.3 L417.2 191.6 L417.9 186.3 L418.2 175.8 L418.4 165.3 L418.9 153.3 L419.2 153.3 L419.8 165.3 L419.9 175.8 L420.2 186.3 L420.9 191.6 L421.4 195.3 Z" fill="#ee5f97" stroke="#555" stroke-width="0.25"/>
<path d="M328.2 172.8h0M334.3 172.1h0M340.1 177.3h0M341.2 177.3h0M343.3 178.1h0M346.4 169.1h0M352.3 171.3h0M359.1 165.3h0M365.3 163.1h0M362.6 179.6h0M366 177.3h0M376.3 158.6h0M390.1 168.3h0M389.3 177.9h0M388.5 177.3h0M390.6 170.1h0M391.3 175.7h0M387.2 181.7h0M387.7 169.8h0M389.9 181.6h0M389.3 176.2h0M387.3 167.2h0M386.8 170.9h0M387.7 175.1h0M388.4 177.5h0M389.3 162.3h0M390.5 166.3h0M388.4 176.3h0M390.7 170.5h0M391.4 172.6h0M386.3 178.5h0M389.7 174.7h0M390.6 177.5h0M391.3 169.2h0M387.9 180.1h0M390.4 169.6h0M386.2 173.6h0M389.7 168.3h0M388 176.3h0M388.6 167.7h0M390.1 176.1h0M390.3 165.3h0M389.3 171.3h0M387.2 172.7h0M387.3 168.5h0M390.3 178.6h0M387.2 168.6h0M387.1 168h0M389.4 173.4h0M390.5 168.9h0M390.1 171.9h0M386.2 185.3h0M389.5 164.3h0M386.4 167.7h0M391.4 177.3h0M387.6 179.4h0M388.5 173h0M387.9 177.9h0M390.5 176.2h0M388 163.2h0M389.4 177h0M389.6 169h0M390.5 174.6h0M387.1 168.6h0M386.5 179.5h0M386.3 170.8h0M390.8 175.5h0M386.6 175.7h0M387.8 171.5h0M388.2 172.2h0M391.5 170.1h0M391.5 170.7h0M390.7 169h0M387.5 175.8h0M388 172.9h0M390.5 172.5h0M389.7 170.8h0M390.6 180.1h0M389.5 166.9h0M391.3 164.1h0M387.5 177.2h0M388.2 173.4h0M387.6 166.7h0M387.8 171.5h0M389.3 173.3h0M389.2 169h0M390.9 166.2h0M389.8 162.8h0M386.9 173.8h0M391.4 168h0M387.4 179.3h0M386.3 171.6h0M390.4 171.2h0M387.1 168.4h0M390.9 180.2h0M387.4 171.8h0M389.4 171.1h0M390.5 170.6h0M389.3 173.4h0M386.4 175.1h0M388.4 169.9h0M386.4 185h0M388.6 179.2h0M387.9 172.2h0M388.9 168.5h0M386.8 176.1h0M386.5 169.7h0M387.5 177.4h0M389.4 172.9h0M390.1 177.1h0M387.1 171.3h0M387.8 171.4h0M396.2 171h0M393.3 174.3h0M397.3 173.6h0M394.9 165.7h0M394.6 171h0M396.8 169.6h0M394.8 178.2h0M392.6 176.9h0M396.8 163.2h0M392.6 183h0M393.3 174.1h0M395.6 169.9h0M396.3 163.8h0M396 165h0M396.2 171.8h0M395.9 170.4h0M396.6 172.1h0M393 170.8h0M394 164.1h0M392.7 165.8h0M396.1 169.8h0M393.3 172h0M394.8 169.9h0M393.8 164.7h0M394 174.9h0M392.5 180.7h0M395.4 160.8h0M394.8 165.5h0M396.6 161.5h0M395.8 169.8h0M395.2 177.2h0M393.9 173.1h0M395.7 178.2h0M393 168.1h0M396.7 173.2h0M397.3 174.6h0M393.6 179.6h0M392.8 176.9h0M392.5 168.7h0M394.3 182.4h0M394.3 170.6h0M397.4 172.6h0M393.4 167.8h0M395 171.8h0M394.6 169.9h0M397.4 180.1h0M397.1 173.4h0M395.8 177.9h0M397.1 165.2h0M392.8 163.6h0M394.5 164.5h0M395.5 180.4h0M397.1 174.1h0M394.6 159.9h0M394.7 163.7h0M393 169.7h0M392.6 158.7h0M396.4 183.9h0M394.7 179.2h0M394.7 168h0M393.3 177.9h0M395.5 163.9h0M396.1 174.1h0M395.5 167.3h0M395.4 183.1h0M396.3 176.5h0M395.2 165h0M392.5 164.9h0M392.8 179h0M397.2 159.4h0M395.8 166h0M393.3 173.8h0M395.7 164.6h0M395.1 161.4h0M392.6 169.3h0M396.7 173.8h0M393.2 180.2h0M396.5 157.4h0M392.7 178.7h0M392.8 172.1h0M396 172.8h0M395.1 168.3h0M393.7 166.1h0M397.2 181.7h0M394.7 177.2h0M393.3 166.4h0M395.4 162.6h0M396.4 170.3h0M397.3 177.2h0M395.6 166.1h0M396.7 169.2h0M392.5 180.4h0M396.7 179.9h0M397.3 172.4h0M392.8 161.8h0M395.9 164.6h0M393.3 171.6h0M395.3 163.5h0M393.1 170.7h0M394.7 160.2h0M393.5 174.8h0M393.8 166.6h0M396.5 172.5h0M395.6 174.5h0M394.6 171.3h0M394.6 172h0M396.6 168.9h0M396.7 173.2h0M395.5 172.5h0M393.6 161.3h0M394.8 169.4h0M393 175.9h0M396.5 161.7h0M396.5 166.7h0M396.9 165.2h0M397 161.7h0M395.2 164.8h0M395 160.4h0M396.6 173.7h0M396.5 168.4h0M394.4 144.3h0M395.2 145.8h0M394 145.8h0M418.9 162.9h0M418.2 175.1h0M419.3 170.2h0M419.6 165.3h0M419.4 179.4h0M419 165.5h0M418.8 161.1h0M419.4 187.5h0M419.6 176.5h0M419.7 175h0M419.8 175.3h0M418.1 166.5h0M418.3 173h0M419.9 187.3h0M418.4 183.7h0M419.3 167.2h0M419.2 165.4h0M419.1 185.6h0M418.5 172.1h0M418.3 180.4h0M419.8 172.8h0M419.6 169h0" stroke="#141414" stroke-width="1.56" stroke-linecap="round" fill="none"/>
<path d="M325.7 141.3 V197.1" stroke="#333" stroke-width="0.6" fill="none"/>
<path d="M327.2 195.1 H424.0" stroke="#262626" stroke-width="1.7" stroke-linecap="round" fill="none"/>
<path d="M325.7 197.1 H425.0" stroke="#444" stroke-width="0.5" fill="none"/>
<path d="M324.1 195.3 H325.7" stroke="#333" stroke-width="0.5"/>
<text x="323.1" y="197.6" font-size="6.4" text-anchor="end" fill="#333">0</text>
<path d="M324.1 180.3 H325.7" stroke="#333" stroke-width="0.5"/>
<text x="323.1" y="182.6" font-size="6.4" text-anchor="end" fill="#333">1</text>
<path d="M324.1 165.3 H325.7" stroke="#333" stroke-width="0.5"/>
<text x="323.1" y="167.6" font-size="6.4" text-anchor="end" fill="#333">2</text>
<path d="M324.1 150.3 H325.7" stroke="#333" stroke-width="0.5"/>
<text x="323.1" y="152.6" font-size="6.4" text-anchor="end" fill="#333">3</text>
<path d="M328.6 197.1 V198.7" stroke="#333" stroke-width="0.45"/>
<text x="0.0" y="0.0" font-size="6.3" text-anchor="end" fill="#333" transform="translate(332.3 203.7) rotate(-45)">1</text>
<path d="M334.6 197.1 V198.7" stroke="#333" stroke-width="0.45"/>
<text x="0.0" y="0.0" font-size="6.3" text-anchor="end" fill="#333" transform="translate(338.3 203.7) rotate(-45)">2</text>
<path d="M340.7 197.1 V198.7" stroke="#333" stroke-width="0.45"/>
<text x="0.0" y="0.0" font-size="6.3" text-anchor="end" fill="#333" transform="translate(344.4 203.7) rotate(-45)">3</text>
<path d="M346.7 197.1 V198.7" stroke="#333" stroke-width="0.45"/>
<text x="0.0" y="0.0" font-size="6.3" text-anchor="end" fill="#333" transform="translate(350.4 203.7) rotate(-45)">4</text>
<path d="M352.7 197.1 V198.7" stroke="#333" stroke-width="0.45"/>
<text x="0.0" y="0.0" font-size="6.3" text-anchor="end" fill="#333" transform="translate(356.4 203.7) rotate(-45)">5</text>
<path d="M358.8 197.1 V198.7" stroke="#333" stroke-width="0.45"/>
<text x="0.0" y="0.0" font-size="6.3" text-anchor="end" fill="#333" transform="translate(362.4 203.7) rotate(-45)">6</text>
<path d="M364.8 197.1 V198.7" stroke="#333" stroke-width="0.45"/>
<text x="0.0" y="0.0" font-size="6.3" text-anchor="end" fill="#333" transform="translate(368.5 203.7) rotate(-45)">7</text>
<path d="M370.8 197.1 V198.7" stroke="#333" stroke-width="0.45"/>
<text x="0.0" y="0.0" font-size="6.3" text-anchor="end" fill="#333" transform="translate(374.5 203.7) rotate(-45)">8</text>
<path d="M376.8 197.1 V198.7" stroke="#333" stroke-width="0.45"/>
<text x="0.0" y="0.0" font-size="6.3" text-anchor="end" fill="#333" transform="translate(380.5 203.7) rotate(-45)">9</text>
<path d="M382.9 197.1 V198.7" stroke="#333" stroke-width="0.45"/>
<text x="0.0" y="0.0" font-size="6.3" text-anchor="end" fill="#333" transform="translate(386.6 203.7) rotate(-45)">10</text>
<path d="M388.9 197.1 V198.7" stroke="#333" stroke-width="0.45"/>
<text x="0.0" y="0.0" font-size="6.3" text-anchor="end" fill="#333" transform="translate(392.6 203.7) rotate(-45)">11</text>
<path d="M394.9 197.1 V198.7" stroke="#333" stroke-width="0.45"/>
<text x="0.0" y="0.0" font-size="6.3" text-anchor="end" fill="#333" transform="translate(398.6 203.7) rotate(-45)">12</text>
<path d="M401.0 197.1 V198.7" stroke="#333" stroke-width="0.45"/>
<text x="0.0" y="0.0" font-size="6.3" text-anchor="end" fill="#333" transform="translate(404.7 203.7) rotate(-45)">13</text>
<path d="M407.0 197.1 V198.7" stroke="#333" stroke-width="0.45"/>
<text x="0.0" y="0.0" font-size="6.3" text-anchor="end" fill="#333" transform="translate(410.7 203.7) rotate(-45)">14</text>
<path d="M413.0 197.1 V198.7" stroke="#333" stroke-width="0.45"/>
<text x="0.0" y="0.0" font-size="6.3" text-anchor="end" fill="#333" transform="translate(416.7 203.7) rotate(-45)">15</text>
<path d="M419.1 197.1 V198.7" stroke="#333" stroke-width="0.45"/>
<text x="0.0" y="0.0" font-size="6.3" text-anchor="end" fill="#333" transform="translate(422.8 203.7) rotate(-45)">16</text>
<text x="0.0" y="0.0" font-size="7.4" text-anchor="middle" fill="#333" transform="translate(315.6 170.3) rotate(-90)">Expression Level</text>
<text x="373.7" y="218.3" font-size="7" text-anchor="middle" fill="#222">Cluster</text>
<text x="495.2" y="133.2" font-size="7.3" text-anchor="middle" font-style="italic" fill="#222">MYOG</text>
<g stroke="#cdcdcd" stroke-width="1.15" fill="none">
<path d="M448.4 195.3 V167.5"/>
<path d="M454.4 195.3 V174.5"/>
<path d="M460.5 195.3 V166.1"/>
<path d="M466.5 195.3 V163.3"/>
<path d="M472.5 195.3 V166.1"/>
<path d="M478.5 195.3 V155.7"/>
<path d="M484.6 195.3 V177.2"/>
<path d="M496.6 195.3 V159.2"/>
<path d="M508.7 195.3 V162.6"/>
</g>
<path d="M514.1 195.3 L514.0 185.6 L513.2 181.4 L512.5 174.5 L512.2 164.7 L512.7 156.4 L513.7 150.8 L514.3 145.3 L515.1 145.3 L515.7 150.8 L516.7 156.4 L517.2 164.7 L516.9 174.5 L516.2 181.4 L515.4 185.6 L515.3 195.3 Z" fill="#8388d6" stroke="#555" stroke-width="0.25"/>
<path d="M538.0 195.3 L538.0 184.2 L537.4 178.6 L536.5 170.3 L536.6 160.6 L538.1 153.6 L539.6 153.6 L541.1 160.6 L541.2 170.3 L540.4 178.6 L539.8 184.2 L539.8 195.3 Z" fill="#ee5f97" stroke="#555" stroke-width="0.25"/>
<path d="M447.9 167.5h0M449 179.3h0M454.7 174.5h0M459.5 168.2h0M461.7 166.1h0M462.1 169.6h0M460.1 177.2h0M461.1 178.6h0M464.9 163.3h0M466.8 164.7h0M473.3 166.1h0M471.8 176.5h0M479.3 155.7h0M479.2 163.3h0M477.3 168.2h0M485 177.2h0M497.1 159.2h0M494.4 177.2h0M509.1 169.1h0M509.4 174.5h0M510.8 166.8h0M507.1 174.4h0M510 170.9h0M506.4 177.7h0M510.9 175.7h0M507 173.5h0M508.3 177.6h0M507.6 163.1h0M508.5 168h0M506.5 173h0M506.2 170.1h0M508.9 170.1h0M507.5 178.5h0M508.4 182.3h0M506.7 173.2h0M509.7 165.9h0M508.5 175.1h0M507.7 170.4h0M511.4 180.5h0M510.2 178.1h0M508.4 170.1h0M510.6 177.4h0M508.5 178.4h0M506 173.2h0M512.7 167.7h0M515.3 153h0M517 169.3h0M515.9 167.5h0M514 170h0M515 167.8h0M515.6 173.3h0M516.5 167.5h0M516.2 173h0M516.2 157.2h0M512.5 167.3h0M515.9 172.9h0M514.7 179.2h0M516.4 173.9h0M514.5 158.2h0M515.9 179h0M516.9 160.4h0M513.5 165.5h0M515.9 163.3h0M514.9 155.6h0M514.6 178.6h0M514.9 171.3h0M513.2 176.8h0M515.2 165.4h0M513.4 168.1h0M513.1 170.4h0M513.2 167.2h0M516.3 163.8h0M513 162h0M514.3 167.9h0M512.5 166.4h0M515.5 166.9h0M512.5 157.2h0M515.3 170.5h0M513.8 166.8h0M513.3 170.5h0M515.6 167h0M516.8 175.3h0M516.4 158.4h0M514.3 158.7h0M515.4 175.9h0M515.9 175.5h0M516.6 159.9h0M515.6 168.4h0M512.5 176.9h0M513.9 181.5h0M515.7 176.8h0M514 160.9h0M514.5 169.7h0M513.5 177.4h0M513.9 158h0M514.8 157.6h0M513.4 165.7h0M515.2 166.6h0M512.5 173.2h0M512.5 180.3h0M516.8 159.6h0M517 160.5h0M515.9 175.8h0M516.1 169.4h0M512.5 159.9h0M515.9 169.8h0M515.8 160.2h0M516.5 177.3h0M515.6 168.5h0M513.7 166.1h0M515.9 170.2h0M513.2 167.3h0M514.9 160.2h0M513 165.3h0M514.9 160.3h0M516.9 169.6h0M513.1 158.2h0M514.9 175.4h0M516.1 155.2h0M512.9 156.5h0M514.5 155.4h0M514.7 166.3h0M516.3 155.1h0M513.7 159.8h0M514.4 176.3h0M516.1 160.4h0M513.5 173h0M515.6 175.3h0M516.1 167.1h0M513.6 164.3h0M516.6 171.9h0M512.6 167.9h0M515.4 176.6h0M515.8 162.7h0M513.8 160.5h0M516.1 175.2h0M514.7 163h0M513.3 161.6h0M515.2 158.9h0M513.7 173.6h0M515.3 164.8h0M515.6 171.9h0M513.2 160.8h0M512.7 172.6h0M516.7 152.7h0M516.1 165.1h0M512.5 167.4h0M512.6 171.4h0M513.4 161h0M512.6 170.8h0M515.1 156.4h0M516.6 171h0M513.8 171.1h0M514.8 158.1h0M516.3 154.7h0M513.7 174.6h0M512.9 164.8h0M513.6 165.6h0M514 173.6h0M514.4 153.6h0M512.5 170.7h0M516 176.8h0M517 164.3h0M512.6 168.3h0M514.9 168.1h0M516 166.3h0M513.1 171.6h0M513.1 164.7h0M515.5 162.7h0M513.4 166.3h0M516 174.5h0M516 177.9h0M515.2 172.8h0M513.5 156.1h0M515.4 163.5h0M515.4 172.5h0M516.8 163.5h0M516.1 168.3h0M515.9 171.7h0M516 163.7h0M513.1 169.7h0M514.1 175.7h0M513.9 174.6h0M515.4 154.5h0M514 173.2h0M516.5 166.6h0M514.7 167.1h0M515.5 168.7h0M513.3 177.3h0M514 167.6h0M517 177.8h0M516.7 170.8h0M515.3 172.6h0M513.7 176.5h0M514.2 145.3h0M515.2 146.7h0M513.7 149.4h0M541 170.6h0M541 168.7h0M540.9 166.4h0M537.4 170.6h0M538.4 162.7h0M539.6 158.9h0M538.8 173h0M537.5 168.2h0M538.2 176.7h0M537 171.4h0M539.6 171.4h0M536.8 180.3h0M537.1 175.3h0M539 167.1h0M540.6 166h0M539.6 159.2h0M538.9 175.1h0M540.6 161h0M537.7 165.1h0M538.7 158.8h0M539.5 162.1h0M538.5 167.9h0M538.1 168.1h0M540.6 164h0M537.9 158.5h0M539.5 167.9h0M539.1 166.7h0M537.9 159.3h0M540.6 173.3h0M540.2 163.9h0M537.3 171.8h0M537.4 168.8h0M540.3 166h0M537.1 176.3h0M540.7 165.2h0M537.2 163.6h0M539.5 166h0M539.1 170.1h0M539.6 164.4h0M537.1 166.8h0M539.4 176.5h0M539.3 167.3h0M538.7 160.5h0M540.1 168.9h0M537.8 171.6h0M536.7 162.8h0M538.5 165.4h0M536.9 169.6h0M537.3 155.1h0M539.6 167.8h0M539.9 164h0M541 170.5h0M537.4 164.5h0M538 172.9h0M537.8 169.3h0M537.8 169.7h0M539.1 172.3h0M537.9 180.2h0M539.3 176.7h0M539.8 180.2h0M537 172.8h0M538.5 171.1h0M538.8 164.5h0M536.9 168.6h0M536.8 166.4h0M538 163.1h0M540.9 165.4h0M536.8 173h0M540.3 163.9h0M540 167h0M540.2 159.4h0M537.1 164.7h0M538.3 156.3h0M537 174.1h0M536.8 165.6h0M540 161.7h0M540.4 168h0M540.2 167.7h0M537.3 160.8h0M540.9 173.2h0M540.3 167.9h0M539.4 170.4h0M536.8 161.6h0M540.2 160.4h0M540.2 158.6h0" stroke="#141414" stroke-width="1.56" stroke-linecap="round" fill="none"/>
<path d="M445.5 141.3 V197.1" stroke="#333" stroke-width="0.6" fill="none"/>
<path d="M447.0 195.1 H543.0" stroke="#262626" stroke-width="1.7" stroke-linecap="round" fill="none"/>
<path d="M445.5 197.1 H544.0" stroke="#444" stroke-width="0.5" fill="none"/>
<path d="M443.9 195.3 H445.5" stroke="#333" stroke-width="0.5"/>
<text x="442.9" y="197.6" font-size="6.4" text-anchor="end" fill="#333">0</text>
<path d="M443.9 181.4 H445.5" stroke="#333" stroke-width="0.5"/>
<text x="442.9" y="183.7" font-size="6.4" text-anchor="end" fill="#333">1</text>
<path d="M443.9 167.5 H445.5" stroke="#333" stroke-width="0.5"/>
<text x="442.9" y="169.8" font-size="6.4" text-anchor="end" fill="#333">2</text>
<path d="M443.9 153.6 H445.5" stroke="#333" stroke-width="0.5"/>
<text x="442.9" y="155.9" font-size="6.4" text-anchor="end" fill="#333">3</text>
<path d="M448.4 197.1 V198.7" stroke="#333" stroke-width="0.45"/>
<text x="0.0" y="0.0" font-size="6.3" text-anchor="end" fill="#333" transform="translate(452.1 203.7) rotate(-45)">1</text>
<path d="M454.4 197.1 V198.7" stroke="#333" stroke-width="0.45"/>
<text x="0.0" y="0.0" font-size="6.3" text-anchor="end" fill="#333" transform="translate(458.1 203.7) rotate(-45)">2</text>
<path d="M460.5 197.1 V198.7" stroke="#333" stroke-width="0.45"/>
<text x="0.0" y="0.0" font-size="6.3" text-anchor="end" fill="#333" transform="translate(464.2 203.7) rotate(-45)">3</text>
<path d="M466.5 197.1 V198.7" stroke="#333" stroke-width="0.45"/>
<text x="0.0" y="0.0" font-size="6.3" text-anchor="end" fill="#333" transform="translate(470.2 203.7) rotate(-45)">4</text>
<path d="M472.5 197.1 V198.7" stroke="#333" stroke-width="0.45"/>
<text x="0.0" y="0.0" font-size="6.3" text-anchor="end" fill="#333" transform="translate(476.2 203.7) rotate(-45)">5</text>
<path d="M478.5 197.1 V198.7" stroke="#333" stroke-width="0.45"/>
<text x="0.0" y="0.0" font-size="6.3" text-anchor="end" fill="#333" transform="translate(482.2 203.7) rotate(-45)">6</text>
<path d="M484.6 197.1 V198.7" stroke="#333" stroke-width="0.45"/>
<text x="0.0" y="0.0" font-size="6.3" text-anchor="end" fill="#333" transform="translate(488.3 203.7) rotate(-45)">7</text>
<path d="M490.6 197.1 V198.7" stroke="#333" stroke-width="0.45"/>
<text x="0.0" y="0.0" font-size="6.3" text-anchor="end" fill="#333" transform="translate(494.3 203.7) rotate(-45)">8</text>
<path d="M496.6 197.1 V198.7" stroke="#333" stroke-width="0.45"/>
<text x="0.0" y="0.0" font-size="6.3" text-anchor="end" fill="#333" transform="translate(500.3 203.7) rotate(-45)">9</text>
<path d="M502.7 197.1 V198.7" stroke="#333" stroke-width="0.45"/>
<text x="0.0" y="0.0" font-size="6.3" text-anchor="end" fill="#333" transform="translate(506.4 203.7) rotate(-45)">10</text>
<path d="M508.7 197.1 V198.7" stroke="#333" stroke-width="0.45"/>
<text x="0.0" y="0.0" font-size="6.3" text-anchor="end" fill="#333" transform="translate(512.4 203.7) rotate(-45)">11</text>
<path d="M514.7 197.1 V198.7" stroke="#333" stroke-width="0.45"/>
<text x="0.0" y="0.0" font-size="6.3" text-anchor="end" fill="#333" transform="translate(518.4 203.7) rotate(-45)">12</text>
<path d="M520.8 197.1 V198.7" stroke="#333" stroke-width="0.45"/>
<text x="0.0" y="0.0" font-size="6.3" text-anchor="end" fill="#333" transform="translate(524.5 203.7) rotate(-45)">13</text>
<path d="M526.8 197.1 V198.7" stroke="#333" stroke-width="0.45"/>
<text x="0.0" y="0.0" font-size="6.3" text-anchor="end" fill="#333" transform="translate(530.5 203.7) rotate(-45)">14</text>
<path d="M532.8 197.1 V198.7" stroke="#333" stroke-width="0.45"/>
<text x="0.0" y="0.0" font-size="6.3" text-anchor="end" fill="#333" transform="translate(536.5 203.7) rotate(-45)">15</text>
<path d="M538.9 197.1 V198.7" stroke="#333" stroke-width="0.45"/>
<text x="0.0" y="0.0" font-size="6.3" text-anchor="end" fill="#333" transform="translate(542.6 203.7) rotate(-45)">16</text>
<text x="0.0" y="0.0" font-size="7.4" text-anchor="middle" fill="#333" transform="translate(435.2 170.3) rotate(-90)">Expression Level</text>
<text x="495.2" y="218.3" font-size="7" text-anchor="middle" fill="#222">Cluster</text>
<defs><filter id="hb" x="-2%" y="-2%" width="104%" height="104%"><feGaussianBlur stdDeviation="0.3 0.12"/></filter>
<clipPath id="hc0"><rect x="48.8" y="257.0" width="136.0" height="122.4"/></clipPath>
<clipPath id="hc1"><rect x="186.4" y="257.0" width="52.9" height="122.4"/></clipPath>
<clipPath id="hc2"><rect x="240.9" y="257.0" width="20.5" height="122.4"/></clipPath>
</defs>
<g clip-path="url(#hc0)"><g filter="url(#hb)">
<rect x="46.8" y="255.0" width="140.0" height="126" fill="#2c282d"/>
<path d="M48.8 259.04h0.7M52.2 259.04h1.4M56.3 259.04h0.7M57.6 259.04h0.7M71.2 259.04h0.7M80.8 259.04h0.7M82.1 259.04h0.7M86.2 259.04h0.7M93 259.04h1.4M103.9 259.04h1.4M105.9 259.04h0.7M109.3 259.04h0.7M110.7 259.04h0.7M112.7 259.04h1.4M119.5 259.04h0.7M120.9 259.04h0.7M122.9 259.04h0.7M127 259.04h0.7M128.4 259.04h0.7M133.1 259.04h0.7M135.2 259.04h0.7M136.5 259.04h0.7M137.9 259.04h0.7M141.3 259.04h0.7M143.3 259.04h0.7M146 259.04h0.7M148.8 259.04h0.7M150.8 259.04h0.7M152.8 259.04h0.7M154.9 259.04h0.7M167.1 259.04h1.4M169.2 259.04h0.7M170.5 259.04h0.7M173.9 259.04h0.7M178.7 259.04h0.7M180.7 259.04h0.7M183.4 259.04h0.7M56.3 299.84h0.7M63.8 299.84h0.7M65.1 299.84h0.7M72.6 299.84h0.7M75.3 299.84h0.7M78.7 299.84h0.7M88.2 299.84h0.7M101.8 299.84h0.7M103.2 299.84h0.7M107.3 299.84h0.7M116.1 299.84h0.7M122.9 299.84h0.7M127.7 299.84h0.7M131.8 299.84h0.7M141.3 299.84h0.7M146 299.84h0.7M154.2 299.84h0.7M159.6 299.84h0.7M171.9 299.84h1.4M178 299.84h2M71.2 303.92h0.7M141.3 303.92h0.7M92.3 308.00h0.7M122.9 308.00h0.7M144 308.00h0.7M156.9 308.00h0.7M161 308.00h0.7M165.8 308.00h0.7M56.3 312.08h0.7M125.6 312.08h0.7M133.1 312.08h0.7M158.3 312.08h0.7M74.6 316.16h0.7M76.7 316.16h0.7M78.7 316.16h0.7M80.1 316.16h0.7M120.9 316.16h0.7M135.8 316.16h0.7M142.6 316.16h0.7M156.2 316.16h0.7M165.1 316.16h0.7M84.8 320.24h0.7M91.6 320.24h0.7M100.5 320.24h0.7M143.3 320.24h0.7M151.5 320.24h0.7M163.7 320.24h1.4M168.5 320.24h0.7M63.8 324.32h0.7M60.4 328.40h1.4M70.6 328.40h0.7M82.1 328.40h0.7M93.7 328.40h0.7M95 328.40h1.4M117.5 328.40h0.7M119.5 328.40h0.7M124.3 328.40h1.4M130.4 328.40h0.7M146.7 328.40h2M161.7 328.40h0.7M163 328.40h0.7M171.2 328.40h0.7M175.3 328.40h0.7M177.3 328.40h0.7M180.7 328.40h0.7M50.2 332.48h0.7M131.8 332.48h0.7M149.4 332.48h0.7M165.8 332.48h0.7M171.2 332.48h0.7M48.8 336.56h0.7M52.9 336.56h0.7M56.3 336.56h0.7M72.6 336.56h0.7M78.7 336.56h1.4M81.4 336.56h1.4M86.9 336.56h0.7M91 336.56h0.7M94.4 336.56h0.7M97.8 336.56h0.7M100.5 336.56h0.7M103.2 336.56h0.7M108.6 336.56h0.7M118.2 336.56h0.7M127 336.56h0.7M131.1 336.56h0.7M132.4 336.56h0.7M133.8 336.56h1.4M139.9 336.56h0.7M149.4 336.56h0.7M155.6 336.56h0.7M169.2 336.56h0.7M176.6 336.56h0.7M184.1 336.56h0.7M101.8 340.64h0.7M131.8 344.72h0.7M149.4 344.72h0.7M154.2 344.72h0.7M180.7 344.72h0.7M95.7 348.80h0.7M125 348.80h0.7M138.6 348.80h0.7M164.4 348.80h0.7M64.4 352.88h0.7M124.3 352.88h0.7M129.7 352.88h0.7M163.7 352.88h0.7M167.8 352.88h0.7M178.7 352.88h0.7M84.2 356.96h0.7M122.9 356.96h0.7M125 356.96h0.7M133.8 356.96h0.7M135.2 356.96h0.7M117.5 361.04h0.7M181.4 361.04h0.7M59.7 365.12h0.7M71.9 365.12h0.7M133.1 365.12h0.7M93 369.20h0.7M134.5 369.20h0.7M152.8 369.20h0.7M162.4 369.20h0.7M171.9 369.20h0.7M103.9 377.36h0.7" stroke="#f4ec3a" stroke-width="4.13" fill="none"/>
<path d="M50.2 259.04h0.7M54.2 259.04h0.7M55.6 259.04h0.7M57 259.04h0.7M59 259.04h2M63.1 259.04h1.4M65.1 259.04h0.7M67.2 259.04h0.7M69.2 259.04h1.4M72.6 259.04h0.7M77.4 259.04h0.7M78.7 259.04h0.7M80.1 259.04h0.7M84.2 259.04h1.4M90.3 259.04h0.7M97.1 259.04h0.7M98.4 259.04h0.7M101.8 259.04h0.7M112 259.04h0.7M115.4 259.04h0.7M116.8 259.04h1.4M120.2 259.04h0.7M122.2 259.04h0.7M127.7 259.04h0.7M129.7 259.04h0.7M132.4 259.04h0.7M134.5 259.04h0.7M135.8 259.04h0.7M142 259.04h0.7M144.7 259.04h0.7M155.6 259.04h1.4M161 259.04h2M163.7 259.04h1.4M165.8 259.04h0.7M168.5 259.04h0.7M169.8 259.04h0.7M177.3 259.04h0.7M181.4 259.04h0.7M184.1 259.04h0.7M61 263.12h0.7M63.1 263.12h0.7M68.5 263.12h0.7M71.2 263.12h0.7M76.7 263.12h0.7M79.4 263.12h0.7M86.2 263.12h0.7M89.6 263.12h0.7M99.1 263.12h0.7M101.2 263.12h0.7M108.6 263.12h0.7M112 263.12h2.7M116.8 263.12h0.7M118.8 263.12h0.7M121.6 263.12h0.7M128.4 263.12h0.7M131.8 263.12h0.7M141.3 263.12h0.7M144.7 263.12h0.7M146 263.12h0.7M148.8 263.12h0.7M158.3 263.12h0.7M161 263.12h2M164.4 263.12h0.7M167.1 263.12h0.7M179.4 263.12h1.4M184.1 263.12h0.7M59 267.20h0.7M66.5 267.20h1.4M71.9 267.20h0.7M80.8 267.20h0.7M86.9 267.20h0.7M97.1 267.20h0.7M98.4 267.20h0.7M99.8 267.20h0.7M113.4 267.20h0.7M114.8 267.20h0.7M118.2 267.20h1.4M139.9 267.20h0.7M142.6 267.20h0.7M147.4 267.20h0.7M151.5 267.20h0.7M156.9 267.20h0.7M160.3 267.20h0.7M166.4 267.20h0.7M48.8 271.28h0.7M52.9 271.28h1.4M54.9 271.28h0.7M59.7 271.28h0.7M62.4 271.28h0.7M65.1 271.28h0.7M67.2 271.28h2M76.7 271.28h0.7M79.4 271.28h0.7M80.8 271.28h1.4M86.9 271.28h0.7M91 271.28h0.7M99.8 271.28h0.7M102.5 271.28h0.7M105.2 271.28h1.4M110 271.28h0.7M114.8 271.28h0.7M123.6 271.28h0.7M131.1 271.28h0.7M135.2 271.28h0.7M145.4 271.28h0.7M148.8 271.28h0.7M155.6 271.28h0.7M161.7 271.28h0.7M165.8 271.28h0.7M171.2 271.28h0.7M173.2 271.28h0.7M175.3 271.28h0.7M177.3 271.28h0.7M178.7 271.28h0.7M183.4 271.28h0.7M49.5 275.36h0.7M52.2 275.36h0.7M53.6 275.36h0.7M56.3 275.36h0.7M64.4 275.36h1.4M68.5 275.36h0.7M84.8 275.36h1.4M88.2 275.36h1.4M93 275.36h0.7M94.4 275.36h0.7M96.4 275.36h0.7M99.1 275.36h1.4M103.2 275.36h0.7M107.3 275.36h1.4M109.3 275.36h0.7M112.7 275.36h0.7M131.8 275.36h0.7M135.2 275.36h0.7M142 275.36h0.7M146 275.36h1.4M148.8 275.36h0.7M152.8 275.36h0.7M162.4 275.36h0.7M164.4 275.36h1.4M167.8 275.36h0.7M177.3 275.36h0.7M182.1 275.36h1.4M50.2 279.44h0.7M57.6 279.44h0.7M59.7 279.44h0.7M86.2 279.44h1.4M95.7 279.44h0.7M97.8 279.44h0.7M108.6 279.44h0.7M112 279.44h0.7M122.9 279.44h0.7M127.7 279.44h0.7M154.2 279.44h0.7M159 279.44h0.7M166.4 279.44h0.7M171.2 279.44h0.7M181.4 279.44h0.7M66.5 283.52h0.7M76 283.52h0.7M85.5 283.52h0.7M86.9 283.52h0.7M100.5 283.52h0.7M112 283.52h0.7M116.1 283.52h1.4M129 283.52h0.7M140.6 283.52h0.7M152.8 283.52h0.7M156.9 283.52h0.7M171.2 283.52h0.7M178 283.52h0.7M180.7 283.52h0.7M84.2 287.60h0.7M95.7 287.60h0.7M118.8 287.60h0.7M131.8 287.60h0.7M139.9 287.60h0.7M156.2 287.60h0.7M181.4 287.60h0.7M98.4 291.68h0.7M114.8 295.76h0.7M133.8 295.76h0.7M143.3 295.76h0.7M162.4 295.76h0.7M48.8 299.84h0.7M51.5 299.84h1.4M54.9 299.84h0.7M57 299.84h0.7M61 299.84h0.7M62.4 299.84h0.7M64.4 299.84h0.7M67.2 299.84h0.7M74 299.84h1.4M76.7 299.84h1.4M81.4 299.84h0.7M85.5 299.84h0.7M86.9 299.84h0.7M88.9 299.84h0.7M92.3 299.84h0.7M97.1 299.84h0.7M101.2 299.84h0.7M104.6 299.84h1.4M110.7 299.84h0.7M112 299.84h1.4M116.8 299.84h1.4M118.8 299.84h1.4M121.6 299.84h1.4M125 299.84h0.7M130.4 299.84h0.7M135.2 299.84h0.7M140.6 299.84h0.7M142 299.84h1.4M146.7 299.84h0.7M152.2 299.84h0.7M155.6 299.84h2M161.7 299.84h0.7M163.7 299.84h0.7M165.8 299.84h4.1M171.2 299.84h0.7M173.2 299.84h1.4M176 299.84h0.7M177.3 299.84h0.7M182.8 299.84h1.4M73.3 303.92h0.7M80.8 303.92h0.7M112.7 303.92h0.7M144.7 303.92h0.7M165.1 303.92h0.7M137.2 308.00h0.7M156.2 308.00h0.7M162.4 308.00h0.7M171.2 308.00h0.7M52.2 312.08h0.7M63.8 312.08h0.7M73.3 312.08h0.7M78 312.08h0.7M123.6 312.08h0.7M136.5 312.08h0.7M145.4 312.08h0.7M148.8 312.08h0.7M164.4 312.08h0.7M167.1 312.08h0.7M171.9 312.08h0.7M178.7 312.08h0.7M180.7 312.08h0.7M60.4 316.16h1.4M74 316.16h0.7M84.8 316.16h0.7M88.2 316.16h0.7M108 316.16h0.7M109.3 316.16h0.7M120.2 316.16h0.7M129 316.16h0.7M135.2 316.16h0.7M145.4 316.16h0.7M149.4 316.16h0.7M151.5 316.16h0.7M159 316.16h0.7M176 316.16h0.7M181.4 316.16h0.7M59 320.24h0.7M67.2 320.24h0.7M118.8 320.24h0.7M120.2 320.24h0.7M150.1 320.24h0.7M152.8 320.24h0.7M167.8 320.24h0.7M169.8 320.24h0.7M184.1 320.24h0.7M76 324.32h0.7M87.6 324.32h0.7M96.4 324.32h0.7M112.7 324.32h0.7M116.8 324.32h0.7M139.9 324.32h0.7M180 324.32h0.7M49.5 328.40h0.7M50.8 328.40h1.4M66.5 328.40h0.7M69.2 328.40h0.7M72.6 328.40h0.7M74 328.40h0.7M78 328.40h0.7M86.2 328.40h1.4M88.9 328.40h1.4M94.4 328.40h0.7M99.1 328.40h0.7M102.5 328.40h1.4M105.2 328.40h0.7M106.6 328.40h0.7M110.7 328.40h0.7M116.1 328.40h0.7M120.9 328.40h0.7M127.7 328.40h0.7M129 328.40h0.7M131.1 328.40h0.7M137.9 328.40h1.4M140.6 328.40h0.7M142.6 328.40h0.7M154.9 328.40h0.7M163.7 328.40h1.4M167.1 328.40h0.7M169.8 328.40h1.4M171.9 328.40h0.7M176 328.40h0.7M178.7 328.40h1.4M182.8 328.40h0.7M69.2 332.48h0.7M76 332.48h0.7M129 332.48h1.4M150.8 332.48h0.7M152.2 332.48h0.7M165.1 332.48h0.7M168.5 332.48h0.7M176 332.48h0.7M178 332.48h0.7M52.2 336.56h0.7M54.9 336.56h1.4M57.6 336.56h0.7M59.7 336.56h1.4M62.4 336.56h2M67.2 336.56h0.7M68.5 336.56h1.4M74 336.56h2M76.7 336.56h0.7M80.1 336.56h1.4M82.8 336.56h0.7M86.2 336.56h0.7M92.3 336.56h2M95.7 336.56h0.7M101.8 336.56h0.7M104.6 336.56h0.7M113.4 336.56h0.7M116.1 336.56h0.7M118.8 336.56h0.7M120.9 336.56h0.7M123.6 336.56h1.4M125.6 336.56h0.7M127.7 336.56h1.4M129.7 336.56h1.4M133.1 336.56h0.7M135.8 336.56h1.4M137.9 336.56h0.7M141.3 336.56h0.7M142.6 336.56h0.7M146 336.56h0.7M148.8 336.56h0.7M152.2 336.56h0.7M153.5 336.56h2M158.3 336.56h0.7M162.4 336.56h1.4M168.5 336.56h0.7M174.6 336.56h1.4M178 336.56h0.7M135.2 340.64h1.4M172.6 340.64h0.7M54.9 344.72h0.7M59 344.72h0.7M65.1 344.72h0.7M78.7 344.72h0.7M93 344.72h1.4M114.8 344.72h0.7M120.9 344.72h0.7M131.1 344.72h0.7M141.3 344.72h0.7M168.5 344.72h0.7M171.9 344.72h0.7M55.6 348.80h0.7M65.8 348.80h0.7M87.6 348.80h0.7M108 348.80h0.7M137.9 348.80h0.7M139.2 348.80h0.7M140.6 348.80h0.7M163.7 348.80h0.7M87.6 352.88h0.7M131.8 352.88h0.7M137.2 352.88h0.7M156.2 352.88h0.7M74 356.96h0.7M79.4 356.96h0.7M84.8 356.96h0.7M87.6 356.96h0.7M106.6 356.96h0.7M114.1 356.96h0.7M116.8 356.96h1.4M137.2 356.96h1.4M140.6 356.96h0.7M144 356.96h0.7M146 356.96h0.7M53.6 361.04h0.7M69.9 361.04h0.7M143.3 361.04h0.7M146.7 361.04h0.7M161 361.04h0.7M166.4 361.04h0.7M87.6 365.12h0.7M142 365.12h0.7M49.5 369.20h0.7M52.9 369.20h0.7M57 369.20h0.7M58.3 369.20h0.7M60.4 369.20h0.7M69.9 369.20h0.7M71.2 369.20h0.7M77.4 369.20h0.7M88.2 369.20h0.7M110.7 369.20h0.7M124.3 369.20h0.7M125.6 369.20h0.7M127.7 369.20h1.4M135.8 369.20h0.7M140.6 369.20h0.7M142.6 369.20h0.7M147.4 369.20h0.7M153.5 369.20h0.7M158.3 369.20h0.7M159.6 369.20h0.7M163 369.20h1.4M172.6 369.20h1.4M178.7 369.20h0.7M118.8 373.28h0.7M96.4 377.36h0.7M101.2 377.36h0.7" stroke="#c7c037" stroke-width="4.13" fill="none"/>
<path d="M58.3 259.04h0.7M64.4 259.04h0.7M71.9 259.04h0.7M114.1 259.04h0.7M160.3 259.04h0.7M56.3 263.12h0.7M59 263.12h0.7M60.4 263.12h0.7M65.1 263.12h2M74.6 263.12h0.7M77.4 263.12h1.4M82.8 263.12h0.7M84.8 263.12h0.7M91 263.12h0.7M95 263.12h0.7M96.4 263.12h0.7M107.3 263.12h0.7M125 263.12h0.7M126.3 263.12h1.4M137.9 263.12h0.7M142.6 263.12h0.7M145.4 263.12h0.7M150.8 263.12h0.7M165.1 263.12h0.7M167.8 263.12h0.7M170.5 263.12h0.7M172.6 263.12h0.7M181.4 263.12h1.4M48.8 267.20h0.7M52.9 267.20h0.7M63.1 267.20h0.7M64.4 267.20h0.7M72.6 267.20h0.7M74.6 267.20h0.7M78.7 267.20h0.7M82.1 267.20h0.7M84.2 267.20h0.7M89.6 267.20h0.7M93 267.20h0.7M101.2 267.20h1.4M111.4 267.20h0.7M112.7 267.20h0.7M121.6 267.20h0.7M123.6 267.20h0.7M127 267.20h0.7M129 267.20h0.7M134.5 267.20h0.7M138.6 267.20h1.4M142 267.20h0.7M146 267.20h0.7M149.4 267.20h0.7M156.2 267.20h0.7M159.6 267.20h0.7M168.5 267.20h0.7M170.5 267.20h0.7M173.9 267.20h0.7M176 267.20h0.7M178 267.20h1.4M184.1 267.20h0.7M49.5 271.28h0.7M59 271.28h0.7M61 271.28h0.7M65.8 271.28h0.7M75.3 271.28h0.7M82.1 271.28h0.7M95 271.28h0.7M98.4 271.28h1.4M103.9 271.28h0.7M108 271.28h0.7M109.3 271.28h0.7M112 271.28h0.7M114.1 271.28h0.7M116.1 271.28h0.7M121.6 271.28h0.7M122.9 271.28h0.7M124.3 271.28h0.7M126.3 271.28h0.7M128.4 271.28h1.4M136.5 271.28h0.7M137.9 271.28h0.7M139.2 271.28h0.7M142 271.28h0.7M152.2 271.28h1.4M162.4 271.28h0.7M167.8 271.28h0.7M171.9 271.28h0.7M173.9 271.28h0.7M178 271.28h0.7M179.4 271.28h0.7M184.1 271.28h0.7M50.2 275.36h0.7M57 275.36h0.7M61 275.36h0.7M66.5 275.36h0.7M69.9 275.36h0.7M71.9 275.36h0.7M74.6 275.36h0.7M78 275.36h0.7M90.3 275.36h0.7M92.3 275.36h0.7M102.5 275.36h0.7M104.6 275.36h0.7M108.6 275.36h0.7M114.1 275.36h0.7M125 275.36h0.7M127 275.36h0.7M135.8 275.36h0.7M140.6 275.36h0.7M153.5 275.36h2.7M156.9 275.36h0.7M166.4 275.36h0.7M172.6 275.36h0.7M174.6 275.36h0.7M178 275.36h0.7M180 275.36h0.7M52.2 279.44h0.7M53.6 279.44h1.4M57 279.44h0.7M58.3 279.44h0.7M60.4 279.44h1.4M72.6 279.44h0.7M78.7 279.44h0.7M87.6 279.44h1.4M91.6 279.44h0.7M94.4 279.44h0.7M98.4 279.44h0.7M105.9 279.44h0.7M107.3 279.44h0.7M110.7 279.44h0.7M112.7 279.44h0.7M118.8 279.44h0.7M120.2 279.44h0.7M121.6 279.44h0.7M124.3 279.44h0.7M131.8 279.44h0.7M133.8 279.44h0.7M138.6 279.44h1.4M151.5 279.44h1.4M155.6 279.44h0.7M157.6 279.44h1.4M161.7 279.44h2M169.2 279.44h1.4M176.6 279.44h0.7M180.7 279.44h0.7M53.6 283.52h2.7M59.7 283.52h0.7M63.8 283.52h0.7M69.9 283.52h0.7M76.7 283.52h1.4M79.4 283.52h0.7M84.2 283.52h0.7M103.2 283.52h0.7M107.3 283.52h0.7M118.8 283.52h1.4M130.4 283.52h0.7M141.3 283.52h0.7M150.8 283.52h0.7M152.2 283.52h0.7M155.6 283.52h1.4M159.6 283.52h0.7M161 283.52h0.7M167.8 283.52h0.7M172.6 283.52h0.7M180 283.52h0.7M184.1 283.52h0.7M52.9 287.60h1.4M55.6 287.60h0.7M61.7 287.60h0.7M65.1 287.60h0.7M73.3 287.60h0.7M78.7 287.60h1.4M80.8 287.60h0.7M93 287.60h1.4M95 287.60h0.7M102.5 287.60h0.7M109.3 287.60h0.7M118.2 287.60h0.7M119.5 287.60h0.7M124.3 287.60h0.7M131.1 287.60h0.7M133.8 287.60h0.7M137.9 287.60h0.7M160.3 287.60h0.7M173.9 287.60h1.4M182.1 287.60h0.7M52.2 291.68h1.4M61 291.68h1.4M72.6 291.68h0.7M76 291.68h0.7M84.8 291.68h1.4M90.3 291.68h0.7M97.8 291.68h0.7M100.5 291.68h0.7M105.9 291.68h0.7M109.3 291.68h0.7M114.1 291.68h0.7M115.4 291.68h0.7M117.5 291.68h0.7M118.8 291.68h0.7M124.3 291.68h0.7M131.1 291.68h1.4M133.8 291.68h0.7M135.8 291.68h0.7M148.8 291.68h0.7M150.1 291.68h1.4M172.6 291.68h0.7M175.3 291.68h0.7M178.7 291.68h0.7M59.7 295.76h0.7M69.2 295.76h0.7M76.7 295.76h0.7M82.8 295.76h1.4M86.2 295.76h0.7M88.9 295.76h0.7M93 295.76h0.7M112.7 295.76h0.7M114.1 295.76h0.7M118.2 295.76h0.7M120.2 295.76h0.7M142 295.76h1.4M145.4 295.76h0.7M157.6 295.76h0.7M179.4 295.76h0.7M181.4 295.76h0.7M182.8 295.76h0.7M52.9 299.84h0.7M78 299.84h0.7M96.4 299.84h0.7M97.8 299.84h0.7M137.9 299.84h0.7M101.8 303.92h0.7M136.5 303.92h0.7M146.7 303.92h0.7M57.6 308.00h0.7M79.4 308.00h0.7M99.1 308.00h0.7M107.3 308.00h0.7M127.7 308.00h0.7M74 312.08h0.7M76 312.08h0.7M81.4 312.08h0.7M124.3 312.08h0.7M155.6 312.08h0.7M168.5 312.08h0.7M63.1 316.16h0.7M95.7 316.16h0.7M97.8 316.16h0.7M146 316.16h0.7M63.8 320.24h0.7M76 320.24h0.7M78 320.24h0.7M129 320.24h0.7M137.9 320.24h0.7M144 320.24h0.7M50.2 324.32h0.7M61 324.32h0.7M63.1 324.32h0.7M84.2 324.32h0.7M88.2 324.32h0.7M95.7 324.32h0.7M105.9 324.32h0.7M109.3 324.32h0.7M120.2 324.32h0.7M155.6 324.32h0.7M163.7 324.32h0.7M165.8 324.32h0.7M172.6 324.32h0.7M48.8 328.40h0.7M50.2 328.40h0.7M54.2 328.40h0.7M62.4 328.40h2M65.8 328.40h0.7M67.8 328.40h0.7M71.9 328.40h0.7M74.6 328.40h0.7M81.4 328.40h0.7M87.6 328.40h0.7M90.3 328.40h1.4M92.3 328.40h0.7M96.4 328.40h0.7M105.9 328.40h0.7M108.6 328.40h0.7M114.1 328.40h0.7M123.6 328.40h0.7M129.7 328.40h0.7M131.8 328.40h0.7M142 328.40h0.7M144 328.40h0.7M145.4 328.40h0.7M148.8 328.40h3.4M152.8 328.40h0.7M155.6 328.40h0.7M161 328.40h0.7M169.2 328.40h0.7M180 328.40h0.7M182.1 328.40h0.7M85.5 332.48h0.7M112 332.48h0.7M126.3 332.48h0.7M163.7 332.48h0.7M172.6 332.48h0.7M66.5 336.56h0.7M67.8 336.56h0.7M89.6 336.56h0.7M99.1 336.56h0.7M112 336.56h0.7M156.2 336.56h0.7M161.7 336.56h0.7" stroke="#676231" stroke-width="4.13" fill="none"/>
<path d="M76.7 259.04h0.7M99.8 259.04h0.7M105.2 259.04h0.7M106.6 259.04h0.7M110 259.04h0.7M139.9 259.04h0.7M142.6 259.04h0.7M171.9 259.04h1.4M174.6 259.04h0.7M176.6 259.04h0.7M50.2 263.12h1.4M52.2 263.12h0.7M53.6 263.12h0.7M55.6 263.12h0.7M57 263.12h1.4M69.9 263.12h0.7M74 263.12h0.7M75.3 263.12h0.7M78.7 263.12h0.7M80.1 263.12h2M84.2 263.12h0.7M88.2 263.12h1.4M90.3 263.12h0.7M91.6 263.12h2M94.4 263.12h0.7M97.1 263.12h1.4M100.5 263.12h0.7M103.9 263.12h0.7M114.8 263.12h2M117.5 263.12h1.4M120.2 263.12h1.4M124.3 263.12h0.7M127.7 263.12h0.7M129.7 263.12h0.7M131.1 263.12h0.7M132.4 263.12h0.7M133.8 263.12h0.7M136.5 263.12h0.7M142 263.12h0.7M143.3 263.12h1.4M146.7 263.12h2M149.4 263.12h0.7M152.8 263.12h0.7M154.9 263.12h1.4M163 263.12h1.4M165.8 263.12h1.4M168.5 263.12h0.7M169.8 263.12h0.7M171.2 263.12h1.4M173.2 263.12h3.4M177.3 263.12h0.7M50.2 267.20h0.7M51.5 267.20h1.4M53.6 267.20h0.7M55.6 267.20h1.4M60.4 267.20h0.7M62.4 267.20h0.7M63.8 267.20h0.7M65.1 267.20h1.4M67.8 267.20h1.4M70.6 267.20h1.4M75.3 267.20h0.7M77.4 267.20h0.7M80.1 267.20h0.7M83.5 267.20h0.7M84.8 267.20h0.7M88.9 267.20h0.7M91 267.20h2M93.7 267.20h0.7M95 267.20h0.7M97.8 267.20h0.7M100.5 267.20h0.7M102.5 267.20h0.7M105.2 267.20h1.4M107.3 267.20h0.7M109.3 267.20h0.7M110.7 267.20h0.7M115.4 267.20h0.7M119.5 267.20h0.7M124.3 267.20h1.4M126.3 267.20h0.7M127.7 267.20h0.7M129.7 267.20h0.7M135.8 267.20h0.7M137.2 267.20h1.4M141.3 267.20h0.7M146.7 267.20h0.7M148.1 267.20h1.4M150.1 267.20h1.4M152.2 267.20h0.7M154.2 267.20h0.7M155.6 267.20h0.7M158.3 267.20h0.7M163.7 267.20h2.7M169.2 267.20h1.4M171.9 267.20h0.7M174.6 267.20h1.4M176.6 267.20h1.4M180 267.20h0.7M50.8 271.28h0.7M52.2 271.28h0.7M54.2 271.28h0.7M55.6 271.28h1.4M58.3 271.28h0.7M61.7 271.28h0.7M63.8 271.28h0.7M66.5 271.28h0.7M69.2 271.28h0.7M71.2 271.28h1.4M73.3 271.28h1.4M76 271.28h0.7M78.7 271.28h0.7M82.8 271.28h0.7M84.2 271.28h1.4M87.6 271.28h0.7M88.9 271.28h0.7M93 271.28h2M95.7 271.28h2M100.5 271.28h0.7M103.2 271.28h0.7M110.7 271.28h0.7M116.8 271.28h0.7M119.5 271.28h0.7M122.2 271.28h0.7M125 271.28h1.4M127.7 271.28h0.7M129.7 271.28h0.7M131.8 271.28h1.4M134.5 271.28h0.7M135.8 271.28h0.7M137.2 271.28h0.7M138.6 271.28h0.7M140.6 271.28h0.7M142.6 271.28h0.7M144.7 271.28h0.7M146.7 271.28h2M149.4 271.28h1.4M151.5 271.28h0.7M153.5 271.28h0.7M154.9 271.28h0.7M156.2 271.28h2.7M159.6 271.28h1.4M163 271.28h1.4M165.1 271.28h0.7M166.4 271.28h0.7M169.2 271.28h0.7M174.6 271.28h0.7M180.7 271.28h2.7M48.8 275.36h0.7M50.8 275.36h1.4M52.9 275.36h0.7M55.6 275.36h0.7M58.3 275.36h0.7M59.7 275.36h1.4M61.7 275.36h0.7M63.1 275.36h0.7M65.8 275.36h0.7M74 275.36h0.7M75.3 275.36h0.7M76.7 275.36h0.7M80.8 275.36h0.7M82.8 275.36h0.7M84.2 275.36h0.7M86.9 275.36h0.7M91.6 275.36h0.7M93.7 275.36h0.7M95 275.36h0.7M101.2 275.36h0.7M105.9 275.36h0.7M110.7 275.36h0.7M112 275.36h0.7M114.8 275.36h0.7M116.1 275.36h1.4M119.5 275.36h0.7M121.6 275.36h0.7M122.9 275.36h1.4M125.6 275.36h1.4M127.7 275.36h0.7M129 275.36h2M133.1 275.36h1.4M139.2 275.36h1.4M148.1 275.36h0.7M151.5 275.36h1.4M156.2 275.36h0.7M158.3 275.36h0.7M163.7 275.36h0.7M169.8 275.36h0.7M171.2 275.36h1.4M173.9 275.36h0.7M175.3 275.36h2M49.5 279.44h0.7M54.9 279.44h0.7M59 279.44h0.7M63.8 279.44h2.7M67.2 279.44h1.4M70.6 279.44h1.4M73.3 279.44h0.7M74.6 279.44h2M81.4 279.44h1.4M84.2 279.44h0.7M88.9 279.44h0.7M92.3 279.44h0.7M93.7 279.44h0.7M95 279.44h0.7M110 279.44h0.7M113.4 279.44h0.7M118.2 279.44h0.7M120.9 279.44h0.7M123.6 279.44h0.7M135.2 279.44h0.7M140.6 279.44h0.7M144 279.44h0.7M146.7 279.44h2M150.1 279.44h1.4M152.8 279.44h1.4M154.9 279.44h0.7M156.2 279.44h1.4M164.4 279.44h0.7M167.1 279.44h0.7M168.5 279.44h0.7M172.6 279.44h1.4M182.8 279.44h0.7M49.5 283.52h0.7M50.8 283.52h1.4M52.9 283.52h0.7M56.3 283.52h0.7M57.6 283.52h0.7M60.4 283.52h1.4M65.1 283.52h1.4M67.2 283.52h2M73.3 283.52h2.7M82.1 283.52h0.7M83.5 283.52h0.7M89.6 283.52h1.4M95.7 283.52h0.7M101.2 283.52h0.7M105.2 283.52h0.7M110 283.52h0.7M115.4 283.52h0.7M117.5 283.52h1.4M122.9 283.52h0.7M124.3 283.52h0.7M125.6 283.52h2.7M131.1 283.52h2M134.5 283.52h0.7M137.9 283.52h0.7M143.3 283.52h0.7M144.7 283.52h0.7M146.7 283.52h0.7M148.1 283.52h0.7M150.1 283.52h0.7M154.9 283.52h0.7M159 283.52h0.7M164.4 283.52h1.4M166.4 283.52h0.7M168.5 283.52h0.7M173.9 283.52h0.7M176 283.52h1.4M178.7 283.52h1.4M181.4 283.52h0.7M51.5 287.60h0.7M57 287.60h0.7M63.1 287.60h0.7M64.4 287.60h0.7M67.2 287.60h0.7M74 287.60h1.4M76.7 287.60h0.7M82.1 287.60h1.4M85.5 287.60h3.4M91 287.60h0.7M108 287.60h1.4M111.4 287.60h0.7M122.2 287.60h0.7M125 287.60h0.7M127 287.60h0.7M129.7 287.60h0.7M135.2 287.60h1.4M139.2 287.60h0.7M141.3 287.60h2M144.7 287.60h0.7M146.7 287.60h0.7M151.5 287.60h0.7M152.8 287.60h0.7M154.9 287.60h0.7M158.3 287.60h1.4M161.7 287.60h0.7M177.3 287.60h0.7M182.8 287.60h0.7M50.2 291.68h0.7M56.3 291.68h0.7M62.4 291.68h0.7M67.2 291.68h0.7M76.7 291.68h0.7M84.2 291.68h0.7M91 291.68h1.4M94.4 291.68h2M99.8 291.68h0.7M101.8 291.68h0.7M108.6 291.68h0.7M110.7 291.68h0.7M114.8 291.68h0.7M119.5 291.68h0.7M122.2 291.68h0.7M125.6 291.68h0.7M132.4 291.68h0.7M134.5 291.68h0.7M136.5 291.68h0.7M137.9 291.68h1.4M142.6 291.68h0.7M145.4 291.68h0.7M148.1 291.68h0.7M149.4 291.68h0.7M154.2 291.68h2M156.9 291.68h0.7M161 291.68h0.7M166.4 291.68h0.7M171.9 291.68h0.7M177.3 291.68h1.4M49.5 295.76h0.7M50.8 295.76h0.7M52.2 295.76h0.7M54.9 295.76h0.7M56.3 295.76h0.7M78 295.76h0.7M80.8 295.76h1.4M86.9 295.76h0.7M91 295.76h1.4M113.4 295.76h0.7M137.2 295.76h0.7M150.1 295.76h0.7M156.9 295.76h0.7M158.3 295.76h0.7M160.3 295.76h0.7M163.7 295.76h0.7M165.8 295.76h0.7M168.5 295.76h0.7M171.2 295.76h1.4M177.3 295.76h0.7M182.1 295.76h0.7M58.3 299.84h0.7M67.8 299.84h0.7M87.6 299.84h0.7M128.4 299.84h0.7M144 299.84h0.7M164.4 299.84h0.7M180 299.84h1.4M54.2 303.92h0.7M102.5 303.92h0.7M122.2 308.00h0.7M128.4 308.00h0.7M131.8 308.00h0.7M159.6 308.00h0.7M78.7 312.08h0.7M105.9 312.08h0.7M76 316.16h0.7M98.4 316.16h0.7M110 316.16h0.7M118.2 316.16h0.7M182.8 316.16h0.7M50.8 320.24h2M54.2 320.24h0.7M74.6 320.24h0.7M93 320.24h0.7M106.6 320.24h0.7M114.8 320.24h0.7M117.5 320.24h0.7M135.2 320.24h0.7M145.4 320.24h0.7M147.4 320.24h0.7M52.9 324.32h0.7M65.1 324.32h1.4M69.2 324.32h0.7M70.6 324.32h0.7M86.2 324.32h1.4M98.4 324.32h0.7M108 324.32h0.7M110 324.32h0.7M116.1 324.32h0.7M117.5 324.32h0.7M120.9 324.32h0.7M125 324.32h0.7M131.8 324.32h0.7M134.5 324.32h1.4M138.6 324.32h0.7M148.8 324.32h1.4M154.2 324.32h0.7M157.6 324.32h0.7M161.7 324.32h0.7M168.5 324.32h0.7M176 324.32h0.7M180.7 324.32h0.7M182.8 324.32h0.7M53.6 328.40h0.7M56.3 328.40h0.7M57.6 328.40h0.7M64.4 328.40h1.4M67.2 328.40h0.7M68.5 328.40h0.7M77.4 328.40h0.7M80.1 328.40h1.4M82.8 328.40h0.7M84.8 328.40h0.7M88.2 328.40h0.7M93 328.40h0.7M98.4 328.40h0.7M100.5 328.40h0.7M101.8 328.40h0.7M110 328.40h0.7M112.7 328.40h0.7M115.4 328.40h0.7M116.8 328.40h0.7M118.8 328.40h0.7M120.2 328.40h0.7M122.9 328.40h0.7M127 328.40h0.7M128.4 328.40h0.7M133.1 328.40h0.7M136.5 328.40h1.4M144.7 328.40h0.7M156.2 328.40h1.4M159 328.40h0.7M165.8 328.40h1.4M167.8 328.40h0.7M174.6 328.40h0.7M181.4 328.40h0.7M184.1 328.40h0.7M52.9 332.48h0.7M74.6 332.48h0.7M110 332.48h0.7M116.1 332.48h0.7M153.5 332.48h0.7M175.3 332.48h0.7M183.4 332.48h0.7M51.5 336.56h0.7M65.1 336.56h0.7M71.9 336.56h0.7M88.9 336.56h0.7M115.4 336.56h0.7M129 336.56h0.7M150.8 336.56h0.7M161 336.56h0.7M173.2 336.56h0.7M177.3 336.56h0.7M183.4 336.56h0.7" stroke="#9a9434" stroke-width="4.13" fill="none"/>
<path d="M51.5 263.12h0.7M54.2 263.12h1.4M64.4 263.12h0.7M71.9 263.12h0.7M73.3 263.12h0.7M82.1 263.12h0.7M86.9 263.12h0.7M101.8 263.12h0.7M103.2 263.12h0.7M122.9 263.12h0.7M151.5 263.12h0.7M156.2 263.12h0.7M183.4 263.12h0.7M49.5 267.20h0.7M50.8 267.20h0.7M54.9 267.20h0.7M59.7 267.20h0.7M73.3 267.20h0.7M81.4 267.20h0.7M87.6 267.20h0.7M95.7 267.20h1.4M116.1 267.20h1.4M120.2 267.20h0.7M122.2 267.20h0.7M136.5 267.20h0.7M145.4 267.20h0.7M159 267.20h0.7M162.4 267.20h0.7M179.4 267.20h0.7M182.1 267.20h1.4M60.4 271.28h0.7M88.2 271.28h0.7M115.4 271.28h0.7M117.5 271.28h0.7M161 271.28h0.7M167.1 271.28h0.7M170.5 271.28h0.7M59 275.36h0.7M76 275.36h0.7M82.1 275.36h0.7M89.6 275.36h0.7M95.7 275.36h0.7M98.4 275.36h0.7M100.5 275.36h0.7M103.9 275.36h0.7M105.2 275.36h0.7M117.5 275.36h1.4M120.9 275.36h0.7M122.2 275.36h0.7M136.5 275.36h0.7M147.4 275.36h0.7M180.7 275.36h0.7M50.8 279.44h0.7M52.9 279.44h0.7M56.3 279.44h0.7M61.7 279.44h0.7M69.9 279.44h0.7M78 279.44h0.7M84.8 279.44h0.7M96.4 279.44h0.7M101.2 279.44h2M103.9 279.44h1.4M106.6 279.44h0.7M114.8 279.44h0.7M119.5 279.44h0.7M125.6 279.44h0.7M127 279.44h0.7M129 279.44h0.7M133.1 279.44h0.7M134.5 279.44h0.7M137.2 279.44h0.7M141.3 279.44h1.4M143.3 279.44h0.7M145.4 279.44h0.7M159.6 279.44h0.7M170.5 279.44h0.7M177.3 279.44h0.7M48.8 283.52h0.7M50.2 283.52h0.7M58.3 283.52h0.7M71.2 283.52h0.7M81.4 283.52h0.7M86.2 283.52h0.7M91.6 283.52h1.4M98.4 283.52h1.4M105.9 283.52h0.7M112.7 283.52h0.7M125 283.52h0.7M133.1 283.52h0.7M135.2 283.52h0.7M142.6 283.52h0.7M145.4 283.52h0.7M151.5 283.52h0.7M153.5 283.52h0.7M160.3 283.52h0.7M163.7 283.52h0.7M169.8 283.52h1.4M174.6 283.52h0.7M48.8 287.60h0.7M56.3 287.60h0.7M61 287.60h0.7M65.8 287.60h0.7M69.9 287.60h1.4M72.6 287.60h0.7M76 287.60h0.7M80.1 287.60h0.7M91.6 287.60h0.7M94.4 287.60h0.7M107.3 287.60h0.7M110 287.60h0.7M112 287.60h0.7M113.4 287.60h0.7M115.4 287.60h0.7M123.6 287.60h0.7M125.6 287.60h1.4M149.4 287.60h0.7M153.5 287.60h0.7M159.6 287.60h0.7M163.7 287.60h0.7M167.1 287.60h0.7M168.5 287.60h0.7M170.5 287.60h2M173.2 287.60h0.7M178 287.60h1.4M180 287.60h0.7M51.5 291.68h0.7M54.2 291.68h0.7M55.6 291.68h0.7M64.4 291.68h0.7M68.5 291.68h1.4M71.2 291.68h1.4M75.3 291.68h0.7M79.4 291.68h0.7M80.8 291.68h0.7M83.5 291.68h0.7M86.2 291.68h1.4M88.2 291.68h0.7M92.3 291.68h0.7M103.9 291.68h0.7M112 291.68h2M116.1 291.68h0.7M120.9 291.68h0.7M125 291.68h0.7M126.3 291.68h1.4M129.7 291.68h1.4M133.1 291.68h0.7M135.2 291.68h0.7M141.3 291.68h1.4M143.3 291.68h1.4M153.5 291.68h0.7M157.6 291.68h0.7M161.7 291.68h0.7M165.8 291.68h0.7M171.2 291.68h0.7M182.8 291.68h0.7M62.4 295.76h0.7M66.5 295.76h1.4M71.9 295.76h0.7M76 295.76h0.7M84.8 295.76h1.4M87.6 295.76h1.4M95 295.76h0.7M97.1 295.76h0.7M101.8 295.76h0.7M103.9 295.76h0.7M105.2 295.76h0.7M108 295.76h0.7M110 295.76h0.7M131.1 295.76h1.4M136.5 295.76h0.7M144 295.76h0.7M146 295.76h1.4M148.1 295.76h0.7M154.2 295.76h0.7M155.6 295.76h1.4M159 295.76h0.7M166.4 295.76h0.7M170.5 295.76h0.7M172.6 295.76h0.7M180 295.76h0.7M49.5 324.32h0.7M50.8 324.32h0.7M53.6 324.32h1.4M59.7 324.32h0.7M67.8 324.32h1.4M69.9 324.32h0.7M72.6 324.32h0.7M74 324.32h0.7M76.7 324.32h1.4M81.4 324.32h0.7M84.8 324.32h0.7M89.6 324.32h0.7M93.7 324.32h2M97.8 324.32h0.7M100.5 324.32h4.1M105.2 324.32h0.7M107.3 324.32h0.7M108.6 324.32h0.7M111.4 324.32h0.7M114.1 324.32h0.7M118.2 324.32h0.7M121.6 324.32h0.7M122.9 324.32h2M127.7 324.32h2M132.4 324.32h1.4M137.2 324.32h0.7M144.7 324.32h1.4M150.8 324.32h0.7M152.8 324.32h1.4M156.2 324.32h0.7M158.3 324.32h2.7M162.4 324.32h0.7M167.8 324.32h0.7M169.2 324.32h2M173.2 324.32h1.4M176.6 324.32h1.4M182.1 324.32h0.7M183.4 324.32h0.7M52.2 328.40h1.4M54.9 328.40h0.7M103.9 328.40h0.7M108 328.40h0.7M113.4 328.40h0.7M125.6 328.40h0.7M139.2 328.40h1.4M157.6 328.40h0.7M168.5 328.40h0.7" stroke="#422c48" stroke-width="4.13" fill="none"/>
<path d="M52.9 263.12h0.7M83.5 263.12h0.7M85.5 263.12h0.7M98.4 263.12h0.7M108 263.12h0.7M110.7 263.12h0.7M133.1 263.12h0.7M137.2 263.12h0.7M157.6 263.12h0.7M159 263.12h0.7M69.2 267.20h0.7M79.4 267.20h0.7M82.8 267.20h0.7M104.6 267.20h0.7M117.5 267.20h0.7M125.6 267.20h0.7M130.4 267.20h1.4M143.3 267.20h2M157.6 267.20h0.7M163 267.20h0.7M171.2 267.20h0.7M173.2 267.20h0.7M180.7 267.20h0.7M57 271.28h1.4M63.1 271.28h0.7M64.4 271.28h0.7M90.3 271.28h0.7M101.2 271.28h0.7M106.6 271.28h1.4M168.5 271.28h0.7M176 271.28h1.4M54.2 275.36h0.7M67.8 275.36h0.7M87.6 275.36h0.7M115.4 275.36h0.7M124.3 275.36h0.7M128.4 275.36h0.7M143.3 275.36h0.7M144.7 275.36h0.7M159 275.36h0.7M167.1 275.36h0.7M48.8 279.44h0.7M63.1 279.44h0.7M79.4 279.44h1.4M82.8 279.44h1.4M93 279.44h0.7M99.1 279.44h0.7M103.2 279.44h0.7M108 279.44h0.7M115.4 279.44h1.4M130.4 279.44h1.4M135.8 279.44h0.7M144.7 279.44h0.7M146 279.44h0.7M161 279.44h0.7M175.3 279.44h0.7M179.4 279.44h0.7M72.6 283.52h0.7M78 283.52h0.7M80.8 283.52h0.7M84.8 283.52h0.7M87.6 283.52h2M95 283.52h0.7M96.4 283.52h1.4M104.6 283.52h0.7M106.6 283.52h0.7M114.8 283.52h0.7M128.4 283.52h0.7M133.8 283.52h0.7M136.5 283.52h0.7M138.6 283.52h0.7M142 283.52h0.7M146 283.52h0.7M148.8 283.52h0.7M154.2 283.52h0.7M157.6 283.52h0.7M161.7 283.52h0.7M163 283.52h0.7M171.9 283.52h0.7M54.9 287.60h0.7M58.3 287.60h2M62.4 287.60h0.7M71.2 287.60h0.7M75.3 287.60h0.7M81.4 287.60h0.7M83.5 287.60h0.7M88.9 287.60h0.7M97.1 287.60h1.4M101.8 287.60h0.7M103.2 287.60h1.4M116.8 287.60h0.7M122.9 287.60h0.7M129 287.60h0.7M130.4 287.60h0.7M132.4 287.60h1.4M134.5 287.60h0.7M136.5 287.60h1.4M138.6 287.60h0.7M143.3 287.60h0.7M148.1 287.60h1.4M154.2 287.60h0.7M155.6 287.60h0.7M163 287.60h0.7M164.4 287.60h1.4M167.8 287.60h0.7M169.8 287.60h0.7M175.3 287.60h0.7M176.6 287.60h0.7M54.9 291.68h0.7M57 291.68h0.7M59 291.68h0.7M65.1 291.68h0.7M66.5 291.68h0.7M77.4 291.68h0.7M82.1 291.68h0.7M87.6 291.68h0.7M88.9 291.68h1.4M96.4 291.68h0.7M102.5 291.68h1.4M111.4 291.68h0.7M118.2 291.68h0.7M123.6 291.68h0.7M146 291.68h0.7M152.8 291.68h0.7M158.3 291.68h0.7M168.5 291.68h2M179.4 291.68h0.7M48.8 295.76h0.7M53.6 295.76h0.7M55.6 295.76h0.7M58.3 295.76h0.7M60.4 295.76h0.7M61.7 295.76h0.7M63.8 295.76h0.7M65.8 295.76h0.7M68.5 295.76h0.7M72.6 295.76h0.7M80.1 295.76h0.7M82.1 295.76h0.7M84.2 295.76h0.7M92.3 295.76h0.7M93.7 295.76h0.7M99.1 295.76h0.7M107.3 295.76h0.7M110.7 295.76h0.7M116.1 295.76h1.4M120.9 295.76h0.7M122.2 295.76h1.4M124.3 295.76h0.7M125.6 295.76h0.7M128.4 295.76h0.7M132.4 295.76h0.7M135.2 295.76h0.7M141.3 295.76h0.7M148.8 295.76h1.4M153.5 295.76h0.7M161 295.76h1.4M165.1 295.76h0.7M167.1 295.76h1.4M169.8 295.76h0.7M173.2 295.76h0.7M178 295.76h0.7M184.1 295.76h0.7M48.8 324.32h0.7M56.3 324.32h0.7M59 324.32h0.7M60.4 324.32h0.7M61.7 324.32h1.4M64.4 324.32h0.7M66.5 324.32h1.4M71.2 324.32h0.7M73.3 324.32h0.7M74.6 324.32h1.4M78 324.32h0.7M80.1 324.32h0.7M82.1 324.32h0.7M85.5 324.32h0.7M88.9 324.32h0.7M97.1 324.32h0.7M99.1 324.32h0.7M110.7 324.32h0.7M114.8 324.32h1.4M119.5 324.32h0.7M122.2 324.32h0.7M129.7 324.32h0.7M131.1 324.32h0.7M139.2 324.32h0.7M140.6 324.32h1.4M142.6 324.32h2M146 324.32h2M152.2 324.32h0.7M163 324.32h0.7M166.4 324.32h1.4M171.9 324.32h0.7M175.3 324.32h0.7M178.7 324.32h0.7M181.4 324.32h0.7M58.3 328.40h0.7M61.7 328.40h0.7M75.3 328.40h0.7M78.7 328.40h1.4M83.5 328.40h0.7M97.1 328.40h0.7M104.6 328.40h0.7M111.4 328.40h0.7M122.2 328.40h0.7M134.5 328.40h1.4M146 328.40h0.7M152.2 328.40h0.7M153.5 328.40h1.4M159.6 328.40h1.4M173.2 328.40h1.4M183.4 328.40h0.7" stroke="#5c3069" stroke-width="4.13" fill="none"/>
<path d="M57.6 287.60h0.7M150.8 287.60h0.7M69.9 291.68h0.7M78 291.68h0.7M151.5 291.68h0.7M184.1 291.68h0.7M77.4 295.76h0.7M79.4 295.76h0.7M89.6 295.76h0.7M97.8 295.76h1.4M103.2 295.76h0.7M104.6 295.76h0.7M129.7 295.76h1.4M138.6 295.76h0.7M150.8 295.76h0.7M164.4 295.76h0.7M52.2 324.32h0.7M54.9 324.32h0.7M71.9 324.32h0.7M106.6 324.32h0.7M125.6 324.32h0.7M148.1 324.32h0.7M154.9 324.32h0.7M171.2 324.32h0.7M178 324.32h0.7" stroke="#923c9a" stroke-width="4.13" fill="none"/>
<path d="M92.3 287.60h0.7M175.3 295.76h0.7M83.5 324.32h0.7" stroke="#de4ed6" stroke-width="4.13" fill="none"/>
</g></g>
<g clip-path="url(#hc1)"><g filter="url(#hb)">
<rect x="184.4" y="255.0" width="56.9" height="126" fill="#2c282d"/>
<path d="M187.8 259.04h1.4M193.9 259.04h0.7M200.6 259.04h0.7M209.5 259.04h0.7M210.8 259.04h0.7M215.6 259.04h0.7M219 259.04h0.7M222.3 259.04h0.7M232.5 259.04h1.4M189.1 263.12h0.7M206.7 263.12h0.7M216.9 263.12h0.7M197.3 267.20h0.7M208.1 267.20h0.7M191.8 271.28h0.7M230.5 275.36h0.7M231.8 275.36h0.7M192.5 279.44h0.7M200 287.60h0.7M189.1 299.84h2M192.5 299.84h0.7M194.5 299.84h0.7M195.9 299.84h1.4M197.9 299.84h1.4M200 299.84h0.7M201.3 299.84h0.7M202.7 299.84h0.7M206.7 299.84h1.4M208.8 299.84h0.7M210.1 299.84h0.7M212.2 299.84h0.7M213.5 299.84h0.7M214.9 299.84h1.4M216.9 299.84h0.7M218.3 299.84h0.7M221 299.84h2M223.7 299.84h1.4M225.7 299.84h0.7M227.1 299.84h1.4M229.1 299.84h1.4M231.8 299.84h2.7M235.2 299.84h1.4M237.3 299.84h1.4M186.4 303.92h1.4M188.4 303.92h1.4M190.5 303.92h0.7M191.8 303.92h0.7M194.5 303.92h0.7M197.9 303.92h0.7M199.3 303.92h1.4M201.3 303.92h2M206.1 303.92h1.4M208.8 303.92h0.7M211.5 303.92h1.4M214.9 303.92h1.4M218.3 303.92h0.7M222.3 303.92h0.7M223.7 303.92h0.7M225.1 303.92h0.7M226.4 303.92h1.4M228.4 303.92h2.7M232.5 303.92h0.7M233.9 303.92h2.7M237.3 303.92h0.7M238.6 303.92h0.7M186.4 308.00h0.7M187.8 308.00h0.7M189.8 308.00h0.7M191.8 308.00h0.7M193.9 308.00h0.7M196.6 308.00h0.7M197.9 308.00h2M200.6 308.00h2M204.7 308.00h0.7M206.1 308.00h1.4M208.8 308.00h4.1M213.5 308.00h2M216.9 308.00h0.7M219.6 308.00h0.7M222.3 308.00h0.7M223.7 308.00h2M227.1 308.00h2.7M230.5 308.00h2M233.9 308.00h2M238.6 308.00h0.7M186.4 312.08h0.7M187.8 312.08h2M190.5 312.08h0.7M191.8 312.08h0.7M193.9 312.08h0.7M196.6 312.08h0.7M197.9 312.08h1.4M200.6 312.08h0.7M202 312.08h0.7M203.4 312.08h0.7M204.7 312.08h0.7M206.1 312.08h1.4M208.1 312.08h0.7M210.1 312.08h0.7M213.5 312.08h0.7M216.9 312.08h1.4M220.3 312.08h1.4M222.3 312.08h0.7M223.7 312.08h0.7M225.7 312.08h0.7M227.8 312.08h0.7M229.1 312.08h1.4M231.2 312.08h2M235.2 312.08h4.1M186.4 316.16h0.7M187.8 316.16h3.4M191.8 316.16h0.7M193.9 316.16h0.7M195.9 316.16h1.4M197.9 316.16h1.4M200 316.16h0.7M202.7 316.16h0.7M204.7 316.16h2.7M208.1 316.16h2M211.5 316.16h0.7M212.9 316.16h1.4M214.9 316.16h0.7M216.2 316.16h0.7M219.6 316.16h0.7M221 316.16h0.7M223 316.16h2M226.4 316.16h0.7M229.1 316.16h0.7M230.5 316.16h2.7M233.9 316.16h2.7M237.3 316.16h2M186.4 320.24h0.7M187.8 320.24h0.7M189.1 320.24h2M192.5 320.24h0.7M193.9 320.24h1.4M197.3 320.24h1.4M199.3 320.24h2.7M204.7 320.24h0.7M206.1 320.24h2M210.1 320.24h2.7M214.9 320.24h0.7M216.9 320.24h2M219.6 320.24h0.7M221 320.24h1.4M224.4 320.24h1.4M226.4 320.24h1.4M229.8 320.24h1.4M231.8 320.24h3.4M237.3 320.24h2M187.1 324.32h0.7M188.4 324.32h0.7M190.5 324.32h0.7M192.5 324.32h2M195.2 324.32h0.7M200 324.32h0.7M204.7 324.32h1.4M206.7 324.32h0.7M210.1 324.32h0.7M211.5 324.32h0.7M212.9 324.32h0.7M214.2 324.32h1.4M219.6 324.32h2M224.4 324.32h0.7M227.1 324.32h0.7M229.1 324.32h0.7M237.9 324.32h0.7M187.1 328.40h0.7M188.4 328.40h2M193.2 328.40h0.7M196.6 328.40h0.7M197.9 328.40h2M200.6 328.40h2.7M204.7 328.40h2M208.1 328.40h1.4M211.5 328.40h2.7M217.6 328.40h0.7M220.3 328.40h0.7M221.7 328.40h0.7M223 328.40h2M226.4 328.40h0.7M227.8 328.40h0.7M229.1 328.40h1.4M231.2 328.40h1.4M233.9 328.40h2M237.3 328.40h2M186.4 332.48h0.7M187.8 332.48h0.7M189.1 332.48h0.7M191.8 332.48h1.4M193.9 332.48h0.7M195.2 332.48h1.4M197.9 332.48h1.4M200 332.48h0.7M202.7 332.48h0.7M204 332.48h0.7M208.1 332.48h0.7M209.5 332.48h2M212.2 332.48h1.4M214.2 332.48h2M217.6 332.48h1.4M219.6 332.48h0.7M221 332.48h0.7M222.3 332.48h2M226.4 332.48h3.4M230.5 332.48h1.4M233.2 332.48h1.4M235.9 332.48h1.4M238.6 332.48h0.7M186.4 336.56h0.7M188.4 336.56h0.7M189.8 336.56h1.4M192.5 336.56h0.7M193.9 336.56h1.4M195.9 336.56h2M198.6 336.56h2.7M202.7 336.56h0.7M204.7 336.56h0.7M206.7 336.56h0.7M210.1 336.56h0.7M211.5 336.56h2M216.9 336.56h1.4M220.3 336.56h0.7M221.7 336.56h3.4M226.4 336.56h1.4M228.4 336.56h0.7M230.5 336.56h0.7M231.8 336.56h0.7M233.9 336.56h1.4M236.6 336.56h0.7M237.9 336.56h0.7M187.1 340.64h0.7M192.5 340.64h0.7M195.9 340.64h0.7M202 340.64h0.7M209.5 340.64h0.7M211.5 340.64h1.4M217.6 340.64h0.7M219 340.64h0.7M222.3 340.64h0.7M224.4 340.64h0.7M226.4 340.64h0.7M186.4 344.72h0.7M188.4 344.72h0.7M191.1 344.72h0.7M193.9 344.72h0.7M208.8 344.72h0.7M210.1 344.72h0.7M214.2 344.72h0.7M222.3 344.72h0.7M226.4 344.72h0.7M195.2 348.80h0.7M208.8 348.80h0.7M212.9 348.80h0.7M218.3 348.80h0.7M222.3 348.80h0.7M189.8 352.88h0.7M191.1 352.88h0.7M195.2 352.88h0.7M200.6 352.88h2M205.4 352.88h0.7M210.1 352.88h0.7M219 352.88h0.7M220.3 352.88h0.7M224.4 352.88h0.7M226.4 352.88h0.7M231.2 352.88h0.7M233.2 352.88h0.7M234.6 352.88h0.7M186.4 356.96h0.7M191.1 356.96h0.7M195.2 356.96h1.4M198.6 356.96h0.7M204.7 356.96h0.7M214.2 356.96h0.7M219 356.96h0.7M222.3 356.96h0.7M226.4 356.96h1.4M189.8 361.04h0.7M191.1 361.04h0.7M202 361.04h0.7M204.7 361.04h1.4M209.5 361.04h0.7M214.2 361.04h0.7M217.6 361.04h0.7M219 361.04h0.7M222.3 361.04h0.7M186.4 365.12h1.4M197.3 365.12h0.7M201.3 365.12h1.4M204 365.12h0.7M210.1 365.12h0.7M214.2 365.12h1.4M224.4 365.12h0.7M226.4 365.12h0.7M237.9 365.12h0.7M189.1 369.20h0.7M195.2 369.20h0.7M204 369.20h0.7M210.1 369.20h0.7M213.5 369.20h1.4M219 369.20h0.7M224.4 369.20h0.7M186.4 373.28h0.7M188.4 373.28h0.7M189.8 373.28h0.7M194.5 373.28h1.4M200.6 373.28h1.4M205.4 373.28h0.7M212.9 373.28h0.7M223.7 373.28h1.4M230.5 373.28h0.7M236.6 373.28h0.7M189.8 377.36h2M193.2 377.36h0.7M202 377.36h0.7M203.4 377.36h2.7M213.5 377.36h1.4M217.6 377.36h0.7M225.7 377.36h1.4M231.8 377.36h0.7" stroke="#c7c037" stroke-width="4.13" fill="none"/>
<path d="M189.1 259.04h0.7M192.5 259.04h1.4M194.5 259.04h2M197.3 259.04h0.7M202 259.04h0.7M205.4 259.04h0.7M206.7 259.04h0.7M208.1 259.04h1.4M210.1 259.04h0.7M211.5 259.04h2.7M219.6 259.04h0.7M221 259.04h1.4M223.7 259.04h0.7M226.4 259.04h2.7M229.8 259.04h0.7M233.9 259.04h2M236.6 259.04h0.7M237.9 259.04h0.7M191.1 263.12h0.7M194.5 263.12h1.4M197.3 263.12h0.7M198.6 263.12h0.7M200 263.12h1.4M204.7 263.12h0.7M208.1 263.12h0.7M210.1 263.12h2M214.2 263.12h1.4M221.7 263.12h0.7M223 263.12h2.7M233.9 263.12h0.7M235.9 263.12h0.7M237.3 263.12h0.7M186.4 267.20h0.7M187.8 267.20h0.7M189.1 267.20h0.7M191.1 267.20h1.4M193.2 267.20h0.7M194.5 267.20h0.7M200 267.20h0.7M206.1 267.20h0.7M207.4 267.20h0.7M209.5 267.20h0.7M210.8 267.20h0.7M212.9 267.20h1.4M214.9 267.20h0.7M217.6 267.20h1.4M223 267.20h0.7M225.1 267.20h0.7M226.4 267.20h0.7M187.8 271.28h2.7M195.9 271.28h0.7M201.3 271.28h3.4M205.4 271.28h0.7M206.7 271.28h0.7M208.1 271.28h1.4M210.8 271.28h2.7M214.2 271.28h2M217.6 271.28h0.7M220.3 271.28h1.4M222.3 271.28h0.7M223.7 271.28h0.7M227.1 271.28h1.4M232.5 271.28h0.7M234.6 271.28h0.7M237.9 271.28h1.4M187.1 275.36h2M189.8 275.36h0.7M191.8 275.36h1.4M193.9 275.36h0.7M195.2 275.36h0.7M197.3 275.36h2M200.6 275.36h2M204 275.36h1.4M206.7 275.36h1.4M209.5 275.36h1.4M212.2 275.36h0.7M219 275.36h0.7M221 275.36h0.7M222.3 275.36h4.1M227.8 275.36h0.7M229.1 275.36h0.7M233.2 275.36h0.7M234.6 275.36h0.7M236.6 275.36h1.4M238.6 275.36h0.7M187.8 279.44h0.7M190.5 279.44h0.7M191.8 279.44h0.7M197.9 279.44h0.7M204.7 279.44h0.7M208.8 279.44h0.7M210.1 279.44h1.4M213.5 279.44h1.4M216.2 279.44h0.7M220.3 279.44h0.7M223.7 279.44h0.7M225.7 279.44h0.7M231.2 279.44h0.7M233.2 279.44h0.7M235.2 279.44h0.7M237.3 279.44h2M186.4 283.52h0.7M188.4 283.52h0.7M197.3 283.52h0.7M208.8 283.52h0.7M216.2 283.52h0.7M218.3 283.52h1.4M221 283.52h2M223.7 283.52h0.7M225.7 283.52h0.7M227.1 283.52h1.4M235.2 283.52h0.7M187.1 287.60h0.7M191.1 287.60h1.4M193.2 287.60h0.7M196.6 287.60h1.4M199.3 287.60h0.7M205.4 287.60h0.7M206.7 287.60h2M210.1 287.60h0.7M212.2 287.60h0.7M214.2 287.60h0.7M217.6 287.60h0.7M219 287.60h0.7M224.4 287.60h1.4M226.4 287.60h0.7M230.5 287.60h1.4M235.9 287.60h0.7M191.1 291.68h0.7M193.2 291.68h0.7M199.3 291.68h0.7M206.7 291.68h0.7M210.1 291.68h0.7M215.6 291.68h0.7M216.9 291.68h0.7M219.6 291.68h0.7M223.7 291.68h0.7M227.1 291.68h1.4M229.8 291.68h0.7M233.2 291.68h0.7M201.3 295.76h0.7M206.7 295.76h0.7M223 295.76h1.4M195.2 299.84h0.7M225.7 303.92h0.7M193.2 308.00h0.7M212.9 308.00h0.7M210.8 312.08h0.7M214.2 312.08h0.7M216.2 312.08h0.7M214.2 320.24h0.7M198.6 324.32h0.7M219.6 336.56h0.7" stroke="#422c48" stroke-width="4.13" fill="none"/>
<path d="M191.8 259.04h0.7M230.5 259.04h1.4M235.9 259.04h0.7M238.6 259.04h0.7M186.4 263.12h2.7M189.8 263.12h1.4M192.5 263.12h1.4M195.9 263.12h1.4M197.9 263.12h0.7M199.3 263.12h0.7M201.3 263.12h2M206.1 263.12h0.7M207.4 263.12h0.7M208.8 263.12h0.7M212.2 263.12h2M215.6 263.12h1.4M217.6 263.12h3.4M225.7 263.12h1.4M227.8 263.12h2.7M231.8 263.12h2M234.6 263.12h1.4M236.6 263.12h0.7M237.9 263.12h1.4M187.1 267.20h0.7M188.4 267.20h0.7M189.8 267.20h1.4M192.5 267.20h0.7M193.9 267.20h0.7M195.2 267.20h2M197.9 267.20h0.7M199.3 267.20h0.7M200.6 267.20h1.4M202.7 267.20h0.7M204 267.20h2M208.8 267.20h0.7M210.1 267.20h0.7M211.5 267.20h1.4M214.2 267.20h0.7M215.6 267.20h2M219 267.20h4.1M224.4 267.20h0.7M225.7 267.20h0.7M227.1 267.20h1.4M229.8 267.20h4.7M235.2 267.20h2M237.9 267.20h1.4M186.4 271.28h0.7M192.5 271.28h0.7M194.5 271.28h0.7M196.6 271.28h0.7M197.9 271.28h0.7M216.2 271.28h0.7M218.3 271.28h0.7M221.7 271.28h0.7M229.1 271.28h1.4M231.2 271.28h0.7M233.2 271.28h0.7M235.2 271.28h0.7M237.3 271.28h0.7M191.1 275.36h0.7M193.2 275.36h0.7M195.9 275.36h0.7M200 275.36h0.7M215.6 275.36h0.7M237.9 275.36h0.7M186.4 279.44h1.4M188.4 279.44h2M191.1 279.44h0.7M193.2 279.44h1.4M195.2 279.44h2M198.6 279.44h0.7M200 279.44h3.4M204 279.44h0.7M206.1 279.44h2M209.5 279.44h0.7M211.5 279.44h0.7M212.9 279.44h0.7M214.9 279.44h1.4M216.9 279.44h0.7M218.3 279.44h2M221 279.44h2.7M226.4 279.44h0.7M227.8 279.44h3.4M231.8 279.44h1.4M233.9 279.44h1.4M235.9 279.44h1.4M187.1 283.52h1.4M189.1 283.52h8.1M197.9 283.52h2M200.6 283.52h8.1M210.1 283.52h6.1M216.9 283.52h1.4M220.3 283.52h0.7M223 283.52h0.7M224.4 283.52h0.7M226.4 283.52h0.7M228.4 283.52h6.8M235.9 283.52h0.7M237.3 283.52h2M186.4 287.60h0.7M187.8 287.60h3.4M192.5 287.60h0.7M193.9 287.60h0.7M195.2 287.60h1.4M197.9 287.60h0.7M200.6 287.60h2M203.4 287.60h2M206.1 287.60h0.7M208.8 287.60h1.4M210.8 287.60h0.7M212.9 287.60h1.4M215.6 287.60h2M218.3 287.60h0.7M219.6 287.60h4.1M225.7 287.60h0.7M227.1 287.60h3.4M231.8 287.60h0.7M233.2 287.60h1.4M235.2 287.60h0.7M236.6 287.60h1.4M238.6 287.60h0.7M186.4 291.68h0.7M190.5 291.68h0.7M191.8 291.68h0.7M194.5 291.68h2M198.6 291.68h0.7M200 291.68h0.7M201.3 291.68h0.7M203.4 291.68h0.7M204.7 291.68h1.4M207.4 291.68h0.7M209.5 291.68h0.7M212.2 291.68h0.7M213.5 291.68h0.7M214.9 291.68h0.7M220.3 291.68h0.7M222.3 291.68h0.7M225.7 291.68h1.4M228.4 291.68h0.7M232.5 291.68h0.7M234.6 291.68h0.7M235.9 291.68h1.4M237.9 291.68h0.7M191.1 295.76h0.7M214.2 295.76h0.7M226.4 295.76h0.7M231.2 295.76h0.7" stroke="#5c3069" stroke-width="4.13" fill="none"/>
<path d="M197.9 259.04h0.7M204 259.04h0.7M229.1 259.04h0.7M222.3 263.12h0.7M224.4 279.44h0.7M209.5 283.52h0.7M187.8 299.84h1.4M193.9 299.84h0.7M199.3 299.84h0.7M202 299.84h0.7M204.7 299.84h2M208.1 299.84h0.7M209.5 299.84h0.7M210.8 299.84h1.4M217.6 299.84h0.7M223 299.84h0.7M226.4 299.84h0.7M230.5 299.84h1.4M234.6 299.84h0.7M236.6 299.84h0.7M238.6 299.84h0.7M187.8 303.92h0.7M189.8 303.92h0.7M191.1 303.92h0.7M192.5 303.92h0.7M196.6 303.92h0.7M198.6 303.92h0.7M204.7 303.92h1.4M208.1 303.92h0.7M209.5 303.92h1.4M213.5 303.92h0.7M216.9 303.92h0.7M220.3 303.92h2M223 303.92h0.7M224.4 303.92h0.7M231.8 303.92h0.7M233.2 303.92h0.7M236.6 303.92h0.7M237.9 303.92h0.7M187.1 308.00h0.7M188.4 308.00h1.4M190.5 308.00h0.7M192.5 308.00h0.7M194.5 308.00h0.7M200 308.00h0.7M202.7 308.00h0.7M205.4 308.00h0.7M207.4 308.00h1.4M216.2 308.00h0.7M217.6 308.00h0.7M220.3 308.00h0.7M223 308.00h0.7M226.4 308.00h0.7M229.8 308.00h0.7M232.5 308.00h1.4M235.9 308.00h1.4M237.9 308.00h0.7M192.5 312.08h0.7M194.5 312.08h0.7M197.3 312.08h0.7M199.3 312.08h1.4M201.3 312.08h0.7M202.7 312.08h0.7M205.4 312.08h0.7M207.4 312.08h0.7M208.8 312.08h1.4M211.5 312.08h1.4M214.9 312.08h0.7M218.3 312.08h0.7M221.7 312.08h0.7M223 312.08h0.7M224.4 312.08h1.4M226.4 312.08h1.4M230.5 312.08h0.7M233.2 312.08h2M191.1 316.16h0.7M192.5 316.16h1.4M199.3 316.16h0.7M201.3 316.16h1.4M207.4 316.16h0.7M210.1 316.16h0.7M212.2 316.16h0.7M215.6 316.16h0.7M216.9 316.16h2M220.3 316.16h0.7M221.7 316.16h1.4M227.8 316.16h1.4M233.2 316.16h0.7M188.4 320.24h0.7M191.8 320.24h0.7M195.2 320.24h0.7M198.6 320.24h0.7M202.7 320.24h0.7M205.4 320.24h0.7M208.8 320.24h1.4M213.5 320.24h0.7M219 320.24h0.7M220.3 320.24h0.7M222.3 320.24h2M227.8 320.24h2M231.2 320.24h0.7M235.2 320.24h2M189.1 324.32h0.7M197.9 324.32h0.7M207.4 324.32h0.7M209.5 324.32h0.7M219 324.32h0.7M223 324.32h0.7M225.1 324.32h0.7M231.8 324.32h0.7M233.9 324.32h0.7M235.2 324.32h0.7M236.6 324.32h0.7M238.6 324.32h0.7M186.4 328.40h0.7M187.8 328.40h0.7M190.5 328.40h0.7M191.8 328.40h1.4M193.9 328.40h1.4M200 328.40h0.7M203.4 328.40h0.7M206.7 328.40h1.4M209.5 328.40h1.4M214.9 328.40h0.7M216.9 328.40h0.7M218.3 328.40h0.7M221 328.40h0.7M227.1 328.40h0.7M228.4 328.40h0.7M230.5 328.40h0.7M232.5 328.40h1.4M235.9 328.40h1.4M187.1 332.48h0.7M188.4 332.48h0.7M189.8 332.48h1.4M194.5 332.48h0.7M196.6 332.48h0.7M199.3 332.48h0.7M200.6 332.48h2M204.7 332.48h3.4M208.8 332.48h0.7M211.5 332.48h0.7M213.5 332.48h0.7M216.9 332.48h0.7M220.3 332.48h0.7M221.7 332.48h0.7M224.4 332.48h1.4M229.8 332.48h0.7M231.8 332.48h1.4M234.6 332.48h1.4M237.3 332.48h1.4M187.8 336.56h0.7M189.1 336.56h0.7M191.8 336.56h0.7M193.2 336.56h0.7M197.9 336.56h0.7M201.3 336.56h1.4M205.4 336.56h1.4M207.4 336.56h2.7M210.8 336.56h0.7M213.5 336.56h0.7M214.9 336.56h1.4M218.3 336.56h0.7M221 336.56h0.7M227.8 336.56h0.7M229.1 336.56h1.4M231.2 336.56h0.7M232.5 336.56h1.4M235.2 336.56h1.4M237.3 336.56h0.7M238.6 336.56h0.7M189.8 340.64h0.7M204.7 340.64h0.7M210.1 340.64h0.7M187.1 344.72h0.7M200.6 344.72h2M215.6 344.72h0.7M235.2 344.72h0.7M191.1 348.80h0.7M193.2 348.80h0.7M201.3 348.80h1.4M213.5 348.80h1.4M224.4 348.80h0.7M193.2 352.88h0.7M212.2 352.88h0.7M213.5 352.88h0.7M222.3 352.88h0.7M192.5 356.96h0.7M213.5 356.96h0.7M217.6 356.96h0.7M221 356.96h0.7M224.4 356.96h0.7M192.5 361.04h0.7M200.6 361.04h0.7M204 361.04h0.7M208.8 361.04h0.7M210.1 361.04h0.7M226.4 361.04h0.7M191.1 365.12h0.7M193.2 365.12h0.7M205.4 365.12h0.7M209.5 365.12h0.7M213.5 365.12h0.7M216.2 365.12h0.7M217.6 365.12h0.7M219 365.12h0.7M222.3 365.12h0.7M191.1 369.20h0.7M200.6 369.20h0.7M205.4 369.20h0.7M217.6 369.20h0.7M222.3 369.20h0.7M226.4 369.20h0.7M195.9 373.28h0.7M199.3 373.28h0.7M202 373.28h0.7M204.7 373.28h0.7M210.1 373.28h0.7M214.2 373.28h0.7M217.6 373.28h0.7M222.3 373.28h0.7M226.4 373.28h0.7M229.1 373.28h0.7M195.9 377.36h0.7M201.3 377.36h0.7M210.1 377.36h0.7M222.3 377.36h0.7M224.4 377.36h0.7M227.8 377.36h0.7M238.6 377.36h0.7" stroke="#f4ec3a" stroke-width="4.13" fill="none"/>
<path d="M200 259.04h0.7M228.4 267.20h0.7M206.1 271.28h0.7M219 271.28h0.7M225.1 271.28h0.7M233.9 271.28h0.7M197.3 279.44h0.7M199.3 279.44h0.7M205.4 279.44h0.7M219.6 283.52h0.7M202.7 287.60h0.7M186.4 299.84h0.7M214.2 299.84h0.7M228.4 299.84h0.7M193.9 303.92h0.7M207.4 303.92h0.7M218.3 308.00h0.7M221 308.00h1.4M228.4 312.08h0.7M194.5 316.16h1.4M204 316.16h0.7M227.1 316.16h0.7M229.8 316.16h0.7M236.6 316.16h0.7M202 320.24h0.7M215.6 320.24h1.4M225.7 320.24h0.7M212.2 324.32h0.7M222.3 324.32h0.7M229.8 324.32h0.7M232.5 324.32h0.7M222.3 328.40h0.7M219 332.48h0.7M225.7 336.56h0.7M202.7 340.64h0.7M235.2 340.64h0.7M200 344.72h0.7M200.6 348.80h0.7M234.6 348.80h0.7M231.8 356.96h0.7M235.2 356.96h0.7M192.5 365.12h0.7M208.1 365.12h0.7M220.3 369.20h0.7M189.1 373.28h0.7M186.4 377.36h0.7M219.6 377.36h0.7" stroke="#9a9434" stroke-width="4.13" fill="none"/>
<path d="M198.6 267.20h0.7M202 267.20h0.7M199.3 271.28h0.7M199.3 275.36h0.7M212.9 275.36h1.4M235.2 275.36h0.7M191.8 299.84h0.7M220.3 299.84h0.7M195.9 303.92h0.7M217.6 303.92h0.7M219 303.92h0.7M227.8 303.92h0.7M231.2 303.92h0.7M204 308.00h0.7M237.3 308.00h0.7M189.8 312.08h0.7M212.9 312.08h0.7M225.1 316.16h0.7M196.6 320.24h0.7M208.1 320.24h0.7M194.5 324.32h0.7M202 324.32h0.7M208.1 324.32h0.7M216.9 324.32h0.7M234.6 324.32h0.7M219.6 328.40h0.7M225.7 328.40h0.7M203.4 332.48h0.7M225.1 336.56h0.7M187.1 348.80h0.7M217.6 348.80h0.7M220.3 348.80h0.7M218.3 356.96h0.7M193.2 361.04h0.7M210.8 361.04h0.7M195.9 365.12h0.7M190.5 369.20h0.7M236.6 369.20h0.7M203.4 373.28h0.7M220.3 373.28h0.7M198.6 377.36h0.7" stroke="#676231" stroke-width="4.13" fill="none"/>
<path d="M187.1 291.68h2.7M193.9 291.68h0.7M197.9 291.68h0.7M202 291.68h1.4M208.1 291.68h0.7M210.8 291.68h1.4M219 291.68h0.7M221.7 291.68h0.7M223 291.68h0.7M225.1 291.68h0.7M229.1 291.68h0.7M231.8 291.68h0.7M233.9 291.68h0.7M235.2 291.68h0.7M237.3 291.68h0.7M188.4 295.76h2M191.8 295.76h0.7M194.5 295.76h0.7M196.6 295.76h1.4M198.6 295.76h2.7M202 295.76h0.7M204 295.76h0.7M205.4 295.76h1.4M207.4 295.76h2M210.8 295.76h1.4M212.9 295.76h1.4M214.9 295.76h0.7M216.2 295.76h0.7M217.6 295.76h3.4M222.3 295.76h0.7M224.4 295.76h1.4M228.4 295.76h2M233.9 295.76h1.4M235.9 295.76h0.7M237.9 295.76h0.7" stroke="#923c9a" stroke-width="4.13" fill="none"/>
<path d="M192.5 291.68h0.7M196.6 291.68h1.4M200.6 291.68h0.7M204 291.68h0.7M214.2 291.68h0.7M216.2 291.68h0.7M217.6 291.68h0.7M221 291.68h0.7M224.4 291.68h0.7M186.4 295.76h2M190.5 295.76h0.7M192.5 295.76h2M195.2 295.76h1.4M197.9 295.76h0.7M202.7 295.76h1.4M204.7 295.76h0.7M209.5 295.76h1.4M212.2 295.76h0.7M215.6 295.76h0.7M216.9 295.76h0.7M221 295.76h1.4M225.7 295.76h0.7M227.1 295.76h1.4M230.5 295.76h0.7M231.8 295.76h2M235.2 295.76h0.7M236.6 295.76h1.4M238.6 295.76h0.7" stroke="#de4ed6" stroke-width="4.13" fill="none"/>
</g></g>
<g clip-path="url(#hc2)"><g filter="url(#hb)">
<rect x="238.9" y="255.0" width="24.5" height="126" fill="#2c282d"/>
<path d="M240.9 259.04h0.7M246.4 259.04h0.7M251.8 259.04h0.7M253.2 259.04h0.7M254.6 259.04h0.7M258.7 259.04h0.7M243.6 275.36h0.7M257.3 279.44h0.7M245 299.84h1.4M254.6 299.84h0.7M256.6 299.84h2M260.7 299.84h0.7M241.6 303.92h0.7M245.7 303.92h0.7M251.1 303.92h1.4M240.9 308.00h1.4M245 308.00h0.7M247.1 308.00h0.7M254.6 308.00h0.7M257.3 308.00h1.4M260.7 308.00h0.7M242.3 312.08h0.7M254.6 312.08h0.7M256.6 312.08h1.4M260.7 312.08h0.7M242.9 316.16h0.7M245 316.16h0.7M254.6 316.16h0.7M257.3 316.16h0.7M242.3 320.24h0.7M245 320.24h0.7M248.4 320.24h0.7M254.6 320.24h0.7M260.7 320.24h0.7M240.9 328.40h0.7M242.9 328.40h3.4M247.7 328.40h2.7M251.8 328.40h0.7M253.9 328.40h1.4M258 328.40h1.4M240.9 332.48h1.4M242.9 332.48h6.1M251.1 332.48h0.7M253.2 332.48h8.2M240.9 336.56h0.7M243.6 336.56h2.7M247.7 336.56h1.4M249.8 336.56h2M252.5 336.56h3.4M256.6 336.56h0.7M258 336.56h2M260.7 336.56h0.7M241.6 340.64h2.7M245 340.64h0.7M247.7 340.64h0.7M249.8 340.64h6.1M257.3 340.64h0.7M258.7 340.64h0.7M260 340.64h1.4M240.9 344.72h0.7M242.3 344.72h2M245 344.72h1.4M251.1 344.72h1.4M254.6 344.72h2.7M258 344.72h1.4M260.7 344.72h0.7M240.9 348.80h0.7M242.3 348.80h0.7M243.6 348.80h2.7M247.1 348.80h0.7M249.1 348.80h0.7M251.1 348.80h1.4M253.9 348.80h1.4M255.9 348.80h0.7M258 348.80h0.7M259.3 348.80h2M240.9 352.88h3.4M245 352.88h0.7M247.1 352.88h1.4M250.5 352.88h1.4M252.5 352.88h2M255.9 352.88h3.4M260.7 352.88h0.7M240.9 356.96h4.1M247.1 356.96h1.4M249.8 356.96h2M252.5 356.96h1.4M254.6 356.96h3.4M259.3 356.96h2M240.9 361.04h4.1M245.7 361.04h0.7M247.1 361.04h1.4M251.1 361.04h2M256.6 361.04h3.4M240.9 365.12h2M243.6 365.12h0.7M245 365.12h1.4M247.1 365.12h0.7M248.4 365.12h2M251.1 365.12h2M253.9 365.12h1.4M255.9 365.12h1.4M258.7 365.12h2.7M240.9 369.20h0.7M242.3 369.20h6.1M249.1 369.20h0.7M250.5 369.20h0.7M252.5 369.20h1.4M255.9 369.20h1.4M258 369.20h0.7M259.3 369.20h0.7M241.6 373.28h2M245 373.28h0.7M247.1 373.28h2M249.8 373.28h0.7M251.1 373.28h2M255.2 373.28h2M258 373.28h2M260.7 373.28h0.7M242.3 377.36h3.4M247.1 377.36h0.7M248.4 377.36h0.7M249.8 377.36h2.7M253.2 377.36h1.4M255.9 377.36h0.7M257.3 377.36h2M260 377.36h1.4" stroke="#c7c037" stroke-width="4.13" fill="none"/>
<path d="M241.6 259.04h0.7M244.3 259.04h0.7M247.1 259.04h1.4M249.1 259.04h0.7M251.1 259.04h0.7M253.9 259.04h0.7M257.3 259.04h0.7M259.3 259.04h0.7M241.6 263.12h0.7M245.7 263.12h0.7M249.8 263.12h0.7M251.1 263.12h0.7M241.6 267.20h0.7M243.6 267.20h0.7M245 267.20h0.7M246.4 267.20h0.7M240.9 271.28h0.7M245.7 271.28h0.7M247.7 271.28h1.4M250.5 271.28h2M253.2 271.28h0.7M255.9 271.28h0.7M258 271.28h0.7M260 271.28h0.7M241.6 275.36h0.7M242.9 275.36h0.7M245 275.36h0.7M246.4 275.36h1.4M248.4 275.36h0.7M250.5 275.36h4.1M255.2 275.36h0.7M258 275.36h2M260.7 275.36h0.7M242.3 279.44h0.7M245 279.44h0.7M247.7 279.44h1.4M250.5 279.44h1.4M253.2 279.44h0.7M258 279.44h0.7M240.9 283.52h0.7M246.4 283.52h0.7M249.8 283.52h1.4M253.9 283.52h2M257.3 283.52h0.7M240.9 287.60h0.7M246.4 287.60h0.7M248.4 287.60h1.4M251.8 287.60h1.4M253.9 287.60h0.7M256.6 287.60h0.7M258.7 287.60h0.7M260 287.60h0.7M254.6 291.68h0.7M255.9 291.68h0.7M257.3 291.68h0.7M248.4 299.84h0.7M258.7 299.84h0.7M247.1 303.92h0.7M255.2 303.92h0.7M253.9 308.00h0.7M258.7 308.00h0.7M245.7 312.08h1.4M251.1 312.08h0.7M247.1 316.16h0.7M251.1 316.16h0.7M255.9 316.16h0.7M258.7 316.16h0.7M240.9 320.24h0.7M242.3 324.32h0.7M245.7 324.32h0.7M255.9 324.32h1.4M259.3 324.32h1.4" stroke="#422c48" stroke-width="4.13" fill="none"/>
<path d="M242.3 259.04h0.7M252.5 259.04h0.7M255.2 259.04h2M240.9 263.12h0.7M242.3 263.12h2M246.4 263.12h3.4M250.5 263.12h0.7M251.8 263.12h2.7M255.2 263.12h0.7M256.6 263.12h0.7M258 263.12h2M260.7 263.12h0.7M242.3 267.20h0.7M244.3 267.20h0.7M245.7 267.20h0.7M247.1 267.20h4.8M252.5 267.20h0.7M253.9 267.20h5.5M260 267.20h1.4M242.9 271.28h0.7M245 271.28h0.7M246.4 271.28h0.7M253.9 271.28h1.4M258.7 271.28h0.7M260.7 271.28h0.7M240.9 275.36h0.7M242.3 275.36h0.7M244.3 275.36h0.7M260 275.36h0.7M240.9 279.44h0.7M242.9 279.44h0.7M244.3 279.44h0.7M245.7 279.44h2M249.1 279.44h1.4M251.8 279.44h1.4M253.9 279.44h3.4M258.7 279.44h2.7M241.6 283.52h0.7M242.9 283.52h0.7M245 283.52h1.4M247.1 283.52h2.7M251.1 283.52h2.7M255.9 283.52h1.4M258 283.52h2M260.7 283.52h0.7M241.6 287.60h3.4M245.7 287.60h0.7M247.1 287.60h1.4M249.8 287.60h2M253.2 287.60h0.7M255.2 287.60h1.4M257.3 287.60h1.4M259.3 287.60h0.7M260.7 287.60h0.7M242.3 291.68h0.7M245.7 291.68h0.7M247.1 291.68h0.7M249.1 291.68h0.7M251.1 291.68h0.7M256.6 291.68h0.7M260.7 291.68h0.7M244.3 295.76h0.7M247.7 295.76h0.7M244.3 324.32h0.7M247.1 324.32h0.7M249.8 324.32h2.7M254.6 324.32h1.4M257.3 324.32h2M260.7 324.32h0.7" stroke="#5c3069" stroke-width="4.13" fill="none"/>
<path d="M245 259.04h0.7M248.4 259.04h0.7M249.8 259.04h0.7M260 263.12h0.7M253.2 267.20h0.7M241.6 279.44h0.7M254.6 287.60h0.7M245 303.92h0.7M248.4 303.92h0.7M254.6 303.92h0.7M255.9 303.92h0.7M258.7 303.92h0.7M248.4 308.00h0.7M256.6 308.00h0.7M260 308.00h0.7M245 312.08h0.7M248.4 312.08h0.7M258 312.08h0.7M245.7 316.16h0.7M248.4 316.16h0.7M258 316.16h0.7M249.1 320.24h0.7M256.6 320.24h2M241.6 328.40h1.4M247.1 328.40h0.7M250.5 328.40h1.4M252.5 328.40h0.7M255.2 328.40h2.7M259.3 328.40h2M242.3 332.48h0.7M249.1 332.48h2M251.8 332.48h1.4M241.6 336.56h2M247.1 336.56h0.7M249.1 336.56h0.7M251.8 336.56h0.7M257.3 336.56h0.7M260 336.56h0.7M240.9 340.64h0.7M244.3 340.64h0.7M245.7 340.64h0.7M247.1 340.64h0.7M248.4 340.64h1.4M255.9 340.64h1.4M258 340.64h0.7M241.6 344.72h0.7M244.3 344.72h0.7M247.7 344.72h3.4M252.5 344.72h2M257.3 344.72h0.7M259.3 344.72h1.4M241.6 348.80h0.7M242.9 348.80h0.7M247.7 348.80h1.4M249.8 348.80h1.4M252.5 348.80h1.4M255.2 348.80h0.7M256.6 348.80h1.4M258.7 348.80h0.7M245.7 352.88h0.7M248.4 352.88h1.4M251.8 352.88h0.7M254.6 352.88h1.4M259.3 352.88h1.4M245 356.96h1.4M248.4 356.96h1.4M251.8 356.96h0.7M253.9 356.96h0.7M258 356.96h1.4M245 361.04h0.7M248.4 361.04h2.7M253.2 361.04h3.4M260 361.04h1.4M242.9 365.12h0.7M244.3 365.12h0.7M247.7 365.12h0.7M250.5 365.12h0.7M253.2 365.12h0.7M257.3 365.12h1.4M241.6 369.20h0.7M248.4 369.20h0.7M251.1 369.20h1.4M253.9 369.20h2M257.3 369.20h0.7M258.7 369.20h0.7M260 369.20h1.4M240.9 373.28h0.7M243.6 373.28h1.4M249.1 373.28h0.7M250.5 373.28h0.7M253.2 373.28h2M257.3 373.28h0.7M260 373.28h0.7M240.9 377.36h1.4M245.7 377.36h0.7M247.7 377.36h0.7M249.1 377.36h0.7M252.5 377.36h0.7M254.6 377.36h1.4M256.6 377.36h0.7M259.3 377.36h0.7" stroke="#f4ec3a" stroke-width="4.13" fill="none"/>
<path d="M259.3 267.20h0.7M243.6 299.84h0.7M246.4 299.84h0.7M245.7 308.00h0.7M251.8 308.00h0.7M250.5 312.08h0.7M240.9 316.16h0.7M256.6 316.16h0.7M243.6 320.24h1.4M245.7 320.24h0.7M247.7 324.32h0.7M253.9 324.32h0.7" stroke="#9a9434" stroke-width="4.13" fill="none"/>
<path d="M240.9 291.68h1.4M244.3 291.68h0.7M248.4 291.68h0.7M249.8 291.68h1.4M253.2 291.68h0.7M258.7 291.68h0.7M240.9 295.76h2M245 295.76h1.4M247.1 295.76h0.7M251.8 295.76h0.7M255.2 295.76h0.7M256.6 295.76h1.4M259.3 295.76h2" stroke="#923c9a" stroke-width="4.13" fill="none"/>
<path d="M242.9 291.68h0.7M245 291.68h0.7M246.4 291.68h0.7M247.7 291.68h0.7M251.8 291.68h1.4M253.9 291.68h0.7M255.2 291.68h0.7M258 291.68h0.7M259.3 291.68h0.7M242.9 295.76h1.4M246.4 295.76h0.7M248.4 295.76h0.7M249.8 295.76h2M252.5 295.76h2.7M255.9 295.76h0.7M258 295.76h1.4" stroke="#de4ed6" stroke-width="4.13" fill="none"/>
<path d="M241.6 299.84h0.7M247.7 299.84h0.7M251.1 299.84h0.7M252.5 299.84h0.7M258 303.92h0.7M247.7 308.00h0.7M241.6 312.08h0.7M247.7 312.08h0.7M251.8 312.08h0.7M246.4 344.72h1.4M246.4 348.80h0.7M246.4 356.96h0.7" stroke="#676231" stroke-width="4.13" fill="none"/>
</g></g>
<rect x="48.8" y="252.1" width="136.0" height="3" fill="#2d9de2"/>
<rect x="186.4" y="252.1" width="52.9" height="3" fill="#7d80cd"/>
<rect x="240.9" y="252.1" width="20.5" height="3" fill="#ee5f96"/>
<path d="M48.8 243.4 H261.4" stroke="#444" stroke-width="0.5"/>
<text x="155.1" y="241.9" font-size="6.4" text-anchor="middle" fill="#222">Cell cluster</text>
<text x="116.6" y="250.9" font-size="6.5" text-anchor="middle" fill="#222">11</text>
<text x="213.0" y="250.9" font-size="6.5" text-anchor="middle" fill="#222">12</text>
<text x="250.9" y="250.9" font-size="6.5" text-anchor="middle" fill="#222">16</text>
<text x="44.0" y="261.5" font-size="6.7" text-anchor="end" font-style="italic" fill="#222">PAX7</text>
<path d="M45.6 259.0 H48.4" stroke="#333" stroke-width="0.5"/>
<text x="44.0" y="302.3" font-size="6.7" text-anchor="end" font-style="italic" fill="#222">MYOD1</text>
<path d="M45.6 299.8 H48.4" stroke="#333" stroke-width="0.5"/>
<text x="44.0" y="335.1" font-size="6.7" text-anchor="end" font-style="italic" fill="#222">MYOG</text>
<path d="M45.6 332.6 H48.4" stroke="#333" stroke-width="0.5"/>
<text x="44.0" y="379.9" font-size="6.7" text-anchor="end" font-style="italic" fill="#222">MYH3</text>
<path d="M45.6 377.4 H48.4" stroke="#333" stroke-width="0.5"/>
<path d="M48.8 388.6 H121" stroke="#e6e6e6" stroke-width="0.5"/>
<defs><linearGradient id="gd"><stop offset="0" stop-color="#e23cdc"/><stop offset="0.5" stop-color="#161216"/><stop offset="1" stop-color="#f6f028"/></linearGradient></defs>
<rect x="205.7" y="383.4" width="57.3" height="6.2" fill="url(#gd)"/>
<path d="M211 388.2 V389.6" stroke="#fff" stroke-width="0.4"/>
<text x="210.1" y="397.9" font-size="6.5" text-anchor="middle" fill="#222">-2</text>
<path d="M222.3 388.2 V389.6" stroke="#fff" stroke-width="0.4"/>
<text x="221.4" y="397.9" font-size="6.5" text-anchor="middle" fill="#222">-1</text>
<path d="M234 388.2 V389.6" stroke="#fff" stroke-width="0.4"/>
<text x="234.0" y="397.9" font-size="6.5" text-anchor="middle" fill="#222">0</text>
<path d="M245.5 388.2 V389.6" stroke="#fff" stroke-width="0.4"/>
<text x="245.5" y="397.9" font-size="6.5" text-anchor="middle" fill="#222">1</text>
<path d="M256.8 388.2 V389.6" stroke="#fff" stroke-width="0.4"/>
<text x="256.8" y="397.9" font-size="6.5" text-anchor="middle" fill="#222">2</text>
<text x="198.4" y="389.5" font-size="6.35" text-anchor="end" fill="#222">Relative expression level</text>
<path d="M328.5 262.7 V313.3 H512" stroke="#555" stroke-width="0.6" fill="none"/>
<path d="M326.3 271.6 H328.5" stroke="#333" stroke-width="0.5"/>
<text x="323.6" y="274.2" font-size="7.2" text-anchor="end" fill="#222">Cluster 11</text>
<path d="M326.3 285.8 H328.5" stroke="#333" stroke-width="0.5"/>
<text x="323.6" y="288.4" font-size="7.2" text-anchor="end" fill="#222">Cluster 12</text>
<path d="M326.3 299.8 H328.5" stroke="#333" stroke-width="0.5"/>
<text x="323.6" y="302.4" font-size="7.2" text-anchor="end" fill="#222">Cluster 16</text>
<path d="M342.6 313.3 V315.5" stroke="#333" stroke-width="0.5"/>
<text x="342.6" y="325.6" font-size="7.2" text-anchor="middle" font-style="italic" fill="#222">PAX7</text>
<path d="M381 313.3 V315.5" stroke="#333" stroke-width="0.5"/>
<text x="381.0" y="325.6" font-size="7.2" text-anchor="middle" font-style="italic" fill="#222">MYOD1</text>
<path d="M419.5 313.3 V315.5" stroke="#333" stroke-width="0.5"/>
<text x="419.5" y="325.6" font-size="7.2" text-anchor="middle" font-style="italic" fill="#222">MYOG</text>
<path d="M458.6 313.3 V315.5" stroke="#333" stroke-width="0.5"/>
<text x="458.6" y="325.6" font-size="7.2" text-anchor="middle" font-style="italic" fill="#222">MYH3</text>
<path d="M497.5 313.3 V315.5" stroke="#333" stroke-width="0.5"/>
<text x="497.5" y="325.6" font-size="7.2" text-anchor="middle" font-style="italic" fill="#222">MYH8</text>
<circle cx="342.6" cy="271.6" r="1.3" fill="#3a3cb8"/>
<circle cx="342.6" cy="285.8" r="0.75" fill="#c8c6d6"/>
<circle cx="342.6" cy="299.8" r="0.75" fill="#d6d4e0"/>
<circle cx="381" cy="271.6" r="1.2" fill="#c9c3e3"/>
<circle cx="381" cy="285.8" r="4.1" fill="#4a4fb6"/>
<circle cx="381" cy="299.8" r="2.0" fill="#8b6fca"/>
<circle cx="419.5" cy="271.6" r="0.75" fill="#dcdae6"/>
<circle cx="419.5" cy="285.8" r="4.4" fill="#6a5cbf"/>
<circle cx="419.5" cy="299.8" r="3.8" fill="#7562c2"/>
<circle cx="458.6" cy="271.6" r="0.75" fill="#dcdae6"/>
<circle cx="458.6" cy="285.8" r="1.8" fill="#ab93da"/>
<circle cx="458.6" cy="299.8" r="4.7" fill="#3a4fb2"/>
<circle cx="497.5" cy="271.6" r="0.75" fill="#dcdae6"/>
<circle cx="497.5" cy="285.8" r="0.75" fill="#d6d4e0"/>
<circle cx="497.5" cy="299.8" r="1.9" fill="#3a40c0"/>
<circle cx="358.4" cy="342" r="1.2" fill="#1a1a1a"/>
<circle cx="368.3" cy="342" r="2.6" fill="#1a1a1a"/>
<circle cx="379.6" cy="342" r="4.0" fill="#1a1a1a"/>
<text x="369.6" y="356.6" font-size="7.2" text-anchor="middle" fill="#222">25 50 75</text>
<text x="369.5" y="366.9" font-size="7.2" text-anchor="middle" fill="#222">Percent expressed</text>
<defs><linearGradient id="ge"><stop offset="0" stop-color="#e6def3"/><stop offset="0.5" stop-color="#8c78cc"/><stop offset="1" stop-color="#3446b0"/></linearGradient></defs>
<rect x="452.9" y="337.7" width="52.4" height="9.8" fill="url(#ge)"/>
<path d="M456.5 337.7 v1.6 M456.5 347.5 v-1.6" stroke="#fff" stroke-width="0.4"/>
<text x="455.5" y="356.6" font-size="7.2" text-anchor="middle" fill="#222">-1</text>
<path d="M478.6 337.7 v1.6 M478.6 347.5 v-1.6" stroke="#fff" stroke-width="0.4"/>
<text x="478.6" y="356.6" font-size="7.2" text-anchor="middle" fill="#222">0</text>
<path d="M500.8 337.7 v1.6 M500.8 347.5 v-1.6" stroke="#fff" stroke-width="0.4"/>
<text x="500.8" y="356.6" font-size="7.2" text-anchor="middle" fill="#222">1</text>
<text x="479.0" y="366.9" font-size="7.2" text-anchor="middle" fill="#222">Average expression</text>
<rect x="96.9" y="424.3" width="81.6" height="7.4" fill="#f8b7bf"/>
<rect x="96.9" y="432.5" width="23.1" height="7.4" fill="#f8b7bf"/>
<rect x="96.9" y="440.6" width="20.1" height="7.4" fill="#f8b7bf"/>
<rect x="96.9" y="448.8" width="16.1" height="7.4" fill="#f08a88"/>
<rect x="96.9" y="456.9" width="10.6" height="7.4" fill="#e9322c"/>
<rect x="96.9" y="465.1" width="5.3" height="7.4" fill="#f8b3ba"/>
<rect x="96.9" y="473.3" width="4.1" height="7.4" fill="#ea3a33"/>
<rect x="96.9" y="481.4" width="4.1" height="7.4" fill="#f4a3a3"/>
<rect x="96.9" y="489.6" width="3.0" height="7.4" fill="#e9322c"/>
<path d="M93.3 423.0 V498.5 H183.0" stroke="#808080" stroke-width="0.6" fill="none"/>
<path d="M92.1 428.0 H93.3" stroke="#777" stroke-width="0.4"/>
<text x="89.7" y="429.6" font-size="4.06" text-anchor="end" fill="#3c3c3c" stroke="#3c3c3c" stroke-width="0.06">Muscle tissue morphogenesis</text>
<path d="M92.1 436.2 H93.3" stroke="#777" stroke-width="0.4"/>
<text x="89.7" y="437.8" font-size="4.06" text-anchor="end" fill="#3c3c3c" stroke="#3c3c3c" stroke-width="0.06">Positive regulation of muscle cell differentiation</text>
<path d="M92.1 444.3 H93.3" stroke="#777" stroke-width="0.4"/>
<text x="89.7" y="445.9" font-size="4.06" text-anchor="end" fill="#3c3c3c" stroke="#3c3c3c" stroke-width="0.06">Muscle tissue development</text>
<path d="M92.1 452.5 H93.3" stroke="#777" stroke-width="0.4"/>
<text x="89.7" y="454.1" font-size="4.06" text-anchor="end" fill="#3c3c3c" stroke="#3c3c3c" stroke-width="0.06">Muscle organ development</text>
<path d="M92.1 460.6 H93.3" stroke="#777" stroke-width="0.4"/>
<text x="89.7" y="462.2" font-size="4.06" text-anchor="end" fill="#3c3c3c" stroke="#3c3c3c" stroke-width="0.06">Tissue development</text>
<path d="M92.1 468.8 H93.3" stroke="#777" stroke-width="0.4"/>
<text x="89.7" y="470.4" font-size="4.06" text-anchor="end" fill="#3c3c3c" stroke="#3c3c3c" stroke-width="0.06">System development</text>
<path d="M92.1 477.0 H93.3" stroke="#777" stroke-width="0.4"/>
<text x="89.7" y="478.6" font-size="4.06" text-anchor="end" fill="#3c3c3c" stroke="#3c3c3c" stroke-width="0.06">Anatomical structure development</text>
<path d="M92.1 485.1 H93.3" stroke="#777" stroke-width="0.4"/>
<text x="89.7" y="486.7" font-size="4.06" text-anchor="end" fill="#3c3c3c" stroke="#3c3c3c" stroke-width="0.06">Developmental process</text>
<path d="M92.1 493.3 H93.3" stroke="#777" stroke-width="0.4"/>
<text x="89.7" y="494.9" font-size="4.06" text-anchor="end" fill="#3c3c3c" stroke="#3c3c3c" stroke-width="0.06">Animal organ development</text>
<path d="M96.9 498.5 v1.2" stroke="#777" stroke-width="0.4"/>
<text x="96.9" y="504.1" font-size="4.2" text-anchor="middle" fill="#2e2e2e" stroke="#2e2e2e" stroke-width="0.08">0</text>
<path d="M121.0 498.5 v1.2" stroke="#777" stroke-width="0.4"/>
<text x="121.0" y="504.1" font-size="4.2" text-anchor="middle" fill="#2e2e2e" stroke="#2e2e2e" stroke-width="0.08">20</text>
<path d="M145.1 498.5 v1.2" stroke="#777" stroke-width="0.4"/>
<text x="145.1" y="504.1" font-size="4.2" text-anchor="middle" fill="#2e2e2e" stroke="#2e2e2e" stroke-width="0.08">40</text>
<path d="M169.2 498.5 v1.2" stroke="#777" stroke-width="0.4"/>
<text x="169.2" y="504.1" font-size="4.2" text-anchor="middle" fill="#2e2e2e" stroke="#2e2e2e" stroke-width="0.08">60</text>
<text x="136.6" y="419.1" font-size="7.25" text-anchor="middle" fill="#222">Cluster 11</text>
<text x="137.4" y="514.3" font-size="5.5" text-anchor="middle" fill="#333">Enrichment score</text>
<rect x="162.4" y="443.1" width="19" height="49.8" fill="#fff"/>
<text x="170.6" y="449.4" font-size="4.5" text-anchor="middle" fill="#333">FDR p</text>
<text x="170.6" y="454.7" font-size="4.5" text-anchor="middle" fill="#333">value:</text>
<defs><linearGradient id="g11" x1="0" y1="0" x2="0" y2="1"><stop offset="0" stop-color="#fbc4cb"/><stop offset="0.5" stop-color="#f2787a"/><stop offset="1" stop-color="#e8251f"/></linearGradient></defs>
<rect x="163.6" y="459.1" width="5.6" height="29.8" fill="url(#g11)"/>
<text x="175.2" y="460.6" font-size="3.6" text-anchor="middle" fill="#3a3a3a">0.05</text>
<text x="175.2" y="466.4" font-size="3.6" text-anchor="middle" fill="#3a3a3a">0.04</text>
<text x="175.2" y="472.3" font-size="3.6" text-anchor="middle" fill="#3a3a3a">0.03</text>
<text x="175.2" y="478.2" font-size="3.6" text-anchor="middle" fill="#3a3a3a">0.02</text>
<text x="175.2" y="484.1" font-size="3.6" text-anchor="middle" fill="#3a3a3a">0.01</text>
<text x="175.2" y="489.9" font-size="3.6" text-anchor="middle" fill="#3a3a3a">0.00</text>
<rect x="254.2" y="423.8" width="79.7" height="6.4" fill="#ee6256"/>
<rect x="254.2" y="431.0" width="79.7" height="6.4" fill="#ee6256"/>
<rect x="254.2" y="438.2" width="65.8" height="6.4" fill="#e93c36"/>
<rect x="254.2" y="445.3" width="65.8" height="6.4" fill="#e93c36"/>
<rect x="254.2" y="452.5" width="51.9" height="6.4" fill="#e83732"/>
<rect x="254.2" y="459.7" width="50.8" height="6.4" fill="#e83732"/>
<rect x="254.2" y="466.9" width="48.1" height="6.4" fill="#e83732"/>
<rect x="254.2" y="474.1" width="42.8" height="6.4" fill="#e83732"/>
<rect x="254.2" y="481.2" width="40.7" height="6.4" fill="#e83732"/>
<rect x="254.2" y="488.4" width="40.7" height="6.4" fill="#e83732"/>
<path d="M250.3 423.0 V496.7 H336.7" stroke="#808080" stroke-width="0.6" fill="none"/>
<path d="M249.1 427.0 H250.3" stroke="#777" stroke-width="0.4"/>
<text x="247.4" y="428.6" font-size="4.07" text-anchor="end" fill="#3c3c3c" stroke="#3c3c3c" stroke-width="0.06">Myotube cell development</text>
<path d="M249.1 434.2 H250.3" stroke="#777" stroke-width="0.4"/>
<text x="247.4" y="435.8" font-size="4.07" text-anchor="end" fill="#3c3c3c" stroke="#3c3c3c" stroke-width="0.06">Skeletal muscle fiber development</text>
<path d="M249.1 441.4 H250.3" stroke="#777" stroke-width="0.4"/>
<text x="247.4" y="443.0" font-size="4.07" text-anchor="end" fill="#3c3c3c" stroke="#3c3c3c" stroke-width="0.06">Striated muscle cell development</text>
<path d="M249.1 448.5 H250.3" stroke="#777" stroke-width="0.4"/>
<text x="247.4" y="450.1" font-size="4.07" text-anchor="end" fill="#3c3c3c" stroke="#3c3c3c" stroke-width="0.06">Muscle fiber development</text>
<path d="M249.1 455.7 H250.3" stroke="#777" stroke-width="0.4"/>
<text x="247.4" y="457.3" font-size="4.07" text-anchor="end" fill="#3c3c3c" stroke="#3c3c3c" stroke-width="0.06">Cardiac muscle development</text>
<path d="M249.1 462.9 H250.3" stroke="#777" stroke-width="0.4"/>
<text x="247.4" y="464.5" font-size="4.07" text-anchor="end" fill="#3c3c3c" stroke="#3c3c3c" stroke-width="0.06">Skeletal muscle development</text>
<path d="M249.1 470.1 H250.3" stroke="#777" stroke-width="0.4"/>
<text x="247.4" y="471.7" font-size="4.07" text-anchor="end" fill="#3c3c3c" stroke="#3c3c3c" stroke-width="0.06">Striated muscle development</text>
<path d="M249.1 477.3 H250.3" stroke="#777" stroke-width="0.4"/>
<text x="247.4" y="478.9" font-size="4.07" text-anchor="end" fill="#3c3c3c" stroke="#3c3c3c" stroke-width="0.06">Muscle cell development</text>
<path d="M249.1 484.4 H250.3" stroke="#777" stroke-width="0.4"/>
<text x="247.4" y="486.0" font-size="4.07" text-anchor="end" fill="#3c3c3c" stroke="#3c3c3c" stroke-width="0.06">Actin filament-based movement</text>
<path d="M249.1 491.6 H250.3" stroke="#777" stroke-width="0.4"/>
<text x="247.4" y="493.2" font-size="4.07" text-anchor="end" fill="#3c3c3c" stroke="#3c3c3c" stroke-width="0.06">Muscle filament sliding</text>
<path d="M254.2 496.7 v1.2" stroke="#777" stroke-width="0.4"/>
<text x="254.2" y="503.2" font-size="4.2" text-anchor="middle" fill="#2e2e2e" stroke="#2e2e2e" stroke-width="0.08">0</text>
<path d="M275.6 496.7 v1.2" stroke="#777" stroke-width="0.4"/>
<text x="275.6" y="503.2" font-size="4.2" text-anchor="middle" fill="#2e2e2e" stroke="#2e2e2e" stroke-width="0.08">2</text>
<path d="M297.0 496.7 v1.2" stroke="#777" stroke-width="0.4"/>
<text x="297.0" y="503.2" font-size="4.2" text-anchor="middle" fill="#2e2e2e" stroke="#2e2e2e" stroke-width="0.08">4</text>
<path d="M318.4 496.7 v1.2" stroke="#777" stroke-width="0.4"/>
<text x="318.4" y="503.2" font-size="4.2" text-anchor="middle" fill="#2e2e2e" stroke="#2e2e2e" stroke-width="0.08">6</text>
<text x="292.4" y="419.1" font-size="7.25" text-anchor="middle" fill="#222">Cluster 12</text>
<text x="294.3" y="512.9" font-size="5.5" text-anchor="middle" fill="#333">Enrichment score</text>
<rect x="320.1" y="439.0" width="19" height="50.9" fill="#fff"/>
<text x="328.8" y="445.3" font-size="4.5" text-anchor="middle" fill="#333">FDR p</text>
<text x="328.8" y="450.6" font-size="4.5" text-anchor="middle" fill="#333">value:</text>
<defs><linearGradient id="g12" x1="0" y1="0" x2="0" y2="1"><stop offset="0" stop-color="#fbc4cb"/><stop offset="0.5" stop-color="#f2787a"/><stop offset="1" stop-color="#e8251f"/></linearGradient></defs>
<rect x="321.3" y="456.1" width="5.6" height="29.8" fill="url(#g12)"/>
<text x="333.3" y="457.6" font-size="3.6" text-anchor="middle" fill="#3a3a3a">0.05</text>
<text x="333.3" y="463.4" font-size="3.6" text-anchor="middle" fill="#3a3a3a">0.04</text>
<text x="333.3" y="469.3" font-size="3.6" text-anchor="middle" fill="#3a3a3a">0.03</text>
<text x="333.3" y="475.2" font-size="3.6" text-anchor="middle" fill="#3a3a3a">0.02</text>
<text x="333.3" y="481.1" font-size="3.6" text-anchor="middle" fill="#3a3a3a">0.01</text>
<text x="333.3" y="486.9" font-size="3.6" text-anchor="middle" fill="#3a3a3a">0.00</text>
<rect x="440.1" y="423.8" width="83.3" height="6.5" fill="#f0837b"/>
<rect x="440.1" y="431.1" width="73.2" height="6.5" fill="#f8b7bf"/>
<rect x="440.1" y="438.5" width="73.2" height="6.5" fill="#f8b7bf"/>
<rect x="440.1" y="445.8" width="73.2" height="6.5" fill="#f8b7bf"/>
<rect x="440.1" y="453.2" width="73.2" height="6.5" fill="#f8b7bf"/>
<rect x="440.1" y="460.6" width="73.2" height="6.5" fill="#e93a31"/>
<rect x="440.1" y="467.9" width="73.2" height="6.5" fill="#e93a31"/>
<rect x="440.1" y="475.3" width="58.7" height="6.5" fill="#ec5046"/>
<rect x="440.1" y="482.6" width="58.7" height="6.5" fill="#ec5046"/>
<rect x="440.1" y="490.0" width="52.3" height="6.5" fill="#ee574b"/>
<path d="M436.0 423.0 V498.1 H528.7" stroke="#808080" stroke-width="0.6" fill="none"/>
<path d="M434.8 427.0 H436.0" stroke="#777" stroke-width="0.4"/>
<text x="433.8" y="428.6" font-size="4.1" text-anchor="end" fill="#3c3c3c" stroke="#3c3c3c" stroke-width="0.06">Negative regulation of calcium-mediated signaling</text>
<path d="M434.8 434.4 H436.0" stroke="#777" stroke-width="0.4"/>
<text x="433.8" y="436.0" font-size="4.1" text-anchor="end" fill="#3c3c3c" stroke="#3c3c3c" stroke-width="0.06">Detection of stimulus</text>
<path d="M434.8 441.7 H436.0" stroke="#777" stroke-width="0.4"/>
<text x="433.8" y="443.3" font-size="4.1" text-anchor="end" fill="#3c3c3c" stroke="#3c3c3c" stroke-width="0.06">Response to muscle stretch</text>
<path d="M434.8 449.1 H436.0" stroke="#777" stroke-width="0.4"/>
<text x="433.8" y="450.7" font-size="4.1" text-anchor="end" fill="#3c3c3c" stroke="#3c3c3c" stroke-width="0.06">Detection of mechanical stimulus</text>
<path d="M434.8 456.4 H436.0" stroke="#777" stroke-width="0.4"/>
<text x="433.8" y="458.0" font-size="4.1" text-anchor="end" fill="#3c3c3c" stroke="#3c3c3c" stroke-width="0.06">Detection of abiotic stimulus</text>
<path d="M434.8 463.8 H436.0" stroke="#777" stroke-width="0.4"/>
<text x="433.8" y="465.4" font-size="4.1" text-anchor="end" fill="#3c3c3c" stroke="#3c3c3c" stroke-width="0.06">Detection of external stimulus</text>
<path d="M434.8 471.2 H436.0" stroke="#777" stroke-width="0.4"/>
<text x="433.8" y="472.8" font-size="4.1" text-anchor="end" fill="#3c3c3c" stroke="#3c3c3c" stroke-width="0.06">Detection of muscle stretch</text>
<path d="M434.8 478.5 H436.0" stroke="#777" stroke-width="0.4"/>
<text x="433.8" y="480.1" font-size="4.1" text-anchor="end" fill="#3c3c3c" stroke="#3c3c3c" stroke-width="0.06">Cardiac cell development</text>
<path d="M434.8 485.9 H436.0" stroke="#777" stroke-width="0.4"/>
<text x="433.8" y="487.5" font-size="4.1" text-anchor="end" fill="#3c3c3c" stroke="#3c3c3c" stroke-width="0.06">Cardiac muscle development</text>
<path d="M434.8 493.2 H436.0" stroke="#777" stroke-width="0.4"/>
<text x="433.8" y="494.8" font-size="4.1" text-anchor="end" fill="#3c3c3c" stroke="#3c3c3c" stroke-width="0.06">Response to mechanical stimulus</text>
<path d="M440.1 498.1 v1.2" stroke="#777" stroke-width="0.4"/>
<text x="440.1" y="504.6" font-size="4.2" text-anchor="middle" fill="#2e2e2e" stroke="#2e2e2e" stroke-width="0.08">0</text>
<path d="M466.8 498.1 v1.2" stroke="#777" stroke-width="0.4"/>
<text x="466.8" y="504.6" font-size="4.2" text-anchor="middle" fill="#2e2e2e" stroke="#2e2e2e" stroke-width="0.08">5</text>
<path d="M493.5 498.1 v1.2" stroke="#777" stroke-width="0.4"/>
<text x="493.5" y="504.6" font-size="4.2" text-anchor="middle" fill="#2e2e2e" stroke="#2e2e2e" stroke-width="0.08">10</text>
<path d="M520.2 498.1 v1.2" stroke="#777" stroke-width="0.4"/>
<text x="520.2" y="504.6" font-size="4.2" text-anchor="middle" fill="#2e2e2e" stroke="#2e2e2e" stroke-width="0.08">15</text>
<text x="479.3" y="419.1" font-size="7.25" text-anchor="middle" fill="#222">Cluster 16</text>
<text x="481.0" y="513.7" font-size="5.5" text-anchor="middle" fill="#333">Enrichment score</text>
<rect x="521.7" y="438.2" width="19" height="50.0" fill="#fff"/>
<text x="530.0" y="444.5" font-size="4.5" text-anchor="middle" fill="#333">FDR p</text>
<text x="530.0" y="449.8" font-size="4.5" text-anchor="middle" fill="#333">value:</text>
<defs><linearGradient id="g16" x1="0" y1="0" x2="0" y2="1"><stop offset="0" stop-color="#fbc4cb"/><stop offset="0.5" stop-color="#f2787a"/><stop offset="1" stop-color="#e8251f"/></linearGradient></defs>
<rect x="522.9" y="455.1" width="5.6" height="29.1" fill="url(#g16)"/>
<text x="534.6" y="456.6" font-size="3.6" text-anchor="middle" fill="#3a3a3a">0.05</text>
<text x="534.6" y="462.3" font-size="3.6" text-anchor="middle" fill="#3a3a3a">0.04</text>
<text x="534.6" y="468.0" font-size="3.6" text-anchor="middle" fill="#3a3a3a">0.03</text>
<text x="534.6" y="473.8" font-size="3.6" text-anchor="middle" fill="#3a3a3a">0.02</text>
<text x="534.6" y="479.5" font-size="3.6" text-anchor="middle" fill="#3a3a3a">0.01</text>
<text x="534.6" y="485.2" font-size="3.6" text-anchor="middle" fill="#3a3a3a">0.00</text>
<path d="M529 423 V498" stroke="#e2e2e2" stroke-width="0.5"/>
</svg>
</body></html>
